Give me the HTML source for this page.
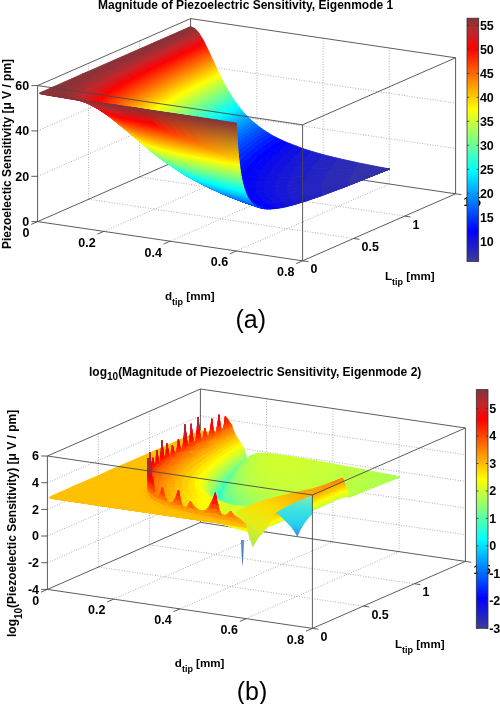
<!DOCTYPE html>
<html><head><meta charset="utf-8"><title>Piezoelectric Sensitivity</title>
<style>
html,body{margin:0;padding:0;background:#fff;width:500px;height:704px;overflow:hidden}
svg{display:block}
g path{fill:currentColor;stroke:currentColor;stroke-width:4.5;stroke-linejoin:round}
.b{stroke:#4a4a4a;stroke-width:.9}
.g{stroke:#8c8c8c;stroke-width:.7;stroke-dasharray:1 1.6}
.t{stroke:#333;stroke-width:.8}
.cb{stroke:#333;stroke-width:.8}
text{font-family:"Liberation Sans",Arial,sans-serif;font-weight:bold;fill:#000}
.tk{font-size:12.5px}
.ti{font-size:12px}
.lb{font-size:11.6px}
.zl{font-size:12px}
.sub{font-size:9px}
.sub2{font-size:10px}
.pl{font-family:"Liberation Sans",sans-serif;font-weight:normal;font-size:25px;text-anchor:middle}
</style></head><body>
<svg width="500" height="704" viewBox="0 0 500 704">
<line class="g" x1="103.8" y1="231.4" x2="256.9" y2="164.4"/>
<line class="g" x1="170.1" y1="241.2" x2="323.1" y2="174.2"/>
<line class="g" x1="236.3" y1="251" x2="389.3" y2="184"/>
<line class="g" x1="88.6" y1="199.3" x2="353.6" y2="238.5"/>
<line class="g" x1="139.6" y1="176.9" x2="404.6" y2="216.1"/>
<line class="g" x1="256.9" y1="164.4" x2="256.9" y2="28.4"/>
<line class="g" x1="323.1" y1="174.2" x2="323.1" y2="38.2"/>
<line class="g" x1="389.3" y1="184" x2="389.3" y2="48"/>
<line class="g" x1="190.6" y1="109.3" x2="455.6" y2="148.5"/>
<line class="g" x1="190.6" y1="63.9" x2="455.6" y2="103.1"/>
<line class="g" x1="88.6" y1="199.3" x2="88.6" y2="63.3"/>
<line class="g" x1="139.6" y1="176.9" x2="139.6" y2="40.9"/>
<line class="g" x1="37.6" y1="176.3" x2="190.6" y2="109.3"/>
<line class="g" x1="37.6" y1="130.9" x2="190.6" y2="63.9"/>
<line class="b" x1="37.6" y1="221.6" x2="190.6" y2="154.6"/>
<line class="b" x1="190.6" y1="154.6" x2="455.6" y2="193.8"/>
<line class="b" x1="190.6" y1="154.6" x2="190.6" y2="18.6"/>
<line class="b" x1="190.6" y1="18.6" x2="455.6" y2="57.8"/>
<line class="b" x1="37.6" y1="85.6" x2="190.6" y2="18.6"/>
<line class="b" x1="455.6" y1="193.8" x2="455.6" y2="57.8"/>
<g transform="scale(.2)"><path color=#0505f6 d="M1424 708l27 11-52 39-33-8z"/>
<path color=#0002ff d="M1400 697l24 11-58 42-29-9z"/>
<path color=#0b0bec d="M1451 719l32 12-46 37-38-10z"/>
<path color=#000fff d="M1378 686l22 11-63 44-26-8z"/>
<path color=#001dff d="M1359 676l19 10-67 47-24-8z"/>
<path color=#1111e2 d="M1483 731l37 14-39 32-44-9z"/>
<path color=#002aff d="M1342 665l17 11-72 49-21-8z"/>
<path color=#0038ff d="M1327 656l15 9-76 52-20-8z"/>
<path color=#1717d8 d="M1520 745l45 14-32 28-52-10z"/>
<path color=#0045ff d="M1312 646l15 10-81 53-18-8z"/>
<path color=#0052ff d="M1299 636l13 10-84 55-17-8z"/>
<path color=#1d1dce d="M1565 759l57 16-26 23-63-11z"/>
<path color=#0060ff d="M1287 627l12 9-88 57-16-8z"/>
<path color=#006dff d="M1276 618l11 9-92 58-15-7z"/>
<path color=#007bff d="M1265 609l11 9-96 60-14-8z"/>
<path color=#2424c2 d="M1622 775l73 18-17 18-82-13z"/>
<path color=#0088ff d="M1255 600l10 9-99 61-14-8z"/>
<path color=#0095ff d="M1246 591l9 9-103 62-12-7z"/>
<path color=#00a3ff d="M1237 582l9 9-106 64-12-8z"/>
<path color=#2a2ab6 d="M1695 793l100 22-8 11-109-15z"/>
<path color=#00b0ff d="M1228 573l9 9-109 65-12-7z"/>
<path color=#00beff d="M1220 564l8 9-112 67-11-8z"/>
<path color=#00cbff d="M1213 556l7 8-115 68-11-7z"/>
<path color=#00d8ff d="M1205 547l8 9-119 69-10-8z"/>
<path color=#00e6ff d="M1199 539l6 8-121 70-10-7z"/>
<path color=#00f3ff d="M1192 530l7 9-125 71-9-7z"/>
<path color=#3131aa d="M1795 815l152 30 0 0-160-19z"/>
<path color=#01fffe d="M1186 522l6 8-127 73-9-8z"/>
<path color=#2424c2 d="M1596 798l82 13-16 17-87-7z"/>
<path color=#2a2ab6 d="M1678 811l109 15-8 10-117-8z"/>
<path color=#0ffff0 d="M1179 513l7 9-130 73-9-7z"/>
<path color=#1d1dce d="M1533 787l63 11-21 23-70-7z"/>
<path color=#1717d8 d="M1481 777l52 10-28 27-57-7z"/>
<path color=#1cffe3 d="M1173 505l6 8-132 75-9-7z"/>
<path color=#3131aa d="M1787 826l160 19 0 0-168-9z"/>
<path color=#1111e2 d="M1437 768l44 9-33 30-49-6z"/>
<path color=#2affd5 d="M1168 496l5 9-135 76-9-8z"/>
<path color=#0b0bec d="M1399 758l38 10-38 33-42-7z"/>
<path color=#37ffc8 d="M1162 488l6 8-139 77-8-7z"/>
<path color=#3131aa d="M1779 836l168 9 0 0-176 1z"/>
<path color=#0505f6 d="M1366 750l33 8-42 36-36-6z"/>
<path color=#44ffbb d="M1157 480l5 8-141 78-8-7z"/>
<path color=#0002ff d="M1337 741l29 9-45 38-33-7z"/>
<path color=#52ffad d="M1152 471l5 9-144 79-8-8z"/>
<path color=#3131aa d="M1771 846l176-1 0 0-183 11z"/>
<path color=#000fff d="M1311 733l26 8-49 40-30-6z"/>
<path color=#5fffa0 d="M1147 463l5 8-147 80-8-7z"/>
<path color=#2a2ab6 d="M1662 828l117 8-8 10-122-1z"/>
<path color=#6dff92 d="M1142 455l5 8-150 81-7-7z"/>
<path color=#001dff d="M1287 725l24 8-53 42-27-7z"/>
<path color=#3131aa d="M1764 856l183-11 0 0-189 20z"/>
<path color=#7aff85 d="M1137 446l5 9-152 82-8-7z"/>
<path color=#002aff d="M1266 717l21 8-56 43-24-6z"/>
<path color=#2424c2 d="M1575 821l87 7-13 17-93-2z"/>
<path color=#87ff78 d="M1132 438l5 8-155 84-7-8z"/>
<path color=#0038ff d="M1246 709l20 8-59 45-23-7z"/>
<path color=#95ff6a d="M1128 430l4 8-157 84-7-7z"/>
<path color=#3131aa d="M1758 865l189-20 0 0-194 30z"/>
<path color=#0045ff d="M1228 701l18 8-62 46-21-7z"/>
<path color=#1d1dce d="M1505 814l70 7-19 22-74-4z"/>
<path color=#a2ff5d d="M1123 422l5 8-160 85-7-7z"/>
<path color=#0052ff d="M1211 693l17 8-65 47-19-6z"/>
<path color=#2a2ab6 d="M1649 845l122 1-7 10-127 5z"/>
<path color=#b0ff4f d="M1119 414l4 8-162 86-7-7z"/>
<path color=#3131aa d="M1753 875l194-30 0 0-199 39z"/>
<path color=#bdff42 d="M1114 405l5 9-165 87-7-7z"/>
<path color=#1717d8 d="M1448 807l57 7-23 25-61-3z"/>
<path color=#0060ff d="M1195 685l16 8-67 49-19-7z"/>
<path color=#caff35 d="M1110 397l4 8-167 89-7-7z"/>
<path color=#3131aa d="M1748 884l199-39 0 0-203 48z"/>
<path color=#006dff d="M1180 678l15 7-70 50-17-6z"/>
<path color=#d8ff27 d="M1106 389l4 8-170 90-7-8z"/>
<path color=#1111e2 d="M1399 801l49 6-27 29-51-4z"/>
<path color=#007bff d="M1166 670l14 8-72 51-17-7z"/>
<path color=#3131aa d="M1744 893l203-48 0 0-207 57z"/>
<path color=#e5ff1a d="M1102 381l4 8-173 90-7-7z"/>
<path color=#2424c2 d="M1556 843l93 2-12 16-96 2z"/>
<path color=#0088ff d="M1152 662l14 8-75 52-15-7z"/>
<path color=#f3ff0c d="M1098 373l4 8-176 91-7-7z"/>
<path color=#0b0bec d="M1357 794l42 7-29 31-45-5z"/>
<path color=#2a2ab6 d="M1637 861l127-5-6 9-131 11z"/>
<path color=#3131aa d="M1740 902l207-57 0 0-210 66z"/>
<path color=#0095ff d="M1140 655l12 7-76 53-15-6z"/>
<path color=#fffe00 d="M1094 365l4 8-179 92-6-7z"/>
<path color=#0505f6 d="M1321 788l36 6-32 33-40-5z"/>
<path color=#3131aa d="M1737 911l210-66 0 0-211 69z"/>
<path color=#fff100 d="M1090 357l4 8-181 93-7-7z"/>
<path color=#00a3ff d="M1128 647l12 8-79 54-14-7z"/>
<path color=#3131aa d="M1736 914l211-69 0 0-212 71z"/>
<path color=#ffe300 d="M1086 348l4 9-184 94-7-7z"/>
<path color=#3131aa d="M1735 916l212-71 0 0-213 74z"/>
<path color=#00b0ff d="M1116 640l12 7-81 55-14-7z"/>
<path color=#1d1dce d="M1482 839l74 4-15 20-77 0z"/>
<path color=#3131aa d="M1734 919l213-74 0 0-213 77z"/>
<path color=#0002ff d="M1288 781l33 7-36 34-35-5z"/>
<path color=#3131aa d="M1734 922l213-77 0 0-214 77z"/>
<path color=#ffd600 d="M1082 340l4 8-187 96-7-7z"/>
<path color=#3131aa d="M1733 922l214-77 0 0-214 78z"/>
<path color=#3131aa d="M1733 923l214-78 0 0-214 79z"/>
<path color=#3131aa d="M1733 924l214-79 0 0-214 80z"/>
<path color=#00beff d="M1105 632l11 8-83 55-13-6z"/>
<path color=#3131aa d="M1733 925l214-80 0 0-214 80z"/>
<path color=#3131aa d="M1733 925l214-80 0 0-214 81z"/>
<path color=#3131aa d="M1733 926l214-81 0 0-215 82z"/>
<path color=#ffc900 d="M1079 332l3 8-190 97-6-7z"/>
<path color=#3131aa d="M1732 927l215-82 0 0-215 83z"/>
<path color=#3131aa d="M1732 928l215-83 0 0-215 83z"/>
<path color=#3131aa d="M1732 928l215-83 0 0-215 84z"/>
<path color=#000fff d="M1258 775l30 6-38 36-32-5z"/>
<path color=#2a2ab6 d="M1627 876l131-11-5 10-133 17z"/>
<path color=#3131aa d="M1732 929l215-84 0 0-215 85z"/>
<path color=#3131aa d="M1732 930l215-85 0 0-215 86z"/>
<path color=#00cbff d="M1094 625l11 7-85 57-12-7z"/>
<path color=#3131aa d="M1732 931l215-86 0 0-215 86z"/>
<path color=#3131aa d="M1732 931l215-86 0 0-216 87z"/>
<path color=#ffbb00 d="M1075 324l4 8-193 98-7-7z"/>
<path color=#1717d8 d="M1421 836l61 3-18 24-63-1z"/>
<path color=#00d8ff d="M1084 617l10 8-86 57-12-7z"/>
<path color=#ffae00 d="M1071 316l4 8-196 99-7-7z"/>
<path color=#2424c2 d="M1541 863l96-2-10 15-98 7z"/>
<path color=#001dff d="M1231 768l27 7-40 37-28-5z"/>
<path color=#ffa000 d="M1067 308l4 8-199 100-7-7z"/>
<path color=#00e6ff d="M1074 610l10 7-88 58-12-6z"/>
<path color=#002aff d="M1207 762l24 6-41 39-27-6z"/>
<path color=#ff9300 d="M1064 300l3 8-202 101-7-7z"/>
<path color=#00f3ff d="M1065 603l9 7-90 59-11-7z"/>
<path color=#1111e2 d="M1370 832l51 4-20 26-54-2z"/>
<path color=#ff8600 d="M1060 292l4 8-206 102-7-7z"/>
<path color=#2a2ab6 d="M1620 892l133-17-5 9-135 22z"/>
<path color=#0038ff d="M1184 755l23 7-44 39-24-5z"/>
<path color=#01fffe d="M1056 595l9 8-92 59-11-7z"/>
<path color=#ff7800 d="M1056 284l4 8-209 103-7-6z"/>
<path color=#0ffff0 d="M1047 588l9 7-94 60-11-7z"/>
<path color=#0045ff d="M1163 748l21 7-45 41-23-6z"/>
<path color=#ff6b00 d="M1052 276l4 8-212 105-7-7z"/>
<path color=#1d1dce d="M1464 863l77 0-12 20-78 3z"/>
<path color=#0b0bec d="M1325 827l45 5-23 28-46-3z"/>
<path color=#1cffe3 d="M1038 581l9 7-96 60-10-6z"/>
<path color=#ff5d00 d="M1049 268l3 8-215 106-8-7z"/>
<path color=#0052ff d="M1144 742l19 6-47 42-21-6z"/>
<path color=#2424c2 d="M1529 883l98-7-7 16-100 9z"/>
<path color=#2affd5 d="M1029 573l9 8-97 61-10-7z"/>
<path color=#ff5000 d="M1045 259l4 9-220 107-7-7z"/>
<path color=#0505f6 d="M1285 822l40 5-24 30-41-3z"/>
<path color=#0060ff d="M1125 735l19 7-49 42-20-6z"/>
<path color=#2a2ab6 d="M1613 906l135-22-4 9-135 27z"/>
<path color=#ff4300 d="M1041 251l4 8-223 109-8-6z"/>
<path color=#37ffc8 d="M1021 566l8 7-98 62-10-7z"/>
<path color=#ff3500 d="M1037 243l4 8-227 111-8-7z"/>
<path color=#006dff d="M1108 729l17 6-50 43-19-6z"/>
<path color=#44ffbb d="M1013 559l8 7-100 62-10-6z"/>
<path color=#1717d8 d="M1401 862l63 1-13 23-65 1z"/>
<path color=#0002ff d="M1250 817l35 5-25 32-37-4z"/>
<path color=#ff2800 d="M1033 235l4 8-231 112-8-6z"/>
<path color=#52ffad d="M1005 551l8 8-102 63-9-7z"/>
<path color=#007bff d="M1091 722l17 7-52 43-17-6z"/>
<path color=#ff1a00 d="M1029 227l4 8-235 114-9-7z"/>
<path color=#5fffa0 d="M997 544l8 7-103 64-9-7z"/>
<path color=#0088ff d="M1076 715l15 7-52 44-17-6z"/>
<path color=#000fff d="M1218 812l32 5-27 33-33-4z"/>
<path color=#ff0d00 d="M1025 219l4 8-240 115-9-6z"/>
<path color=#2a2ab6 d="M1609 920l135-27-4 9-134 32z"/>
<path color=#6dff92 d="M990 537l7 7-104 64-9-7z"/>
<path color=#1111e2 d="M1347 860l54 2-15 25-54-1z"/>
<path color=#1d1dce d="M1451 886l78-3-9 18-79 6z"/>
<path color=#2424c2 d="M1520 901l100-9-7 14-99 13z"/>
<path color=#ff0000 d="M1021 211l4 8-245 117-10-6z"/>
<path color=#0095ff d="M1061 709l15 6-54 45-16-6z"/>
<path color=#7aff85 d="M982 530l8 7-106 64-9-6z"/>
<path color=#001dff d="M1190 807l28 5-28 34-29-5z"/>
<path color=#f20809 d="M1017 202l4 9-251 119-10-6z"/>
<path color=#00a3ff d="M1047 702l14 7-55 45-16-6z"/>
<path color=#87ff78 d="M975 522l7 8-107 65-9-7z"/>
<path color=#e51012 d="M1012 194l5 8-257 122-11-6z"/>
<path color=#002aff d="M1163 801l27 6-29 34-28-4z"/>
<path color=#0b0bec d="M1301 857l46 3-15 26-47-1z"/>
<path color=#00b0ff d="M1033 695l14 7-57 46-14-6z"/>
<path color=#95ff6a d="M968 515l7 7-109 66-9-7z"/>
<path color=#2a2ab6 d="M1606 934l134-32-3 9-132 36z"/>
<path color=#d9171b d="M1007 186l5 8-263 124-12-5z"/>
<path color=#a2ff5d d="M961 508l7 7-111 66-8-6z"/>
<path color=#00beff d="M1020 689l13 6-57 47-14-6z"/>
<path color=#cc1f24 d="M1002 178l5 8-270 127-13-6z"/>
<path color=#0038ff d="M1139 796l24 5-30 36-25-5z"/>
<path color=#1717d8 d="M1386 887l65-1-10 21-64 3z"/>
<path color=#b0ff4f d="M954 501l7 7-112 67-9-7z"/>
<path color=#00cbff d="M1008 682l12 7-58 47-14-7z"/>
<path color=#0505f6 d="M1260 854l41 3-16 28-42-2z"/>
<path color=#bf262c d="M997 169l5 9-278 129-16-4z"/>
<path color=#2424c2 d="M1514 919l99-13-4 14-98 16z"/>
<path color=#2a2ab6 d="M1605 947l132-36-1 3-131 37z"/>
<path color=#0045ff d="M1116 790l23 6-31 36-24-5z"/>
<path color=#bdff42 d="M947 494l7 7-114 67-8-7z"/>
<path color=#00d8ff d="M996 675l12 7-60 47-13-6z"/>
<path color=#1d1dce d="M1441 907l79-6-6 18-78 8z"/>
<path color=#2a2ab6 d="M1605 951l131-37-1 2-130 39z"/>
<path color=#b2292f d="M991 161l6 8-289 134-18-4z"/>
<path color=#caff35 d="M940 487l7 7-115 67-9-6z"/>
<path color=#0052ff d="M1095 784l21 6-32 37-21-6z"/>
<path color=#00e6ff d="M984 669l12 6-61 48-12-6z"/>
<path color=#0002ff d="M1223 850l37 4-17 29-37-3z"/>
<path color=#2a2ab6 d="M1605 955l130-39-1 3-129 40z"/>
<path color=#d8ff27 d="M933 479l7 8-117 68-8-7z"/>
<path color=#a52c31 d="M984 152l7 9-301 138-23-2z"/>
<path color=#1111e2 d="M1332 886l54 1-9 23-54 1z"/>
<path color=#00f3ff d="M973 662l11 7-61 48-13-7z"/>
<path color=#2a2ab6 d="M1605 959l129-40 0 3-129 41z"/>
<path color=#0060ff d="M1075 778l20 6-32 37-21-5z"/>
<path color=#e5ff1a d="M926 472l7 7-118 69-8-7z"/>
<path color=#2a2ab6 d="M1605 963l129-41-1 0-128 42z"/>
<path color=#000fff d="M1190 846l33 4-17 30-33-4z"/>
<path color=#2a2ab6 d="M1605 964l128-42 0 1-127 42z"/>
<path color=#982f34 d="M974 143l10 9-317 145-36 1z"/>
<path color=#01fffe d="M962 655l11 7-63 48-12-6z"/>
<path color=#f3ff0c d="M919 465l7 7-119 69-8-6z"/>
<path color=#2a2ab6 d="M1606 965l127-42 0 1-127 42z"/>
<path color=#006dff d="M1056 772l19 6-33 38-19-5z"/>
<path color=#2a2ab6 d="M1606 966l127-42 0 1-127 43z"/>
<path color=#2424c2 d="M1511 936l98-16-3 14-96 19z"/>
<path color=#2a2ab6 d="M1606 968l127-43 0 0-127 44z"/>
<path color=#0ffff0 d="M951 648l11 7-64 49-11-6z"/>
<path color=#2a2ab6 d="M1606 969l127-44 0 1-127 44z"/>
<path color=#fffe00 d="M913 458l6 7-120 70-9-7z"/>
<path color=#2a2ab6 d="M1606 970l127-44-1 1-126 44z"/>
<path color=#0b0bec d="M1285 885l47 1-9 25-47 0z"/>
<path color=#2a2ab6 d="M1606 971l126-44 0 1-125 44z"/>
<path color=#1717d8 d="M1377 910l64-3-5 20-63 5z"/>
<path color=#007bff d="M1039 766l17 6-33 39-19-6z"/>
<path color=#001dff d="M1161 841l29 5-17 30-30-3z"/>
<path color=#2a2ab6 d="M1607 972l125-44 0 0-125 45z"/>
<path color=#fff100 d="M906 451l7 7-123 70-8-7z"/>
<path color=#1cffe3 d="M941 642l10 6-64 50-11-7z"/>
<path color=#2a2ab6 d="M1607 973l125-45 0 1-125 45z"/>
<path color=#2a2ab6 d="M1607 974l125-45 0 1-125 45z"/>
<path color=#1d1dce d="M1436 927l78-8-3 17-76 10z"/>
<path color=#2a2ab6 d="M1607 975l125-45 0 1-124 45z"/>
<path color=#0088ff d="M1022 760l17 6-35 39-17-6z"/>
<path color=#2a2ab6 d="M1608 976l124-45 0 0-124 46z"/>
<path color=#ffe300 d="M899 444l7 7-124 70-8-6z"/>
<path color=#2affd5 d="M931 635l10 7-65 49-11-6z"/>
<path color=#2a2ab6 d="M1608 977l124-46-1 1-123 47z"/>
<path color=#002aff d="M1133 837l28 4-18 32-27-5z"/>
<path color=#ffd600 d="M892 437l7 7-125 71-8-7z"/>
<path color=#0505f6 d="M1243 883l42 2-9 26-41-2z"/>
<path color=#37ffc8 d="M921 628l10 7-66 50-11-7z"/>
<path color=#0095ff d="M1006 754l16 6-35 39-17-6z"/>
<path color=#ffc900 d="M886 430l6 7-126 71-8-6z"/>
<path color=#2424c2 d="M1510 953l96-19-1 13-93 22z"/>
<path color=#0038ff d="M1108 832l25 5-17 31-26-4z"/>
<path color=#44ffbb d="M911 622l10 6-67 50-10-6z"/>
<path color=#00a3ff d="M990 748l16 6-36 39-15-6z"/>
<path color=#1111e2 d="M1323 911l54-1-4 22-53 2z"/>
<path color=#ffbb00 d="M879 423l7 7-128 72-9-7z"/>
<path color=#52ffad d="M902 615l9 7-67 50-10-7z"/>
<path color=#0002ff d="M1206 880l37 3-8 26-36-2z"/>
<path color=#00b0ff d="M976 742l14 6-35 39-15-5z"/>
<path color=#0045ff d="M1084 827l24 5-18 32-23-5z"/>
<path color=#ffae00 d="M872 416l7 7-130 72-8-6z"/>
<path color=#8b3237 d="M953 133l21 10-343 155-221 73z"/>
<path color=#5fffa0 d="M893 608l9 7-68 50-11-6z"/>
<path color=#00beff d="M962 736l14 6-36 40-15-6z"/>
<path color=#1717d8 d="M1373 932l63-5-1 19-62 6z"/>
<path color=#2424c2 d="M1512 969l93-22 0 4-92 23z"/>
<path color=#ffa000 d="M865 409l7 7-131 73-8-7z"/>
<path color=#1d1dce d="M1435 946l76-10-1 17-73 12z"/>
<path color=#0052ff d="M1063 821l21 6-17 32-22-5z"/>
<path color=#6dff92 d="M884 601l9 7-70 51-9-6z"/>
<path color=#000fff d="M1173 876l33 4-7 27-33-3z"/>
<path color=#0b0bec d="M1276 911l47 0-3 23-46 1z"/>
<path color=#00cbff d="M948 729l14 7-37 40-14-7z"/>
<path color=#ff9300 d="M858 402l7 7-132 73-9-6z"/>
<path color=#2424c2 d="M1513 974l92-23 0 4-90 23z"/>
<path color=#7aff85 d="M875 595l9 6-70 52-10-7z"/>
<path color=#0060ff d="M1042 816l21 5-18 33-21-5z"/>
<path color=#ff8600 d="M851 395l7 7-134 74-8-7z"/>
<path color=#00d8ff d="M935 723l13 6-37 40-13-6z"/>
<path color=#87ff78 d="M866 588l9 7-71 51-10-6z"/>
<path color=#2424c2 d="M1515 978l90-23 0 4-89 24z"/>
<path color=#001dff d="M1143 873l30 3-7 28-30-3z"/>
<path color=#ff7800 d="M844 389l7 6-135 74-9-6z"/>
<path color=#006dff d="M1023 811l19 5-18 33-19-5z"/>
<path color=#00e6ff d="M923 717l12 6-37 40-13-6z"/>
<path color=#95ff6a d="M857 581l9 7-72 52-9-7z"/>
<path color=#0505f6 d="M1235 909l41 2-2 24-40-1z"/>
<path color=#2424c2 d="M1516 983l89-24 0 4-87 25z"/>
<path color=#ff6b00 d="M837 382l7 7-137 74-9-6z"/>
<path color=#1111e2 d="M1320 934l53-2 0 20-51 4z"/>
<path color=#00f3ff d="M910 710l13 7-38 40-13-6z"/>
<path color=#a2ff5d d="M849 575l8 6-72 52-9-6z"/>
<path color=#007bff d="M1004 805l19 6-18 33-18-6z"/>
<path color=#002aff d="M1116 868l27 5-7 28-27-4z"/>
<path color=#2424c2 d="M1518 988l87-25 0 1-86 25z"/>
<path color=#ff5d00 d="M829 375l8 7-139 75-9-6z"/>
<path color=#2424c2 d="M1519 989l86-25 1 1-87 25z"/>
<path color=#1d1dce d="M1437 965l73-12 2 16-69 13z"/>
<path color=#b0ff4f d="M840 568l9 7-73 52-9-7z"/>
<path color=#2424c2 d="M1519 990l87-25 0 1-86 26z"/>
<path color=#01fffe d="M898 704l12 6-38 41-12-6z"/>
<path color=#1717d8 d="M1373 952l62-6 2 19-59 7z"/>
<path color=#0088ff d="M987 799l17 6-17 33-18-5z"/>
<path color=#2424c2 d="M1520 992l86-26 0 2-85 25z"/>
<path color=#ff5000 d="M822 368l7 7-140 76-9-7z"/>
<path color=#2424c2 d="M1521 993l85-25 0 1-85 25z"/>
<path color=#0002ff d="M1199 907l36 2-1 25-35-2z"/>
<path color=#0038ff d="M1090 864l26 4-7 29-24-4z"/>
<path color=#bdff42 d="M832 561l8 7-73 52-10-7z"/>
<path color=#2424c2 d="M1521 994l85-25 0 1-84 26z"/>
<path color=#0ffff0 d="M887 698l11 6-38 41-12-7z"/>
<path color=#2424c2 d="M1522 996l84-26 0 1-83 26z"/>
<path color=#0095ff d="M970 793l17 6-18 34-16-6z"/>
<path color=#ff4300 d="M814 362l8 6-142 76-10-6z"/>
<path color=#2424c2 d="M1523 997l83-26 1 1-83 26z"/>
<path color=#caff35 d="M823 555l9 6-75 52-9-6z"/>
<path color=#0b0bec d="M1274 935l46-1 2 22-43 1z"/>
<path color=#2424c2 d="M1524 998l83-26 0 1-83 27z"/>
<path color=#1cffe3 d="M876 691l11 7-39 40-11-6z"/>
<path color=#0045ff d="M1067 859l23 5-5 29-23-5z"/>
<path color=#2424c2 d="M1524 1000l83-27 0 1-82 27z"/>
<path color=#ff3500 d="M806 355l8 7-144 76-10-6z"/>
<path color=#2424c2 d="M1525 1001l82-27 0 1-81 27z"/>
<path color=#1d1dce d="M1443 982l69-13 1 5-68 14z"/>
<path color=#00a3ff d="M955 787l15 6-17 34-16-6z"/>
<path color=#d8ff27 d="M815 548l8 7-75 52-8-7z"/>
<path color=#000fff d="M1166 904l33 3 0 25-31-2z"/>
<path color=#2424c2 d="M1526 1002l81-27 1 1-81 27z"/>
<path color=#2affd5 d="M865 685l11 6-39 41-11-6z"/>
<path color=#2424c2 d="M1527 1003l81-27 0 1-81 28z"/>
<path color=#2424c2 d="M1527 1005l81-28 0 2-80 27z"/>
<path color=#ff2800 d="M798 349l8 6-146 77-10-6z"/>
<path color=#0052ff d="M1045 854l22 5-5 29-22-5z"/>
<path color=#e5ff1a d="M807 541l8 7-75 52-9-6z"/>
<path color=#00b0ff d="M940 782l15 5-18 34-15-5z"/>
<path color=#37ffc8 d="M854 678l11 7-39 41-11-7z"/>
<path color=#1d1dce d="M1445 988l68-14 2 4-67 15z"/>
<path color=#1111e2 d="M1322 956l51-4 5 20-48 4z"/>
<path color=#f3ff0c d="M799 535l8 6-76 53-9-7z"/>
<path color=#ff1a00 d="M789 342l9 7-148 77-10-6z"/>
<path color=#001dff d="M1136 901l30 3 2 26-29-3z"/>
<path color=#0505f6 d="M1234 934l40 1 5 22-38 0z"/>
<path color=#00beff d="M925 776l15 6-18 34-14-6z"/>
<path color=#44ffbb d="M844 672l10 6-39 41-11-6z"/>
<path color=#0060ff d="M1024 849l21 5-5 29-20-5z"/>
<path color=#1717d8 d="M1378 972l59-7 6 17-55 9z"/>
<path color=#1d1dce d="M1448 993l67-15 1 5-65 15z"/>
<path color=#fffe00 d="M790 528l9 7-77 52-9-6z"/>
<path color=#ff0d00 d="M780 336l9 6-149 78-12-5z"/>
<path color=#52ffad d="M834 665l10 7-40 41-11-6z"/>
<path color=#00cbff d="M911 769l14 7-17 34-14-6z"/>
<path color=#006dff d="M1005 844l19 5-4 29-19-5z"/>
<path color=#fff100 d="M782 521l8 7-77 53-9-7z"/>
<path color=#002aff d="M1109 897l27 4 3 26-25-4z"/>
<path color=#1d1dce d="M1451 998l65-15 2 5-63 15z"/>
<path color=#ff0000 d="M770 330l10 6-152 79-11-6z"/>
<path color=#5fffa0 d="M823 659l11 6-41 42-10-7z"/>
<path color=#00d8ff d="M898 763l13 6-17 35-14-7z"/>
<path color=#0002ff d="M1199 932l35 2 7 23-33-2z"/>
<path color=#ffe300 d="M774 515l8 6-78 53-9-6z"/>
<path color=#1d1dce d="M1455 1003l63-15 1 1-63 16z"/>
<path color=#007bff d="M987 838l18 6-4 29-18-5z"/>
<path color=#0b0bec d="M1279 957l43-1 8 20-40 2z"/>
<path color=#6dff92 d="M814 653l9 6-40 41-10-6z"/>
<path color=#1d1dce d="M1456 1005l63-16 0 1-62 16z"/>
<path color=#f20809 d="M760 324l10 6-153 79-13-5z"/>
<path color=#00e6ff d="M885 757l13 6-18 34-12-6z"/>
<path color=#0038ff d="M1085 893l24 4 5 26-24-4z"/>
<path color=#1d1dce d="M1457 1006l62-16 1 2-62 15z"/>
<path color=#1717d8 d="M1388 991l55-9 2 6-53 8z"/>
<path color=#ffd600 d="M766 508l8 7-79 53-8-6z"/>
<path color=#1d1dce d="M1458 1007l62-15 1 1-62 16z"/>
<path color=#7aff85 d="M804 646l10 7-41 41-10-7z"/>
<path color=#0088ff d="M969 833l18 5-4 30-16-6z"/>
<path color=#1d1dce d="M1459 1009l62-16 0 1-60 16z"/>
<path color=#00f3ff d="M872 751l13 6-17 34-13-6z"/>
<path color=#e51012 d="M749 318l11 6-156 80-13-6z"/>
<path color=#ffc900 d="M758 502l8 6-79 54-9-7z"/>
<path color=#1d1dce d="M1461 1010l60-16 1 2-60 16z"/>
<path color=#000fff d="M1168 930l31 2 9 23-30-2z"/>
<path color=#1111e2 d="M1330 976l48-4 10 19-44 4z"/>
<path color=#0045ff d="M1062 888l23 5 5 26-22-4z"/>
<path color=#1d1dce d="M1462 1012l60-16 1 1-60 16z"/>
<path color=#87ff78 d="M794 640l10 6-41 41-9-6z"/>
<path color=#1717d8 d="M1392 996l53-8 3 5-52 9z"/>
<path color=#0095ff d="M953 827l16 6-2 29-16-5z"/>
<path color=#1d1dce d="M1463 1013l60-16 1 1-60 17z"/>
<path color=#01fffe d="M860 745l12 6-17 34-12-6z"/>
<path color=#ffbb00 d="M749 495l9 7-80 53-9-6z"/>
<path color=#d9171b d="M737 313l12 5-158 80-15-4z"/>
<path color=#1d1dce d="M1464 1015l60-17 0 2-58 16z"/>
<path color=#0505f6 d="M1241 957l38 0 11 21-35 0z"/>
<path color=#95ff6a d="M785 633l9 7-40 41-10-7z"/>
<path color=#1d1dce d="M1466 1016l58-16 1 1-58 16z"/>
<path color=#0ffff0 d="M848 738l12 7-17 34-12-6z"/>
<path color=#0052ff d="M1040 883l22 5 6 27-20-5z"/>
<path color=#1d1dce d="M1467 1017l58-16 1 1-58 17z"/>
<path color=#ffae00 d="M741 489l8 6-80 54-9-7z"/>
<path color=#00a3ff d="M937 821l16 6-2 30-16-6z"/>
<path color=#1717d8 d="M1396 1002l52-9 3 5-50 9z"/>
<path color=#001dff d="M1139 927l29 3 10 23-26-3z"/>
<path color=#1d1dce d="M1468 1019l58-17 1 1-57 17z"/>
<path color=#a2ff5d d="M776 627l9 6-41 41-10-6z"/>
<path color=#cc1f24 d="M724 307l13 6-161 81-16-5z"/>
<path color=#1d1dce d="M1470 1020l57-17 0 2-56 17z"/>
<path color=#1cffe3 d="M837 732l11 6-17 35-11-7z"/>
<path color=#ffa000 d="M733 482l8 7-81 53-9-6z"/>
<path color=#1d1dce d="M1471 1022l56-17 1 1-56 17z"/>
<path color=#00b0ff d="M922 816l15 5-2 30-14-6z"/>
<path color=#0060ff d="M1020 878l20 5 8 27-20-5z"/>
<path color=#b0ff4f d="M767 620l9 7-42 41-9-7z"/>
<path color=#1717d8 d="M1401 1007l50-9 4 5-49 10z"/>
<path color=#1111e2 d="M1344 995l44-4 4 5-43 5z"/>
<path color=#2affd5 d="M826 726l11 6-17 34-11-6z"/>
<path color=#0b0bec d="M1290 978l40-2 14 19-37 3z"/>
<path color=#ff9300 d="M724 476l9 6-82 54-9-7z"/>
<path color=#002aff d="M1114 923l25 4 13 23-24-3z"/>
<path color=#0002ff d="M1208 955l33 2 14 21-31-1z"/>
<path color=#bf262c d="M708 303l16 4-164 82-18-4z"/>
<path color=#00beff d="M908 810l14 6-1 29-14-6z"/>
<path color=#bdff42 d="M757 613l10 7-42 41-9-6z"/>
<path color=#1717d8 d="M1406 1013l49-10 1 2-48 9z"/>
<path color=#006dff d="M1001 873l19 5 8 27-17-5z"/>
<path color=#1717d8 d="M1408 1014l48-9 1 1-48 10z"/>
<path color=#37ffc8 d="M815 719l11 7-17 34-11-7z"/>
<path color=#ff8600 d="M716 469l8 7-82 53-9-6z"/>
<path color=#1717d8 d="M1409 1016l48-10 1 1-47 10z"/>
<path color=#1111e2 d="M1349 1001l43-5 4 6-41 5z"/>
<path color=#caff35 d="M748 607l9 6-41 42-9-7z"/>
<path color=#00cbff d="M894 804l14 6-1 29-13-6z"/>
<path color=#1717d8 d="M1411 1017l47-10 1 2-46 10z"/>
<path color=#0038ff d="M1090 919l24 4 14 24-23-4z"/>
<path color=#b2292f d="M690 299l18 4-166 82-22-3z"/>
<path color=#44ffbb d="M804 713l11 6-17 34-10-6z"/>
<path color=#ff7800 d="M707 463l9 6-83 54-9-6z"/>
<path color=#007bff d="M983 868l18 5 10 27-17-6z"/>
<path color=#1717d8 d="M1413 1019l46-10 2 1-47 10z"/>
<path color=#d8ff27 d="M740 600l8 7-41 41-9-6z"/>
<path color=#000fff d="M1178 953l30 2 16 22-27-2z"/>
<path color=#1717d8 d="M1414 1020l47-10 1 2-46 10z"/>
<path color=#00d8ff d="M880 797l14 7 0 29-13-6z"/>
<path color=#1111e2 d="M1355 1007l41-5 5 5-40 6z"/>
<path color=#1717d8 d="M1416 1022l46-10 1 1-45 10z"/>
<path color=#52ffad d="M793 707l11 6-16 34-11-7z"/>
<path color=#ff6b00 d="M698 457l9 6-83 54-10-7z"/>
<path color=#0505f6 d="M1255 978l35 0 17 20-32 0z"/>
<path color=#e5ff1a d="M731 594l9 6-42 42-9-7z"/>
<path color=#1717d8 d="M1418 1023l45-10 1 2-44 10z"/>
<path color=#0088ff d="M967 862l16 6 11 26-16-5z"/>
<path color=#0045ff d="M1068 915l22 4 15 24-20-4z"/>
<path color=#0b0bec d="M1307 998l37-3 5 6-36 3z"/>
<path color=#00e6ff d="M868 791l12 6 1 30-13-6z"/>
<path color=#1717d8 d="M1420 1025l44-10 2 1-45 10z"/>
<path color=#a52c31 d="M667 297l23 2-170 83-28-1z"/>
<path color=#5fffa0 d="M783 700l10 7-16 33-10-6z"/>
<path color=#ff5d00 d="M689 451l9 6-84 53-9-6z"/>
<path color=#1717d8 d="M1421 1026l45-10 1 1-44 11z"/>
<path color=#f3ff0c d="M722 587l9 7-42 41-9-7z"/>
<path color=#1111e2 d="M1361 1013l40-6 5 6-38 5z"/>
<path color=#001dff d="M1152 950l26 3 19 22-24-3z"/>
<path color=#1717d8 d="M1423 1028l44-11 1 2-43 10z"/>
<path color=#0095ff d="M951 857l16 5 11 27-15-6z"/>
<path color=#00f3ff d="M855 785l13 6 0 30-12-6z"/>
<path color=#1717d8 d="M1425 1029l43-10 2 1-43 11z"/>
<path color=#6dff92 d="M773 694l10 6-16 34-10-7z"/>
<path color=#0052ff d="M1048 910l20 5 17 24-19-5z"/>
<path color=#ff5000 d="M680 444l9 7-84 53-10-6z"/>
<path color=#0b0bec d="M1313 1004l36-3 6 6-35 3z"/>
<path color=#fffe00 d="M713 581l9 6-42 41-9-6z"/>
<path color=#1717d8 d="M1427 1031l43-11 1 2-42 10z"/>
<path color=#1111e2 d="M1368 1018l38-5 2 1-38 6z"/>
<path color=#1717d8 d="M1429 1032l42-10 1 1-41 11z"/>
<path color=#01fffe d="M843 779l12 6 1 30-11-7z"/>
<path color=#1111e2 d="M1370 1020l38-6 1 2-37 5z"/>
<path color=#00a3ff d="M935 851l16 6 12 26-15-6z"/>
<path color=#0002ff d="M1224 977l31 1 20 20-27 0z"/>
<path color=#7aff85 d="M763 687l10 7-16 33-10-6z"/>
<path color=#fff100 d="M704 574l9 7-42 41-9-7z"/>
<path color=#ff4300 d="M670 438l10 6-85 54-10-6z"/>
<path color=#1111e2 d="M1372 1021l37-5 2 1-37 6z"/>
<path color=#0060ff d="M1028 905l20 5 18 24-18-5z"/>
<path color=#002aff d="M1128 947l24 3 21 22-22-3z"/>
<path color=#1111e2 d="M1374 1023l37-6 2 2-37 6z"/>
<path color=#982f34 d="M631 298l36-1-175 84-40 2z"/>
<path color=#0ffff0 d="M831 773l12 6 2 29-12-6z"/>
<path color=#0505f6 d="M1275 998l32 0 6 6-30 0z"/>
<path color=#0b0bec d="M1320 1010l35-3 6 6-33 2z"/>
<path color=#87ff78 d="M754 681l9 6-16 34-9-7z"/>
<path color=#00b0ff d="M921 845l14 6 13 26-13-6z"/>
<path color=#1111e2 d="M1376 1025l37-6 1 1-36 6z"/>
<path color=#ffe300 d="M695 568l9 6-42 41-9-6z"/>
<path color=#ff3500 d="M660 432l10 6-85 54-11-6z"/>
<path color=#1111e2 d="M1378 1026l36-6 2 2-36 6z"/>
<path color=#1cffe3 d="M820 766l11 7 2 29-11-7z"/>
<path color=#006dff d="M1011 900l17 5 20 24-16-5z"/>
<path color=#95ff6a d="M744 674l10 7-16 33-10-6z"/>
<path color=#1111e2 d="M1380 1028l36-6 2 1-36 6z"/>
<path color=#00beff d="M907 839l14 6 14 26-14-6z"/>
<path color=#ffd600 d="M687 562l8 6-42 41-9-7z"/>
<path color=#0038ff d="M1105 943l23 4 23 22-20-4z"/>
<path color=#000fff d="M1197 975l27 2 24 21-25-2z"/>
<path color=#0b0bec d="M1328 1015l33-2 7 5-32 3z"/>
<path color=#1111e2 d="M1382 1029l36-6 2 2-35 6z"/>
<path color=#ff2800 d="M650 426l10 6-86 54-10-6z"/>
<path color=#0505f6 d="M1283 1004l30 0 7 6-29 0z"/>
<path color=#2affd5 d="M809 760l11 6 2 29-10-6z"/>
<path color=#1111e2 d="M1385 1031l35-6 1 1-34 6z"/>
<path color=#a2ff5d d="M734 668l10 6-16 34-9-7z"/>
<path color=#ffc900 d="M678 555l9 7-43 40-9-6z"/>
<path color=#007bff d="M994 894l17 6 21 24-16-6z"/>
<path color=#00cbff d="M894 833l13 6 14 26-12-6z"/>
<path color=#1111e2 d="M1387 1032l34-6 2 2-34 6z"/>
<path color=#0b0bec d="M1336 1021l32-3 2 2-32 3z"/>
<path color=#ff1a00 d="M640 420l10 6-86 54-12-6z"/>
<path color=#0002ff d="M1248 998l27 0 8 6-27 0z"/>
<path color=#1111e2 d="M1389 1034l34-6 2 1-33 6z"/>
<path color=#37ffc8 d="M798 753l11 7 3 29-11-7z"/>
<path color=#b0ff4f d="M725 661l9 7-15 33-9-7z"/>
<path color=#0b0bec d="M1338 1023l32-3 2 1-31 3z"/>
<path color=#0045ff d="M1085 939l20 4 26 22-19-4z"/>
<path color=#1111e2 d="M1392 1035l33-6 2 2-33 6z"/>
<path color=#0505f6 d="M1291 1010l29 0 8 5-28 1z"/>
<path color=#ffbb00 d="M669 549l9 6-43 41-9-7z"/>
<path color=#0b0bec d="M1341 1024l31-3 2 2-31 3z"/>
<path color=#00d8ff d="M881 827l13 6 15 26-12-6z"/>
<path color=#0088ff d="M978 889l16 5 22 24-14-5z"/>
<path color=#001dff d="M1173 972l24 3 26 21-21-3z"/>
<path color=#1111e2 d="M1394 1037l33-6 2 1-32 6z"/>
<path color=#ff0d00 d="M628 415l12 5-88 54-11-6z"/>
<path color=#0b0bec d="M1343 1026l31-3 2 2-30 3z"/>
<path color=#bdff42 d="M716 655l9 6-15 33-9-6z"/>
<path color=#44ffbb d="M788 747l10 6 3 29-10-6z"/>
<path color=#1111e2 d="M1397 1038l32-6 2 2-32 6z"/>
<path color=#ffae00 d="M660 542l9 7-43 40-9-7z"/>
<path color=#0b0bec d="M1346 1028l30-3 2 1-30 3z"/>
<path color=#0002ff d="M1256 1004l27 0 8 6-25 0z"/>
<path color=#00e6ff d="M868 821l13 6 16 26-12-6z"/>
<path color=#0052ff d="M1066 934l19 5 27 22-17-5z"/>
<path color=#0b0bec d="M1348 1029l30-3 2 2-29 3z"/>
<path color=#0095ff d="M963 883l15 6 24 24-14-6z"/>
<path color=#caff35 d="M707 648l9 7-15 33-9-7z"/>
<path color=#0505f6 d="M1300 1016l28-1 8 6-27 1z"/>
<path color=#52ffad d="M777 740l11 7 3 29-10-7z"/>
<path color=#ff0000 d="M617 409l11 6-87 53-12-6z"/>
<path color=#000fff d="M1223 996l25 2 8 6-23-2z"/>
<path color=#0b0bec d="M1351 1031l29-3 2 1-28 3z"/>
<path color=#ffa000 d="M651 536l9 6-43 40-9-6z"/>
<path color=#00f3ff d="M856 815l12 6 17 26-11-7z"/>
<path color=#002aff d="M1151 969l22 3 29 21-19-3z"/>
<path color=#0b0bec d="M1354 1032l28-3 3 2-28 3z"/>
<path color=#d8ff27 d="M698 642l9 6-15 33-9-7z"/>
<path color=#5fffa0 d="M767 734l10 6 4 29-9-6z"/>
<path color=#0505f6 d="M1309 1022l27-1 2 2-26 1z"/>
<path color=#00a3ff d="M948 877l15 6 25 24-13-6z"/>
<path color=#0060ff d="M1048 929l18 5 29 22-16-5z"/>
<path color=#0b0bec d="M1357 1034l28-3 2 1-28 4z"/>
<path color=#0002ff d="M1266 1010l25 0 9 6-24 0z"/>
<path color=#ff9300 d="M642 529l9 7-43 40-9-7z"/>
<path color=#f20809 d="M604 404l13 5-88 53-13-5z"/>
<path color=#0505f6 d="M1312 1024l26-1 3 1-26 2z"/>
<path color=#0b0bec d="M1359 1036l28-4 2 2-27 3z"/>
<path color=#01fffe d="M845 808l11 7 18 25-11-6z"/>
<path color=#e5ff1a d="M689 635l9 7-15 32-9-6z"/>
<path color=#6dff92 d="M757 727l10 7 5 29-10-7z"/>
<path color=#0505f6 d="M1315 1026l26-2 2 2-25 1z"/>
<path color=#000fff d="M1233 1002l23 2 10 6-22-2z"/>
<path color=#0b0bec d="M1362 1037l27-3 3 1-27 4z"/>
<path color=#00b0ff d="M935 871l13 6 27 24-13-6z"/>
<path color=#ff8600 d="M633 523l9 6-43 40-9-6z"/>
<path color=#0505f6 d="M1318 1027l25-1 3 2-25 1z"/>
<path color=#0b0bec d="M1365 1039l27-4 2 2-26 3z"/>
<path color=#001dff d="M1202 993l21 3 10 6-20-2z"/>
<path color=#0038ff d="M1131 965l20 4 32 21-18-4z"/>
<path color=#006dff d="M1032 924l16 5 31 22-15-5z"/>
<path color=#0ffff0 d="M833 802l12 6 18 26-11-7z"/>
<path color=#e51012 d="M591 398l13 6-88 53-14-6z"/>
<path color=#f3ff0c d="M680 628l9 7-15 33-9-7z"/>
<path color=#0505f6 d="M1321 1029l25-1 2 1-24 1z"/>
<path color=#0002ff d="M1276 1016l24 0 9 6-22 0z"/>
<path color=#7aff85 d="M747 721l10 6 5 29-9-7z"/>
<path color=#0b0bec d="M1368 1040l26-3 3 1-26 4z"/>
<path color=#0505f6 d="M1324 1030l24-1 3 2-24 1z"/>
<path color=#ff7800 d="M624 517l9 6-43 40-9-7z"/>
<path color=#0b0bec d="M1371 1042l26-4 2 2-25 3z"/>
<path color=#00beff d="M921 865l14 6 27 24-12-6z"/>
<path color=#1cffe3 d="M822 795l11 7 19 25-10-6z"/>
<path color=#000fff d="M1244 1008l22 2 10 6-21-2z"/>
<path color=#0505f6 d="M1327 1032l24-1 3 1-24 2z"/>
<path color=#fffe00 d="M671 622l9 6-15 33-9-7z"/>
<path color=#87ff78 d="M738 714l9 7 6 28-10-7z"/>
<path color=#007bff d="M1016 918l16 6 32 22-13-5z"/>
<path color=#0002ff d="M1287 1022l22 0 3 2-22-1z"/>
<path color=#d9171b d="M576 394l15 4-89 53-15-5z"/>
<path color=#0045ff d="M1112 961l19 4 34 21-16-4z"/>
<path color=#0505f6 d="M1330 1034l24-2 3 2-24 1z"/>
<path color=#001dff d="M1213 1000l20 2 11 6-20-2z"/>
<path color=#ff6b00 d="M614 510l10 7-43 39-10-6z"/>
<path color=#0002ff d="M1290 1023l22 1 3 2-22-1z"/>
<path color=#00cbff d="M909 859l12 6 29 24-12-6z"/>
<path color=#002aff d="M1183 990l19 3 11 7-19-4z"/>
<path color=#0505f6 d="M1333 1035l24-1 2 2-23 1z"/>
<path color=#2affd5 d="M812 789l10 6 20 26-10-7z"/>
<path color=#fff100 d="M662 615l9 7-15 32-8-7z"/>
<path color=#95ff6a d="M728 708l10 6 5 28-9-6z"/>
<path color=#0002ff d="M1293 1025l22 1 3 1-22 0z"/>
<path color=#0505f6 d="M1336 1037l23-1 3 1-22 2z"/>
<path color=#0088ff d="M1002 913l14 5 35 23-13-6z"/>
<path color=#0002ff d="M1296 1027l22 0 3 2-21-1z"/>
<path color=#ff5d00 d="M605 504l9 6-43 40-10-7z"/>
<path color=#000fff d="M1255 1014l21 2 11 6-20-2z"/>
<path color=#00d8ff d="M897 853l12 6 29 24-11-6z"/>
<path color=#cc1f24 d="M560 389l16 5-89 52-17-5z"/>
<path color=#0505f6 d="M1340 1039l22-2 3 2-22 1z"/>
<path color=#37ffc8 d="M801 782l11 7 20 25-10-6z"/>
<path color=#ffe300 d="M653 609l9 6-14 32-9-6z"/>
<path color=#a2ff5d d="M719 701l9 7 6 28-9-7z"/>
<path color=#0052ff d="M1095 956l17 5 37 21-15-5z"/>
<path color=#0002ff d="M1300 1028l21 1 3 1-21 0z"/>
<path color=#001dff d="M1224 1006l20 2 11 6-18-2z"/>
<path color=#0505f6 d="M1343 1040l22-1 3 1-22 2z"/>
<path color=#0002ff d="M1303 1030l21 0 3 2-20 0z"/>
<path color=#002aff d="M1194 996l19 4 11 6-17-3z"/>
<path color=#0038ff d="M1165 986l18 4 11 6-16-3z"/>
<path color=#0095ff d="M988 907l14 6 36 22-13-6z"/>
<path color=#ff5000 d="M595 498l10 6-44 39-9-6z"/>
<path color=#0505f6 d="M1346 1042l22-2 3 2-21 1z"/>
<path color=#000fff d="M1267 1020l20 2 3 1-19-1z"/>
<path color=#00e6ff d="M885 847l12 6 30 24-10-7z"/>
<path color=#ffd600 d="M644 602l9 7-14 32-9-7z"/>
<path color=#44ffbb d="M791 776l10 6 21 26-9-7z"/>
<path color=#b0ff4f d="M710 694l9 7 6 28-8-7z"/>
<path color=#0002ff d="M1307 1032l20 0 3 2-20-1z"/>
<path color=#0505f6 d="M1350 1043l21-1 3 1-21 2z"/>
<path color=#000fff d="M1271 1022l19 1 3 2-19-1z"/>
<path color=#bf262c d="M542 385l18 4-90 52-18-4z"/>
<path color=#8b3237 d="M410 371l221-73-179 85-198 57z"/>
<path color=#0002ff d="M1310 1033l20 1 3 1-19 0z"/>
<path color=#0060ff d="M1079 951l16 5 39 21-13-5z"/>
<path color=#000fff d="M1274 1024l19 1 3 2-18-2z"/>
<path color=#ff4300 d="M585 492l10 6-43 39-10-6z"/>
<path color=#ffc900 d="M635 596l9 6-14 32-8-7z"/>
<path color=#bdff42 d="M701 688l9 6 7 28-9-7z"/>
<path color=#52ffad d="M781 769l10 7 22 25-10-7z"/>
<path color=#00a3ff d="M975 901l13 6 37 22-12-6z"/>
<path color=#00f3ff d="M874 840l11 7 32 23-11-6z"/>
<path color=#0002ff d="M1314 1035l19 0 3 2-19 0z"/>
<path color=#001dff d="M1237 1012l18 2 12 6-17-2z"/>
<path color=#000fff d="M1278 1025l18 2 4 1-18-1z"/>
<path color=#002aff d="M1207 1003l17 3 13 6-17-3z"/>
<path color=#0045ff d="M1149 982l16 4 13 7-16-5z"/>
<path color=#0002ff d="M1317 1037l19 0 4 2-19-1z"/>
<path color=#0038ff d="M1178 993l16 3 13 7-16-4z"/>
<path color=#000fff d="M1282 1027l18 1 3 2-18-1z"/>
<path color=#caff35 d="M692 681l9 7 7 27-9-7z"/>
<path color=#ffbb00 d="M626 589l9 7-13 31-9-7z"/>
<path color=#5fffa0 d="M772 763l9 6 22 25-9-7z"/>
<path color=#ff3500 d="M574 486l11 6-43 39-11-7z"/>
<path color=#0002ff d="M1321 1038l19 1 3 1-18 0z"/>
<path color=#01fffe d="M863 834l11 6 32 24-10-7z"/>
<path color=#006dff d="M1064 946l15 5 42 21-13-5z"/>
<path color=#00b0ff d="M962 895l13 6 38 22-11-6z"/>
<path color=#001dff d="M1250 1018l17 2 4 2-17-2z"/>
<path color=#000fff d="M1285 1029l18 1 4 2-18-2z"/>
<path color=#b2292f d="M520 382l22 3-90 52-22-4z"/>
<path color=#0002ff d="M1325 1040l18 0 3 2-17 0z"/>
<path color=#001dff d="M1254 1020l17 2 3 2-16-3z"/>
<path color=#000fff d="M1289 1030l18 2 3 1-17-1z"/>
<path color=#d8ff27 d="M683 674l9 7 7 27-8-7z"/>
<path color=#6dff92 d="M762 756l10 7 22 24-9-6z"/>
<path color=#ffae00 d="M617 582l9 7-13 31-9-6z"/>
<path color=#0002ff d="M1329 1042l17 0 4 1-18 0z"/>
<path color=#0ffff0 d="M852 827l11 7 33 23-9-6z"/>
<path color=#ff2800 d="M564 480l10 6-43 38-10-6z"/>
<path color=#0052ff d="M1134 977l15 5 13 6-14-4z"/>
<path color=#001dff d="M1258 1021l16 3 4 1-16-2z"/>
<path color=#002aff d="M1220 1009l17 3 13 6-16-3z"/>
<path color=#000fff d="M1293 1032l17 1 4 2-17-1z"/>
<path color=#00beff d="M950 889l12 6 40 22-10-6z"/>
<path color=#0045ff d="M1162 988l16 5 13 6-14-4z"/>
<path color=#0038ff d="M1191 999l16 4 13 6-15-4z"/>
<path color=#0002ff d="M1332 1043l18 0 3 2-17 0z"/>
<path color=#007bff d="M1051 941l13 5 44 21-12-5z"/>
<path color=#001dff d="M1262 1023l16 2 4 2-16-2z"/>
<path color=#000fff d="M1297 1034l17 1 3 2-16-2z"/>
<path color=#e5ff1a d="M674 668l9 6 8 27-9-6z"/>
<path color=#7aff85 d="M753 749l9 7 23 25-8-7z"/>
<path color=#ffa000 d="M608 576l9 6-13 32-9-7z"/>
<path color=#1cffe3 d="M842 821l10 6 35 24-10-7z"/>
<path color=#001dff d="M1266 1025l16 2 3 2-15-3z"/>
<path color=#ff1a00 d="M552 474l12 6-43 38-12-7z"/>
<path color=#000fff d="M1301 1035l16 2 4 1-16-1z"/>
<path color=#002aff d="M1234 1015l16 3 4 2-15-4z"/>
<path color=#00cbff d="M938 883l12 6 42 22-11-6z"/>
<path color=#a52c31 d="M492 381l28 1-90 51-28-3z"/>
<path color=#0060ff d="M1121 972l13 5 14 7-12-5z"/>
<path color=#001dff d="M1270 1026l15 3 4 1-15-2z"/>
<path color=#000fff d="M1305 1037l16 1 4 2-16-1z"/>
<path color=#f3ff0c d="M665 661l9 7 8 27-8-7z"/>
<path color=#0088ff d="M1038 935l13 6 45 21-11-6z"/>
<path color=#87ff78 d="M743 742l10 7 24 25-9-7z"/>
<path color=#002aff d="M1239 1016l15 4 4 1-15-3z"/>
<path color=#ff9300 d="M599 569l9 7-13 31-9-7z"/>
<path color=#0052ff d="M1148 984l14 4 15 7-13-5z"/>
<path color=#2affd5 d="M832 814l10 7 35 23-9-7z"/>
<path color=#0045ff d="M1177 995l14 4 14 6-13-4z"/>
<path color=#0038ff d="M1205 1005l15 4 14 6-13-4z"/>
<path color=#001dff d="M1274 1028l15 2 4 2-15-2z"/>
<path color=#000fff d="M1309 1039l16 1 4 2-16-2z"/>
<path color=#002aff d="M1243 1018l15 3 4 2-15-3z"/>
<path color=#ff0d00 d="M541 468l11 6-43 37-11-6z"/>
<path color=#00d8ff d="M927 877l11 6 43 22-9-7z"/>
<path color=#000fff d="M1313 1040l16 2 3 1-14-1z"/>
<path color=#001dff d="M1278 1030l15 2 4 2-15-3z"/>
<path color=#fffe00 d="M656 654l9 7 9 27-9-7z"/>
<path color=#95ff6a d="M734 736l9 6 25 25-9-7z"/>
<path color=#002aff d="M1247 1020l15 3 4 2-14-3z"/>
<path color=#ff8600 d="M590 563l9 6-13 31-9-7z"/>
<path color=#37ffc8 d="M822 808l10 6 36 23-9-7z"/>
<path color=#0095ff d="M1025 929l13 6 47 21-11-6z"/>
<path color=#006dff d="M1108 967l13 5 15 7-12-5z"/>
<path color=#000fff d="M1318 1042l14 1 4 2-14-1z"/>
<path color=#001dff d="M1282 1031l15 3 4 1-14-2z"/>
<path color=#0038ff d="M1221 1011l13 4 5 1-14-3z"/>
<path color=#002aff d="M1252 1022l14 3 4 1-14-3z"/>
<path color=#0060ff d="M1136 979l12 5 16 6-12-5z"/>
<path color=#00e6ff d="M917 870l10 7 45 21-10-6z"/>
<path color=#ff0000 d="M529 462l12 6-43 37-12-6z"/>
<path color=#fff100 d="M648 647l8 7 9 27-8-7z"/>
<path color=#001dff d="M1287 1033l14 2 4 2-14-2z"/>
<path color=#a2ff5d d="M725 729l9 7 25 24-8-7z"/>
<path color=#0052ff d="M1164 990l13 5 15 6-12-5z"/>
<path color=#0038ff d="M1225 1013l14 3 4 2-13-3z"/>
<path color=#002aff d="M1256 1023l14 3 4 2-13-3z"/>
<path color=#ff7800 d="M581 556l9 7-13 30-9-7z"/>
<path color=#0045ff d="M1192 1001l13 4 16 6-13-4z"/>
<path color=#44ffbb d="M813 801l9 7 37 22-8-7z"/>
<path color=#001dff d="M1291 1035l14 2 4 2-13-3z"/>
<path color=#00a3ff d="M1013 923l12 6 49 21-10-6z"/>
<path color=#982f34 d="M452 383l40-2-90 49-39 0z"/>
<path color=#0038ff d="M1230 1015l13 3 4 2-13-4z"/>
<path color=#002aff d="M1261 1025l13 3 4 2-13-3z"/>
<path color=#007bff d="M1096 962l12 5 16 7-12-6z"/>
<path color=#ffe300 d="M639 641l9 6 9 27-8-7z"/>
<path color=#b0ff4f d="M717 722l8 7 26 24-8-7z"/>
<path color=#00f3ff d="M906 864l11 6 45 22-9-7z"/>
<path color=#001dff d="M1296 1036l13 3 4 1-13-2z"/>
<path color=#f20809 d="M516 457l13 5-43 37-13-6z"/>
<path color=#0038ff d="M1234 1016l13 4 5 2-13-4z"/>
<path color=#002aff d="M1265 1027l13 3 4 1-12-3z"/>
<path color=#ff6b00 d="M571 550l10 6-13 30-9-6z"/>
<path color=#52ffad d="M803 794l10 7 38 22-9-6z"/>
<path color=#006dff d="M1124 974l12 5 16 6-12-5z"/>
<path color=#0045ff d="M1208 1007l13 4 4 2-12-4z"/>
<path color=#001dff d="M1300 1038l13 2 5 2-13-2z"/>
<path color=#0038ff d="M1239 1018l13 4 4 1-12-3z"/>
<path color=#002aff d="M1270 1028l12 3 5 2-13-3z"/>
<path color=#0060ff d="M1152 985l12 5 16 6-11-5z"/>
<path color=#00b0ff d="M1002 917l11 6 51 21-9-6z"/>
<path color=#ffd600 d="M630 634l9 7 10 26-9-7z"/>
<path color=#bdff42 d="M708 715l9 7 26 24-8-7z"/>
<path color=#001dff d="M1305 1040l13 2 4 2-12-3z"/>
<path color=#0045ff d="M1213 1009l12 4 5 2-12-5z"/>
<path color=#0052ff d="M1180 996l12 5 16 6-11-5z"/>
<path color=#01fffe d="M896 857l10 7 47 21-9-6z"/>
<path color=#0088ff d="M1085 956l11 6 16 6-10-6z"/>
<path color=#0038ff d="M1244 1020l12 3 5 2-12-4z"/>
<path color=#002aff d="M1274 1030l13 3 4 2-12-3z"/>
<path color=#ff5d00 d="M561 543l10 7-12 30-9-7z"/>
<path color=#5fffa0 d="M794 787l9 7 39 23-8-7z"/>
<path color=#e51012 d="M502 451l14 6-43 36-13-6z"/>
<path color=#0045ff d="M1218 1010l12 5 4 1-11-4z"/>
<path color=#0038ff d="M1249 1021l12 4 4 2-11-4z"/>
<path color=#002aff d="M1279 1032l12 3 5 1-12-3z"/>
<path color=#007bff d="M1112 968l12 6 16 6-10-6z"/>
<path color=#ffc900 d="M622 627l8 7 10 26-8-7z"/>
<path color=#caff35 d="M699 708l9 7 27 24-8-7z"/>
<path color=#00beff d="M992 911l10 6 53 21-9-6z"/>
<path color=#0045ff d="M1223 1012l11 4 5 2-11-4z"/>
<path color=#0ffff0 d="M887 851l9 6 48 22-8-7z"/>
<path color=#0052ff d="M1197 1002l11 5 5 2-11-5z"/>
<path color=#6dff92 d="M785 781l9 6 40 23-8-7z"/>
<path color=#002aff d="M1284 1033l12 3 4 2-11-3z"/>
<path color=#006dff d="M1140 980l12 5 17 6-11-5z"/>
<path color=#0038ff d="M1254 1023l11 4 5 1-11-3z"/>
<path color=#ff5000 d="M552 537l9 6-11 30-10-7z"/>
<path color=#0095ff d="M1074 950l11 6 17 6-10-5z"/>
<path color=#0045ff d="M1228 1014l11 4 5 2-11-4z"/>
<path color=#0060ff d="M1169 991l11 5 17 6-11-5z"/>
<path color=#0052ff d="M1202 1004l11 5 5 1-11-4z"/>
<path color=#002aff d="M1289 1035l11 3 5 2-11-3z"/>
<path color=#d8ff27 d="M691 701l8 7 28 24-8-7z"/>
<path color=#0038ff d="M1259 1025l11 3 4 2-10-3z"/>
<path color=#ffbb00 d="M613 620l9 7 10 26-8-7z"/>
<path color=#d9171b d="M487 446l15 5-42 36-15-6z"/>
<path color=#1cffe3 d="M877 844l10 7 49 21-9-7z"/>
<path color=#0045ff d="M1233 1016l11 4 5 1-11-4z"/>
<path color=#0088ff d="M1102 962l10 6 18 6-10-5z"/>
<path color=#00cbff d="M981 905l11 6 54 21-9-6z"/>
<path color=#7aff85 d="M777 774l8 7 41 22-8-7z"/>
<path color=#0052ff d="M1207 1006l11 4 5 2-11-4z"/>
<path color=#002aff d="M1294 1037l11 3 5 1-11-3z"/>
<path color=#0038ff d="M1264 1027l10 3 5 2-10-4z"/>
<path color=#ff4300 d="M542 531l10 6-12 29-10-7z"/>
<path color=#0045ff d="M1238 1017l11 4 5 2-11-4z"/>
<path color=#007bff d="M1130 974l10 6 18 6-10-5z"/>
<path color=#e5ff1a d="M682 695l9 6 28 24-8-7z"/>
<path color=#ffae00 d="M604 614l9 6 11 26-9-7z"/>
<path color=#00a3ff d="M1064 944l10 6 18 7-9-6z"/>
<path color=#0052ff d="M1212 1008l11 4 5 2-10-5z"/>
<path color=#0038ff d="M1269 1028l10 4 5 1-10-3z"/>
<path color=#0060ff d="M1186 997l11 5 5 2-10-5z"/>
<path color=#2affd5 d="M868 837l9 7 50 21-8-7z"/>
<path color=#87ff78 d="M768 767l9 7 41 22-8-7z"/>
<path color=#006dff d="M1158 986l11 5 17 6-9-5z"/>
<path color=#0045ff d="M1243 1019l11 4 5 2-11-4z"/>
<path color=#cc1f24 d="M470 441l17 5-42 35-16-6z"/>
<path color=#00d8ff d="M972 898l9 7 56 21-8-7z"/>
<path color=#0038ff d="M1274 1030l10 3 5 2-10-3z"/>
<path color=#0052ff d="M1218 1009l10 5 5 2-10-5z"/>
<path color=#0060ff d="M1192 999l10 5 5 2-10-5z"/>
<path color=#ff3500 d="M531 524l11 7-12 28-10-6z"/>
<path color=#0095ff d="M1092 957l10 5 18 7-9-6z"/>
<path color=#f3ff0c d="M674 688l8 7 29 23-8-7z"/>
<path color=#0045ff d="M1248 1021l11 4 5 2-10-5z"/>
<path color=#ffa000 d="M595 607l9 7 11 25-8-7z"/>
<path color=#0038ff d="M1279 1032l10 3 5 2-10-4z"/>
<path color=#0052ff d="M1223 1011l10 5 5 1-10-4z"/>
<path color=#0060ff d="M1197 1001l10 5 5 2-9-5z"/>
<path color=#00b0ff d="M1055 938l9 6 19 7-9-6z"/>
<path color=#37ffc8 d="M859 830l9 7 51 21-7-6z"/>
<path color=#95ff6a d="M759 760l9 7 42 22-8-7z"/>
<path color=#0088ff d="M1120 969l10 5 18 7-9-6z"/>
<path color=#0045ff d="M1254 1022l10 5 5 1-10-4z"/>
<path color=#0038ff d="M1284 1033l10 4 5 1-9-3z"/>
<path color=#006dff d="M1177 992l9 5 6 2-10-5z"/>
<path color=#00e6ff d="M962 892l10 6 57 21-8-6z"/>
<path color=#0052ff d="M1228 1013l10 4 5 2-9-4z"/>
<path color=#0060ff d="M1203 1003l9 5 6 1-10-5z"/>
<path color=#ff2800 d="M521 518l10 6-11 29-10-7z"/>
<path color=#fffe00 d="M665 681l9 7 29 23-8-7z"/>
<path color=#007bff d="M1148 981l10 5 19 6-9-5z"/>
<path color=#ff9300 d="M586 600l9 7 12 25-9-7z"/>
<path color=#0045ff d="M1259 1024l10 4 5 2-9-4z"/>
<path color=#bf262c d="M452 437l18 4-41 34-18-5z"/>
<path color=#00a3ff d="M1083 951l9 6 19 6-9-6z"/>
<path color=#006dff d="M1182 994l10 5 5 2-9-5z"/>
<path color=#0052ff d="M1234 1015l9 4 5 2-9-5z"/>
<path color=#0060ff d="M1208 1004l10 5 5 2-9-5z"/>
<path color=#a2ff5d d="M751 753l8 7 43 22-8-7z"/>
<path color=#44ffbb d="M851 823l8 7 53 22-8-7z"/>
<path color=#00beff d="M1046 932l9 6 19 7-9-7z"/>
<path color=#0045ff d="M1265 1026l9 4 5 2-9-4z"/>
<path color=#0095ff d="M1111 963l9 6 19 6-8-6z"/>
<path color=#00f3ff d="M953 885l9 7 59 21-8-7z"/>
<path color=#0052ff d="M1239 1016l9 5 6 1-9-4z"/>
<path color=#006dff d="M1188 996l9 5 6 2-9-5z"/>
<path color=#fff100 d="M657 674l8 7 30 23-8-8z"/>
<path color=#0060ff d="M1214 1006l9 5 5 2-8-5z"/>
<path color=#ff1a00 d="M509 511l12 7-11 28-11-7z"/>
<path color=#ff8600 d="M577 593l9 7 12 25-8-7z"/>
<path color=#0045ff d="M1270 1028l9 4 5 1-8-4z"/>
<path color=#007bff d="M1168 987l9 5 5 2-8-5z"/>
<path color=#b0ff4f d="M743 746l8 7 43 22-7-8z"/>
<path color=#00b0ff d="M1074 945l9 6 19 6-8-6z"/>
<path color=#0052ff d="M1245 1018l9 4 5 2-8-4z"/>
<path color=#006dff d="M1194 998l9 5 5 1-8-5z"/>
<path color=#52ffad d="M842 817l9 6 53 22-8-7z"/>
<path color=#0088ff d="M1139 975l9 6 20 6-8-6z"/>
<path color=#0060ff d="M1220 1008l8 5 6 2-9-5z"/>
<path color=#0045ff d="M1276 1029l8 4 6 2-8-4z"/>
<path color=#00cbff d="M1037 926l9 6 19 6-8-6z"/>
<path color=#b2292f d="M430 433l22 4-41 33-21-5z"/>
<path color=#007bff d="M1174 989l8 5 6 2-8-6z"/>
<path color=#ffe300 d="M649 667l8 7 30 22-8-7z"/>
<path color=#01fffe d="M944 879l9 6 60 21-7-7z"/>
<path color=#0052ff d="M1251 1020l8 4 6 2-8-5z"/>
<path color=#006dff d="M1200 999l8 5 6 2-8-5z"/>
<path color=#ff7800 d="M568 586l9 7 13 25-9-7z"/>
<path color=#0060ff d="M1225 1010l9 5 5 1-8-5z"/>
<path color=#ff0d00 d="M498 505l11 6-10 28-11-7z"/>
<path color=#00a3ff d="M1102 957l9 6 20 6-8-6z"/>
<path color=#bdff42 d="M735 739l8 7 44 21-8-7z"/>
<path color=#007bff d="M1180 990l8 6 6 2-8-6z"/>
<path color=#5fffa0 d="M834 810l8 7 54 21-7-7z"/>
<path color=#0052ff d="M1257 1021l8 5 5 2-7-5z"/>
<path color=#006dff d="M1206 1001l8 5 6 2-9-5z"/>
<path color=#0060ff d="M1231 1011l8 5 6 2-8-5z"/>
<path color=#00beff d="M1065 938l9 7 20 6-8-6z"/>
<path color=#0088ff d="M1160 981l8 6 6 2-8-6z"/>
<path color=#ffd600 d="M640 660l9 7 30 22-8-7z"/>
<path color=#0095ff d="M1131 969l8 6 21 6-8-5z"/>
<path color=#00d8ff d="M1029 919l8 7 20 6-7-6z"/>
<path color=#007bff d="M1186 992l8 6 6 1-8-5z"/>
<path color=#0ffff0 d="M936 872l8 7 62 20-7-6z"/>
<path color=#ff6b00 d="M559 580l9 6 13 25-9-7z"/>
<path color=#0052ff d="M1263 1023l7 5 6 1-8-4z"/>
<path color=#006dff d="M1211 1003l9 5 5 2-7-5z"/>
<path color=#0060ff d="M1237 1013l8 5 6 2-8-5z"/>
<path color=#ff0000 d="M486 499l12 6-10 27-12-6z"/>
<path color=#caff35 d="M727 732l8 7 44 21-7-7z"/>
<path color=#0088ff d="M1166 983l8 6 6 1-8-5z"/>
<path color=#6dff92 d="M826 803l8 7 55 21-7-7z"/>
<path color=#00b0ff d="M1094 951l8 6 21 6-8-6z"/>
<path color=#007bff d="M1192 994l8 5 6 2-8-5z"/>
<path color=#0052ff d="M1268 1025l8 4 6 2-7-4z"/>
<path color=#006dff d="M1218 1005l7 5 6 1-7-5z"/>
<path color=#0060ff d="M1243 1015l8 5 6 1-8-4z"/>
<path color=#ffc900 d="M632 653l8 7 31 22-8-7z"/>
<path color=#a52c31 d="M402 430l28 3-40 32-27-5z"/>
<path color=#00cbff d="M1057 932l8 6 21 7-7-7z"/>
<path color=#0088ff d="M1172 985l8 5 6 2-8-5z"/>
<path color=#ff5d00 d="M550 573l9 7 13 24-9-8z"/>
<path color=#1cffe3 d="M927 865l9 7 63 21-7-7z"/>
<path color=#007bff d="M1198 996l8 5 5 2-7-5z"/>
<path color=#00e6ff d="M1021 913l8 6 21 7-8-7z"/>
<path color=#0095ff d="M1152 976l8 5 6 2-8-6z"/>
<path color=#8b3237 d="M254 440l198-57-89 47-154 30z"/>
<path color=#00a3ff d="M1123 963l8 6 21 7-7-6z"/>
<path color=#d8ff27 d="M719 725l8 7 45 21-7-7z"/>
<path color=#006dff d="M1224 1006l7 5 6 2-7-5z"/>
<path color=#0060ff d="M1249 1017l8 4 6 2-8-5z"/>
<path color=#7aff85 d="M818 796l8 7 56 21-7-8z"/>
<path color=#f20809 d="M473 493l13 6-10 27-12-7z"/>
<path color=#0088ff d="M1178 987l8 5 6 2-8-6z"/>
<path color=#007bff d="M1204 998l7 5 7 2-8-6z"/>
<path color=#00beff d="M1086 945l8 6 21 6-7-6z"/>
<path color=#ffbb00 d="M624 646l8 7 31 22-7-7z"/>
<path color=#0095ff d="M1158 977l8 6 6 2-7-6z"/>
<path color=#006dff d="M1230 1008l7 5 6 2-7-5z"/>
<path color=#0060ff d="M1255 1018l8 5 5 2-6-5z"/>
<path color=#0088ff d="M1184 988l8 6 6 2-7-6z"/>
<path color=#00d8ff d="M1050 926l7 6 22 6-7-6z"/>
<path color=#ff5000 d="M540 566l10 7 13 23-9-7z"/>
<path color=#2affd5 d="M919 858l8 7 65 21-7-7z"/>
<path color=#e5ff1a d="M711 718l8 7 46 21-8-7z"/>
<path color=#00f3ff d="M1013 906l8 7 21 6-7-7z"/>
<path color=#007bff d="M1210 999l8 6 6 1-7-5z"/>
<path color=#0095ff d="M1165 979l7 6 6 2-7-6z"/>
<path color=#87ff78 d="M810 789l8 7 57 20-7-7z"/>
<path color=#006dff d="M1236 1010l7 5 6 2-6-5z"/>
<path color=#0060ff d="M1262 1020l6 5 7 2-7-5z"/>
<path color=#00b0ff d="M1115 957l8 6 22 7-7-7z"/>
<path color=#00a3ff d="M1145 970l7 6 6 1-7-6z"/>
<path color=#0088ff d="M1191 990l7 6 6 2-7-6z"/>
<path color=#e51012 d="M460 487l13 6-9 26-13-7z"/>
<path color=#ffae00 d="M615 639l9 7 32 22-8-8z"/>
<path color=#007bff d="M1217 1001l7 5 6 2-7-5z"/>
<path color=#0095ff d="M1171 981l7 6 6 1-6-5z"/>
<path color=#00cbff d="M1079 938l7 7 22 6-7-6z"/>
<path color=#006dff d="M1243 1012l6 5 6 1-6-5z"/>
<path color=#ff4300 d="M530 559l10 7 14 23-9-7z"/>
<path color=#00a3ff d="M1151 971l7 6 7 2-7-6z"/>
<path color=#f3ff0c d="M703 711l8 7 46 21-7-8z"/>
<path color=#37ffc8 d="M912 852l7 6 66 21-6-7z"/>
<path color=#0088ff d="M1197 992l7 6 6 1-6-5z"/>
<path color=#00e6ff d="M1042 919l8 7 22 6-7-7z"/>
<path color=#982f34 d="M363 430l39 0-39 30-36-3z"/>
<path color=#95ff6a d="M802 782l8 7 58 20-7-7z"/>
<path color=#01fffe d="M1006 899l7 7 22 6-7-6z"/>
<path color=#007bff d="M1223 1003l7 5 6 2-6-5z"/>
<path color=#0095ff d="M1178 983l6 5 7 2-7-6z"/>
<path color=#006dff d="M1249 1013l6 5 7 2-6-5z"/>
<path color=#ffa000 d="M607 632l8 7 33 21-8-7z"/>
<path color=#00a3ff d="M1158 973l7 6 6 2-7-6z"/>
<path color=#00beff d="M1108 951l7 6 23 6-7-6z"/>
<path color=#0088ff d="M1204 994l6 5 7 2-6-6z"/>
<path color=#00b0ff d="M1138 963l7 7 6 1-6-6z"/>
<path color=#d9171b d="M445 481l15 6-9 25-14-6z"/>
<path color=#007bff d="M1230 1005l6 5 7 2-6-6z"/>
<path color=#fffe00 d="M695 704l8 7 47 20-7-7z"/>
<path color=#0095ff d="M1184 984l7 6 6 2-6-6z"/>
<path color=#ff3500 d="M520 553l10 6 15 23-10-7z"/>
<path color=#006dff d="M1256 1015l6 5 6 2-6-5z"/>
<path color=#00d8ff d="M1072 932l7 6 22 7-6-7z"/>
<path color=#44ffbb d="M904 845l8 7 67 20-6-7z"/>
<path color=#00a3ff d="M1164 975l7 6 7 2-7-6z"/>
<path color=#a2ff5d d="M794 775l8 7 59 20-6-7z"/>
<path color=#00f3ff d="M1035 912l7 7 23 6-7-6z"/>
<path color=#0088ff d="M1211 995l6 6 6 2-6-6z"/>
<path color=#00b0ff d="M1145 965l6 6 7 2-7-6z"/>
<path color=#0ffff0 d="M999 893l7 6 22 7-6-7z"/>
<path color=#ff9300 d="M598 625l9 7 33 21-8-7z"/>
<path color=#007bff d="M1237 1006l6 6 6 1-6-5z"/>
<path color=#0095ff d="M1191 986l6 6 7 2-6-6z"/>
<path color=#00a3ff d="M1171 977l7 6 6 1-6-5z"/>
<path color=#0088ff d="M1217 997l6 6 7 2-6-6z"/>
<path color=#fff100 d="M687 696l8 8 48 20-7-7z"/>
<path color=#00b0ff d="M1151 967l7 6 6 2-6-6z"/>
<path color=#00cbff d="M1101 945l7 6 23 6-6-6z"/>
<path color=#00beff d="M1131 957l7 6 7 2-7-6z"/>
<path color=#ff2800 d="M510 546l10 7 15 22-10-7z"/>
<path color=#007bff d="M1243 1008l6 5 7 2-6-5z"/>
<path color=#cc1f24 d="M429 475l16 6-8 25-16-7z"/>
<path color=#52ffad d="M896 838l8 7 69 20-7-7z"/>
<path color=#b0ff4f d="M787 767l7 8 61 20-7-7z"/>
<path color=#0095ff d="M1198 988l6 6 7 1-6-5z"/>
<path color=#00e6ff d="M1065 925l7 7 23 6-6-6z"/>
<path color=#00a3ff d="M1178 979l6 5 7 2-6-6z"/>
<path color=#01fffe d="M1028 906l7 6 23 7-6-7z"/>
<path color=#ff8600 d="M590 618l8 7 34 21-8-7z"/>
<path color=#1cffe3 d="M992 886l7 7 23 6-7-7z"/>
<path color=#0088ff d="M1224 999l6 6 7 1-6-5z"/>
<path color=#00b0ff d="M1158 969l6 6 7 2-6-6z"/>
<path color=#00beff d="M1138 959l7 6 6 2-6-6z"/>
<path color=#007bff d="M1250 1010l6 5 6 2-5-5z"/>
<path color=#0095ff d="M1205 990l6 5 6 2-5-5z"/>
<path color=#ffe300 d="M679 689l8 7 49 21-7-7z"/>
<path color=#00a3ff d="M1185 980l6 6 7 2-6-6z"/>
<path color=#0088ff d="M1231 1001l6 5 6 2-5-5z"/>
<path color=#ff1a00 d="M499 539l11 7 15 22-10-7z"/>
<path color=#bdff42 d="M779 760l8 7 61 21-7-8z"/>
<path color=#00b0ff d="M1165 971l6 6 7 2-6-7z"/>
<path color=#5fffa0 d="M889 831l7 7 70 20-6-7z"/>
<path color=#00d8ff d="M1095 938l6 7 24 6-6-6z"/>
<path color=#00beff d="M1145 961l6 6 7 2-6-6z"/>
<path color=#00cbff d="M1125 951l6 6 7 2-6-6z"/>
<path color=#0095ff d="M1212 992l5 5 7 2-5-6z"/>
<path color=#ff7800 d="M581 611l9 7 34 21-9-8z"/>
<path color=#00f3ff d="M1058 919l7 6 24 7-6-7z"/>
<path color=#bf262c d="M411 470l18 5-8 24-17-6z"/>
<path color=#0ffff0 d="M1022 899l6 7 24 6-6-7z"/>
<path color=#2affd5 d="M985 879l7 7 23 6-6-7z"/>
<path color=#00a3ff d="M1192 982l6 6 7 2-6-6z"/>
<path color=#0088ff d="M1238 1003l5 5 7 2-5-6z"/>
<path color=#00b0ff d="M1172 972l6 7 7 1-6-6z"/>
<path color=#ffd600 d="M671 682l8 7 50 21-8-8z"/>
<path color=#00beff d="M1152 963l6 6 7 2-5-7z"/>
<path color=#00cbff d="M1132 953l6 6 7 2-5-6z"/>
<path color=#0095ff d="M1219 993l5 6 7 2-5-6z"/>
<path color=#caff35 d="M772 753l7 7 62 20-6-7z"/>
<path color=#ff0d00 d="M488 532l11 7 16 22-11-7z"/>
<path color=#6dff92 d="M882 824l7 7 71 20-6-7z"/>
<path color=#00a3ff d="M1199 984l6 6 7 2-6-6z"/>
<path color=#0088ff d="M1245 1004l5 6 7 2-5-6z"/>
<path color=#ff6b00 d="M572 604l9 7 34 20-8-7z"/>
<path color=#00b0ff d="M1179 974l6 6 7 2-5-6z"/>
<path color=#00e6ff d="M1089 932l6 6 24 7-5-7z"/>
<path color=#00beff d="M1160 964l5 7 7 1-5-6z"/>
<path color=#00cbff d="M1140 955l5 6 7 2-5-7z"/>
<path color=#01fffe d="M1052 912l6 7 25 6-6-7z"/>
<path color=#00d8ff d="M1119 945l6 6 7 2-5-7z"/>
<path color=#0095ff d="M1226 995l5 6 7 2-5-6z"/>
<path color=#37ffc8 d="M979 872l6 7 24 6-6-7z"/>
<path color=#1cffe3 d="M1015 892l7 7 24 6-6-7z"/>
<path color=#ffc900 d="M663 675l8 7 50 20-7-7z"/>
<path color=#00a3ff d="M1206 986l6 6 7 1-5-6z"/>
<path color=#b2292f d="M390 465l21 5-7 23-21-7z"/>
<path color=#00b0ff d="M1187 976l5 6 7 2-5-6z"/>
<path color=#d8ff27 d="M765 746l7 7 63 20-7-7z"/>
<path color=#00beff d="M1167 966l5 6 7 2-5-6z"/>
<path color=#00cbff d="M1147 956l5 7 8 1-6-6z"/>
<path color=#7aff85 d="M875 816l7 8 72 20-5-7z"/>
<path color=#00d8ff d="M1127 946l5 7 8 2-6-7z"/>
<path color=#0095ff d="M1233 997l5 6 7 1-4-5z"/>
<path color=#ff0000 d="M476 526l12 6 16 22-11-8z"/>
<path color=#ff5d00 d="M563 596l9 8 35 20-9-8z"/>
<path color=#00a3ff d="M1214 987l5 6 7 2-5-6z"/>
<path color=#00f3ff d="M1083 925l6 7 25 6-5-7z"/>
<path color=#00b0ff d="M1194 978l5 6 7 2-4-6z"/>
<path color=#ffbb00 d="M656 668l7 7 51 20-7-8z"/>
<path color=#44ffbb d="M973 865l6 7 24 6-6-7z"/>
<path color=#0ffff0 d="M1046 905l6 7 25 6-6-6z"/>
<path color=#00beff d="M1174 968l5 6 8 2-5-6z"/>
<path color=#2affd5 d="M1009 885l6 7 25 6-6-6z"/>
<path color=#00cbff d="M1154 958l6 6 7 2-5-6z"/>
<path color=#00e6ff d="M1114 938l5 7 8 1-6-6z"/>
<path color=#0095ff d="M1241 999l4 5 7 2-4-6z"/>
<path color=#00d8ff d="M1134 948l6 7 7 1-5-6z"/>
<path color=#e5ff1a d="M757 739l8 7 63 20-6-7z"/>
<path color=#00a3ff d="M1221 989l5 6 7 2-4-6z"/>
<path color=#87ff78 d="M868 809l7 7 74 21-6-7z"/>
<path color=#00b0ff d="M1202 980l4 6 8 1-5-6z"/>
<path color=#f20809 d="M464 519l12 7 17 20-12-7z"/>
<path color=#ff5000 d="M554 589l9 7 35 20-8-7z"/>
<path color=#00beff d="M1182 970l5 6 7 2-5-6z"/>
<path color=#00cbff d="M1162 960l5 6 7 2-5-6z"/>
<path color=#00e6ff d="M1121 940l6 6 7 2-5-6z"/>
<path color=#00d8ff d="M1142 950l5 6 7 2-5-6z"/>
<path color=#a52c31 d="M363 460l27 5-7 21-25-6z"/>
<path color=#ffae00 d="M648 660l8 8 51 19-7-7z"/>
<path color=#8b3237 d="M209 460l154-30-36 27-129 9z"/>
<path color=#00a3ff d="M1229 991l4 6 8 2-5-6z"/>
<path color=#52ffad d="M966 858l7 7 24 6-6-7z"/>
<path color=#01fffe d="M1077 918l6 7 26 6-6-6z"/>
<path color=#37ffc8 d="M1003 878l6 7 25 7-5-7z"/>
<path color=#1cffe3 d="M1040 898l6 7 25 7-5-7z"/>
<path color=#00b0ff d="M1209 981l5 6 7 2-4-6z"/>
<path color=#f3ff0c d="M750 731l7 8 65 20-6-8z"/>
<path color=#00beff d="M1189 972l5 6 8 2-5-6z"/>
<path color=#00f3ff d="M1109 931l5 7 7 2-5-7z"/>
<path color=#00cbff d="M1169 962l5 6 8 2-5-6z"/>
<path color=#00e6ff d="M1129 942l5 6 8 2-5-7z"/>
<path color=#00d8ff d="M1149 952l5 6 8 2-5-6z"/>
<path color=#95ff6a d="M861 802l7 7 75 21-6-8z"/>
<path color=#ff4300 d="M545 582l9 7 36 20-9-7z"/>
<path color=#00a3ff d="M1236 993l5 6 7 1-4-5z"/>
<path color=#e51012 d="M451 512l13 7 17 20-13-7z"/>
<path color=#00b0ff d="M1217 983l4 6 8 2-4-6z"/>
<path color=#ffa000 d="M640 653l8 7 52 20-8-7z"/>
<path color=#00beff d="M1197 974l5 6 7 1-4-6z"/>
<path color=#00f3ff d="M1116 933l5 7 8 2-5-7z"/>
<path color=#00cbff d="M1177 964l5 6 7 2-4-7z"/>
<path color=#00e6ff d="M1137 943l5 7 7 2-5-7z"/>
<path color=#00d8ff d="M1157 954l5 6 7 2-4-7z"/>
<path color=#5fffa0 d="M960 851l6 7 25 6-5-7z"/>
<path color=#fffe00 d="M743 724l7 7 66 20-7-7z"/>
<path color=#44ffbb d="M997 871l6 7 26 7-6-7z"/>
<path color=#0ffff0 d="M1071 912l6 6 26 7-5-7z"/>
<path color=#2affd5 d="M1034 892l6 6 26 7-5-7z"/>
<path color=#00b0ff d="M1225 985l4 6 7 2-4-6z"/>
<path color=#a2ff5d d="M855 795l6 7 76 20-5-7z"/>
<path color=#01fffe d="M1103 925l6 6 7 2-5-6z"/>
<path color=#ff3500 d="M535 575l10 7 36 20-9-8z"/>
<path color=#00beff d="M1205 975l4 6 8 2-4-6z"/>
<path color=#982f34 d="M327 457l36 3-5 20-35-6z"/>
<path color=#00f3ff d="M1124 935l5 7 8 1-5-6z"/>
<path color=#00cbff d="M1185 965l4 7 8 2-4-7z"/>
<path color=#00e6ff d="M1144 945l5 7 8 2-5-7z"/>
<path color=#00d8ff d="M1165 955l4 7 8 2-4-7z"/>
<path color=#d9171b d="M437 506l14 6 17 20-14-7z"/>
<path color=#ff9300 d="M632 646l8 7 52 20-7-8z"/>
<path color=#00b0ff d="M1232 987l4 6 8 2-4-6z"/>
<path color=#6dff92 d="M954 844l6 7 26 6-6-7z"/>
<path color=#fff100 d="M736 717l7 7 66 20-6-8z"/>
<path color=#01fffe d="M1111 927l5 6 8 2-5-7z"/>
<path color=#00beff d="M1213 977l4 6 8 2-4-6z"/>
<path color=#00f3ff d="M1132 937l5 6 7 2-4-6z"/>
<path color=#52ffad d="M991 864l6 7 26 7-5-7z"/>
<path color=#00cbff d="M1193 967l4 7 8 1-4-6z"/>
<path color=#00e6ff d="M1152 947l5 7 8 1-5-6z"/>
<path color=#00d8ff d="M1173 957l4 7 8 1-4-6z"/>
<path color=#37ffc8 d="M1029 885l5 7 27 6-5-7z"/>
<path color=#1cffe3 d="M1066 905l5 7 27 6-4-7z"/>
<path color=#b0ff4f d="M848 788l7 7 77 20-6-7z"/>
<path color=#ff2800 d="M525 568l10 7 37 19-10-7z"/>
<path color=#0ffff0 d="M1098 918l5 7 8 2-5-7z"/>
<path color=#ff8600 d="M624 639l8 7 53 19-8-7z"/>
<path color=#01fffe d="M1119 928l5 7 8 2-5-7z"/>
<path color=#00beff d="M1221 979l4 6 7 2-3-6z"/>
<path color=#cc1f24 d="M421 499l16 7 17 19-15-8z"/>
<path color=#00f3ff d="M1140 939l4 6 8 2-4-6z"/>
<path color=#00cbff d="M1201 969l4 6 8 2-4-6z"/>
<path color=#00e6ff d="M1160 949l5 6 8 2-5-6z"/>
<path color=#00d8ff d="M1181 959l4 6 8 2-4-6z"/>
<path color=#ffe300 d="M729 710l7 7 67 19-6-7z"/>
<path color=#7aff85 d="M949 837l5 7 26 6-5-7z"/>
<path color=#5fffa0 d="M986 857l5 7 27 7-5-7z"/>
<path color=#0ffff0 d="M1106 920l5 7 8 1-4-6z"/>
<path color=#bdff42 d="M841 780l7 8 78 20-5-8z"/>
<path color=#01fffe d="M1127 930l5 7 8 2-5-7z"/>
<path color=#44ffbb d="M1023 878l6 7 27 6-5-7z"/>
<path color=#ff1a00 d="M515 561l10 7 37 19-10-8z"/>
<path color=#00beff d="M1229 981l3 6 8 2-3-6z"/>
<path color=#2affd5 d="M1061 898l5 7 28 6-5-7z"/>
<path color=#00f3ff d="M1148 941l4 6 8 2-4-7z"/>
<path color=#00cbff d="M1209 971l4 6 8 2-4-6z"/>
<path color=#00e6ff d="M1168 951l5 6 8 2-4-6z"/>
<path color=#00d8ff d="M1189 961l4 6 8 2-4-6z"/>
<path color=#ff7800 d="M615 631l9 8 53 19-7-8z"/>
<path color=#1cffe3 d="M1094 911l4 7 8 2-4-7z"/>
<path color=#bf262c d="M404 493l17 6 18 18-17-7z"/>
<path color=#0ffff0 d="M1115 922l4 6 8 2-4-6z"/>
<path color=#ffd600 d="M721 702l8 8 68 19-7-7z"/>
<path color=#01fffe d="M1135 932l5 7 8 2-4-7z"/>
<path color=#87ff78 d="M943 830l6 7 26 6-5-7z"/>
<path color=#00f3ff d="M1156 942l4 7 8 2-4-7z"/>
<path color=#00cbff d="M1217 973l4 6 8 2-3-6z"/>
<path color=#00e6ff d="M1177 953l4 6 8 2-4-6z"/>
<path color=#00d8ff d="M1197 963l4 6 8 2-4-6z"/>
<path color=#6dff92 d="M980 850l6 7 27 7-5-7z"/>
<path color=#caff35 d="M835 773l6 7 80 20-6-7z"/>
<path color=#ff0d00 d="M504 554l11 7 37 18-10-7z"/>
<path color=#1cffe3 d="M1102 913l4 7 9 2-5-7z"/>
<path color=#52ffad d="M1018 871l5 7 28 6-5-7z"/>
<path color=#ff6b00 d="M607 624l8 7 55 19-8-8z"/>
<path color=#8b3237 d="M198 466l129-9-4 17-124-6z"/>
<path color=#37ffc8 d="M1056 891l5 7 28 6-4-6z"/>
<path color=#0ffff0 d="M1123 924l4 6 8 2-4-7z"/>
<path color=#01fffe d="M1144 934l4 7 8 1-4-6z"/>
<path color=#00f3ff d="M1164 944l4 7 9 2-4-7z"/>
<path color=#00cbff d="M1226 975l3 6 8 2-3-7z"/>
<path color=#00e6ff d="M1185 955l4 6 8 2-4-7z"/>
<path color=#00d8ff d="M1205 965l4 6 8 2-3-7z"/>
<path color=#ffc900 d="M714 695l7 7 69 20-6-8z"/>
<path color=#2affd5 d="M1089 904l5 7 8 2-5-7z"/>
<path color=#b2292f d="M383 486l21 7 18 17-20-7z"/>
<path color=#1cffe3 d="M1110 915l5 7 8 2-4-7z"/>
<path color=#95ff6a d="M937 822l6 8 27 6-6-7z"/>
<path color=#0ffff0 d="M1131 925l4 7 9 2-4-7z"/>
<path color=#ff0000 d="M493 546l11 8 38 18-11-8z"/>
<path color=#d8ff27 d="M828 766l7 7 80 20-5-7z"/>
<path color=#7aff85 d="M975 843l5 7 28 7-5-8z"/>
<path color=#01fffe d="M1152 936l4 6 8 2-3-6z"/>
<path color=#ff5d00 d="M598 616l9 8 55 18-8-7z"/>
<path color=#00f3ff d="M1173 946l4 7 8 2-4-7z"/>
<path color=#00e6ff d="M1193 956l4 7 8 2-3-7z"/>
<path color=#00d8ff d="M1214 966l3 7 9 2-4-7z"/>
<path color=#5fffa0 d="M1013 864l5 7 28 6-4-7z"/>
<path color=#2affd5 d="M1097 906l5 7 8 2-4-7z"/>
<path color=#44ffbb d="M1051 884l5 7 29 7-5-7z"/>
<path color=#1cffe3 d="M1119 917l4 7 8 1-4-6z"/>
<path color=#ffbb00 d="M707 687l7 8 70 19-7-7z"/>
<path color=#0ffff0 d="M1140 927l4 7 8 2-4-7z"/>
<path color=#01fffe d="M1161 938l3 6 9 2-4-6z"/>
<path color=#37ffc8 d="M1085 898l4 6 8 2-4-7z"/>
<path color=#00f3ff d="M1181 948l4 7 8 1-3-6z"/>
<path color=#a2ff5d d="M932 815l5 7 27 7-5-8z"/>
<path color=#a52c31 d="M358 480l25 6 19 17-24-8z"/>
<path color=#00e6ff d="M1202 958l3 7 9 1-3-6z"/>
<path color=#00d8ff d="M1222 968l4 7 8 1-3-6z"/>
<path color=#2affd5 d="M1106 908l4 7 9 2-5-7z"/>
<path color=#f20809 d="M481 539l12 7 38 18-11-8z"/>
<path color=#e5ff1a d="M822 759l6 7 82 20-5-8z"/>
<path color=#ff5000 d="M590 609l8 7 56 19-8-8z"/>
<path color=#87ff78 d="M970 836l5 7 28 6-5-7z"/>
<path color=#1cffe3 d="M1127 919l4 6 9 2-4-6z"/>
<path color=#0ffff0 d="M1148 929l4 7 9 2-4-7z"/>
<path color=#6dff92 d="M1008 857l5 7 29 6-5-7z"/>
<path color=#01fffe d="M1169 940l4 6 8 2-3-7z"/>
<path color=#ffae00 d="M700 680l7 7 70 20-6-8z"/>
<path color=#37ffc8 d="M1093 899l4 7 9 2-4-7z"/>
<path color=#00f3ff d="M1190 950l3 6 9 2-3-6z"/>
<path color=#52ffad d="M1046 877l5 7 29 7-4-7z"/>
<path color=#00e6ff d="M1211 960l3 6 8 2-2-6z"/>
<path color=#2affd5 d="M1114 910l5 7 8 2-4-7z"/>
<path color=#1cffe3 d="M1136 921l4 6 8 2-3-7z"/>
<path color=#b0ff4f d="M926 808l6 7 27 6-5-7z"/>
<path color=#44ffbb d="M1080 891l5 7 8 1-4-7z"/>
<path color=#e51012 d="M468 532l13 7 39 17-12-7z"/>
<path color=#ff4300 d="M581 602l9 7 56 18-8-7z"/>
<path color=#f3ff0c d="M816 751l6 8 83 19-6-7z"/>
<path color=#0ffff0 d="M1157 931l4 7 8 2-3-7z"/>
<path color=#982f34 d="M323 474l35 6 20 15-35-8z"/>
<path color=#01fffe d="M1178 941l3 7 9 2-3-7z"/>
<path color=#37ffc8 d="M1102 901l4 7 8 2-3-7z"/>
<path color=#95ff6a d="M964 829l6 7 28 6-5-7z"/>
<path color=#00f3ff d="M1199 952l3 6 9 2-3-6z"/>
<path color=#00e6ff d="M1220 962l2 6 9 2-3-6z"/>
<path color=#8b3237 d="M199 468l124 6 20 13-137-17z"/>
<path color=#2affd5 d="M1123 912l4 7 9 2-4-7z"/>
<path color=#ffa000 d="M692 673l8 7 71 19-7-8z"/>
<path color=#7aff85 d="M1003 849l5 8 29 6-4-7z"/>
<path color=#1cffe3 d="M1145 922l3 7 9 2-4-7z"/>
<path color=#44ffbb d="M1089 892l4 7 9 2-4-7z"/>
<path color=#5fffa0 d="M1042 870l4 7 30 7-4-7z"/>
<path color=#0ffff0 d="M1166 933l3 7 9 1-3-6z"/>
<path color=#01fffe d="M1187 943l3 7 9 2-3-7z"/>
<path color=#37ffc8 d="M1111 903l3 7 9 2-4-7z"/>
<path color=#d9171b d="M454 525l14 7 40 17-14-8z"/>
<path color=#bdff42 d="M921 800l5 8 28 6-5-7z"/>
<path color=#00f3ff d="M1208 954l3 6 9 2-3-7z"/>
<path color=#ff3500 d="M572 594l9 8 57 18-9-8z"/>
<path color=#fffe00 d="M809 744l7 7 83 20-5-7z"/>
<path color=#2affd5 d="M1132 914l4 7 9 1-4-6z"/>
<path color=#52ffad d="M1076 884l4 7 9 1-4-7z"/>
<path color=#a2ff5d d="M959 821l5 8 29 6-4-7z"/>
<path color=#1cffe3 d="M1153 924l4 7 9 2-4-7z"/>
<path color=#44ffbb d="M1098 894l4 7 9 2-4-7z"/>
<path color=#ff9300 d="M685 665l7 8 72 18-6-7z"/>
<path color=#0ffff0 d="M1175 935l3 6 9 2-3-6z"/>
<path color=#87ff78 d="M998 842l5 7 30 7-5-7z"/>
<path color=#01fffe d="M1196 945l3 7 9 2-3-7z"/>
<path color=#37ffc8 d="M1119 905l4 7 9 2-4-7z"/>
<path color=#00f3ff d="M1217 955l3 7 8 2-2-7z"/>
<path color=#6dff92 d="M1037 863l5 7 30 7-4-7z"/>
<path color=#2affd5 d="M1141 916l4 6 8 2-3-7z"/>
<path color=#52ffad d="M1085 885l4 7 9 2-4-7z"/>
<path color=#cc1f24 d="M439 517l15 8 40 16-15-8z"/>
<path color=#ff2800 d="M562 587l10 7 57 18-9-8z"/>
<path color=#caff35 d="M915 793l6 7 28 7-5-7z"/>
<path color=#1cffe3 d="M1162 926l4 7 9 2-3-7z"/>
<path color=#fff100 d="M803 736l6 8 85 20-5-8z"/>
<path color=#44ffbb d="M1107 896l4 7 8 2-3-7z"/>
<path color=#0ffff0 d="M1184 937l3 6 9 2-3-6z"/>
<path color=#5fffa0 d="M1072 877l4 7 9 1-4-7z"/>
<path color=#01fffe d="M1205 947l3 7 9 1-3-6z"/>
<path color=#b0ff4f d="M954 814l5 7 30 7-5-7z"/>
<path color=#37ffc8 d="M1128 907l4 7 9 2-3-7z"/>
<path color=#ff8600 d="M677 658l8 7 73 19-7-8z"/>
<path color=#2affd5 d="M1150 917l3 7 9 2-3-7z"/>
<path color=#52ffad d="M1094 887l4 7 9 2-4-7z"/>
<path color=#95ff6a d="M993 835l5 7 30 7-4-7z"/>
<path color=#1cffe3 d="M1172 928l3 7 9 2-3-7z"/>
<path color=#bf262c d="M422 510l17 7 40 16-16-8z"/>
<path color=#ff1a00 d="M552 579l10 8 58 17-9-8z"/>
<path color=#44ffbb d="M1116 898l3 7 9 2-3-7z"/>
<path color=#0ffff0 d="M1193 939l3 6 9 2-3-7z"/>
<path color=#7aff85 d="M1033 856l4 7 31 7-4-8z"/>
<path color=#5fffa0 d="M1081 878l4 7 9 2-4-7z"/>
<path color=#d8ff27 d="M910 786l5 7 29 7-5-8z"/>
<path color=#ffe300 d="M797 729l6 7 86 20-5-7z"/>
<path color=#01fffe d="M1214 949l3 6 9 2-2-6z"/>
<path color=#8b3237 d="M206 470l137 17 39 11-161-26z"/>
<path color=#37ffc8 d="M1138 909l3 7 9 1-3-6z"/>
<path color=#2affd5 d="M1159 919l3 7 10 2-3-7z"/>
<path color=#52ffad d="M1103 889l4 7 9 2-4-7z"/>
<path color=#ff7800 d="M670 650l7 8 74 18-7-7z"/>
<path color=#bdff42 d="M949 807l5 7 30 7-5-8z"/>
<path color=#6dff92 d="M1068 870l4 7 9 1-4-7z"/>
<path color=#1cffe3 d="M1181 930l3 7 9 2-3-7z"/>
<path color=#44ffbb d="M1125 900l3 7 10 2-4-7z"/>
<path color=#b2292f d="M402 503l20 7 41 15-20-8z"/>
<path color=#0ffff0 d="M1202 940l3 7 9 2-2-7z"/>
<path color=#ff0d00 d="M542 572l10 7 59 17-10-7z"/>
<path color=#5fffa0 d="M1090 880l4 7 9 2-4-7z"/>
<path color=#a2ff5d d="M989 828l4 7 31 7-4-8z"/>
<path color=#37ffc8 d="M1147 911l3 6 9 2-3-6z"/>
<path color=#ffd600 d="M790 722l7 7 87 20-6-8z"/>
<path color=#2affd5 d="M1169 921l3 7 9 2-3-7z"/>
<path color=#52ffad d="M1112 891l4 7 9 2-3-7z"/>
<path color=#e5ff1a d="M905 778l5 8 29 6-5-7z"/>
<path color=#87ff78 d="M1028 849l5 7 31 6-4-7z"/>
<path color=#6dff92 d="M1077 871l4 7 9 2-4-7z"/>
<path color=#1cffe3 d="M1190 932l3 7 9 1-2-6z"/>
<path color=#ff6b00 d="M662 642l8 8 74 19-7-8z"/>
<path color=#44ffbb d="M1134 902l4 7 9 2-3-7z"/>
<path color=#0ffff0 d="M1212 942l2 7 10 2-3-7z"/>
<path color=#a52c31 d="M378 495l24 8 41 14-25-9z"/>
<path color=#caff35 d="M944 800l5 7 30 6-4-7z"/>
<path color=#5fffa0 d="M1099 882l4 7 9 2-3-7z"/>
<path color=#37ffc8 d="M1156 913l3 6 10 2-3-7z"/>
<path color=#7aff85 d="M1064 862l4 8 9 1-4-7z"/>
<path color=#ff0000 d="M531 564l11 8 59 17-10-8z"/>
<path color=#52ffad d="M1122 893l3 7 9 2-3-7z"/>
<path color=#2affd5 d="M1178 923l3 7 9 2-2-7z"/>
<path color=#b0ff4f d="M984 821l5 7 31 6-4-7z"/>
<path color=#6dff92 d="M1086 873l4 7 9 2-3-7z"/>
<path color=#982f34 d="M343 487l35 8 40 13-36-10z"/>
<path color=#1cffe3 d="M1200 934l2 6 10 2-2-6z"/>
<path color=#ffc900 d="M784 714l6 8 88 19-5-7z"/>
<path color=#44ffbb d="M1144 904l3 7 9 2-3-7z"/>
<path color=#f3ff0c d="M899 771l6 7 29 7-4-8z"/>
<path color=#ff5d00 d="M654 635l8 7 75 19-7-8z"/>
<path color=#95ff6a d="M1024 842l4 7 32 6-3-7z"/>
<path color=#5fffa0 d="M1109 884l3 7 10 2-4-7z"/>
<path color=#37ffc8 d="M1166 914l3 7 9 2-2-7z"/>
<path color=#7aff85 d="M1073 864l4 7 9 2-3-7z"/>
<path color=#d8ff27 d="M939 792l5 8 31 6-5-7z"/>
<path color=#52ffad d="M1131 895l3 7 10 2-3-7z"/>
<path color=#2affd5 d="M1188 925l2 7 10 2-2-7z"/>
<path color=#f20809 d="M520 556l11 8 60 17-11-8z"/>
<path color=#6dff92 d="M1096 875l3 7 10 2-4-7z"/>
<path color=#1cffe3 d="M1210 936l2 6 9 2-2-6z"/>
<path color=#87ff78 d="M1060 855l4 7 9 2-3-7z"/>
<path color=#44ffbb d="M1153 906l3 7 10 1-3-6z"/>
<path color=#8b3237 d="M221 472l161 26 61 12-194-33z"/>
<path color=#bdff42 d="M979 813l5 8 32 6-4-7z"/>
<path color=#5fffa0 d="M1118 886l4 7 9 2-3-7z"/>
<path color=#ffbb00 d="M777 707l7 7 89 20-5-8z"/>
<path color=#37ffc8 d="M1176 916l2 7 10 2-3-7z"/>
<path color=#7aff85 d="M1083 866l3 7 10 2-4-7z"/>
<path color=#fffe00 d="M894 764l5 7 31 6-5-7z"/>
<path color=#ff5000 d="M646 627l8 8 76 18-7-8z"/>
<path color=#52ffad d="M1141 897l3 7 9 2-2-7z"/>
<path color=#2affd5 d="M1198 927l2 7 10 2-3-7z"/>
<path color=#a2ff5d d="M1020 834l4 8 33 6-4-7z"/>
<path color=#e51012 d="M508 549l12 7 60 17-12-8z"/>
<path color=#6dff92 d="M1105 877l4 7 9 2-3-7z"/>
<path color=#87ff78 d="M1070 857l3 7 10 2-4-7z"/>
<path color=#44ffbb d="M1163 908l3 6 10 2-3-6z"/>
<path color=#e5ff1a d="M934 785l5 7 31 7-4-8z"/>
<path color=#5fffa0 d="M1128 888l3 7 10 2-3-7z"/>
<path color=#37ffc8 d="M1185 918l3 7 10 2-3-7z"/>
<path color=#7aff85 d="M1092 868l4 7 9 2-3-7z"/>
<path color=#95ff6a d="M1057 848l3 7 10 2-4-7z"/>
<path color=#ffae00 d="M771 699l6 8 91 19-6-7z"/>
<path color=#caff35 d="M975 806l4 7 33 7-4-8z"/>
<path color=#52ffad d="M1151 899l2 7 10 2-2-7z"/>
<path color=#ff4300 d="M638 620l8 7 77 18-7-7z"/>
<path color=#2affd5 d="M1207 929l3 7 9 2-2-7z"/>
<path color=#fff100 d="M889 756l5 8 31 6-5-7z"/>
<path color=#6dff92 d="M1115 879l3 7 10 2-3-7z"/>
<path color=#d9171b d="M494 541l14 8 60 16-12-9z"/>
<path color=#87ff78 d="M1079 859l4 7 9 2-3-7z"/>
<path color=#44ffbb d="M1173 910l3 6 9 2-2-7z"/>
<path color=#b0ff4f d="M1016 827l4 7 33 7-4-7z"/>
<path color=#5fffa0 d="M1138 890l3 7 10 2-3-7z"/>
<path color=#37ffc8 d="M1195 920l3 7 9 2-2-7z"/>
<path color=#7aff85 d="M1102 870l3 7 10 2-3-7z"/>
<path color=#f3ff0c d="M930 777l4 8 32 6-4-7z"/>
<path color=#95ff6a d="M1066 850l4 7 9 2-3-7z"/>
<path color=#52ffad d="M1161 901l2 7 10 2-2-7z"/>
<path color=#6dff92 d="M1125 881l3 7 10 2-3-7z"/>
<path color=#ff3500 d="M629 612l9 8 78 18-8-8z"/>
<path color=#ffa000 d="M764 691l7 8 91 20-5-8z"/>
<path color=#cc1f24 d="M479 533l15 8 62 15-15-8z"/>
<path color=#87ff78 d="M1089 861l3 7 10 2-3-7z"/>
<path color=#a2ff5d d="M1053 841l4 7 9 2-3-7z"/>
<path color=#d8ff27 d="M970 799l5 7 33 6-4-7z"/>
<path color=#44ffbb d="M1183 911l2 7 10 2-2-7z"/>
<path color=#ffe300 d="M884 749l5 7 31 7-5-8z"/>
<path color=#5fffa0 d="M1148 892l3 7 10 2-3-7z"/>
<path color=#37ffc8 d="M1205 922l2 7 10 2-1-7z"/>
<path color=#7aff85 d="M1112 872l3 7 10 2-3-7z"/>
<path color=#95ff6a d="M1076 852l3 7 10 2-3-7z"/>
<path color=#bdff42 d="M1012 820l4 7 33 7-3-8z"/>
<path color=#52ffad d="M1171 903l2 7 10 1-2-6z"/>
<path color=#fffe00 d="M925 770l5 7 32 7-5-8z"/>
<path color=#bf262c d="M463 525l16 8 62 15-16-9z"/>
<path color=#6dff92 d="M1135 883l3 7 10 2-3-7z"/>
<path color=#a2ff5d d="M1063 843l3 7 10 2-3-7z"/>
<path color=#87ff78 d="M1099 863l3 7 10 2-3-7z"/>
<path color=#ff2800 d="M620 604l9 8 79 18-8-8z"/>
<path color=#44ffbb d="M1193 913l2 7 10 2-2-7z"/>
<path color=#ff9300 d="M758 684l6 7 93 20-6-8z"/>
<path color=#5fffa0 d="M1158 894l3 7 10 2-3-7z"/>
<path color=#b0ff4f d="M1049 834l4 7 10 2-4-7z"/>
<path color=#7aff85 d="M1122 874l3 7 10 2-3-7z"/>
<path color=#e5ff1a d="M966 791l4 8 34 6-4-7z"/>
<path color=#95ff6a d="M1086 854l3 7 10 2-3-7z"/>
<path color=#ffd600 d="M878 741l6 8 31 6-5-7z"/>
<path color=#b2292f d="M443 517l20 8 62 14-20-9z"/>
<path color=#52ffad d="M1181 905l2 6 10 2-2-6z"/>
<path color=#6dff92 d="M1145 885l3 7 10 2-2-7z"/>
<path color=#a2ff5d d="M1073 845l3 7 10 2-3-7z"/>
<path color=#87ff78 d="M1109 865l3 7 10 2-3-7z"/>
<path color=#caff35 d="M1008 812l4 8 34 6-4-7z"/>
<path color=#44ffbb d="M1203 915l2 7 11 2-2-7z"/>
<path color=#fff100 d="M920 763l5 7 32 6-4-7z"/>
<path color=#8b3237 d="M249 477l194 33 88 14-230-40z"/>
<path color=#ff1a00 d="M611 596l9 8 80 18-9-8z"/>
<path color=#a52c31 d="M418 508l25 9 62 13-24-9z"/>
<path color=#982f34 d="M382 498l36 10 63 13-38-11z"/>
<path color=#5fffa0 d="M1168 896l3 7 10 2-2-7z"/>
<path color=#ff8600 d="M751 676l7 8 93 19-5-7z"/>
<path color=#b0ff4f d="M1059 836l4 7 10 2-4-7z"/>
<path color=#7aff85 d="M1132 876l3 7 10 2-2-7z"/>
<path color=#95ff6a d="M1096 856l3 7 10 2-3-7z"/>
<path color=#52ffad d="M1191 907l2 6 10 2-1-6z"/>
<path color=#ffc900 d="M873 734l5 7 32 7-5-8z"/>
<path color=#f3ff0c d="M962 784l4 7 34 7-4-8z"/>
<path color=#bdff42 d="M1046 826l3 8 10 2-3-8z"/>
<path color=#6dff92 d="M1156 887l2 7 10 2-2-7z"/>
<path color=#a2ff5d d="M1083 847l3 7 10 2-3-7z"/>
<path color=#87ff78 d="M1119 867l3 7 10 2-2-7z"/>
<path color=#ff0d00 d="M601 589l10 7 80 18-9-8z"/>
<path color=#5fffa0 d="M1179 898l2 7 10 2-2-7z"/>
<path color=#b0ff4f d="M1069 838l4 7 10 2-3-8z"/>
<path color=#7aff85 d="M1143 878l2 7 11 2-3-7z"/>
<path color=#95ff6a d="M1106 858l3 7 10 2-2-7z"/>
<path color=#ffe300 d="M915 755l5 8 33 6-5-7z"/>
<path color=#d8ff27 d="M1004 805l4 7 34 7-3-7z"/>
<path color=#ff7800 d="M744 669l7 7 95 20-6-8z"/>
<path color=#52ffad d="M1202 909l1 6 11 2-2-6z"/>
<path color=#bdff42 d="M1056 828l3 8 10 2-3-8z"/>
<path color=#6dff92 d="M1166 889l2 7 11 2-2-7z"/>
<path color=#a2ff5d d="M1093 849l3 7 10 2-3-7z"/>
<path color=#87ff78 d="M1130 869l2 7 11 2-3-7z"/>
<path color=#ffbb00 d="M868 726l5 8 32 6-5-8z"/>
<path color=#fffe00 d="M957 776l5 8 34 6-4-7z"/>
<path color=#caff35 d="M1042 819l4 7 10 2-4-7z"/>
<path color=#5fffa0 d="M1189 900l2 7 11 2-2-7z"/>
<path color=#ff0000 d="M591 581l10 8 81 17-9-8z"/>
<path color=#b0ff4f d="M1080 839l3 8 10 2-3-8z"/>
<path color=#7aff85 d="M1153 880l3 7 10 2-2-7z"/>
<path color=#95ff6a d="M1117 860l2 7 11 2-3-7z"/>
<path color=#ffd600 d="M910 748l5 7 33 7-4-8z"/>
<path color=#ff6b00 d="M737 661l7 8 96 19-6-8z"/>
<path color=#bdff42 d="M1066 830l3 8 11 1-4-7z"/>
<path color=#e5ff1a d="M1000 798l4 7 35 7-4-7z"/>
<path color=#6dff92 d="M1177 891l2 7 10 2-2-7z"/>
<path color=#a2ff5d d="M1103 851l3 7 11 2-3-7z"/>
<path color=#87ff78 d="M1140 871l3 7 10 2-2-7z"/>
<path color=#caff35 d="M1052 821l4 7 10 2-3-7z"/>
<path color=#ffae00 d="M862 719l6 7 32 6-5-7z"/>
<path color=#5fffa0 d="M1200 902l2 7 10 2-1-7z"/>
<path color=#f20809 d="M580 573l11 8 82 17-10-8z"/>
<path color=#b0ff4f d="M1090 841l3 8 10 2-3-8z"/>
<path color=#7aff85 d="M1164 882l2 7 11 2-2-7z"/>
<path color=#95ff6a d="M1127 862l3 7 10 2-2-7z"/>
<path color=#fff100 d="M953 769l4 7 35 7-4-7z"/>
<path color=#d8ff27 d="M1039 812l3 7 10 2-3-7z"/>
<path color=#bdff42 d="M1076 832l4 7 10 2-3-7z"/>
<path color=#6dff92 d="M1187 893l2 7 11 2-2-7z"/>
<path color=#a2ff5d d="M1114 853l3 7 10 2-2-7z"/>
<path color=#87ff78 d="M1151 873l2 7 11 2-2-7z"/>
<path color=#ff5d00 d="M730 653l7 8 97 19-6-8z"/>
<path color=#ffc900 d="M905 740l5 8 34 6-5-7z"/>
<path color=#f3ff0c d="M996 790l4 8 35 7-3-8z"/>
<path color=#caff35 d="M1063 823l3 7 10 2-3-7z"/>
<path color=#e51012 d="M568 565l12 8 83 17-11-9z"/>
<path color=#b0ff4f d="M1100 843l3 8 11 2-3-8z"/>
<path color=#95ff6a d="M1138 864l2 7 11 2-2-7z"/>
<path color=#7aff85 d="M1175 884l2 7 10 2-1-7z"/>
<path color=#ffa000 d="M857 711l5 8 33 6-5-8z"/>
<path color=#d8ff27 d="M1049 814l3 7 11 2-3-7z"/>
<path color=#ffe300 d="M948 762l5 7 35 7-4-8z"/>
<path color=#bdff42 d="M1087 834l3 7 10 2-2-7z"/>
<path color=#a2ff5d d="M1125 855l2 7 11 2-3-7z"/>
<path color=#6dff92 d="M1198 895l2 7 11 2-2-7z"/>
<path color=#87ff78 d="M1162 875l2 7 11 2-2-7z"/>
<path color=#e5ff1a d="M1035 805l4 7 10 2-3-8z"/>
<path color=#ff5000 d="M723 645l7 8 98 19-6-7z"/>
<path color=#d9171b d="M556 556l12 9 84 16-12-8z"/>
<path color=#caff35 d="M1073 825l3 7 11 2-3-7z"/>
<path color=#ffbb00 d="M900 732l5 8 34 7-4-8z"/>
<path color=#b0ff4f d="M1111 845l3 8 11 2-3-8z"/>
<path color=#95ff6a d="M1149 866l2 7 11 2-2-7z"/>
<path color=#7aff85 d="M1186 886l1 7 11 2-1-7z"/>
<path color=#fffe00 d="M992 783l4 7 36 7-4-7z"/>
<path color=#d8ff27 d="M1060 816l3 7 10 2-3-7z"/>
<path color=#ff9300 d="M851 703l6 8 33 6-5-7z"/>
<path color=#bdff42 d="M1098 836l2 7 11 2-2-7z"/>
<path color=#a2ff5d d="M1135 857l3 7 11 2-3-7z"/>
<path color=#87ff78 d="M1173 877l2 7 11 2-2-7z"/>
<path color=#e5ff1a d="M1046 806l3 8 11 2-4-8z"/>
<path color=#cc1f24 d="M541 548l15 8 84 17-13-9z"/>
<path color=#ffd600 d="M944 754l4 8 36 6-4-7z"/>
<path color=#caff35 d="M1084 827l3 7 11 2-3-7z"/>
<path color=#ff4300 d="M716 638l7 7 99 20-6-8z"/>
<path color=#b0ff4f d="M1122 847l3 8 10 2-2-8z"/>
<path color=#f3ff0c d="M1032 797l3 8 11 1-4-7z"/>
<path color=#95ff6a d="M1160 868l2 7 11 2-2-7z"/>
<path color=#7aff85 d="M1197 888l1 7 11 2-1-7z"/>
<path color=#ffae00 d="M895 725l5 7 35 7-5-8z"/>
<path color=#d8ff27 d="M1070 818l3 7 11 2-3-7z"/>
<path color=#bf242a d="M525 539l16 9 86 16-16-9z"/>
<path color=#bdff42 d="M1109 838l2 7 11 2-2-7z"/>
<path color=#fff100 d="M988 776l4 7 36 7-3-8z"/>
<path color=#ff8600 d="M846 696l5 7 34 7-5-8z"/>
<path color=#a2ff5d d="M1146 859l3 7 11 2-2-7z"/>
<path color=#87ff78 d="M1184 879l2 7 11 2-2-7z"/>
<path color=#e5ff1a d="M1056 808l4 8 10 2-3-8z"/>
<path color=#8b3237 d="M301 484l230 40 120 19-252-44z"/>
<path color=#982f34 d="M443 510l38 11 87 15-37-12z"/>
<path color=#caff35 d="M1095 829l3 7 11 2-3-7z"/>
<path color=#b2292e d="M505 530l20 9 86 16-19-9z"/>
<path color=#ff3500 d="M708 630l8 8 100 19-7-8z"/>
<path color=#ffc900 d="M939 747l5 7 36 7-4-8z"/>
<path color=#f3ff0c d="M1042 799l4 7 10 2-3-7z"/>
<path color=#b0ff4f d="M1133 849l2 8 11 2-2-8z"/>
<path color=#95ff6a d="M1171 870l2 7 11 2-2-7z"/>
<path color=#a52c31 d="M481 521l24 9 87 16-24-10z"/>
<path color=#d8ff27 d="M1081 820l3 7 11 2-3-7z"/>
<path color=#fffe00 d="M1028 790l4 7 10 2-3-7z"/>
<path color=#ffa000 d="M890 717l5 8 35 6-4-7z"/>
<path color=#bdff42 d="M1120 840l2 7 11 2-2-7z"/>
<path color=#a2ff5d d="M1158 861l2 7 11 2-2-7z"/>
<path color=#e5ff1a d="M1067 810l3 8 11 2-3-8z"/>
<path color=#87ff78 d="M1195 881l2 7 11 2-1-7z"/>
<path color=#ff7800 d="M840 688l6 8 34 6-5-8z"/>
<path color=#ffe300 d="M984 768l4 8 37 6-4-7z"/>
<path color=#caff35 d="M1106 831l3 7 11 2-3-7z"/>
<path color=#f3ff0c d="M1053 801l3 7 11 2-3-7z"/>
<path color=#b0ff4f d="M1144 851l2 8 12 2-2-8z"/>
<path color=#ff2800 d="M700 622l8 8 101 19-6-8z"/>
<path color=#95ff6a d="M1182 872l2 7 11 2-1-7z"/>
<path color=#ffbb00 d="M935 739l4 8 37 6-4-7z"/>
<path color=#d8ff27 d="M1092 822l3 7 11 2-2-7z"/>
<path color=#fffe00 d="M1039 792l3 7 11 2-3-7z"/>
<path color=#bdff42 d="M1131 842l2 7 11 2-2-7z"/>
<path color=#ff9300 d="M885 710l5 7 36 7-5-8z"/>
<path color=#a2ff5d d="M1169 863l2 7 11 2-1-7z"/>
<path color=#e5ff1a d="M1078 812l3 8 11 2-2-8z"/>
<path color=#fff100 d="M1025 782l3 8 11 2-3-8z"/>
<path color=#caff35 d="M1117 833l3 7 11 2-2-7z"/>
<path color=#ff6b00 d="M834 680l6 8 35 6-6-7z"/>
<path color=#f3ff0c d="M1064 803l3 7 11 2-2-7z"/>
<path color=#b0ff4f d="M1156 853l2 8 11 2-2-7z"/>
<path color=#ffd600 d="M980 761l4 7 37 7-3-7z"/>
<path color=#ff1a00 d="M691 614l9 8 103 19-8-8z"/>
<path color=#95ff6a d="M1194 874l1 7 12 2-2-7z"/>
<path color=#d8ff27 d="M1104 824l2 7 11 2-2-7z"/>
<path color=#fffe00 d="M1050 794l3 7 11 2-3-7z"/>
<path color=#bdff42 d="M1142 844l2 7 12 2-2-7z"/>
<path color=#ffae00 d="M930 731l5 8 37 7-4-8z"/>
<path color=#e5ff1a d="M1090 814l2 8 12 2-3-8z"/>
<path color=#a2ff5d d="M1181 865l1 7 12 2-2-7z"/>
<path color=#fff100 d="M1036 784l3 8 11 2-3-8z"/>
<path color=#ff8600 d="M880 702l5 8 36 6-4-7z"/>
<path color=#caff35 d="M1129 835l2 7 11 2-2-7z"/>
<path color=#ffe300 d="M1021 775l4 7 11 2-3-7z"/>
<path color=#f3ff0c d="M1076 805l2 7 12 2-3-7z"/>
<path color=#ff5d00 d="M828 672l6 8 35 7-5-8z"/>
<path color=#b0ff4f d="M1167 856l2 7 12 2-2-7z"/>
<path color=#ff0d00 d="M682 606l9 8 104 19-7-8z"/>
<path color=#d8ff27 d="M1115 826l2 7 12 2-2-7z"/>
<path color=#fffe00 d="M1061 796l3 7 12 2-3-7z"/>
<path color=#ffc900 d="M976 753l4 8 38 7-3-8z"/>
<path color=#bdff42 d="M1154 846l2 7 11 3-1-8z"/>
<path color=#e5ff1a d="M1101 816l3 8 11 2-2-7z"/>
<path color=#a2ff5d d="M1192 867l2 7 11 2-1-7z"/>
<path color=#fff100 d="M1047 786l3 8 11 2-3-8z"/>
<path color=#ffa000 d="M926 724l4 7 38 7-4-7z"/>
<path color=#caff35 d="M1140 837l2 7 12 2-2-7z"/>
<path color=#ff7800 d="M875 694l5 8 37 7-5-8z"/>
<path color=#ffe300 d="M1033 777l3 7 11 2-3-7z"/>
<path color=#f3ff0c d="M1087 807l3 7 11 2-2-7z"/>
<path color=#ff0000 d="M673 598l9 8 106 19-8-8z"/>
<path color=#b0ff4f d="M1179 858l2 7 11 2-1-7z"/>
<path color=#ff5000 d="M822 665l6 7 36 7-6-8z"/>
<path color=#ffd600 d="M1018 768l3 7 12 2-4-7z"/>
<path color=#d8ff27 d="M1127 828l2 7 11 2-2-7z"/>
<path color=#fffe00 d="M1073 798l3 7 11 2-3-7z"/>
<path color=#bdff42 d="M1166 848l1 8 12 2-1-7z"/>
<path color=#ffbb00 d="M972 746l4 7 39 7-4-7z"/>
<path color=#e5ff1a d="M1113 819l2 7 12 2-3-7z"/>
<path color=#fff100 d="M1058 788l3 8 12 2-3-8z"/>
<path color=#ff9300 d="M921 716l5 8 38 7-4-8z"/>
<path color=#caff35 d="M1152 839l2 7 12 2-2-7z"/>
<path color=#ffe300 d="M1044 779l3 7 11 2-3-7z"/>
<path color=#f20607 d="M663 590l10 8 107 19-9-8z"/>
<path color=#f3ff0c d="M1099 809l2 7 12 3-3-8z"/>
<path color=#ff6b00 d="M869 687l6 7 37 7-5-8z"/>
<path color=#b0ff4f d="M1191 860l1 7 12 2-1-7z"/>
<path color=#ff4300 d="M816 657l6 8 36 6-6-8z"/>
<path color=#ffd600 d="M1029 770l4 7 11 2-3-7z"/>
<path color=#d8ff27 d="M1138 830l2 7 12 2-2-7z"/>
<path color=#fffe00 d="M1084 800l3 7 12 2-3-7z"/>
<path color=#bdff42 d="M1178 851l1 7 12 2-1-7z"/>
<path color=#ffc900 d="M1015 760l3 8 11 2-3-8z"/>
<path color=#8b3237 d="M399 499l252 44 46 7-253-44z"/>
<path color=#fff100 d="M1070 790l3 8 11 2-2-7z"/>
<path color=#e5ff1a d="M1124 821l3 7 11 2-2-7z"/>
<path color=#ffae00 d="M968 738l4 8 39 7-3-8z"/>
<path color=#e50c0e d="M652 581l11 9 108 19-9-9z"/>
<path color=#caff35 d="M1164 841l2 7 12 3-2-8z"/>
<path color=#ffe300 d="M1055 781l3 7 12 2-3-7z"/>
<path color=#f3ff0c d="M1110 811l3 8 11 2-2-8z"/>
<path color=#ff8600 d="M917 709l4 7 39 7-5-8z"/>
<path color=#ffd600 d="M1041 772l3 7 11 2-2-7z"/>
<path color=#ff5d00 d="M864 679l5 8 38 6-5-7z"/>
<path color=#d8ff27 d="M1150 832l2 7 12 2-2-7z"/>
<path color=#ff3500 d="M809 649l7 8 36 6-6-8z"/>
<path color=#fffe00 d="M1096 802l3 7 11 2-2-7z"/>
<path color=#ffc900 d="M1026 762l3 8 12 2-3-8z"/>
<path color=#bdff42 d="M1190 853l1 7 12 2-1-7z"/>
<path color=#fff100 d="M1082 793l2 7 12 2-2-7z"/>
<path color=#d81214 d="M640 573l12 8 110 19-11-8z"/>
<path color=#e5ff1a d="M1136 823l2 7 12 2-2-7z"/>
<path color=#ffbb00 d="M1011 753l4 7 11 2-3-7z"/>
<path color=#ffe300 d="M1067 783l3 7 12 3-3-8z"/>
<path color=#caff35 d="M1176 843l2 8 12 2-2-7z"/>
<path color=#f3ff0c d="M1122 813l2 8 12 2-2-8z"/>
<path color=#ffa000 d="M964 731l4 7 40 7-4-7z"/>
<path color=#ffd600 d="M1053 774l2 7 12 2-3-7z"/>
<path color=#ff7800 d="M912 701l5 8 38 6-4-7z"/>
<path color=#d8ff27 d="M1162 834l2 7 12 2-1-7z"/>
<path color=#fffe00 d="M1108 804l2 7 12 2-2-7z"/>
<path color=#ff5000 d="M858 671l6 8 38 7-5-8z"/>
<path color=#ff2800 d="M803 641l6 8 37 6-6-7z"/>
<path color=#cb181a d="M627 564l13 9 111 19-12-9z"/>
<path color=#ffc900 d="M1038 764l3 8 12 2-3-8z"/>
<path color=#fff100 d="M1094 795l2 7 12 2-2-7z"/>
<path color=#e5ff1a d="M1148 825l2 7 12 2-1-7z"/>
<path color=#ffbb00 d="M1023 755l3 7 12 2-3-7z"/>
<path color=#ffe300 d="M1079 785l3 8 12 2-3-8z"/>
<path color=#be1d20 d="M611 555l16 9 112 19-14-9z"/>
<path color=#caff35 d="M1188 846l2 7 12 2-1-7z"/>
<path color=#ffae00 d="M1008 745l3 8 12 2-4-8z"/>
<path color=#f3ff0c d="M1134 815l2 8 12 2-1-7z"/>
<path color=#982e32 d="M531 524l37 12 118 19-35-12z"/>
<path color=#ffd600 d="M1064 776l3 7 12 2-2-7z"/>
<path color=#ff9300 d="M960 723l4 8 40 7-3-8z"/>
<path color=#fffe00 d="M1120 806l2 7 12 2-1-7z"/>
<path color=#f72603 d="M795 633l8 8 37 7-7-8z"/>
<path color=#d8ff27 d="M1175 836l1 7 12 3-1-8z"/>
<path color=#ff6b00 d="M907 693l5 8 39 7-4-8z"/>
<path color=#b22326 d="M592 546l19 9 114 19-17-9z"/>
<path color=#ff4300 d="M852 663l6 8 39 7-6-8z"/>
<path color=#ffc900 d="M1050 766l3 8 11 2-2-8z"/>
<path color=#a5282c d="M568 536l24 10 116 19-22-10z"/>
<path color=#fff100 d="M1106 797l2 7 12 2-2-7z"/>
<path color=#e5ff1a d="M1161 827l1 7 13 2-2-7z"/>
<path color=#ffbb00 d="M1035 757l3 7 12 2-3-7z"/>
<path color=#ffe300 d="M1091 787l3 8 12 2-2-8z"/>
<path color=#ffae00 d="M1019 747l4 8 12 2-4-8z"/>
<path color=#f3ff0c d="M1147 818l1 7 13 2-2-7z"/>
<path color=#8b3236 d="M444 506l253 44 51 7-249-43z"/>
<path color=#ffd600 d="M1077 778l2 7 12 2-2-7z"/>
<path color=#ffa000 d="M1004 738l4 7 11 2-3-7z"/>
<path color=#ef2407 d="M788 625l7 8 38 7-7-8z"/>
<path color=#fffe00 d="M1133 808l1 7 13 3-2-8z"/>
<path color=#d8ff27 d="M1187 838l1 8 13 2-1-7z"/>
<path color=#ff8600 d="M955 715l5 8 41 7-4-7z"/>
<path color=#fb3c02 d="M846 655l6 8 39 7-5-8z"/>
<path color=#ffc900 d="M1062 768l2 8 13 2-3-8z"/>
<path color=#ff5d00 d="M902 686l5 7 40 7-5-8z"/>
<path color=#fff100 d="M1118 799l2 7 13 2-2-7z"/>
<path color=#e5ff1a d="M1173 829l2 7 12 2-1-7z"/>
<path color=#ffbb00 d="M1047 759l3 7 12 2-3-7z"/>
<path color=#ffe300 d="M1104 789l2 8 12 2-2-8z"/>
<path color=#ffae00 d="M1031 749l4 8 12 2-3-8z"/>
<path color=#f3ff0c d="M1159 820l2 7 12 2-1-7z"/>
<path color=#ffa000 d="M1016 740l3 7 12 2-3-7z"/>
<path color=#ffd600 d="M1089 780l2 7 13 2-3-7z"/>
<path color=#e7230b d="M780 617l8 8 38 7-7-9z"/>
<path color=#fffe00 d="M1145 810l2 8 12 2-1-7z"/>
<path color=#ff9300 d="M1001 730l3 8 12 2-3-8z"/>
<path color=#ffc900 d="M1074 770l3 8 12 2-3-7z"/>
<path color=#f33905 d="M840 648l6 7 40 7-6-8z"/>
<path color=#ff7800 d="M951 708l4 7 42 8-4-8z"/>
<path color=#fd5301 d="M897 678l5 8 40 6-4-7z"/>
<path color=#fff100 d="M1131 801l2 7 12 2-2-7z"/>
<path color=#ffbb00 d="M1059 761l3 7 12 2-3-7z"/>
<path color=#e5ff1a d="M1186 831l1 7 13 3-1-8z"/>
<path color=#ffe300 d="M1116 791l2 8 13 2-2-7z"/>
<path color=#ffae00 d="M1044 751l3 8 12 2-3-8z"/>
<path color=#f3ff0c d="M1172 822l1 7 13 2-1-7z"/>
<path color=#de220f d="M771 609l9 8 39 6-8-8z"/>
<path color=#ffa000 d="M1028 742l3 7 13 2-3-7z"/>
<path color=#ffd600 d="M1101 782l3 7 12 2-2-7z"/>
<path color=#ff9300 d="M1013 732l3 8 12 2-3-8z"/>
<path color=#fffe00 d="M1158 813l1 7 13 2-1-7z"/>
<path color=#ffc900 d="M1086 773l3 7 12 2-2-7z"/>
<path color=#ec3709 d="M833 640l7 8 40 6-6-8z"/>
<path color=#ff8600 d="M997 723l4 7 12 2-4-7z"/>
<path color=#f74f04 d="M891 670l6 8 41 7-5-8z"/>
<path color=#fff100 d="M1143 803l2 7 13 3-2-8z"/>
<path color=#ff6b00 d="M947 700l4 8 42 7-3-8z"/>
<path color=#ffbb00 d="M1071 763l3 7 12 3-2-8z"/>
<path color=#ffae00 d="M1056 753l3 8 12 2-2-7z"/>
<path color=#d52113 d="M762 600l9 9 40 6-9-8z"/>
<path color=#ffe300 d="M1129 794l2 7 12 2-1-7z"/>
<path color=#f3ff0c d="M1185 824l1 7 13 2-1-7z"/>
<path color=#ffa000 d="M1041 744l3 7 12 2-3-7z"/>
<path color=#ffd600 d="M1114 784l2 7 13 3-2-8z"/>
<path color=#ff9300 d="M1025 734l3 8 13 2-3-8z"/>
<path color=#fffe00 d="M1171 815l1 7 13 2-1-7z"/>
<path color=#e4340c d="M826 632l7 8 41 6-7-8z"/>
<path color=#ffc900 d="M1099 775l2 7 13 2-2-7z"/>
<path color=#ff8600 d="M1009 725l4 7 12 2-3-7z"/>
<path color=#fff100 d="M1156 805l2 8 13 2-2-8z"/>
<path color=#f04c07 d="M886 662l5 8 42 7-5-8z"/>
<path color=#ffbb00 d="M1084 765l2 8 13 2-2-8z"/>
<path color=#fe7900 d="M993 715l4 8 12 2-3-8z"/>
<path color=#cc2217 d="M751 592l11 8 40 7-10-8z"/>
<path color=#f96603 d="M942 692l5 8 43 7-4-7z"/>
<path color=#ffae00 d="M1069 756l2 7 13 2-2-7z"/>
<path color=#ffe300 d="M1142 796l1 7 13 2-1-7z"/>
<path color=#8a3235 d="M499 514l249 43 56 9-239-43z"/>
<path color=#ffa000 d="M1053 746l3 7 13 3-3-8z"/>
<path color=#ffd600 d="M1127 786l2 8 13 2-2-7z"/>
<path color=#ff9300 d="M1038 736l3 8 12 2-3-7z"/>
<path color=#dc3310 d="M819 623l7 9 41 6-6-8z"/>
<path color=#c3221b d="M739 583l12 9 41 7-11-9z"/>
<path color=#fffe00 d="M1184 817l1 7 13 2-1-7z"/>
<path color=#ffc900 d="M1112 777l2 7 13 2-2-7z"/>
<path color=#fe8700 d="M1022 727l3 7 13 2-3-7z"/>
<path color=#fc7d02 d="M1006 717l3 8 13 2-3-8z"/>
<path color=#ffbb00 d="M1097 767l2 8 13 2-2-8z"/>
<path color=#fff100 d="M1169 807l2 8 13 2-1-7z"/>
<path color=#e9480a d="M880 654l6 8 42 7-5-8z"/>
<path color=#f87403 d="M990 707l3 8 13 2-4-8z"/>
<path color=#f36206 d="M938 685l4 7 44 8-4-8z"/>
<path color=#ffae00 d="M1082 758l2 7 13 2-2-7z"/>
<path color=#b92220 d="M725 574l14 9 42 7-13-9z"/>
<path color=#ffe300 d="M1155 798l1 7 13 2-1-7z"/>
<path color=#972c30 d="M651 543l35 12 45 7-34-12z"/>
<path color=#ffa000 d="M1066 748l3 8 13 2-3-8z"/>
<path color=#ffd600 d="M1140 789l2 7 13 2-2-7z"/>
<path color=#d43113 d="M811 615l8 8 42 7-8-8z"/>
<path color=#fe9400 d="M1050 739l3 7 13 2-2-7z"/>
<path color=#af2324 d="M708 565l17 9 43 7-16-9z"/>
<path color=#ffc900 d="M1125 779l2 7 13 3-2-8z"/>
<path color=#fc8b02 d="M1035 729l3 7 12 3-2-8z"/>
<path color=#a42629 d="M686 555l22 10 44 7-21-10z"/>
<path color=#f98203 d="M1019 719l3 8 13 2-3-8z"/>
<path color=#e2460d d="M874 646l6 8 43 7-5-7z"/>
<path color=#ffbb00 d="M1110 769l2 8 13 2-2-7z"/>
<path color=#fff100 d="M1183 810l1 7 13 2-1-7z"/>
<path color=#f67804 d="M1002 709l4 8 13 2-4-7z"/>
<path color=#ffae00 d="M1095 760l2 7 13 2-2-7z"/>
<path color=#f27006 d="M986 700l4 7 12 2-3-7z"/>
<path color=#ec5e09 d="M933 677l5 8 44 7-4-8z"/>
<path color=#ffe300 d="M1168 800l1 7 14 3-1-8z"/>
<path color=#cc2f17 d="M802 607l9 8 42 7-8-8z"/>
<path color=#fea100 d="M1079 750l3 8 13 2-3-8z"/>
<path color=#ffd600 d="M1153 791l2 7 13 2-1-7z"/>
<path color=#fc9802 d="M1064 741l2 7 13 2-2-7z"/>
<path color=#f98e03 d="M1048 731l2 8 14 2-3-8z"/>
<path color=#ffc900 d="M1138 781l2 8 13 2-1-8z"/>
<path color=#f68504 d="M1032 721l3 8 13 2-3-8z"/>
<path color=#db4211 d="M867 638l7 8 44 8-6-8z"/>
<path color=#ffbb00 d="M1123 772l2 7 13 2-1-7z"/>
<path color=#f37d06 d="M1015 712l4 7 13 2-4-7z"/>
<path color=#c42e1b d="M792 599l10 8 43 7-9-8z"/>
<path color=#f07407 d="M999 702l3 7 13 3-3-8z"/>
<path color=#feae00 d="M1108 762l2 7 13 3-1-8z"/>
<path color=#e65a0c d="M928 669l5 8 45 7-5-7z"/>
<path color=#ffe300 d="M1182 802l1 8 13 2 0-7z"/>
<path color=#ec6b09 d="M982 692l4 8 13 2-4-8z"/>
<path color=#fca501 d="M1092 752l3 8 13 2-2-7z"/>
<path color=#ffd600 d="M1167 793l1 7 14 2-1-7z"/>
<path color=#f99c03 d="M1077 743l2 7 13 2-2-7z"/>
<path color=#f69304 d="M1061 733l3 8 13 2-3-8z"/>
<path color=#ffc900 d="M1152 783l1 8 14 2-1-7z"/>
<path color=#bc2d1f d="M781 590l11 9 44 7-10-9z"/>
<path color=#d34014 d="M861 630l6 8 45 8-6-8z"/>
<path color=#f38905 d="M1045 723l3 8 13 2-3-7z"/>
<path color=#febc00 d="M1137 774l1 7 14 2-1-7z"/>
<path color=#f08107 d="M1028 714l4 7 13 2-3-7z"/>
<path color=#ed7708 d="M1012 704l3 8 13 2-3-8z"/>
<path color=#fcb301 d="M1122 764l1 8 14 2-2-7z"/>
<path color=#ea700a d="M995 694l4 8 13 2-4-8z"/>
<path color=#df560e d="M923 661l5 8 45 8-4-8z"/>
<path color=#e6670b d="M978 684l4 8 13 2-4-7z"/>
<path color=#b32c23 d="M768 581l13 9 45 7-12-9z"/>
<path color=#f9a903 d="M1106 755l2 7 14 2-2-7z"/>
<path color=#ffd600 d="M1181 795l1 7 14 3-1-7z"/>
<path color=#f6a004 d="M1090 745l2 7 14 3-2-8z"/>
<path color=#962d30 d="M697 550l34 12 48 7-31-12z"/>
<path color=#cc3d17 d="M853 622l8 8 45 8-7-8z"/>
<path color=#f49605 d="M1074 735l3 8 13 2-2-7z"/>
<path color=#fec900 d="M1166 786l1 7 14 2-1-7z"/>
<path color=#aa2c27 d="M752 572l16 9 46 7-15-9z"/>
<path color=#8a3135 d="M565 523l239 43 62 9-220-40z"/>
<path color=#f18d07 d="M1058 726l3 7 13 2-2-7z"/>
<path color=#a02c2b d="M731 562l21 10 47 7-20-10z"/>
<path color=#fcbf01 d="M1151 776l1 7 14 3-1-8z"/>
<path color=#ee8408 d="M1042 716l3 7 13 3-3-8z"/>
<path color=#ea7c09 d="M1025 706l3 8 14 2-3-8z"/>
<path color=#f9b603 d="M1135 767l2 7 14 2-2-7z"/>
<path color=#e7730b d="M1008 696l4 8 13 2-3-7z"/>
<path color=#d95211 d="M918 654l5 7 46 8-5-8z"/>
<path color=#e46a0c d="M991 687l4 7 13 2-4-7z"/>
<path color=#f7ac04 d="M1120 757l2 7 13 3-1-8z"/>
<path color=#e0620e d="M973 677l5 7 13 3-4-8z"/>
<path color=#c43a1b d="M845 614l8 8 46 8-7-9z"/>
<path color=#f4a305 d="M1104 747l2 8 14 2-2-7z"/>
<path color=#f19a06 d="M1088 738l2 7 14 2-2-7z"/>
<path color=#fccd01 d="M1180 788l1 7 14 3-1-8z"/>
<path color=#ee9108 d="M1072 728l2 7 14 3-2-8z"/>
<path color=#eb8809 d="M1055 718l3 8 14 2-3-8z"/>
<path color=#f9c303 d="M1165 778l1 8 14 2-1-7z"/>
<path color=#e87f0a d="M1039 708l3 8 13 2-2-7z"/>
<path color=#e5770c d="M1022 699l3 7 14 2-3-7z"/>
<path color=#f7ba04 d="M1149 769l2 7 14 2-2-7z"/>
<path color=#d24f14 d="M912 646l6 8 46 7-5-8z"/>
<path color=#e16e0e d="M1004 689l4 7 14 3-4-8z"/>
<path color=#bd381e d="M836 606l9 8 47 7-8-8z"/>
<path color=#de660f d="M987 679l4 8 13 2-3-8z"/>
<path color=#f4b005 d="M1134 759l1 8 14 2-1-7z"/>
<path color=#da5e11 d="M969 669l4 8 14 2-4-8z"/>
<path color=#f1a706 d="M1118 750l2 7 14 2-2-7z"/>
<path color=#ef9e07 d="M1102 740l2 7 14 3-2-8z"/>
<path color=#ec9409 d="M1086 730l2 8 14 2-2-8z"/>
<path color=#e98c0a d="M1069 720l3 8 14 2-3-7z"/>
<path color=#b53622 d="M826 597l10 9 48 7-9-8z"/>
<path color=#f7c704 d="M1179 781l1 7 14 2-1-7z"/>
<path color=#e6830c d="M1053 711l2 7 14 2-2-7z"/>
<path color=#cb4b18 d="M906 638l6 8 47 7-5-8z"/>
<path color=#e27a0d d="M1036 701l3 7 14 3-3-8z"/>
<path color=#f4bd05 d="M1163 771l2 7 14 3-1-7z"/>
<path color=#df710f d="M1018 691l4 8 14 2-4-8z"/>
<path color=#db6910 d="M1001 681l3 8 14 2-3-8z"/>
<path color=#d76112 d="M983 671l4 8 14 2-4-8z"/>
<path color=#d35a14 d="M964 661l5 8 14 2-5-8z"/>
<path color=#f2b406 d="M1148 762l1 7 14 2-1-7z"/>
<path color=#efaa07 d="M1132 752l2 7 14 3-2-8z"/>
<path color=#ad3425 d="M814 588l12 9 49 8-11-9z"/>
<path color=#eca109 d="M1116 742l2 8 14 2-2-7z"/>
<path color=#e9980a d="M1100 732l2 8 14 2-2-7z"/>
<path color=#8a3235 d="M646 535l220 40 19 3-213-39z"/>
<path color=#e68f0b d="M1083 723l3 7 14 2-2-7z"/>
<path color=#c5471b d="M899 630l7 8 48 7-6-8z"/>
<path color=#943131 d="M748 557l31 12 54 8-29-11z"/>
<path color=#e3860d d="M1067 713l2 7 14 3-2-8z"/>
<path color=#a53329 d="M799 579l15 9 50 8-13-9z"/>
<path color=#e07d0e d="M1050 703l3 8 14 2-3-8z"/>
<path color=#f2c106 d="M1178 774l1 7 14 2 0-7z"/>
<path color=#dd7510 d="M1032 693l4 8 14 2-3-8z"/>
<path color=#d96d11 d="M1015 683l3 8 14 2-3-7z"/>
<path color=#9d322d d="M779 569l20 10 52 8-18-10z"/>
<path color=#d56513 d="M997 673l4 8 14 2-4-7z"/>
<path color=#cd5617 d="M959 653l5 8 14 2-4-8z"/>
<path color=#d15d15 d="M978 663l5 8 14 2-4-7z"/>
<path color=#f0b707 d="M1162 764l1 7 15 3-1-8z"/>
<path color=#edae08 d="M1146 754l2 8 14 2-1-7z"/>
<path color=#eaa40a d="M1130 745l2 7 14 2-1-7z"/>
<path color=#e79b0b d="M1114 735l2 7 14 3-1-8z"/>
<path color=#be441e d="M892 621l7 9 49 7-6-8z"/>
<path color=#e4930c d="M1098 725l2 7 14 3-2-8z"/>
<path color=#e1890e d="M1081 715l2 8 15 2-2-7z"/>
<path color=#de810f d="M1064 705l3 8 14 2-2-7z"/>
<path color=#da7811 d="M1047 695l3 8 14 2-3-7z"/>
<path color=#c7521a d="M954 645l5 8 15 2-5-7z"/>
<path color=#d77012 d="M1029 686l3 7 15 2-3-7z"/>
<path color=#cb5918 d="M974 655l4 8 15 3-5-8z"/>
<path color=#d36814 d="M1011 676l4 7 14 3-4-8z"/>
<path color=#cf6016 d="M993 666l4 7 14 3-4-8z"/>
<path color=#893336 d="M672 539l213 39 19 3-205-38z"/>
<path color=#edba08 d="M1177 766l1 8 15 2-1-7z"/>
<path color=#ebb109 d="M1161 757l1 7 15 2-1-7z"/>
<path color=#b74121 d="M884 613l8 8 50 8-7-8z"/>
<path color=#e8a70b d="M1145 747l1 7 15 3-1-8z"/>
<path color=#e59e0c d="M1129 737l1 8 15 2-1-8z"/>
<path color=#e2960d d="M1112 727l2 8 15 2-2-7z"/>
<path color=#df8d0f d="M1096 718l2 7 14 2-2-7z"/>
<path color=#dc8410 d="M1079 708l2 7 15 3-3-8z"/>
<path color=#c04e1d d="M948 637l6 8 15 3-6-8z"/>
<path color=#d87b12 d="M1061 698l3 7 15 3-3-8z"/>
<path color=#c5551a d="M969 648l5 7 14 3-5-8z"/>
<path color=#d57313 d="M1044 688l3 7 14 3-3-8z"/>
<path color=#c95c19 d="M988 658l5 8 14 2-4-8z"/>
<path color=#d16b15 d="M1025 678l4 8 15 2-4-8z"/>
<path color=#cd6317 d="M1007 668l4 8 14 2-3-8z"/>
<path color=#b03e24 d="M875 605l9 8 51 8-8-8z"/>
<path color=#e8b40a d="M1176 759l1 7 15 3-1-8z"/>
<path color=#e6aa0c d="M1160 749l1 8 15 2-1-7z"/>
<path color=#893436 d="M699 543l205 38 20 3-196-36z"/>
<path color=#e3a10d d="M1144 739l1 8 15 2-1-7z"/>
<path color=#e0990e d="M1127 730l2 7 15 2-2-7z"/>
<path color=#ba4a20 d="M942 629l6 8 15 3-6-8z"/>
<path color=#a83b27 d="M864 596l11 9 52 8-9-9z"/>
<path color=#dd9010 d="M1110 720l2 7 15 3-1-8z"/>
<path color=#bf511d d="M963 640l6 8 14 2-5-8z"/>
<path color=#d98711 d="M1093 710l3 8 14 2-1-8z"/>
<path color=#d67e13 d="M1076 700l3 8 14 2-2-7z"/>
<path color=#c3571b d="M983 650l5 8 15 2-5-8z"/>
<path color=#d37614 d="M1058 690l3 8 15 2-3-7z"/>
<path color=#c75f19 d="M1003 660l4 8 15 2-4-8z"/>
<path color=#cf6e16 d="M1040 680l4 8 14 2-3-7z"/>
<path color=#cb6618 d="M1022 670l3 8 15 2-3-7z"/>
<path color=#a1382b d="M851 587l13 9 54 8-12-9z"/>
<path color=#923432 d="M804 566l29 11 58 9-25-11z"/>
<path color=#e4ae0c d="M1175 752l1 7 15 2 0-7z"/>
<path color=#b34623 d="M935 621l7 8 15 3-6-9z"/>
<path color=#99362e d="M833 577l18 10 55 8-15-9z"/>
<path color=#e1a40e d="M1159 742l1 7 15 3-1-8z"/>
<path color=#de9c0f d="M1142 732l2 7 15 3-1-7z"/>
<path color=#b84c20 d="M957 632l6 8 15 2-5-8z"/>
<path color=#db9211 d="M1126 722l1 8 15 2-1-7z"/>
<path color=#bd531e d="M978 642l5 8 15 2-4-8z"/>
<path color=#d78912 d="M1109 712l1 8 16 2-2-7z"/>
<path color=#c15a1c d="M998 652l5 8 15 2-4-7z"/>
<path color=#d48214 d="M1091 703l2 7 16 2-2-7z"/>
<path color=#d17915 d="M1073 693l3 7 15 3-2-8z"/>
<path color=#c5611a d="M1018 662l4 8 15 3-4-8z"/>
<path color=#cd7117 d="M1055 683l3 7 15 3-2-8z"/>
<path color=#c96918 d="M1037 673l3 7 15 3-3-8z"/>
<path color=#893436 d="M728 548l196 36 20 3-185-35z"/>
<path color=#ac4226 d="M927 613l8 8 16 2-8-8z"/>
<path color=#b24823 d="M951 623l6 9 16 2-7-8z"/>
<path color=#dfa80f d="M1174 744l1 8 16 2-1-7z"/>
<path color=#b74f21 d="M973 634l5 8 16 2-6-8z"/>
<path color=#dc9e10 d="M1158 735l1 7 15 2-1-7z"/>
<path color=#d99611 d="M1141 725l1 7 16 3-1-8z"/>
<path color=#bb551f d="M994 644l4 8 16 3-5-8z"/>
<path color=#d58d13 d="M1124 715l2 7 15 3-1-8z"/>
<path color=#bf5c1d d="M1014 655l4 7 15 3-4-8z"/>
<path color=#d28414 d="M1107 705l2 7 15 3-2-8z"/>
<path color=#a63f29 d="M918 604l9 9 16 2-9-8z"/>
<path color=#c4641b d="M1033 665l4 8 15 2-3-8z"/>
<path color=#cf7c16 d="M1089 695l2 8 16 2-3-8z"/>
<path color=#c86b19 d="M1052 675l3 8 16 2-3-8z"/>
<path color=#cb7418 d="M1071 685l2 8 16 2-3-8z"/>
<path color=#ab4526 d="M943 615l8 8 15 3-7-8z"/>
<path color=#9f3c2c d="M906 595l12 9 16 3-11-9z"/>
<path color=#b04a24 d="M966 626l7 8 15 2-5-8z"/>
<path color=#b55122 d="M988 636l6 8 15 3-5-8z"/>
<path color=#883436 d="M759 552l185 35 21 3-173-33z"/>
<path color=#daa111 d="M1173 737l1 7 16 3-1-7z"/>
<path color=#d79812 d="M1157 727l1 8 15 2 0-7z"/>
<path color=#ba5820 d="M1009 647l5 8 15 2-4-8z"/>
<path color=#903632 d="M866 575l25 11 18 3-24-11z"/>
<path color=#98392f d="M891 586l15 9 17 3-14-9z"/>
<path color=#d48f14 d="M1140 717l1 8 16 2-1-7z"/>
<path color=#be5f1e d="M1029 657l4 8 16 2-4-7z"/>
<path color=#d08715 d="M1122 707l2 8 16 2-2-7z"/>
<path color=#c2661c d="M1049 667l3 8 16 2-3-7z"/>
<path color=#a54129 d="M934 607l9 8 16 3-8-9z"/>
<path color=#cd7e17 d="M1104 697l3 8 15 2-2-7z"/>
<path color=#c66e1a d="M1068 677l3 8 15 2-2-7z"/>
<path color=#c97618 d="M1086 687l3 8 15 2-2-7z"/>
<path color=#aa4627 d="M959 618l7 8 17 2-7-8z"/>
<path color=#af4c24 d="M983 628l5 8 16 3-5-8z"/>
<path color=#9e3d2c d="M923 598l11 9 17 2-10-9z"/>
<path color=#b45322 d="M1004 639l5 8 16 2-4-8z"/>
<path color=#b85a20 d="M1025 649l4 8 16 3-3-8z"/>
<path color=#d59b13 d="M1173 730l0 7 16 3 0-8z"/>
<path color=#d29215 d="M1156 720l1 7 16 3-1-8z"/>
<path color=#bc611e d="M1045 660l4 7 16 3-3-8z"/>
<path color=#973a2f d="M909 589l14 9 18 2-14-9z"/>
<path color=#cf8916 d="M1138 710l2 7 16 3-2-8z"/>
<path color=#c0691d d="M1065 670l3 7 16 3-3-8z"/>
<path color=#903733 d="M885 578l24 11 18 2-23-10z"/>
<path color=#cb8118 d="M1120 700l2 7 16 3-1-8z"/>
<path color=#a3422a d="M951 609l8 9 17 2-8-8z"/>
<path color=#c4701b d="M1084 680l2 7 16 3-2-8z"/>
<path color=#c87919 d="M1102 690l2 7 16 3-1-8z"/>
<path color=#a94827 d="M976 620l7 8 16 3-6-8z"/>
<path color=#883536 d="M792 557l173 33 22 3-161-31z"/>
<path color=#ae4e25 d="M999 631l5 8 17 2-5-8z"/>
<path color=#9d3f2d d="M941 600l10 9 17 3-10-9z"/>
<path color=#b25523 d="M1021 641l4 8 17 3-4-8z"/>
<path color=#b75c21 d="M1042 652l3 8 17 2-4-8z"/>
<path color=#d09415 d="M1172 722l1 8 16 2-1-7z"/>
<path color=#bb631f d="M1062 662l3 8 16 2-3-7z"/>
<path color=#cd8c17 d="M1154 712l2 8 16 2-1-7z"/>
<path color=#bf6b1d d="M1081 672l3 8 16 2-2-7z"/>
<path color=#c98418 d="M1137 702l1 8 16 2-1-7z"/>
<path color=#c2731c d="M1100 682l2 8 17 2-2-7z"/>
<path color=#c67b1a d="M1119 692l1 8 17 2-2-7z"/>
<path color=#a2442a d="M968 612l8 8 17 3-8-9z"/>
<path color=#963b30 d="M927 591l14 9 17 3-13-9z"/>
<path color=#8f3833 d="M904 581l23 10 18 3-21-10z"/>
<path color=#a84a28 d="M993 623l6 8 17 2-6-8z"/>
<path color=#ac5026 d="M1016 633l5 8 17 3-5-8z"/>
<path color=#9c402d d="M958 603l10 9 17 2-9-8z"/>
<path color=#b15724 d="M1038 644l4 8 16 2-3-7z"/>
<path color=#b55e22 d="M1058 654l4 8 16 3-3-8z"/>
<path color=#b96520 d="M1078 665l3 7 17 3-3-8z"/>
<path color=#cb8e18 d="M1171 715l1 7 16 3 0-7z"/>
<path color=#bd6d1e d="M1098 675l2 7 17 3-2-8z"/>
<path color=#c88619 d="M1153 705l1 7 17 3-1-7z"/>
<path color=#c1751c d="M1117 685l2 7 16 3-1-7z"/>
<path color=#883536 d="M826 562l161 31 22 3-147-29z"/>
<path color=#c47d1b d="M1135 695l2 7 16 3-1-7z"/>
<path color=#a1452b d="M985 614l8 9 17 2-7-8z"/>
<path color=#963c30 d="M945 594l13 9 18 3-12-9z"/>
<path color=#8f3833 d="M924 584l21 10 19 3-20-10z"/>
<path color=#a64c28 d="M1010 625l6 8 17 3-5-8z"/>
<path color=#ab5226 d="M1033 636l5 8 17 3-5-8z"/>
<path color=#9b412d d="M976 606l9 8 18 3-8-8z"/>
<path color=#b05924 d="M1055 647l3 7 17 3-3-8z"/>
<path color=#b46022 d="M1075 657l3 8 17 2-2-7z"/>
<path color=#b86720 d="M1095 667l3 8 17 2-2-7z"/>
<path color=#bc6f1f d="M1115 677l2 8 17 3-2-8z"/>
<path color=#c6881a d="M1170 708l1 7 17 3-1-8z"/>
<path color=#bf781d d="M1134 688l1 7 17 3-1-8z"/>
<path color=#c3801b d="M1152 698l1 7 17 3-1-8z"/>
<path color=#a0472b d="M1003 617l7 8 18 3-7-8z"/>
<path color=#953d30 d="M964 597l12 9 19 3-11-9z"/>
<path color=#a54d29 d="M1028 628l5 8 17 3-4-8z"/>
<path color=#8e3933 d="M944 587l20 10 20 3-19-10z"/>
<path color=#aa5327 d="M1050 639l5 8 17 2-4-8z"/>
<path color=#883636 d="M862 567l147 29 23 4-131-27z"/>
<path color=#9a422e d="M995 609l8 8 18 3-7-8z"/>
<path color=#ae5b25 d="M1072 649l3 8 18 3-3-8z"/>
<path color=#b36223 d="M1093 660l2 7 18 3-3-8z"/>
<path color=#b66a21 d="M1113 670l2 7 17 3-2-7z"/>
<path color=#ba711f d="M1132 680l2 8 17 2-1-7z"/>
<path color=#be7a1e d="M1151 690l1 8 17 2-1-7z"/>
<path color=#c1821c d="M1169 700l1 8 17 2 0-7z"/>
<path color=#a0482b d="M1021 620l7 8 18 3-6-8z"/>
<path color=#943e31 d="M984 600l11 9 19 3-10-9z"/>
<path color=#a44f29 d="M1046 631l4 8 18 2-4-7z"/>
<path color=#8e3933 d="M965 590l19 10 20 3-17-10z"/>
<path color=#a95527 d="M1068 641l4 8 18 3-3-8z"/>
<path color=#ad5c25 d="M1090 652l3 8 17 2-2-7z"/>
<path color=#9a432e d="M1014 612l7 8 19 3-7-9z"/>
<path color=#b16423 d="M1110 662l3 8 17 3-2-8z"/>
<path color=#b56c22 d="M1130 673l2 7 18 3-2-8z"/>
<path color=#b97420 d="M1150 683l1 7 17 3 0-7z"/>
<path color=#bc7c1e d="M1168 693l1 7 18 3-1-7z"/>
<path color=#9f492c d="M1040 623l6 8 18 3-5-8z"/>
<path color=#943f31 d="M1004 603l10 9 19 2-9-8z"/>
<path color=#a3502a d="M1064 634l4 7 19 3-4-8z"/>
<path color=#873636 d="M901 573l131 27 23 3-114-24z"/>
<path color=#a85728 d="M1087 644l3 8 18 3-3-8z"/>
<path color=#8e3a34 d="M987 593l17 10 20 3-15-10z"/>
<path color=#ac5e26 d="M1108 655l2 7 18 3-2-7z"/>
<path color=#99442e d="M1033 614l7 9 19 3-6-9z"/>
<path color=#b06524 d="M1128 665l2 8 18 2-1-7z"/>
<path color=#b46d22 d="M1148 675l2 8 18 3-1-8z"/>
<path color=#b87521 d="M1168 686l0 7 18 3 0-8z"/>
<path color=#9e4b2c d="M1059 626l5 8 19 2-4-7z"/>
<path color=#933f31 d="M1024 606l9 8 20 3-8-8z"/>
<path color=#a2512a d="M1083 636l4 8 18 3-3-8z"/>
<path color=#a75828 d="M1105 647l3 8 18 3-2-8z"/>
<path color=#ab6026 d="M1126 658l2 7 19 3-2-8z"/>
<path color=#8d3b34 d="M1009 596l15 10 21 3-13-9z"/>
<path color=#af6724 d="M1147 668l1 7 19 3-1-7z"/>
<path color=#98452f d="M1053 617l6 9 20 3-5-9z"/>
<path color=#b36f23 d="M1167 678l1 8 18 2-1-7z"/>
<path color=#873637 d="M941 579l114 24 24 4-95-22z"/>
<path color=#9d4c2d d="M1079 629l4 7 19 3-3-7z"/>
<path color=#a2522b d="M1102 639l3 8 19 3-2-8z"/>
<path color=#934031 d="M1045 609l8 8 21 3-8-8z"/>
<path color=#a65a29 d="M1124 650l2 8 19 2-1-7z"/>
<path color=#aa6127 d="M1145 660l2 8 19 3-1-8z"/>
<path color=#ae6925 d="M1166 671l1 7 18 3 0-7z"/>
<path color=#98462f d="M1074 620l5 9 20 3-5-8z"/>
<path color=#8d3b34 d="M1032 600l13 9 21 3-11-9z"/>
<path color=#9c4d2d d="M1099 632l3 7 20 3-3-7z"/>
<path color=#a1542b d="M1122 642l2 8 20 3-2-8z"/>
<path color=#924132 d="M1066 612l8 8 20 4-5-9z"/>
<path color=#a55b29 d="M1144 653l1 7 20 3-1-7z"/>
<path color=#a96327 d="M1165 663l1 8 19 3-1-8z"/>
<path color=#873637 d="M984 585l95 22 25 3-74-18z"/>
<path color=#97472f d="M1094 624l5 8 20 3-3-8z"/>
<path color=#8d3c34 d="M1055 603l11 9 23 3-10-8z"/>
<path color=#9c4e2d d="M1119 635l3 7 20 3-2-7z"/>
<path color=#a0552b d="M1142 645l2 8 20 3-1-8z"/>
<path color=#a45d29 d="M1164 656l1 7 19 3 0-7z"/>
<path color=#924232 d="M1089 615l5 9 22 3-5-8z"/>
<path color=#964830 d="M1116 627l3 8 21 3-2-8z"/>
<path color=#8c3c34 d="M1079 607l10 8 22 4-7-9z"/>
<path color=#9b4f2e d="M1140 638l2 7 21 3-2-7z"/>
<path color=#9f562c d="M1163 648l1 8 20 3 0-7z"/>
<path color=#873737 d="M1030 592l74 18 25 4-51-15z"/>
<path color=#914232 d="M1111 619l5 8 22 3-4-8z"/>
<path color=#964930 d="M1138 630l2 8 21 3-1-8z"/>
<path color=#9a502e d="M1161 641l2 7 21 4-1-8z"/>
<path color=#8c3c34 d="M1104 610l7 9 23 3-5-8z"/>
<path color=#914332 d="M1134 622l4 8 22 3-2-7z"/>
<path color=#954a30 d="M1160 633l1 8 22 3 0-7z"/>
<path color=#873737 d="M1078 599l51 15 26 4-27-11z"/>
<path color=#8c3d35 d="M1129 614l5 8 24 4-3-8z"/>
<path color=#904432 d="M1158 626l2 7 23 4-1-8z"/>
<path color=#8b3d35 d="M1155 618l3 8 24 3 0-7z"/>
<path color=#863737 d="M1128 607l27 11 27 4 0-7z"/></g>
<line class="b" x1="37.6" y1="221.6" x2="302.6" y2="260.8"/>
<line class="b" x1="302.6" y1="260.8" x2="455.6" y2="193.8"/>
<line class="b" x1="37.6" y1="221.6" x2="37.6" y2="85.6"/>
<line class="b" x1="302.6" y1="260.8" x2="302.6" y2="124.8"/>
<line class="b" x1="37.6" y1="85.6" x2="302.6" y2="124.8"/>
<line class="b" x1="302.6" y1="124.8" x2="455.6" y2="57.8"/>
<line class="b" x1="37.6" y1="221.6" x2="31.4" y2="221.6"/>
<line class="b" x1="37.6" y1="176.3" x2="31.4" y2="176.3"/>
<line class="b" x1="37.6" y1="130.9" x2="31.4" y2="130.9"/>
<line class="b" x1="37.6" y1="85.6" x2="31.4" y2="85.6"/>
<line class="b" x1="37.6" y1="221.6" x2="31.2" y2="224.4"/>
<line class="b" x1="103.8" y1="231.4" x2="97.4" y2="234.2"/>
<line class="b" x1="170.1" y1="241.2" x2="163.7" y2="244"/>
<line class="b" x1="236.3" y1="251" x2="229.9" y2="253.8"/>
<line class="b" x1="302.6" y1="260.8" x2="296.2" y2="263.6"/>
<line class="b" x1="302.6" y1="260.8" x2="308.5" y2="261.7"/>
<line class="b" x1="353.6" y1="238.5" x2="359.5" y2="239.3"/>
<line class="b" x1="404.6" y1="216.1" x2="410.5" y2="217"/>
<line class="b" x1="455.6" y1="193.8" x2="461.5" y2="194.7"/>
<text class="tk" x="29.2" y="225.9" text-anchor="end">0</text>
<text class="tk" x="29.2" y="180.6" text-anchor="end">20</text>
<text class="tk" x="29.2" y="135.2" text-anchor="end">40</text>
<text class="tk" x="29.2" y="89.9" text-anchor="end">60</text>
<text class="tk" x="29.4" y="236.9" text-anchor="end">0</text>
<text class="tk" x="95.6" y="246.7" text-anchor="end">0.2</text>
<text class="tk" x="161.9" y="256.5" text-anchor="end">0.4</text>
<text class="tk" x="228.1" y="266.3" text-anchor="end">0.6</text>
<text class="tk" x="294.4" y="276.1" text-anchor="end">0.8</text>
<text class="tk" x="310.6" y="273.3">0</text>
<text class="tk" x="361.6" y="251">0.5</text>
<text class="tk" x="412.6" y="228.6">1</text>
<text class="tk" x="463.6" y="206.3">1.5</text>
<linearGradient id="cba" x1="0" y1="0" x2="0" y2="1"><stop offset="0.000" stop-color="#843438"/><stop offset="0.021" stop-color="#992f34"/><stop offset="0.042" stop-color="#ae2a30"/><stop offset="0.062" stop-color="#c2252a"/><stop offset="0.083" stop-color="#d7181c"/><stop offset="0.104" stop-color="#eb0c0e"/><stop offset="0.125" stop-color="#ff0000"/><stop offset="0.146" stop-color="#ff1500"/><stop offset="0.167" stop-color="#ff2a00"/><stop offset="0.188" stop-color="#ff4000"/><stop offset="0.208" stop-color="#ff5500"/><stop offset="0.229" stop-color="#ff6a00"/><stop offset="0.250" stop-color="#ff8000"/><stop offset="0.271" stop-color="#ff9500"/><stop offset="0.292" stop-color="#ffaa00"/><stop offset="0.312" stop-color="#ffbf00"/><stop offset="0.333" stop-color="#ffd400"/><stop offset="0.354" stop-color="#ffea00"/><stop offset="0.375" stop-color="#ffff00"/><stop offset="0.396" stop-color="#eaff15"/><stop offset="0.417" stop-color="#d4ff2b"/><stop offset="0.438" stop-color="#bfff40"/><stop offset="0.458" stop-color="#aaff55"/><stop offset="0.479" stop-color="#95ff6a"/><stop offset="0.500" stop-color="#80ff80"/><stop offset="0.521" stop-color="#6aff95"/><stop offset="0.542" stop-color="#55ffaa"/><stop offset="0.562" stop-color="#40ffbf"/><stop offset="0.583" stop-color="#2affd5"/><stop offset="0.604" stop-color="#15ffea"/><stop offset="0.625" stop-color="#00ffff"/><stop offset="0.646" stop-color="#00eaff"/><stop offset="0.667" stop-color="#00d5ff"/><stop offset="0.688" stop-color="#00bfff"/><stop offset="0.708" stop-color="#00aaff"/><stop offset="0.729" stop-color="#0095ff"/><stop offset="0.750" stop-color="#0080ff"/><stop offset="0.771" stop-color="#006aff"/><stop offset="0.792" stop-color="#0055ff"/><stop offset="0.812" stop-color="#0040ff"/><stop offset="0.833" stop-color="#002aff"/><stop offset="0.854" stop-color="#0015ff"/><stop offset="0.875" stop-color="#0000ff"/><stop offset="0.896" stop-color="#0a0aef"/><stop offset="0.917" stop-color="#1313df"/><stop offset="0.938" stop-color="#1d1dcf"/><stop offset="0.958" stop-color="#2727bc"/><stop offset="0.979" stop-color="#3232a9"/><stop offset="1.000" stop-color="#3c3c96"/></linearGradient>
<rect x="467" y="18.2" width="11.7" height="243.2" fill="url(#cba)" class="cb"/>
<line class="t" x1="467" y1="241.3" x2="469.2" y2="241.3"/>
<line class="t" x1="476.5" y1="241.3" x2="478.7" y2="241.3"/>
<text class="tk" x="479.9" y="245.6">10</text>
<line class="t" x1="467" y1="217.3" x2="469.2" y2="217.3"/>
<line class="t" x1="476.5" y1="217.3" x2="478.7" y2="217.3"/>
<text class="tk" x="479.9" y="221.6">15</text>
<line class="t" x1="467" y1="193.3" x2="469.2" y2="193.3"/>
<line class="t" x1="476.5" y1="193.3" x2="478.7" y2="193.3"/>
<text class="tk" x="479.9" y="197.6">20</text>
<line class="t" x1="467" y1="169.3" x2="469.2" y2="169.3"/>
<line class="t" x1="476.5" y1="169.3" x2="478.7" y2="169.3"/>
<text class="tk" x="479.9" y="173.6">25</text>
<line class="t" x1="467" y1="145.3" x2="469.2" y2="145.3"/>
<line class="t" x1="476.5" y1="145.3" x2="478.7" y2="145.3"/>
<text class="tk" x="479.9" y="149.6">30</text>
<line class="t" x1="467" y1="121.3" x2="469.2" y2="121.3"/>
<line class="t" x1="476.5" y1="121.3" x2="478.7" y2="121.3"/>
<text class="tk" x="479.9" y="125.6">35</text>
<line class="t" x1="467" y1="97.3" x2="469.2" y2="97.3"/>
<line class="t" x1="476.5" y1="97.3" x2="478.7" y2="97.3"/>
<text class="tk" x="479.9" y="101.6">40</text>
<line class="t" x1="467" y1="73.4" x2="469.2" y2="73.4"/>
<line class="t" x1="476.5" y1="73.4" x2="478.7" y2="73.4"/>
<text class="tk" x="479.9" y="77.7">45</text>
<line class="t" x1="467" y1="49.4" x2="469.2" y2="49.4"/>
<line class="t" x1="476.5" y1="49.4" x2="478.7" y2="49.4"/>
<text class="tk" x="479.9" y="53.7">50</text>
<line class="t" x1="467" y1="25.4" x2="469.2" y2="25.4"/>
<line class="t" x1="476.5" y1="25.4" x2="478.7" y2="25.4"/>
<text class="tk" x="479.9" y="29.7">55</text>
<text class="ti" x="98" y="9">Magnitude of Piezoelectric Sensitivity, Eigenmode 1</text>
<text class="lb zl" transform="translate(11,249) rotate(-90)">Piezoelectic Sensitivity [&#956; V / pm]</text>
<text class="lb" x="165" y="299.6">d<tspan class="sub" dy="5">tip</tspan><tspan dy="-5"> [mm]</tspan></text>
<text class="lb" x="385" y="279.7">L<tspan class="sub" dy="5">tip</tspan><tspan dy="-5"> [mm]</tspan></text>
<text class="pl" x="250.8" y="327.5">(a)</text>
<line class="g" x1="113.7" y1="599.1" x2="266.6" y2="532.1"/>
<line class="g" x1="179.9" y1="608.9" x2="332.9" y2="541.9"/>
<line class="g" x1="246.1" y1="618.6" x2="399.1" y2="551.6"/>
<line class="g" x1="98.4" y1="567.1" x2="363.4" y2="606.1"/>
<line class="g" x1="149.4" y1="544.7" x2="414.4" y2="583.7"/>
<line class="g" x1="266.6" y1="532.1" x2="266.6" y2="398.8"/>
<line class="g" x1="332.9" y1="541.9" x2="332.9" y2="408.5"/>
<line class="g" x1="399.1" y1="551.6" x2="399.1" y2="418.2"/>
<line class="g" x1="200.4" y1="495.7" x2="465.4" y2="534.7"/>
<line class="g" x1="200.4" y1="469" x2="465.4" y2="508"/>
<line class="g" x1="200.4" y1="442.4" x2="465.4" y2="481.4"/>
<line class="g" x1="200.4" y1="415.7" x2="465.4" y2="454.7"/>
<line class="g" x1="98.4" y1="567.1" x2="98.4" y2="433.7"/>
<line class="g" x1="149.4" y1="544.7" x2="149.4" y2="411.3"/>
<line class="g" x1="47.4" y1="562.7" x2="200.4" y2="495.7"/>
<line class="g" x1="47.4" y1="536" x2="200.4" y2="469"/>
<line class="g" x1="47.4" y1="509.4" x2="200.4" y2="442.4"/>
<line class="g" x1="47.4" y1="482.7" x2="200.4" y2="415.7"/>
<line class="b" x1="47.4" y1="589.4" x2="200.4" y2="522.4"/>
<line class="b" x1="200.4" y1="522.4" x2="465.4" y2="561.4"/>
<line class="b" x1="200.4" y1="522.4" x2="200.4" y2="389"/>
<line class="b" x1="200.4" y1="389" x2="465.4" y2="428"/>
<line class="b" x1="47.4" y1="456" x2="200.4" y2="389"/>
<line class="b" x1="465.4" y1="561.4" x2="465.4" y2="428"/>
<g transform="scale(.2)"><path color=#77ff88 d="M1210 2325l4-6 23-24-3 4z"/>
<path color=#7bff84 d="M1209 2315l1 10 24-26-1-8z"/>
<path color=#82ff7d d="M1214 2319l6-7 21-22-4 5z"/>
<path color=#8bff74 d="M1206 2305l3 10 24-24-2-10z"/>
<path color=#8aff75 d="M1198 2334l10-10 40-41-7 7z"/>
<path color=#6aff95 d="M1187 2350l4-6 23-25-4 6z"/>
<path color=#99ff66 d="M1178 2316l4 12 49-47-2-10z"/>
<path color=#6dff92 d="M1185 2340l2 10 23-25-1-10z"/>
<path color=#9bff64 d="M1208 2324l15-12 35-36-10 7z"/>
<path color=#76ff89 d="M1191 2344l7-10 22-22-6 7z"/>
<path color=#acff53 d="M1174 2304l4 12 51-45-3-10z"/>
<path color=#80ff7f d="M1182 2328l3 12 24-25-3-10z"/>
<path color=#aaff55 d="M1223 2312l14-8 31-32-10 4z"/>
<path color=#c0ff3f d="M1168 2292l6 12 52-43-4-11z"/>
<path color=#62ff9d d="M1184 2353l4-6 3-3-4 6z"/>
<path color=#b6ff49 d="M1237 2304l22-8 25-28-16 4z"/>
<path color=#66ff99 d="M1182 2343l2 10 3-3-2-10z"/>
<path color=#6fff90 d="M1188 2347l8-10 2-3-7 10z"/>
<path color=#d3ff2c d="M1160 2281l8 11 54-42-4-10z"/>
<path color=#c1ff3e d="M1259 2296l22-5 20-25-17 2z"/>
<path color=#7aff85 d="M1179 2331l3 12 3-3-3-12z"/>
<path color=#80ff7f d="M1196 2337l10-11 2-2-10 10z"/>
<path color=#ffa400 d="M1143 2176l0-18 16 0 0 10z"/>
<path color=#c7ff38 d="M1281 2291l22-3 16-22-18 0z"/>
<path color=#e6ff19 d="M1150 2270l10 11 58-41-6-11z"/>
<path color=#5cffa3 d="M1166 2375l5-7 17-21-4 6z"/>
<path color=#94ff6b d="M1206 2326l14-12 3-2-15 12z"/>
<path color=#5fffa0 d="M1164 2364l2 11 18-22-2-10z"/>
<path color=#ccff33 d="M1303 2288l31 0 10-20-25-2z"/>
<path color=#8fff70 d="M1175 2319l4 12 3-3-4-12z"/>
<path color=#ff8b00 d="M1143 2158l0-18 16 8 0 10z"/>
<path color=#a5ff5a d="M1220 2314l15-8 2-2-14 8z"/>
<path color=#fbff04 d="M1135 2259l15 11 62-41-8-13z"/>
<path color=#cfff30 d="M1334 2288l32 0 6-17-28-3z"/>
<path color=#b3ff4c d="M1235 2306l22-9 2-1-22 8z"/>
<path color=#a5ff5a d="M1170 2307l5 12 3-3-4-12z"/>
<path color=#ff9d00 d="M1127 2184l0-25 16-1 0 18z"/>
<path color=#ff7200 d="M1143 2140l0-18 16 15 0 11z"/>
<path color=#ff7000 d="M1145 2130l1 13 15-7-1-3z"/>
<path color=#ffef00 d="M1119 2250l16 9 69-43-7-11z"/>
<path color=#65ff9a d="M1154 2388l10-12 32-39-8 10z"/>
<path color=#bfff40 d="M1257 2297l22-4 2-2-22 5z"/>
<path color=#d0ff2f d="M1366 2288l34 2 2-15-30-4z"/>
<path color=#ff6200 d="M1144 2117l1 13 15 3 0-3z"/>
<path color=#c6ff39 d="M1279 2293l23-3 1-2-22 3z"/>
<path color=#6aff95 d="M1144 2378l2 7 36-42-2-6z"/>
<path color=#baff45 d="M1164 2295l6 12 4-3-6-12z"/>
<path color=#78ff87 d="M1164 2376l12-15 30-35-10 11z"/>
<path color=#ff9b00 d="M1126 2185l0-24 1-2 0 25z"/>
<path color=#ff5900 d="M1143 2122l0-18 16 23 0 10z"/>
<path color=#50ffaf d="M1149 2397l5-9 17-20-5 7z"/>
<path color=#ff9d00 d="M1124 2186l0-20 2-5 0 24z"/>
<path color=#ffdc00 d="M1102 2242l17 8 78-45-8-12z"/>
<path color=#cbff34 d="M1302 2290l31-1 1-1-31 0z"/>
<path color=#d1ff2e d="M1400 2290l36 3-2-14-32-4z"/>
<path color=#75ff8a d="M1142 2371l2 7 36-41-1-6z"/>
<path color=#88ff77 d="M1176 2361l10-7 27-34-7 6z"/>
<path color=#ff5400 d="M1143 2104l1 13 16 13-1-3z"/>
<path color=#54ffab d="M1146 2385l3 12 17-22-2-11z"/>
<path color=#ff9c00 d="M1120 2188l0-20 4-9 0 27z"/>
<path color=#93ff6c d="M1186 2354l9-8 25-32-7 6z"/>
<path color=#ff7600 d="M1127 2159l0-26 16 7 0 18z"/>
<path color=#ceff31 d="M1333 2289l33 1 0-2-32 0z"/>
<path color=#81ff7e d="M1140 2364l2 7 37-40-2-6z"/>
<path color=#d0ff2f d="M1157 2284l7 11 4-3-8-11z"/>
<path color=#ffa100 d="M1115 2191l0-15 5-8 0 20z"/>
<path color=#a0ff5f d="M1195 2346l17-12 23-28-15 8z"/>
<path color=#d1ff2e d="M1436 2293l37 4-4-13-35-5z"/>
<path color=#ffc900 d="M1085 2234l17 8 87-49-7-11z"/>
<path color=#d0ff2f d="M1366 2290l34 1 0-1-34-2z"/>
<path color=#ff6600 d="M1129 2127l1 23 16-7-1-13z"/>
<path color=#8dff72 d="M1137 2357l3 7 37-39-2-6z"/>
<path color=#b0ff4f d="M1212 2334l27-12 18-25-22 9z"/>
<path color=#4affb5 d="M1146 2401l5-9 3-4-5 9z"/>
<path color=#ff7600 d="M1124 2166l0-21 2-8 0 24z"/>
<path color=#ff9c00 d="M1107 2195l0-24 8-3 0 23z"/>
<path color=#bdff42 d="M1239 2322l26-7 14-22-22 4z"/>
<path color=#d1ff2e d="M1400 2291l36 3 0-1-36-3z"/>
<path color=#ff6e00 d="M1126 2161l0-24 1-4 0 26z"/>
<path color=#99ff66 d="M1134 2351l3 6 38-38-2-6z"/>
<path color=#e5ff1a d="M1146 2273l11 11 3-3-10-11z"/>
<path color=#c5ff3a d="M1265 2315l27-5 10-20-23 3z"/>
<path color=#4effb1 d="M1143 2389l3 12 3-4-3-12z"/>
<path color=#d1ff2e d="M1473 2297l40 5-6-11-38-7z"/>
<path color=#ff8100 d="M1115 2176l0-16 5-13 0 21z"/>
<path color=#5affa5 d="M1151 2392l10-13 3-3-10 12z"/>
<path color=#ff5000 d="M1127 2133l0-26 16 15 0 18z"/>
<path color=#ffb500 d="M1067 2225l18 9 97-52-7-12z"/>
<path color=#cbff34 d="M1292 2310l35-3 6-18-31 1z"/>
<path color=#ff7200 d="M1120 2168l0-21 4-15 0 27z"/>
<path color=#ffc000 d="M1088 2166l27 4-162 81-50 4z"/>
<path color=#ffc000 d="M1115 2170l19 3-150 76-31 2z"/>
<path color=#ff9f00 d="M1102 2198l0-24 5 5 0 16z"/>
<path color=#ff6200 d="M1128 2130l1 21 1-1-1-23z"/>
<path color=#ff6500 d="M1126 2136l1 16 2-1-1-21z"/>
<path color=#a4ff5b d="M1131 2344l3 7 39-38-3-6z"/>
<path color=#ffbe00 d="M1134 2173l13 0-142 73-21 3z"/>
<path color=#ffc000 d="M1054 2161l34 5-185 89-70 9z"/>
<path color=#ceff31 d="M1327 2307l36-2 3-15-33-1z"/>
<path color=#d1ff2e d="M1436 2294l38 4-1-1-37-4z"/>
<path color=#ff4600 d="M1128 2104l1 23 16 3-1-13z"/>
<path color=#6fff90 d="M1161 2379l13-14 2-4-12 15z"/>
<path color=#ff6400 d="M1122 2140l1 14 4-2-2-24z"/>
<path color=#5fffa0 d="M1141 2382l2 7 3-4-2-7z"/>
<path color=#ffb700 d="M1147 2173l12-5-136 71-18 7z"/>
<path color=#ff9e00 d="M1098 2200l0-25 4 5 0 18z"/>
<path color=#d0ff2f d="M1363 2305l38 1-1-15-34-1z"/>
<path color=#b0ff4f d="M1128 2337l3 7 39-37-3-6z"/>
<path color=#fbff04 d="M1130 2262l16 11 4-3-15-11z"/>
<path color=#ffa500 d="M1057 2221l10 4 108-55-3-7z"/>
<path color=#81ff7e d="M1174 2365l9-8 3-3-10 7z"/>
<path color=#ceff31 d="M1513 2302l65 9-8-9-63-11z"/>
<path color=#ff6300 d="M1115 2145l3 11 5-2-3-27z"/>
<path color=#d0ff2f d="M1474 2298l40 5-1-1-40-5z"/>
<path color=#ff4f00 d="M1124 2145l0-20 2-12 0 24z"/>
<path color=#6bff94 d="M1139 2375l2 7 3-4-2-7z"/>
<path color=#d1ff2e d="M1401 2306l38 1-3-13-36-3z"/>
<path color=#ff9900 d="M1096 2201l0-30 2 4 0 25z"/>
<path color=#ffc000 d="M1025 2157l29 4-221 103-83 17z"/>
<path color=#ff6200 d="M1115 2160l0-15 5-18 0 20z"/>
<path color=#8dff72 d="M1183 2357l9-8 3-3-9 8z"/>
<path color=#ff7300 d="M1107 2171l0-24 8-2 0 23z"/>
<path color=#ff9b00 d="M1095 2201l0-25 1 1 0 24z"/>
<path color=#bcff43 d="M1124 2331l4 6 39-36-3-6z"/>
<path color=#ff9b00 d="M1093 2202l0-24 2-2 0 25z"/>
<path color=#ff4200 d="M1126 2137l0-24 1-6 0 26z"/>
<path color=#ff4400 d="M1125 2120l1 16 2-6-1-21z"/>
<path color=#9cff63 d="M1192 2349l19-12 1-3-17 12z"/>
<path color=#ff7d00 d="M1102 2174l0-23 5 12 0 16z"/>
<path color=#ff2900 d="M1127 2107l0-26 16 23 0 18z"/>
<path color=#ff6900 d="M1107 2147l4 13 7-4-3-11z"/>
<path color=#ff9a00 d="M1047 2216l10 5 115-58-3-7z"/>
<path color=#ff2600 d="M1127 2081l1 23 16 13-1-13z"/>
<path color=#ff9900 d="M1091 2203l0-24 2-7 0 30z"/>
<path color=#d1ff2e d="M1439 2307l40 3-5-12-38-4z"/>
<path color=#ff3b00 d="M1127 2109l1 21 1-3-1-23z"/>
<path color=#78ff87 d="M1136 2368l3 7 3-4-2-7z"/>
<path color=#ff4800 d="M1120 2147l0-20 4-22 0 27z"/>
<path color=#adff52 d="M1211 2337l26-12 2-3-27 12z"/>
<path color=#ff9e00 d="M1086 2205l0-17 5-9 0 24z"/>
<path color=#ff4300 d="M1120 2127l2 13 3-12-1-23z"/>
<path color=#c7ff38 d="M1119 2325l5 6 40-36-3-5z"/>
<path color=#bcff43 d="M1237 2325l27-8 1-2-26 7z"/>
<path color=#c4ff3b d="M1264 2317l27-5 1-2-27 5z"/>
<path color=#ff7900 d="M1098 2175l0-24 4 12 0 17z"/>
<path color=#caff35 d="M1291 2312l36-4 0-1-35 3z"/>
<path color=#3effc1 d="M1119 2440l7-11 25-37-5 9z"/>
<path color=#cdff32 d="M1514 2303l65 9-1-1-65-9z"/>
<path color=#ffee00 d="M1114 2253l16 9 5-3-16-9z"/>
<path color=#ff6900 d="M1104 2145l2 17 5-2-2-7z"/>
<path color=#3dffc2 d="M1117 2433l2 7 27-39-2-6z"/>
<path color=#ceff31 d="M1327 2308l36-1 0-2-36 2z"/>
<path color=#d0ff2f d="M1479 2310l42 4-7-11-40-5z"/>
<path color=#85ff7a d="M1134 2361l2 7 4-4-3-7z"/>
<path color=#ff9f00 d="M1081 2208l0-16 5-10 0 23z"/>
<path color=#d0ff2f d="M1363 2307l38 0 0-1-38-1z"/>
<path color=#ff8b00 d="M1031 2209l16 7 122-60-5-11z"/>
<path color=#d2ff2d d="M1114 2319l5 6 42-35-4-6z"/>
<path color=#50ffaf d="M1126 2429l11-15 24-35-10 13z"/>
<path color=#ff2700 d="M1124 2125l0-20 2-17 0 25z"/>
<path color=#d1ff2e d="M1401 2307l39 1-1-1-38-1z"/>
<path color=#caff35 d="M1578 2311l71 11-9-7-70-13z"/>
<path color=#49ffb6 d="M1116 2426l1 7 27-38-1-6z"/>
<path color=#ff2400 d="M1124 2105l1 15 2-11-1-21z"/>
<path color=#ff6500 d="M1101 2143l1 21 4-2-2-11z"/>
<path color=#ff5a00 d="M1102 2151l0-23 5 19 0 16z"/>
<path color=#92ff6d d="M1131 2354l3 7 3-4-3-6z"/>
<path color=#61ff9e d="M1137 2414l7-8 23-34-6 7z"/>
<path color=#ff7000 d="M1095 2176l0-26 1 4 0 23z"/>
<path color=#ffc000 d="M1009 2155l16 2-275 124-83 25z"/>
<path color=#d1ff2e d="M1440 2308l40 3-1-1-40-3z"/>
<path color=#ff6a00 d="M1096 2171l0-29 2 9 0 24z"/>
<path color=#deff21 d="M1107 2313l7 6 43-35-6-5z"/>
<path color=#ff5400 d="M1102 2128l2 17 5 8-2-6z"/>
<path color=#ff7000 d="M1093 2178l0-23 2-5 0 26z"/>
<path color=#cdff32 d="M1521 2314l66 7-8-9-65-9z"/>
<path color=#ff1600 d="M1126 2113l0-25 1-7 0 26z"/>
<path color=#6eff91 d="M1144 2406l8-9 22-32-7 7z"/>
<path color=#ff1400 d="M1126 2088l1 21 1-5-1-23z"/>
<path color=#55ffaa d="M1113 2419l3 7 27-37-2-7z"/>
<path color=#ff9b00 d="M1072 2213l0-25 9-4 0 24z"/>
<path color=#ff7900 d="M1086 2188l0-18 5-16 0 25z"/>
<path color=#ff7900 d="M1020 2203l11 6 133-64-3-9z"/>
<path color=#ff5d00 d="M1098 2137l2 28 2-1-1-21z"/>
<path color=#cfff30 d="M1480 2311l42 4-1-1-42-4z"/>
<path color=#9eff61 d="M1128 2347l3 7 3-3-3-7z"/>
<path color=#7aff85 d="M1152 2397l11-10 20-30-9 8z"/>
<path color=#ffda00 d="M1097 2245l17 8 5-3-17-8z"/>
<path color=#ff5f00 d="M1098 2142l1 23 1 0-1-21z"/>
<path color=#ff6900 d="M1091 2179l0-25 2-11 0 29z"/>
<path color=#ff5500 d="M1098 2151l0-24 4 18 0 18z"/>
<path color=#c9ff36 d="M1579 2312l71 11-1-1-71-11z"/>
<path color=#ff5f00 d="M1097 2145l1 20 1 0-1-23z"/>
<path color=#e9ff16 d="M1100 2308l7 5 44-34-5-6z"/>
<path color=#88ff77 d="M1163 2387l10-10 19-28-9 8z"/>
<path color=#ff7c00 d="M1081 2192l0-16 5-18 0 24z"/>
<path color=#ff5d00 d="M1094 2146l1 21 3-2-2-27z"/>
<path color=#63ff9c d="M1111 2411l2 8 28-37-2-7z"/>
<path color=#ff9f00 d="M1066 2216l0-24 6 4 0 17z"/>
<path color=#ff4800 d="M1099 2123l2 20 3 8-1-12z"/>
<path color=#98ff67 d="M1173 2377l21-14 17-26-19 12z"/>
<path color=#ff6400 d="M1090 2157l1 12 4-2-1-21z"/>
<path color=#ceff31 d="M1324 2325l40-3-1-15-36 1z"/>
<path color=#d0ff2f d="M1364 2322l40-1-3-14-38 0z"/>
<path color=#caff35 d="M1285 2331l39-6 3-17-36 4z"/>
<path color=#abff54 d="M1124 2341l4 6 3-3-3-7z"/>
<path color=#d1ff2e d="M1404 2321l41 0-5-13-39-1z"/>
<path color=#ccff33 d="M1522 2315l66 7-1-1-66-7z"/>
<path color=#abff54 d="M1194 2363l31-15 12-23-26 12z"/>
<path color=#c3ff3c d="M1255 2338l30-7 6-19-27 5z"/>
<path color=#baff45 d="M1225 2348l30-10 9-21-27 8z"/>
<path color=#d0ff2f d="M1445 2321l42 2-7-12-40-3z"/>
<path color=#c9ff36 d="M1587 2321l72 9-9-7-71-11z"/>
<path color=#f5ff0a d="M1089 2303l11 5 46-35-8-5z"/>
<path color=#ff6700 d="M1083 2165l2 6 6-2-2-17z"/>
<path color=#ff9e00 d="M1062 2218l0-24 4 4 0 18z"/>
<path color=#70ff8f d="M1108 2403l3 8 28-36-3-7z"/>
<path color=#c5ff3a d="M1649 2322l79 13-9-5-79-15z"/>
<path color=#ceff31 d="M1487 2323l43 2-8-10-42-4z"/>
<path color=#34ffcb d="M1118 2442l6-10 2-3-7 11z"/>
<path color=#ff4500 d="M1095 2150l0-25 1 5 0 24z"/>
<path color=#b8ff47 d="M1120 2334l4 7 4-4-4-6z"/>
<path color=#32ffcd d="M1116 2435l2 7 1-2-2-7z"/>
<path color=#ff5400 d="M1086 2170l0-17 5-23 0 24z"/>
<path color=#ff4500 d="M1093 2155l0-24 2-6 0 25z"/>
<path color=#ffc600 d="M1079 2237l18 8 5-3-17-8z"/>
<path color=#ff3a00 d="M1096 2142l0-30 2 15 0 24z"/>
<path color=#ff3000 d="M1098 2127l0-25 4 26 0 17z"/>
<path color=#ff6f00 d="M1072 2188l0-25 9-4 0 25z"/>
<path color=#ff9900 d="M1060 2219l0-29 2 4 0 24z"/>
<path color=#ff3900 d="M1097 2119l1 23 1 2-1-20z"/>
<path color=#47ffb8 d="M1124 2432l11-15 2-3-11 15z"/>
<path color=#ff5900 d="M1081 2176l0-17 5-24 0 23z"/>
<path color=#ff9b00 d="M1059 2220l0-25 1 1 0 23z"/>
<path color=#ff3300 d="M1097 2110l1 27 3 6-2-20z"/>
<path color=#ff2c00 d="M1098 2102l1 21 4 16-1-11z"/>
<path color=#ff3900 d="M1096 2125l1 20 1-3-1-23z"/>
<path color=#ccff33 d="M1530 2325l68 6-10-9-66-7z"/>
<path color=#7eff81 d="M1105 2395l3 8 28-35-2-7z"/>
<path color=#ff4700 d="M1088 2146l2 11 4-11-2-20z"/>
<path color=#c8ff37 d="M1588 2322l72 9-1-1-72-9z"/>
<path color=#fffd00 d="M1079 2298l10 5 49-35-8-6z"/>
<path color=#c4ff3b d="M1650 2323l78 13 0-1-79-13z"/>
<path color=#ff9b00 d="M1058 2221l0-24 1-2 0 25z"/>
<path color=#ff7c00 d="M1066 2192l0-23 6 11 0 16z"/>
<path color=#3effc1 d="M1114 2428l2 7 1-2-1-7z"/>
<path color=#ff6500 d="M1072 2163l5 12 8-4-4-12z"/>
<path color=#ff5200 d="M1081 2159l2 6 6-13-3-17z"/>
<path color=#c4ff3b d="M1115 2328l5 6 4-3-5-6z"/>
<path color=#ff3a00 d="M1091 2154l0-24 2-17 0 30z"/>
<path color=#59ffa6 d="M1135 2417l8-9 1-2-7 8z"/>
<path color=#ff9900 d="M1055 2222l0-25 3-6 0 30z"/>
<path color=#d0ff2f d="M1404 2322l41 0 0-1-41 0z"/>
<path color=#d0ff2f d="M1364 2323l40-1 0-1-40 1z"/>
<path color=#d0ff2f d="M1445 2322l42 1 0 0-42-2z"/>
<path color=#ff3200 d="M1092 2126l2 20 2-8-1-27z"/>
<path color=#ff9e00 d="M1051 2224l0-18 4-9 0 25z"/>
<path color=#67ff98 d="M1143 2408l8-9 1-2-8 9z"/>
<path color=#cdff32 d="M1324 2326l40-3 0-1-40 3z"/>
<path color=#ceff31 d="M1487 2323l44 3-1-1-43-2z"/>
<path color=#8cff73 d="M1102 2388l3 7 29-34-3-7z"/>
<path color=#c4ff3b d="M1659 2330l78 11-9-5-78-13z"/>
<path color=#4cffb3 d="M1112 2421l2 7 2-2-3-7z"/>
<path color=#ff7900 d="M1062 2194l0-24 4 11 0 17z"/>
<path color=#74ff8b d="M1151 2399l10-10 2-2-11 10z"/>
<path color=#ff6600 d="M1069 2162l3 16 5-3-2-6z"/>
<path color=#c9ff36 d="M1284 2332l40-6 0-1-39 6z"/>
<path color=#c8ff37 d="M1598 2331l72 7-10-7-72-9z"/>
<path color=#d0ff2f d="M1110 2322l5 6 4-3-5-6z"/>
<path color=#cbff34 d="M1531 2326l68 5-1 0-68-6z"/>
<path color=#83ff7c d="M1161 2389l11-10 1-2-10 10z"/>
<path color=#ff9f00 d="M1045 2227l0-17 6-10 0 24z"/>
<path color=#ff2f00 d="M1086 2153l0-18 5-29 0 24z"/>
<path color=#c3ff3c d="M1254 2339l30-7 1-1-30 7z"/>
<path color=#ff2b00 d="M1086 2135l2 11 4-20-1-20z"/>
<path color=#94ff6b d="M1172 2379l21-14 1-2-21 14z"/>
<path color=#ff1900 d="M1095 2125l0-26 1 7 0 24z"/>
<path color=#ffed00 d="M1057 2290l22 8 51-36-16-9z"/>
<path color=#b9ff46 d="M1224 2349l30-10 1-1-30 10z"/>
<path color=#99ff66 d="M1099 2380l3 8 29-34-3-7z"/>
<path color=#a8ff57 d="M1193 2365l31-16 1-1-31 15z"/>
<path color=#c3ff3c d="M1660 2331l78 11-1-1-78-11z"/>
<path color=#ffb200 d="M1060 2229l19 8 6-3-18-9z"/>
<path color=#ff1900 d="M1093 2131l0-24 2-8 0 26z"/>
<path color=#5affa5 d="M1110 2413l2 8 1-2-2-8z"/>
<path color=#ff1200 d="M1096 2096l1 23 1 5-1-21z"/>
<path color=#beff41 d="M1728 2335l87 16-7-4-89-17z"/>
<path color=#ff5800 d="M1066 2169l0-24 6 18 0 17z"/>
<path color=#ff1200 d="M1095 2104l1 21 1-6-1-23z"/>
<path color=#dcff23 d="M1103 2317l7 5 4-3-7-6z"/>
<path color=#ff0b00 d="M1096 2112l0-29 2 19 0 25z"/>
<path color=#c7ff38 d="M1599 2331l72 7-1 0-72-7z"/>
<path color=#ff7000 d="M1059 2195l0-26 1 4 0 23z"/>
<path color=#ff0900 d="M1096 2083l1 27 2 13-1-21z"/>
<path color=#ffc000 d="M1002 2154l7 1-342 151-133 53z"/>
<path color=#cfff30 d="M1453 2335l43 0-9-12-42-1z"/>
<path color=#ff6a00 d="M1060 2190l0-29 2 9 0 24z"/>
<path color=#cdff32 d="M1496 2335l45 1-10-10-44-3z"/>
<path color=#ff5100 d="M1066 2145l3 17 6 7-3-6z"/>
<path color=#ff5b00 d="M1065 2150l3 30 4-2-3-16z"/>
<path color=#ff7000 d="M1058 2197l0-23 1-5 0 26z"/>
<path color=#d0ff2f d="M1410 2336l43-1-8-13-41 0z"/>
<path color=#c3ff3c d="M1670 2338l77 9-9-5-78-11z"/>
<path color=#cbff34 d="M1541 2336l68 4-10-9-68-5z"/>
<path color=#ff9a00 d="M1037 2231l0-25 8-5 0 26z"/>
<path color=#beff41 d="M1728 2336l87 15 0 0-87-16z"/>
<path color=#a7ff58 d="M1094 2373l5 7 29-33-4-6z"/>
<path color=#ff7900 d="M1051 2206l0-18 4-15 0 24z"/>
<path color=#d0ff2f d="M1367 2338l43-2-6-14-40 1z"/>
<path color=#2effd1 d="M1098 2473l8-11 18-30-6 10z"/>
<path color=#69ff96 d="M1107 2405l3 8 1-2-3-8z"/>
<path color=#ff5b00 d="M1063 2155l2 26 3-1-2-20z"/>
<path color=#ff0b00 d="M1091 2130l0-24 2-22 0 29z"/>
<path color=#2dffd2 d="M1096 2466l2 7 20-31-2-7z"/>
<path color=#ff0800 d="M1091 2106l1 20 3-15-2-27z"/>
<path color=#ff5400 d="M1062 2170l0-25 4 18 0 18z"/>
<path color=#ff6a00 d="M1055 2197l0-24 3-11 0 29z"/>
<path color=#cdff32 d="M1325 2343l42-5-3-15-40 3z"/>
<path color=#e8ff17 d="M1096 2311l7 6 4-4-7-5z"/>
<path color=#beff41 d="M1737 2341l85 14-7-4-87-15z"/>
<path color=#c7ff38 d="M1609 2340l72 6-10-8-72-7z"/>
<path color=#42ffbd d="M1106 2462l12-16 17-29-11 15z"/>
<path color=#ff7b00 d="M1045 2210l0-17 6-17 0 24z"/>
<path color=#ff5600 d="M1062 2152l2 29 1 0-2-26z"/>
<path color=#ffa000 d="M1032 2234l0-21 5 2 0 16z"/>
<path color=#c2ff3d d="M1671 2338l77 10-1-1-77-9z"/>
<path color=#ff5600 d="M1061 2156l2 26 1-1-2-29z"/>
<path color=#ff5a00 d="M1059 2163l2 20 2-1-2-26z"/>
<path color=#ffa100 d="M1049 2225l11 4 7-4-10-4z"/>
<path color=#b4ff4b d="M1089 2366l5 7 30-32-4-7z"/>
<path color=#c9ff36 d="M1282 2351l43-8-1-17-40 6z"/>
<path color=#ff6100 d="M1055 2174l2 11 4-2-2-20z"/>
<path color=#3affc5 d="M1094 2458l2 8 20-31-2-7z"/>
<path color=#77ff88 d="M1104 2397l3 8 1-2-3-8z"/>
<path color=#54ffab d="M1118 2446l9-9 16-29-8 9z"/>
<path color=#ffd900 d="M1034 2284l23 6 57-37-17-8z"/>
<path color=#cdff32 d="M1496 2335l45 2 0-1-45-1z"/>
<path color=#bdff42 d="M1738 2342l85 13-1 0-85-14z"/>
<path color=#caff35 d="M1541 2337l69 3-1 0-68-4z"/>
<path color=#ee0a0c d="M1095 2099l0-25 1 9 0 23z"/>
<path color=#cfff30 d="M1453 2335l43 0 0 0-43 0z"/>
<path color=#ec0c0d d="M1095 2074l1 22 1 7-1-20z"/>
<path color=#62ff9d d="M1127 2437l8-9 16-29-8 9z"/>
<path color=#ee0a0c d="M1093 2107l0-23 2-10 0 25z"/>
<path color=#c2ff3d d="M1249 2359l33-8 2-19-30 7z"/>
<path color=#ec0c0d d="M1093 2084l2 20 1-8-1-22z"/>
<path color=#ff6400 d="M1048 2182l3 5 6-2-3-16z"/>
<path color=#c2ff3d d="M1681 2346l76 7-9-5-77-10z"/>
<path color=#f4ff0b d="M1085 2306l11 5 4-3-11-5z"/>
<path color=#ff9c00 d="M1028 2236l0-26 4 3 0 21z"/>
<path color=#d0ff2f d="M1410 2336l43-1 0 0-43 1z"/>
<path color=#c6ff39 d="M1610 2340l72 6-1 0-72-6z"/>
<path color=#70ff8f d="M1135 2428l12-11 14-28-10 10z"/>
<path color=#bdff42 d="M1747 2347l83 12-7-4-85-13z"/>
<path color=#ff4600 d="M1059 2169l0-25 1 5 0 24z"/>
<path color=#b7ff48 d="M1216 2372l33-13 5-20-30 10z"/>
<path color=#7eff81 d="M1147 2417l12-11 13-27-11 10z"/>
<path color=#48ffb7 d="M1092 2450l2 8 20-30-2-7z"/>
<path color=#c2ff3d d="M1083 2359l6 7 31-32-5-6z"/>
<path color=#ff9e00 d="M1025 2238l0-23 3 2 0 19z"/>
<path color=#ff4500 d="M1058 2174l0-24 1-6 0 25z"/>
<path color=#ff5400 d="M1051 2188l0-18 4-21 0 24z"/>
<path color=#86ff79 d="M1100 2390l4 7 1-2-3-7z"/>
<path color=#ff3200 d="M1062 2121l3 29 4 12-3-17z"/>
<path color=#cfff30 d="M1367 2339l43-3 0 0-43 2z"/>
<path color=#90ff6f d="M1159 2406l23-16 11-25-21 14z"/>
<path color=#a6ff59 d="M1182 2390l34-18 8-23-31 16z"/>
<path color=#ff3b00 d="M1060 2161l0-29 2 13 0 25z"/>
<path color=#ff9500 d="M1039 2220l10 5 8-4-10-5z"/>
<path color=#ff2f00 d="M1062 2145l0-24 4 24 0 18z"/>
<path color=#ff9c00 d="M1024 2238l0-24 1 1 0 23z"/>
<path color=#bcff43 d="M1748 2348l82 11 0 0-83-12z"/>
<path color=#ff6e00 d="M1037 2206l0-25 8-5 0 25z"/>
<path color=#c1ff3e d="M1682 2346l75 7 0 0-76-7z"/>
<path color=#c9ff36 d="M1551 2347l69 2-10-9-69-3z"/>
<path color=#ff7f00 d="M1032 2213l0-21 5 6 0 17z"/>
<path color=#ff9c00 d="M1023 2239l0-23 1-2 0 24z"/>
<path color=#ff3200 d="M1061 2129l2 26 3 5-2-19z"/>
<path color=#b6ff49 d="M1815 2351l96 17-4-1-99-20z"/>
<path color=#ccff33 d="M1506 2346l45 1-10-10-45-2z"/>
<path color=#ff5700 d="M1045 2193l0-17 6-23 0 23z"/>
<path color=#ff4500 d="M1053 2163l2 11 4-11-2-19z"/>
<path color=#c5ff3a d="M1620 2349l72 4-10-7-72-6z"/>
<path color=#ff9e00 d="M1021 2240l0-20 2-4 0 23z"/>
<path color=#cdff32 d="M1325 2344l42-5 0-1-42 5z"/>
<path color=#ff6200 d="M1037 2181l6 10 8-4-6-11z"/>
<path color=#ceff31 d="M1461 2347l45-1-10-11-43 0z"/>
<path color=#56ffa9 d="M1089 2442l3 8 20-29-2-8z"/>
<path color=#fffd00 d="M1074 2301l11 5 4-3-10-5z"/>
<path color=#ff3b00 d="M1055 2173l0-24 3-16 0 29z"/>
<path color=#b6ff49 d="M1815 2351l96 18 0-1-96-17z"/>
<path color=#ff4f00 d="M1045 2176l3 6 6-13-3-16z"/>
<path color=#bcff43 d="M1757 2353l80 9-7-3-82-11z"/>
<path color=#ceff31 d="M1077 2353l6 6 32-31-5-6z"/>
<path color=#94ff6b d="M1097 2382l3 8 2-2-3-8z"/>
<path color=#c1ff3e d="M1692 2353l74 5-9-5-75-7z"/>
<path color=#ff3100 d="M1057 2144l2 19 2-7-2-26z"/>
<path color=#b6ff49 d="M1822 2355l93 15-4-1-96-18z"/>
<path color=#ff9c00 d="M1017 2242l0-21 4-7 0 26z"/>
<path color=#cfff30 d="M1417 2349l44-2-8-12-43 1z"/>
<path color=#ff2500 d="M1060 2123l2 29 1 3-2-26z"/>
<path color=#c8ff37 d="M1282 2351l43-7 0-1-43 8z"/>
<path color=#bbff44 d="M1757 2353l81 10-1-1-80-9z"/>
<path color=#2affd5 d="M1098 2474l7-11 1-1-8 11z"/>
<path color=#ffc400 d="M1009 2278l25 6 63-39-18-8z"/>
<path color=#b5ff4a d="M1823 2355l93 15-1 0-93-15z"/>
<path color=#ff2500 d="M1059 2130l2 26 1-4-2-29z"/>
<path color=#28ffd7 d="M1096 2466l2 8 0-1-2-7z"/>
<path color=#c5ff3a d="M1622 2350l72 4-2-1-72-4z"/>
<path color=#ffa000 d="M1011 2245l0-17 6-7 0 21z"/>
<path color=#c9ff36 d="M1553 2348l69 2-2-1-69-2z"/>
<path color=#66ff99 d="M1086 2434l3 8 21-29-3-8z"/>
<path color=#38ffc7 d="M1105 2463l6-8 1-1-6 8z"/>
<path color=#ff7200 d="M1028 2210l0-26 4 8 0 21z"/>
<path color=#b5ff4a d="M1830 2359l89 13-3-2-93-15z"/>
<path color=#dbff24 d="M1069 2348l8 5 33-31-7-5z"/>
<path color=#ff7900 d="M1025 2215l0-23 3 5 0 20z"/>
<path color=#c0ff3f d="M1694 2354l74 5-2-1-74-5z"/>
<path color=#cfff30 d="M1373 2353l44-4-7-13-43 3z"/>
<path color=#bbff44 d="M1766 2358l78 8-6-3-81-10z"/>
<path color=#a3ff5c d="M1092 2375l5 7 2-2-5-7z"/>
<path color=#ff8500 d="M1023 2213l16 7 8-4-16-7z"/>
<path color=#ff2e00 d="M1051 2170l0-17 4-29 0 25z"/>
<path color=#ff5d00 d="M1032 2172l6 22 5-3-6-10z"/>
<path color=#43ffbc d="M1111 2455l7-8 0-1-6 8z"/>
<path color=#ccff33 d="M1508 2348l45 0-2-1-45-1z"/>
<path color=#c1ff3e d="M1249 2360l33-9 0 0-33 8z"/>
<path color=#ff1b00 d="M1059 2144l0-25 1 7 0 23z"/>
<path color=#ff2a00 d="M1051 2153l2 10 4-19-2-20z"/>
<path color=#b5ff4a d="M1830 2359l89 13 0 0-89-13z"/>
<path color=#ff5e00 d="M1032 2192l0-20 5 9 0 17z"/>
<path color=#ff1b00 d="M1058 2150l0-23 1-8 0 25z"/>
<path color=#50ffaf d="M1118 2447l8-9 1-1-9 9z"/>
<path color=#36ffc9 d="M1094 2459l2 7 0 0-2-8z"/>
<path color=#ff7300 d="M1024 2214l0-24 1 2 0 23z"/>
<path color=#ff5e00 d="M1031 2177l3 19 4-2-3-11z"/>
<path color=#b4ff4b d="M1837 2362l86 12-4-2-89-13z"/>
<path color=#baff45 d="M1768 2359l78 8-2-1-78-8z"/>
<path color=#cdff32 d="M1463 2349l45-1-2-2-45 1z"/>
<path color=#c4ff3b d="M1632 2357l70 2-8-5-72-4z"/>
<path color=#5effa1 d="M1126 2438l9-10 0 0-8 9z"/>
<path color=#ff7800 d="M1021 2220l0-20 2-7 0 23z"/>
<path color=#c0ff3f d="M1702 2359l73 4-7-4-74-5z"/>
<path color=#ff7300 d="M1023 2216l0-23 1-3 0 24z"/>
<path color=#ff0c00 d="M1060 2132l0-29 2 18 0 24z"/>
<path color=#b6ff49 d="M1216 2372l33-12 0-1-33 13z"/>
<path color=#ffec00 d="M1052 2294l22 7 5-3-22-8z"/>
<path color=#cdff32 d="M1328 2359l45-6-6-14-42 5z"/>
<path color=#ff0900 d="M1060 2103l1 26 3 12-2-20z"/>
<path color=#75ff8a d="M1083 2426l3 8 21-29-3-8z"/>
<path color=#6cff93 d="M1135 2428l12-10 0-1-12 11z"/>
<path color=#b4ff4b d="M1838 2363l85 11 0 0-86-12z"/>
<path color=#c8ff37 d="M1562 2356l70 1-10-7-69-2z"/>
<path color=#7bff84 d="M1147 2418l12-11 0-1-12 11z"/>
<path color=#b1ff4e d="M1088 2368l4 7 2-2-5-7z"/>
<path color=#baff45 d="M1775 2363l76 6-5-2-78-8z"/>
<path color=#a4ff5b d="M1182 2390l34-18 0 0-34 18z"/>
<path color=#e7ff18 d="M1060 2342l9 6 34-31-7-6z"/>
<path color=#ff9900 d="M1003 2250l0-28 8-2 0 25z"/>
<path color=#b4ff4b d="M1844 2366l83 10-4-2-85-11z"/>
<path color=#8dff72 d="M1159 2407l23-17 0 0-23 16z"/>
<path color=#cfff30 d="M1419 2352l44-3-2-2-44 2z"/>
<path color=#ff5800 d="M1029 2172l3 25 2-1-3-19z"/>
<path color=#ff0b00 d="M1055 2149l0-25 3-20 0 29z"/>
<path color=#44ffbb d="M1091 2451l3 8 0-1-2-8z"/>
<path color=#cbff34 d="M1517 2357l45-1-9-8-45 0z"/>
<path color=#ff7200 d="M1017 2221l0-21 4-13 0 27z"/>
<path color=#ff0800 d="M1055 2124l2 20 2-14-1-26z"/>
<path color=#b4ff4b d="M1846 2367l81 9 0 0-83-10z"/>
<path color=#bfff40 d="M1707 2362l72 3-4-2-73-4z"/>
<path color=#ff7e00 d="M1011 2228l0-17 6-11 0 21z"/>
<path color=#aeff51 d="M1911 2368l85 17 0 0-89-18z"/>
<path color=#b9ff46 d="M1779 2365l75 6-3-2-76-6z"/>
<path color=#c8ff37 d="M1283 2368l45-9-3-15-43 7z"/>
<path color=#ff9e00 d="M1000 2251l0-24 3 4 0 19z"/>
<path color=#c4ff3b d="M1636 2360l71 2-5-3-70-2z"/>
<path color=#adff52 d="M1911 2369l85 16 0 0-85-17z"/>
<path color=#b3ff4c d="M1851 2369l79 8-3-1-81-9z"/>
<path color=#ff5400 d="M1028 2169l3 28 1 0-3-25z"/>
<path color=#84ff7b d="M1079 2418l4 8 21-29-4-7z"/>
<path color=#adff52 d="M1915 2370l81 15 0 0-85-16z"/>
<path color=#ff5400 d="M1027 2173l3 25 1-1-3-28z"/>
<path color=#adff52 d="M1916 2370l80 15 0 0-81-15z"/>
<path color=#ff5300 d="M1025 2192l0-22 3 7 0 20z"/>
<path color=#ff7300 d="M1012 2207l11 6 8-4-11-6z"/>
<path color=#ff5700 d="M1024 2180l4 19 2-1-3-25z"/>
<path color=#ff4900 d="M1028 2184l0-26 4 14 0 20z"/>
<path color=#cdff32 d="M1471 2359l46-2-9-9-45 1z"/>
<path color=#adff52 d="M1919 2372l77 13 0 0-80-15z"/>
<path color=#bfff40 d="M1082 2361l6 7 1-2-6-7z"/>
<path color=#b3ff4c d="M1854 2371l77 7-1-1-79-8z"/>
<path color=#cfff30 d="M1374 2355l45-3-2-3-44 4z"/>
<path color=#b9ff46 d="M1784 2368l73 4-3-1-75-6z"/>
<path color=#ffaf00 d="M983 2273l26 5 70-41-19-8z"/>
<path color=#adff52 d="M1919 2372l77 13 0 0-77-13z"/>
<path color=#beff41 d="M1713 2365l71 3-5-3-72-3z"/>
<path color=#ff5d00 d="M1020 2190l4 11 4-2-4-19z"/>
<path color=#f30708 d="M1059 2094l1 29 1 6-1-26z"/>
<path color=#adff52 d="M1923 2374l73 11 0 0-77-13z"/>
<path color=#c8ff37 d="M1567 2360l69 0-4-3-70-1z"/>
<path color=#ff4200 d="M1028 2158l3 19 4 6-3-11z"/>
<path color=#ff9900 d="M998 2252l0-29 2 4 0 24z"/>
<path color=#f4ff0b d="M1048 2337l12 5 36-31-11-5z"/>
<path color=#f30708 d="M1058 2104l1 26 1-7-1-29z"/>
<path color=#adff52 d="M1923 2374l73 11 0 0-73-11z"/>
<path color=#ff9f00 d="M996 2254l0-22 2 3 0 17z"/>
<path color=#b3ff4c d="M1857 2372l76 7-2-1-77-7z"/>
<path color=#53ffac d="M1089 2443l2 8 1-1-3-8z"/>
<path color=#f0090b d="M1059 2119l0-25 1 9 0 23z"/>
<path color=#adff52 d="M1927 2376l69 9 0 0-73-11z"/>
<path color=#27ffd8 d="M1086 2499l8-11 11-25-7 11z"/>
<path color=#c0ff3f d="M1248 2378l35-10-1-17-33 9z"/>
<path color=#adff52 d="M1927 2376l69 9 0 0-69-9z"/>
<path color=#c3ff3c d="M1643 2364l70 1-6-3-71-2z"/>
<path color=#f0090b d="M1058 2127l0-23 1-10 0 25z"/>
<path color=#ff5300 d="M1021 2200l0-19 2-10 0 22z"/>
<path color=#acff53 d="M1930 2377l66 8 0 0-69-9z"/>
<path color=#25ffda d="M1084 2492l2 7 12-25-2-8z"/>
<path color=#b2ff4d d="M1862 2375l74 5-3-1-76-7z"/>
<path color=#ff4a00 d="M1024 2190l0-24 1 4 0 22z"/>
<path color=#b8ff47 d="M1791 2371l71 4-5-3-73-4z"/>
<path color=#acff53 d="M1931 2378l65 7 0 0-66-8z"/>
<path color=#92ff6d d="M1075 2410l4 8 21-28-3-8z"/>
<path color=#35ffca d="M1094 2488l7-8 10-25-6 8z"/>
<path color=#acff53 d="M1933 2379l63 6 0 0-65-7z"/>
<path color=#ff9c00 d="M994 2255l0-26 2 3 0 22z"/>
<path color=#ceff31 d="M1426 2362l45-3-8-10-44 3z"/>
<path color=#ff4900 d="M1023 2193l0-22 1-5 0 24z"/>
<path color=#acff53 d="M1936 2380l60 5 0 0-63-6z"/>
<path color=#b2ff4d d="M1864 2375l72 5 0 0-74-5z"/>
<path color=#caff35 d="M1521 2361l46-1-5-4-45 1z"/>
<path color=#acff53 d="M1936 2380l60 5 0 0-60-5z"/>
<path color=#beff41 d="M1721 2370l70 1-7-3-71-3z"/>
<path color=#41ffbe d="M1101 2480l6-9 11-24-7 8z"/>
<path color=#acff53 d="M1939 2381l57 4 0 0-60-5z"/>
<path color=#cdff32 d="M1329 2362l45-7-1-2-45 6z"/>
<path color=#ff5b00 d="M1011 2194l7 9 6-2-7-22z"/>
<path color=#cdff32 d="M1076 2355l6 6 1-2-6-6z"/>
<path color=#b8ff47 d="M1793 2373l71 2-2 0-71-4z"/>
<path color=#ff9c00 d="M992 2256l0-26 2 3 0 22z"/>
<path color=#acff53 d="M1940 2382l56 3 0 0-57-4z"/>
<path color=#b5ff4a d="M1213 2392l35-14 1-18-33 12z"/>
<path color=#acff53 d="M1942 2382l54 3 0 0-56-3z"/>
<path color=#b2ff4d d="M1870 2378l69 3-3-1-72-5z"/>
<path color=#ffd700 d="M1028 2288l24 6 5-4-23-6z"/>
<path color=#4effb1 d="M1107 2471l10-10 9-23-8 9z"/>
<path color=#c7ff38 d="M1574 2365l69-1-7-4-69 0z"/>
<path color=#ff5c00 d="M1011 2211l0-17 6-15 0 21z"/>
<path color=#acff53 d="M1944 2383l52 2 0 0-54-3z"/>
<path color=#63ff9c d="M1086 2435l3 8 0-1-3-8z"/>
<path color=#acff53 d="M1944 2384l52 1 0 0-52-2z"/>
<path color=#abff54 d="M1947 2385l49 0 0 0-52-1z"/>
<path color=#b1ff4e d="M1871 2379l69 3-1-1-69-3z"/>
<path color=#5bffa4 d="M1117 2461l9-10 9-23-9 10z"/>
<path color=#33ffcc d="M1082 2485l2 7 12-26-2-7z"/>
<path color=#abff54 d="M1948 2385l48 0 0 0-49 0z"/>
<path color=#ff9800 d="M991 2256l0-28 1 2 0 26z"/>
<path color=#abff54 d="M1949 2386l47-1 0 0-48 0z"/>
<path color=#bdff42 d="M1723 2371l70 2-2-2-70-1z"/>
<path color=#ff6a00 d="M1003 2222l0-28 8 0 0 26z"/>
<path color=#c2ff3d d="M1651 2370l70 0-8-5-70-1z"/>
<path color=#b8ff47 d="M1801 2377l69 1-6-3-71-2z"/>
<path color=#ff7800 d="M1000 2227l0-24 3 9 0 19z"/>
<path color=#ff4800 d="M1017 2200l0-21 4-18 0 26z"/>
<path color=#a2ff5d d="M1176 2411l37-19 3-20-34 18z"/>
<path color=#abff54 d="M1951 2387l45-2 0 0-47 1z"/>
<path color=#6aff95 d="M1126 2451l13-11 8-22-12 10z"/>
<path color=#ff2f00 d="M1025 2147l4 25 2 5-3-19z"/>
<path color=#fffd00 d="M1035 2333l13 4 37-31-11-5z"/>
<path color=#ff9800 d="M990 2257l0-26 1-3 0 28z"/>
<path color=#b1ff4e d="M1875 2381l67 1-2 0-69-3z"/>
<path color=#ccff33 d="M1476 2364l45-3-4-4-46 2z"/>
<path color=#abff54 d="M1953 2387l43-2 0 0-45 2z"/>
<path color=#a1ff5e d="M1070 2403l5 7 22-28-5-7z"/>
<path color=#abff54 d="M1953 2388l43-3 0 0-43 2z"/>
<path color=#ff9c00 d="M987 2258l0-21 3-6 0 26z"/>
<path color=#ceff31 d="M1380 2367l46-5-7-10-45 3z"/>
<path color=#79ff86 d="M1139 2440l12-11 8-22-12 11z"/>
<path color=#abff54 d="M1955 2388l41-3 0 0-43 3z"/>
<path color=#8cff73 d="M1151 2429l25-18 6-21-23 17z"/>
<path color=#ff2e00 d="M1025 2170l0-23 3 11 0 19z"/>
<path color=#ff4100 d="M1017 2179l3 11 4-10-3-19z"/>
<path color=#ff5e00 d="M1003 2194l8 13 7-4-7-9z"/>
<path color=#abff54 d="M1957 2389l39-4 0 0-41 3z"/>
<path color=#abff54 d="M1957 2389l39-4 0 0-39 4z"/>
<path color=#abff54 d="M1958 2390l38-5 0 0-39 4z"/>
<path color=#b1ff4e d="M1879 2383l65 0-2-1-67-1z"/>
<path color=#abff54 d="M1960 2390l36-5 0 0-38 5z"/>
<path color=#b7ff48 d="M1803 2378l68 1-1-1-69-1z"/>
<path color=#ff7d00 d="M996 2232l0-21 2 7 0 17z"/>
<path color=#caff35 d="M1528 2367l46-2-7-5-46 1z"/>
<path color=#ff9c00 d="M985 2260l0-22 2-5 0 25z"/>
<path color=#c7ff38 d="M1283 2371l46-9-1-3-45 9z"/>
<path color=#abff54 d="M1961 2391l35-6 0 0-36 5z"/>
<path color=#abff54 d="M1961 2391l35-6 0 0-35 6z"/>
<path color=#abff54 d="M1962 2392l34-7 0 0-35 6z"/>
<path color=#daff25 d="M1067 2349l9 6 1-2-8-5z"/>
<path color=#b1ff4e d="M1881 2383l63 1 0-1-65 0z"/>
<path color=#ff9e00 d="M968 2269l15 4 77-44-11-4z"/>
<path color=#aaff55 d="M1964 2392l32-7 0 0-34 7z"/>
<path color=#ff9f00 d="M983 2261l0-18 2-5 0 22z"/>
<path color=#aaff55 d="M1965 2392l31-7 0 0-32 7z"/>
<path color=#73ff8c d="M1082 2426l4 9 0-1-3-8z"/>
<path color=#bdff42 d="M1733 2377l68 0-8-4-70-2z"/>
<path color=#ff2f00 d="M1021 2161l3 19 3-7-4-25z"/>
<path color=#aaff55 d="M1965 2393l31-8 0 0-31 7z"/>
<path color=#41ffbe d="M1079 2476l3 9 12-26-3-8z"/>
<path color=#aaff55 d="M1966 2393l30-8 0 0-31 8z"/>
<path color=#aaff55 d="M1966 2393l30-8 0 0-30 8z"/>
<path color=#c2ff3d d="M1654 2372l69-1-2-1-70 0z"/>
<path color=#aaff55 d="M1967 2393l29-8 0 0-30 8z"/>
<path color=#b0ff4f d="M1886 2386l61-1-3-1-63-1z"/>
<path color=#aaff55 d="M1968 2394l28-9 0 0-29 8z"/>
<path color=#b7ff48 d="M1809 2381l66 0-4-2-68-1z"/>
<path color=#aaff55 d="M1968 2394l28-9 0 0-28 9z"/>
<path color=#ff5f00 d="M1004 2194l4 14 3-1-4-7z"/>
<path color=#aaff55 d="M1969 2394l27-9 0 0-28 9z"/>
<path color=#ff2400 d="M1024 2142l4 27 1 3-4-25z"/>
<path color=#aaff55 d="M1969 2394l27-9 0 0-27 9z"/>
<path color=#ff2e00 d="M1021 2181l0-20 2-13 0 23z"/>
<path color=#aaff55 d="M1969 2394l27-9 0 0-27 9z"/>
<path color=#aaff55 d="M1970 2395l26-10 0 0-27 9z"/>
<path color=#aaff55 d="M1970 2395l26-10 0 0-26 10z"/>
<path color=#aaff55 d="M1970 2395l26-10 0 0-26 10z"/>
<path color=#aaff55 d="M1970 2395l26-10 0 0-26 10z"/>
<path color=#aaff55 d="M1970 2395l26-10 0 0-26 10z"/>
<path color=#c6ff39 d="M1583 2372l68-2-8-6-69 1z"/>
<path color=#aaff55 d="M1970 2395l26-10 0 0-26 10z"/>
<path color=#aaff55 d="M1970 2395l26-10 0 0-26 10z"/>
<path color=#aaff55 d="M1970 2395l26-10 0 0-26 10z"/>
<path color=#aaff55 d="M1970 2395l26-10 0 0-26 10z"/>
<path color=#aaff55 d="M1970 2395l26-10 0 0-26 10z"/>
<path color=#ff2400 d="M1023 2148l4 25 1-4-4-27z"/>
<path color=#cdff32 d="M1430 2367l46-3-5-5-45 3z"/>
<path color=#ff6a00 d="M998 2223l0-29 2 9 0 24z"/>
<path color=#b0ff4f d="M1888 2387l60-2-1 0-61 1z"/>
<path color=#ff2000 d="M1024 2166l0-24 1 5 0 23z"/>
<path color=#b0ff4f d="M1065 2395l5 8 22-28-4-7z"/>
<path color=#ccff33 d="M1334 2374l46-7-6-12-45 7z"/>
<path color=#b0ff4f d="M1890 2388l59-2-1-1-60 2z"/>
<path color=#ff7300 d="M994 2229l0-25 2 7 0 21z"/>
<path color=#ff2000 d="M1023 2171l0-23 1-6 0 24z"/>
<path color=#ffb700 d="M1005 2246l18-7-100 55-22 9z"/>
<path color=#ff9900 d="M980 2262l0-24 3-7 0 30z"/>
<path color=#bcff43 d="M1735 2378l68 0-2-1-68 0z"/>
<path color=#ffbe00 d="M984 2249l21-3-104 57-26 5z"/>
<path color=#ccff33 d="M1482 2370l46-3-7-6-45 3z"/>
<path color=#b6ff49 d="M1815 2384l64-1-4-2-66 0z"/>
<path color=#bfff40 d="M1248 2382l35-11 0-3-35 10z"/>
<path color=#b0ff4f d="M1895 2390l56-3-2-1-59 2z"/>
<path color=#ff9d00 d="M977 2264l0-19 3-7 0 24z"/>
<path color=#ff5800 d="M1002 2187l3 23 3-2-4-14z"/>
<path color=#ff7200 d="M992 2230l0-26 2 8 0 21z"/>
<path color=#82ff7d d="M1079 2419l3 7 1 0-4-8z"/>
<path color=#51ffae d="M1077 2468l2 8 12-25-2-8z"/>
<path color=#c1ff3e d="M1666 2379l67-2-10-6-69 1z"/>
<path color=#e7ff18 d="M1059 2344l8 5 2-1-9-6z"/>
<path color=#b6ff49 d="M1817 2385l64-2-2 0-64 1z"/>
<path color=#afff50 d="M1898 2391l55-4-2 0-56 3z"/>
<path color=#ff5800 d="M1001 2189l3 22 1-1-2-15z"/>
<path color=#bcff43 d="M1743 2382l66-1-6-3-68 0z"/>
<path color=#c6ff39 d="M1586 2374l68-2-3-2-68 2z"/>
<path color=#ff5300 d="M1000 2203l0-24 3 15 0 18z"/>
<path color=#afff50 d="M1899 2392l54-4 0-1-55 4z"/>
<path color=#ffc000 d="M953 2251l31-2-109 59-38 4z"/>
<path color=#c9ff36 d="M1537 2374l46-2-9-7-46 2z"/>
<path color=#ffeb00 d="M1009 2326l26 7 39-32-22-7z"/>
<path color=#ff9100 d="M954 2266l14 3 81-44-10-5z"/>
<path color=#23ffdc d="M1085 2504l8-11 1-5-8 11z"/>
<path color=#afff50 d="M1903 2394l52-6-2 0-54 4z"/>
<path color=#b5ff4a d="M1824 2388l62-2-5-3-64 2z"/>
<path color=#ff4a00 d="M1000 2179l4 15 3 6-4-6z"/>
<path color=#ceff31 d="M1384 2372l46-5-4-5-46 5z"/>
<path color=#ff5b00 d="M996 2211l0-22 2 11 0 18z"/>
<path color=#beff41 d="M1058 2389l7 6 23-27-6-7z"/>
<path color=#b4ff4b d="M1212 2395l36-13 0-4-35 14z"/>
<path color=#ffc200 d="M1003 2282l25 6 6-4-25-6z"/>
<path color=#ff7200 d="M987 2237l0-21 3-11 0 26z"/>
<path color=#22ffdd d="M1083 2496l2 8 1-5-2-7z"/>
<path color=#ff6800 d="M991 2228l0-29 1 5 0 26z"/>
<path color=#afff50 d="M1907 2395l50-6-2-1-52 6z"/>
<path color=#ff7d00 d="M983 2243l0-18 2-9 0 22z"/>
<path color=#32ffcd d="M1093 2493l6-9 2-4-7 8z"/>
<path color=#ff5200 d="M999 2184l3 28 2-1-3-22z"/>
<path color=#c7ff38 d="M1287 2384l47-10-5-12-46 9z"/>
<path color=#cdff32 d="M1436 2374l46-4-6-6-46 3z"/>
<path color=#ff6800 d="M990 2231l0-26 1-6 0 29z"/>
<path color=#aeff51 d="M1907 2396l50-7 0 0-50 6z"/>
<path color=#c1ff3e d="M1668 2380l67-2-2-1-67 2z"/>
<path color=#ff7200 d="M985 2238l0-22 2-9 0 26z"/>
<path color=#aeff51 d="M1910 2397l48-7-1-1-50 7z"/>
<path color=#3effc1 d="M1099 2484l7-8 1-5-6 9z"/>
<path color=#ff9700 d="M969 2269l0-29 8-5 0 29z"/>
<path color=#91ff6e d="M1075 2411l4 8 0-1-4-8z"/>
<path color=#b5ff4a d="M1828 2390l60-3-2-1-62 2z"/>
<path color=#61ff9e d="M1073 2459l4 9 12-25-3-8z"/>
<path color=#bbff44 d="M1751 2386l64-2-6-3-66 1z"/>
<path color=#ff5200 d="M997 2184l2 29 3-1-2-21z"/>
<path color=#4bffb4 d="M1106 2476l9-10 2-5-10 10z"/>
<path color=#aeff51 d="M1914 2398l46-8-2 0-48 7z"/>
<path color=#ff5300 d="M997 2188l1 25 1 0-1-23z"/>
<path color=#a1ff5e d="M1176 2415l36-20 1-3-37 19z"/>
<path color=#b5ff4a d="M1831 2392l59-4-2-1-60 3z"/>
<path color=#c5ff3a d="M1598 2382l68-3-12-7-68 2z"/>
<path color=#59ffa6 d="M1115 2466l10-10 1-5-9 10z"/>
<path color=#ff5300 d="M996 2191l1 23 1-1-1-25z"/>
<path color=#f4ff0b d="M1046 2339l13 5 1-2-12-5z"/>
<path color=#aeff51 d="M1916 2400l45-9-1-1-46 8z"/>
<path color=#cbff34 d="M1491 2378l46-4-9-7-46 3z"/>
<path color=#c9ff36 d="M1540 2377l46-3-3-2-46 2z"/>
<path color=#aeff51 d="M1917 2400l44-9 0 0-45 9z"/>
<path color=#30ffcf d="M1080 2489l3 7 1-4-2-7z"/>
<path color=#68ff97 d="M1125 2456l13-12 1-4-13 11z"/>
<path color=#bbff44 d="M1753 2387l64-2-2-1-64 2z"/>
<path color=#ffc000 d="M903 2255l50-4-116 61-62 8z"/>
<path color=#c0ff3f d="M1677 2385l66-3-8-4-67 2z"/>
<path color=#aeff51 d="M1919 2401l43-9-1-1-44 9z"/>
<path color=#8aff75 d="M1150 2433l26-18 0-4-25 18z"/>
<path color=#77ff88 d="M1138 2444l12-11 1-4-12 11z"/>
<path color=#ccff33 d="M1051 2383l7 6 24-28-6-6z"/>
<path color=#ff5200 d="M993 2194l2 21 2-1-2-29z"/>
<path color=#b4ff4b d="M1838 2395l57-5-5-2-59 4z"/>
<path color=#ff4900 d="M994 2204l0-26 2 11 0 22z"/>
<path color=#adff52 d="M1922 2402l42-10-2 0-43 9z"/>
<path color=#ff9c00 d="M963 2272l0-28 6 6 0 19z"/>
<path color=#ff3c00 d="M998 2194l0-29 2 14 0 24z"/>
<path color=#ff7700 d="M977 2245l0-20 3-11 0 24z"/>
<path color=#ccff33 d="M1337 2380l47-8-4-5-46 7z"/>
<path color=#bfff40 d="M1250 2395l37-11-4-13-35 11z"/>
<path color=#adff52 d="M1924 2403l41-11-1 0-42 10z"/>
<path color=#ff3600 d="M998 2165l4 22 2 7-4-15z"/>
<path color=#71ff8e d="M1070 2451l3 8 13-24-4-9z"/>
<path color=#a0ff5f d="M1069 2404l6 7 0-1-5-7z"/>
<path color=#adff52 d="M1926 2404l39-11 0-1-41 11z"/>
<path color=#ff3700 d="M998 2168l3 21 2 6-3-15z"/>
<path color=#ff6a00 d="M980 2238l0-24 3-12 0 29z"/>
<path color=#ff4800 d="M992 2204l0-27 2 14 0 21z"/>
<path color=#ff5200 d="M990 2195l3 21 2-1-3-28z"/>
<path color=#cdff32 d="M1389 2380l47-6-6-7-46 5z"/>
<path color=#baff45 d="M1762 2392l62-4-7-3-64 2z"/>
<path color=#ff5700 d="M988 2202l3 15 2-1-3-21z"/>
<path color=#adff52 d="M1926 2404l40-11-1 0-39 11z"/>
<path color=#b4ff4b d="M1842 2397l56-6-3-1-57 5z"/>
<path color=#adff52 d="M1927 2405l39-12 0 0-40 11z"/>
<path color=#ff3900 d="M996 2189l0-21 2 15 0 17z"/>
<path color=#adff52 d="M1929 2405l38-12-1 0-39 12z"/>
<path color=#ff9c00 d="M961 2273l0-26 2 4 0 21z"/>
<path color=#adff52 d="M1930 2406l38-12-1-1-38 12z"/>
<path color=#3effc1 d="M1078 2481l2 8 2-4-3-9z"/>
<path color=#ff8100 d="M932 2261l22 5 85-46-16-7z"/>
<path color=#b3ff4c d="M1844 2398l55-6-1-1-56 6z"/>
<path color=#c5ff3a d="M1600 2384l68-4-2-1-68 3z"/>
<path color=#adff52 d="M1932 2406l36-12 0 0-38 12z"/>
<path color=#ff5a00 d="M983 2225l0-17 2-13 0 21z"/>
<path color=#acff53 d="M1933 2407l36-13-1 0-36 12z"/>
<path color=#ff5600 d="M984 2204l4 14 3-1-4-22z"/>
<path color=#acff53 d="M1933 2407l36-13 0 0-36 13z"/>
<path color=#caff35 d="M1494 2380l46-3-3-3-46 4z"/>
<path color=#ff5d00 d="M981 2213l4 7 3-2-4-14z"/>
<path color=#bfff40 d="M1686 2390l65-4-8-4-66 3z"/>
<path color=#ccff33 d="M1444 2383l47-5-9-8-46 4z"/>
<path color=#acff53 d="M1934 2407l35-13 0 0-36 13z"/>
<path color=#acff53 d="M1935 2408l35-13-1-1-35 13z"/>
<path color=#ff4800 d="M987 2216l0-21 3-16 0 26z"/>
<path color=#acff53 d="M1935 2408l35-13 0 0-35 13z"/>
<path color=#c8ff37 d="M1552 2386l46-4-12-8-46 3z"/>
<path color=#acff53 d="M1936 2408l34-13 0 0-35 13z"/>
<path color=#b3ff4c d="M1850 2400l53-6-4-2-55 6z"/>
<path color=#acff53 d="M1936 2408l34-13 0 0-34 13z"/>
<path color=#daff25 d="M1042 2377l9 6 25-28-9-6z"/>
<path color=#acff53 d="M1936 2408l34-13 0 0-34 13z"/>
<path color=#ff9800 d="M959 2274l0-30 2 3 0 26z"/>
<path color=#acff53 d="M1936 2408l34-13 0 0-34 13z"/>
<path color=#acff53 d="M1936 2408l34-13 0 0-34 13z"/>
<path color=#b9ff46 d="M1767 2395l61-5-4-2-62 4z"/>
<path color=#b3ff4c d="M1213 2410l37-15-2-13-36 13z"/>
<path color=#acff53 d="M1936 2408l34-13 0 0-34 13z"/>
<path color=#acff53 d="M1936 2408l34-13 0 0-34 13z"/>
<path color=#acff53 d="M1936 2408l34-13 0 0-34 13z"/>
<path color=#fffc00 d="M1033 2334l13 5 2-2-13-4z"/>
<path color=#80ff7f d="M1066 2443l4 8 12-25-3-7z"/>
<path color=#20ffdf d="M1080 2523l9-12 4-18-8 11z"/>
<path color=#ff4900 d="M985 2216l0-21 2-13 0 25z"/>
<path color=#ff9900 d="M957 2275l0-29 2 4 0 24z"/>
<path color=#ffd600 d="M981 2322l28 4 43-32-24-6z"/>
<path color=#afff50 d="M1064 2396l5 8 1-1-5-8z"/>
<path color=#ff3800 d="M991 2199l0-28 1 6 0 27z"/>
<path color=#c7ff38 d="M1289 2391l48-11-3-6-47 10z"/>
<path color=#ff2600 d="M996 2155l3 29 2 5-3-21z"/>
<path color=#b3ff4c d="M1855 2403l52-8-4-1-53 6z"/>
<path color=#b9ff46 d="M1771 2397l60-5-3-2-61 5z"/>
<path color=#1fffe0 d="M1078 2516l2 7 5-19-2-8z"/>
<path color=#ff3800 d="M990 2205l0-26 1-8 0 28z"/>
<path color=#ff9a00 d="M956 2276l0-26 1 1 0 24z"/>
<path color=#c4ff3b d="M1610 2390l67-5-9-5-68 4z"/>
<path color=#bfff40 d="M1688 2392l65-5-2-1-65 4z"/>
<path color=#2fffd0 d="M1089 2511l7-8 3-19-6 9z"/>
<path color=#4effb1 d="M1075 2472l3 9 1-5-2-8z"/>
<path color=#ff9a00 d="M955 2276l0-24 1-2 0 26z"/>
<path color=#ff2600 d="M996 2156l1 28 3 7-2-21z"/>
<path color=#b2ff4d d="M1855 2403l52-7 0-1-52 8z"/>
<path color=#ccff33 d="M1342 2388l47-8-5-8-47 8z"/>
<path color=#3cffc3 d="M1096 2503l7-9 3-18-7 8z"/>
<path color=#ffac00 d="M976 2277l27 5 6-4-26-5z"/>
<path color=#ff2800 d="M995 2162l2 26 1 2-2-23z"/>
<path color=#ff6500 d="M969 2240l0-29 8-5 0 29z"/>
<path color=#a0ff5f d="M1175 2431l38-21-1-15-36 20z"/>
<path color=#b2ff4d d="M1860 2405l50-8-3-1-52 7z"/>
<path color=#ff2700 d="M994 2168l2 23 1-3-2-26z"/>
<path color=#ff9900 d="M953 2278l0-24 2-7 0 29z"/>
<path color=#49ffb6 d="M1103 2494l9-11 3-17-9 10z"/>
<path color=#ff5100 d="M977 2225l0-19 3-17 0 25z"/>
<path color=#ff5900 d="M969 2211l8 13 8-4-8-14z"/>
<path color=#ff2000 d="M994 2178l0-25 2 15 0 21z"/>
<path color=#b9ff46 d="M1779 2401l59-6-7-3-60 5z"/>
<path color=#ff7200 d="M963 2244l0-29 6 15 0 20z"/>
<path color=#57ffa8 d="M1112 2483l10-10 3-17-10 10z"/>
<path color=#ff1600 d="M996 2146l2 22 2 12-2-15z"/>
<path color=#ffc000 d="M833 2264l70-9-128 65-87 15z"/>
<path color=#c7ff38 d="M1555 2388l45-4-2-2-46 4z"/>
<path color=#ccff33 d="M1447 2385l47-5-3-2-47 5z"/>
<path color=#ff3600 d="M985 2187l3 15 2-7-2-22z"/>
<path color=#89ff76 d="M1149 2449l26-18 1-16-26 18z"/>
<path color=#ff4800 d="M977 2206l4 7 3-9-4-15z"/>
<path color=#66ff99 d="M1122 2473l13-12 3-17-13 12z"/>
<path color=#ff1600 d="M996 2168l0-22 2 19 0 18z"/>
<path color=#e7ff18 d="M1032 2372l10 5 25-28-8-5z"/>
<path color=#beff41 d="M1698 2397l64-5-9-5-65 5z"/>
<path color=#90ff6f d="M1061 2435l5 8 13-24-4-8z"/>
<path color=#caff35 d="M1506 2390l46-4-12-9-46 3z"/>
<path color=#ccff33 d="M1397 2389l47-6-8-9-47 6z"/>
<path color=#ff9800 d="M951 2279l0-26 2-5 0 30z"/>
<path color=#76ff89 d="M1135 2461l14-12 1-16-12 11z"/>
<path color=#b2ff4d d="M1865 2407l49-9-4-1-50 8z"/>
<path color=#2dffd2 d="M1076 2508l2 8 5-20-3-7z"/>
<path color=#ff2500 d="M991 2173l2 21 2-9-2-28z"/>
<path color=#ff9c00 d="M949 2280l0-22 2-5 0 26z"/>
<path color=#ff1f00 d="M992 2177l0-26 2 19 0 21z"/>
<path color=#beff41 d="M1058 2390l6 6 1-1-7-6z"/>
<path color=#ff3800 d="M983 2208l0-18 2-17 0 22z"/>
<path color=#5effa1 d="M1072 2464l3 8 2-4-4-9z"/>
<path color=#ff7300 d="M961 2247l0-25 2 7 0 22z"/>
<path color=#bfff40 d="M1252 2402l37-11-2-7-37 11z"/>
<path color=#b1ff4e d="M1870 2409l46-9-2-2-49 9z"/>
<path color=#ff3a00 d="M980 2214l0-25 3-17 0 30z"/>
<path color=#b8ff47 d="M1784 2403l58-6-4-2-59 6z"/>
<path color=#ff2500 d="M988 2173l2 22 2-8-2-28z"/>
<path color=#c3ff3c d="M1619 2396l67-6-9-5-67 5z"/>
<path color=#ff5a00 d="M967 2207l5 20 5-3-4-6z"/>
<path color=#ff3400 d="M980 2189l4 15 3-9-4-23z"/>
<path color=#ff6e00 d="M916 2256l16 5 91-48-11-6z"/>
<path color=#b1ff4e d="M1870 2410l47-10-1 0-46 9z"/>
<path color=#ff9b00 d="M944 2283l0-20 5-12 0 29z"/>
<path color=#b1ff4e d="M1874 2411l45-10-2-1-47 10z"/>
<path color=#ff1e00 d="M987 2195l0-22 3-21 0 27z"/>
<path color=#b8ff47 d="M1787 2405l57-7-2-1-58 6z"/>
<path color=#c7ff38 d="M1565 2394l45-4-10-6-45 4z"/>
<path color=#beff41 d="M1704 2401l63-6-5-3-64 5z"/>
<path color=#3cffc3 d="M1073 2499l3 9 4-19-2-8z"/>
<path color=#ffea00 d="M1007 2328l26 6 2-1-26-7z"/>
<path color=#c7ff38 d="M1293 2399l49-11-5-8-48 11z"/>
<path color=#9fff60 d="M1056 2428l5 7 14-24-6-7z"/>
<path color=#b1ff4e d="M1877 2413l45-11-3-1-45 10z"/>
<path color=#ff1f00 d="M985 2195l0-22 2-17 0 26z"/>
<path color=#ff5700 d="M967 2209l3 19 2-1-3-14z"/>
<path color=#ff6800 d="M959 2244l0-29 2 7 0 25z"/>
<path color=#ccff33 d="M1051 2384l7 6 0-1-7-6z"/>
<path color=#b7ff48 d="M1795 2408l55-8-6-2-57 7z"/>
<path color=#b0ff4f d="M1881 2414l43-11-2-1-45 11z"/>
<path color=#c3ff3c d="M1622 2398l66-6-2-2-67 6z"/>
<path color=#6fff90 d="M1068 2455l4 9 1-5-3-8z"/>
<path color=#f5ff0a d="M1018 2368l14 4 27-28-13-5z"/>
<path color=#ff6b00 d="M957 2246l0-29 2 9 0 24z"/>
<path color=#c9ff36 d="M1509 2392l46-4-3-2-46 4z"/>
<path color=#b3ff4c d="M1214 2417l38-15-2-7-37 15z"/>
<path color=#ff6e00 d="M956 2250l0-26 1 3 0 24z"/>
<path color=#bdff42 d="M1709 2403l62-6-4-2-63 6z"/>
<path color=#ccff33 d="M1400 2392l47-7-3-2-47 6z"/>
<path color=#ff0800 d="M991 2171l0-29 1 9 0 26z"/>
<path color=#cbff34 d="M1459 2396l47-6-12-10-47 5z"/>
<path color=#b0ff4f d="M1884 2416l42-12-2-1-43 11z"/>
<path color=#ff6e00 d="M955 2252l0-24 1-4 0 26z"/>
<path color=#cbff34 d="M1349 2397l48-8-8-9-47 8z"/>
<path color=#f80405 d="M994 2127l2 28 2 13-2-22z"/>
<path color=#ff0800 d="M990 2179l0-27 1-10 0 29z"/>
<path color=#b0ff4f d="M1885 2416l41-12 0 0-42 12z"/>
<path color=#ff5200 d="M965 2204l3 25 2-1-3-19z"/>
<path color=#f90404 d="M994 2127l2 29 2 14-2-22z"/>
<path color=#fb0202 d="M994 2136l1 26 1 5-1-23z"/>
<path color=#b0ff4f d="M1886 2417l41-12-1-1-41 12z"/>
<path color=#ff9600 d="M937 2287l0-30 7-4 0 30z"/>
<path color=#f60506 d="M994 2153l0-26 2 19 0 22z"/>
<path color=#ff1400 d="M983 2172l2 15 3-14-3-21z"/>
<path color=#ff9a00 d="M962 2273l14 4 7-4-15-4z"/>
<path color=#ff1500 d="M983 2190l0-18 2-20 0 21z"/>
<path color=#ff4900 d="M963 2215l0-28 6 24 0 19z"/>
<path color=#ffc000 d="M952 2317l29 5 47-34-25-6z"/>
<path color=#4cffb3 d="M1070 2491l3 8 5-18-3-9z"/>
<path color=#fb0203 d="M993 2145l1 23 1-6-1-26z"/>
<path color=#b0ff4f d="M1889 2418l40-13-2 0-41 12z"/>
<path color=#ffa200 d="M934 2288l0-19 3 3 0 15z"/>
<path color=#b6ff49 d="M1802 2412l53-9-5-3-55 8z"/>
<path color=#ff6b00 d="M953 2254l0-24 2-11 0 28z"/>
<path color=#ff5200 d="M963 2205l3 25 2-1-2-19z"/>
<path color=#1dffe2 d="M1079 2532l9-12 1-9-9 12z"/>
<path color=#a5ff5a d="M1195 2428l19-11-1-7-19 10z"/>
<path color=#aeff51 d="M1050 2420l6 8 13-24-5-8z"/>
<path color=#afff50 d="M1891 2419l39-13-1-1-40 13z"/>
<path color=#ff4000 d="M963 2187l4 20 6 11-4-7z"/>
<path color=#ff7300 d="M949 2258l0-21 2-9 0 25z"/>
<path color=#c2ff3d d="M1634 2405l64-8-10-5-66 6z"/>
<path color=#f50607 d="M992 2151l0-26 2 24 0 21z"/>
<path color=#bdff42 d="M1719 2408l60-7-8-4-62 6z"/>
<path color=#1cffe3 d="M1077 2525l2 7 1-9-2-7z"/>
<path color=#afff50 d="M1893 2420l39-14-2 0-39 13z"/>
<path color=#2cffd3 d="M1088 2520l7-8 1-9-7 8z"/>
<path color=#b6ff49 d="M1802 2412l53-9 0 0-53 9z"/>
<path color=#beff41 d="M1256 2411l37-12-4-8-37 11z"/>
<path color=#7eff81 d="M1064 2448l4 7 2-4-4-8z"/>
<path color=#c6ff39 d="M1575 2401l44-5-9-6-45 4z"/>
<path color=#ff4a00 d="M961 2222l0-25 2 11 0 21z"/>
<path color=#afff50 d="M1894 2420l39-13-1-1-39 14z"/>
<path color=#c9ff36 d="M1519 2400l46-6-10-6-46 4z"/>
<path color=#f80405 d="M989 2152l2 21 2-16-1-29z"/>
<path color=#d9ff26 d="M1041 2378l10 6 0-1-9-6z"/>
<path color=#ff4d00 d="M962 2202l3 28 1 0-3-25z"/>
<path color=#ff6700 d="M951 2253l0-25 2-10 0 30z"/>
<path color=#39ffc6 d="M1095 2512l7-9 1-9-7 9z"/>
<path color=#ff9e00 d="M932 2289l0-22 2 2 0 19z"/>
<path color=#9aff65 d="M1176 2438l19-10-1-8-19 11z"/>
<path color=#afff50 d="M1896 2421l37-14 0 0-39 13z"/>
<path color=#ff4d00 d="M962 2206l2 25 1-1-3-28z"/>
<path color=#b6ff49 d="M1809 2415l51-10-5-2-53 9z"/>
<path color=#afff50 d="M1897 2421l37-14-1 0-37 14z"/>
<path color=#ff5100 d="M959 2213l3 19 2-1-2-25z"/>
<path color=#47ffb8 d="M1102 2503l10-11 0-9-9 11z"/>
<path color=#afff50 d="M1898 2422l37-14-1-1-37 14z"/>
<path color=#afff50 d="M1898 2422l37-14 0 0-37 14z"/>
<path color=#ff7100 d="M944 2263l0-20 5-20 0 28z"/>
<path color=#ff9f00 d="M930 2290l0-21 2 2 0 18z"/>
<path color=#afff50 d="M1899 2422l37-14-1 0-37 14z"/>
<path color=#55ffaa d="M1112 2492l10-11 0-8-10 10z"/>
<path color=#88ff77 d="M1149 2457l27-19-1-7-26 18z"/>
<path color=#afff50 d="M1899 2423l37-15 0 0-37 14z"/>
<path color=#f40608 d="M987 2173l0-21 3-26 0 26z"/>
<path color=#afff50 d="M1900 2423l36-15 0 0-37 15z"/>
<path color=#ff3900 d="M964 2190l3 19 2 4-3-13z"/>
<path color=#fffc00 d="M1004 2363l14 5 28-29-13-5z"/>
<path color=#afff50 d="M1900 2423l36-15 0 0-36 15z"/>
<path color=#afff50 d="M1900 2423l36-15 0 0-36 15z"/>
<path color=#afff50 d="M1900 2423l36-15 0 0-36 15z"/>
<path color=#afff50 d="M1900 2423l36-15 0 0-36 15z"/>
<path color=#afff50 d="M1900 2423l36-15 0 0-36 15z"/>
<path color=#65ff9a d="M1122 2481l13-12 0-8-13 12z"/>
<path color=#5cffa3 d="M1067 2482l3 9 5-19-3-8z"/>
<path color=#f70506 d="M985 2152l3 21 2-14-3-28z"/>
<path color=#75ff8a d="M1135 2469l14-12 0-8-14 12z"/>
<path color=#caff35 d="M1462 2398l47-6-3-2-47 6z"/>
<path color=#ff5100 d="M957 2214l3 19 2-1-3-25z"/>
<path color=#ff5600 d="M955 2221l3 13 2-1-3-19z"/>
<path color=#bcff43 d="M1725 2411l59-8-5-2-60 7z"/>
<path color=#2affd5 d="M1075 2517l2 8 1-9-2-8z"/>
<path color=#f50607 d="M985 2173l0-21 2-21 0 25z"/>
<path color=#b5ff4a d="M1815 2418l50-11-5-2-51 10z"/>
<path color=#cbff34 d="M1411 2404l48-8-12-11-47 7z"/>
<path color=#cbff34 d="M1351 2401l49-9-3-3-48 8z"/>
<path color=#ff9c00 d="M928 2292l0-26 2 3 0 21z"/>
<path color=#bdff42 d="M1043 2414l7 6 14-24-6-6z"/>
<path color=#c5ff3a d="M1577 2403l45-5-3-2-44 5z"/>
<path color=#c6ff39 d="M1299 2410l50-13-7-9-49 11z"/>
<path color=#c1ff3e d="M1640 2408l64-7-6-4-64 8z"/>
<path color=#8eff71 d="M1060 2440l4 8 2-5-5-8z"/>
<path color=#ff8400 d="M934 2269l0-18 3 6 0 15z"/>
<path color=#b2ff4d d="M1217 2427l39-16-4-9-38 15z"/>
<path color=#ff5800 d="M948 2230l5 6 5-2-5-20z"/>
<path color=#ff9c00 d="M926 2293l0-27 2 4 0 22z"/>
<path color=#bbff44 d="M1728 2413l59-8-3-2-59 8z"/>
<path color=#ff3700 d="M959 2215l0-30 2 12 0 25z"/>
<path color=#ff8d00 d="M947 2270l15 3 6-4-14-3z"/>
<path color=#ff4200 d="M956 2224l0-27 1 6 0 24z"/>
<path color=#ff3d00 d="M957 2217l0-28 2 14 0 23z"/>
<path color=#b5ff4a d="M1821 2420l49-11-5-2-50 11z"/>
<path color=#e7ff18 d="M1032 2373l9 5 1-1-10-5z"/>
<path color=#ff4200 d="M955 2228l0-24 1-7 0 27z"/>
<path color=#ff9800 d="M925 2293l0-28 1 1 0 27z"/>
<path color=#ffd400 d="M979 2324l28 4 2-2-28-4z"/>
<path color=#d9171a d="M991 2142l0-28 1 11 0 26z"/>
<path color=#ff2a00 d="M962 2180l3 24 2 5-3-19z"/>
<path color=#b5ff4a d="M1821 2420l49-10 0-1-49 11z"/>
<path color=#6dff92 d="M1063 2474l4 8 5-18-4-9z"/>
<path color=#ff9800 d="M924 2294l0-26 1-3 0 28z"/>
<path color=#c1ff3e d="M1645 2411l64-8-5-2-64 7z"/>
<path color=#d9171b d="M990 2152l0-26 1-12 0 28z"/>
<path color=#39ffc6 d="M1072 2509l3 8 1-9-3-9z"/>
<path color=#d21b1f d="M992 2111l2 25 1 8-2-22z"/>
<path color=#c8ff37 d="M1529 2407l46-6-10-7-46 6z"/>
<path color=#ffc000 d="M750 2281l83-17-145 71-105 24z"/>
<path color=#ff2b00 d="M961 2180l2 25 3 5-3-18z"/>
<path color=#ff9b00 d="M922 2295l0-21 2-6 0 26z"/>
<path color=#ce1d22 d="M992 2099l2 28 2 21-2-21z"/>
<path color=#caff35 d="M1472 2406l47-6-10-8-47 6z"/>
<path color=#bbff44 d="M1738 2418l57-10-8-3-59 8z"/>
<path color=#b4ff4b d="M1826 2423l48-12-4-1-49 10z"/>
<path color=#d21b1f d="M991 2123l2 22 1-9-2-25z"/>
<path color=#a5ff5a d="M1197 2438l20-11-3-10-19 11z"/>
<path color=#ff4900 d="M949 2237l0-21 2-14 0 26z"/>
<path color=#ffb000 d="M936 2315l16 2 51-35-13-3z"/>
<path color=#cd1e23 d="M992 2125l0-26 2 28 0 22z"/>
<path color=#ff3d00 d="M953 2230l0-24 2-16 0 29z"/>
<path color=#ff7a00 d="M932 2267l0-23 2 7 0 18z"/>
<path color=#c5ff3a d="M1590 2410l44-5-12-7-45 5z"/>
<path color=#1bffe4 d="M1080 2545l8-13 0-12-9 12z"/>
<path color=#cbff34 d="M1036 2407l7 7 15-24-7-6z"/>
<path color=#ff2100 d="M961 2197l0-26 2 16 0 21z"/>
<path color=#ff6200 d="M937 2257l0-30 7-3 0 29z"/>
<path color=#ff9b00 d="M920 2296l0-22 2-5 0 26z"/>
<path color=#9eff61 d="M1054 2432l6 8 1-5-5-7z"/>
<path color=#ff7c00 d="M930 2269l0-22 2 6 0 18z"/>
<path color=#ff1c00 d="M961 2171l3 19 2 10-3-13z"/>
<path color=#2affd5 d="M1088 2532l8-9-1-11-7 8z"/>
<path color=#19ffe6 d="M1077 2537l3 8-1-13-2-7z"/>
<path color=#b4ff4b d="M1831 2425l46-12-3-2-48 12z"/>
<path color=#ff9f00 d="M918 2298l0-19 2-5 0 22z"/>
<path color=#ff5600 d="M937 2227l9 13 7-4-9-12z"/>
<path color=#99ff66 d="M1178 2448l19-10-2-10-19 10z"/>
<path color=#ff3800 d="M952 2208l3 13 2-7-3-19z"/>
<path color=#ff2a00 d="M957 2195l2 18 3-7-3-25z"/>
<path color=#cbff34 d="M1414 2406l48-8-3-2-48 8z"/>
<path color=#37ffc8 d="M1096 2523l7-9-1-11-7 9z"/>
<path color=#ce1e22 d="M987 2131l2 21 3-24-2-28z"/>
<path color=#beff41 d="M1261 2422l38-12-6-11-37 12z"/>
<path color=#ff4700 d="M944 2243l0-19 5-29 0 28z"/>
<path color=#ff3700 d="M951 2228l0-26 2-14 0 30z"/>
<path color=#ff6600 d="M934 2251l0-19 3 10 0 15z"/>
<path color=#8dff72 d="M1164 2458l14-10-2-10-14 10z"/>
<path color=#cd1e23 d="M987 2152l0-21 3-31 0 26z"/>
<path color=#45ffba d="M1103 2514l10-11-1-11-10 11z"/>
<path color=#c0ff3f d="M1657 2417l62-9-10-5-64 8z"/>
<path color=#c6ff39 d="M1302 2413l49-12-2-4-50 13z"/>
<path color=#b3ff4c d="M1835 2427l46-13-4-1-46 12z"/>
<path color=#ff1e00 d="M960 2175l2 27 1 3-2-25z"/>
<path color=#caff35 d="M1363 2413l48-9-11-12-49 9z"/>
<path color=#7dff82 d="M1059 2466l4 8 5-19-4-7z"/>
<path color=#ff5900 d="M939 2227l5 14 2-1-5-7z"/>
<path color=#4affb5 d="M1069 2500l3 9 1-10-3-8z"/>
<path color=#baff45 d="M1746 2422l56-10-7-4-57 10z"/>
<path color=#c7ff38 d="M1532 2409l45-6-2-2-46 6z"/>
<path color=#54ffab d="M1113 2503l10-10-1-12-10 11z"/>
<path color=#ff3e00 d="M944 2224l4 6 5-16-4-19z"/>
<path color=#81ff7e d="M1150 2468l14-10-2-10-13 9z"/>
<path color=#ff1e00 d="M959 2181l3 25 0-4-2-27z"/>
<path color=#ffea00 d="M975 2358l29 5 29-29-26-6z"/>
<path color=#ffa000 d="M912 2301l0-15 6-11 0 23z"/>
<path color=#f5ff0a d="M1018 2368l14 5 0-1-14-4z"/>
<path color=#63ff9c d="M1123 2493l14-13-2-11-13 12z"/>
<path color=#73ff8c d="M1137 2480l13-12-1-11-14 12z"/>
<path color=#ff2900 d="M954 2195l3 19 2-7-3-24z"/>
<path color=#ff7200 d="M928 2266l0-26 2 7 0 22z"/>
<path color=#b3ff4c d="M1839 2429l45-13-3-2-46 13z"/>
<path color=#28ffd7 d="M1075 2529l2 8 0-12-2-8z"/>
<path color=#baff45 d="M1746 2422l56-10 0 0-56 10z"/>
<path color=#b3ff4c d="M1841 2429l44-13-1 0-45 13z"/>
<path color=#ff7100 d="M926 2266l0-26 2 9 0 21z"/>
<path color=#d9ff26 d="M1026 2402l10 5 15-23-10-6z"/>
<path color=#adff52 d="M1048 2424l6 8 2-4-6-8z"/>
<path color=#c4ff3b d="M1597 2414l43-6-6-3-44 5z"/>
<path color=#b3ff4c d="M1843 2430l43-13-1-1-44 13z"/>
<path color=#ff5200 d="M937 2221l4 21 3-1-5-14z"/>
<path color=#ff1600 d="M956 2197l0-26 1 8 0 24z"/>
<path color=#b9ff46 d="M1754 2426l55-11-7-3-56 10z"/>
<path color=#ff7c00 d="M925 2265l22 5 7-4-22-5z"/>
<path color=#ffa400 d="M920 2313l16 2 54-36-14-2z"/>
<path color=#b3ff4c d="M1846 2432l43-14-3-1-43 13z"/>
<path color=#ff5200 d="M936 2222l4 21 1-1-3-14z"/>
<path color=#c9ff36 d="M1482 2414l47-7-10-7-47 6z"/>
<path color=#ff0e00 d="M957 2189l0-29 2 19 0 24z"/>
<path color=#bfff40 d="M1663 2421l62-10-6-3-62 9z"/>
<path color=#ff1600 d="M955 2204l0-24 1-9 0 26z"/>
<path color=#ff0700 d="M959 2185l0-30 2 16 0 26z"/>
<path color=#caff35 d="M1424 2415l48-9-10-8-48 8z"/>
<path color=#b2ff4d d="M1222 2438l39-16-5-11-39 16z"/>
<path color=#5affa5 d="M1066 2491l3 9 1-9-3-9z"/>
<path color=#8dff72 d="M1054 2458l5 8 5-18-4-8z"/>
<path color=#ff5600 d="M932 2244l0-22 2 10 0 19z"/>
<path color=#ff0200 d="M959 2155l3 25 2 10-3-19z"/>
<path color=#b2ff4d d="M1849 2433l42-14-2-1-43 14z"/>
<path color=#c7ff38 d="M1544 2417l46-7-13-7-45 6z"/>
<path color=#ff9f00 d="M904 2306l0-20 8-6 0 21z"/>
<path color=#ff7100 d="M922 2274l0-22 2-11 0 27z"/>
<path color=#ff0400 d="M959 2156l2 24 2 12-2-18z"/>
<path color=#ab2b30 d="M991 2114l0-29 1 14 0 26z"/>
<path color=#ff6800 d="M925 2265l0-29 1 4 0 26z"/>
<path color=#ff5900 d="M930 2247l0-22 2 10 0 18z"/>
<path color=#ff2000 d="M949 2216l0-21 2-19 0 26z"/>
<path color=#a82c31 d="M991 2085l1 26 1 11-1-23z"/>
<path color=#37ffc8 d="M1072 2520l3 9 0-12-3-8z"/>
<path color=#ff7b00 d="M918 2279l0-18 2-9 0 22z"/>
<path color=#b2ff4d d="M1852 2434l41-14-2-1-42 14z"/>
<path color=#ff4900 d="M934 2232l0-19 3 14 0 15z"/>
<path color=#c4ff3b d="M1602 2417l43-6-5-3-43 6z"/>
<path color=#ff6800 d="M924 2268l0-27 1-5 0 29z"/>
<path color=#ab2b30 d="M990 2126l0-26 1-15 0 29z"/>
<path color=#ff4400 d="M934 2213l5 14 2 6-4-6z"/>
<path color=#ff1a00 d="M949 2195l3 13 2-13-3-19z"/>
<path color=#a82c31 d="M990 2100l1 23 1-12-1-26z"/>
<path color=#ff4c00 d="M935 2217l3 27 2-1-4-21z"/>
<path color=#bfff40 d="M1668 2423l60-10-3-2-62 10z"/>
<path color=#ff7100 d="M920 2274l0-22 2-8 0 25z"/>
<path color=#b2ff4d d="M1854 2435l40-15-1 0-41 14z"/>
<path color=#b9ff46 d="M1762 2429l53-11-6-3-55 11z"/>
<path color=#beff41 d="M1263 2426l39-13-3-3-38 12z"/>
<path color=#ff0e00 d="M953 2206l0-24 2-21 0 29z"/>
<path color=#b2ff4d d="M1855 2436l41-15-2-1-40 15z"/>
<path color=#ff4d00 d="M934 2218l2 27 2-1-2-20z"/>
<path color=#c9ff36 d="M1365 2416l49-10-3-2-48 9z"/>
<path color=#bcff43 d="M1041 2418l7 6 2-4-7-6z"/>
<path color=#fffb00 d="M1004 2364l14 4 0 0-14-5z"/>
<path color=#ff7e00 d="M912 2286l0-16 6-18 0 23z"/>
<path color=#b2ff4d d="M1857 2436l40-15-1 0-41 15z"/>
<path color=#ff0300 d="M955 2177l2 18 2-14-2-24z"/>
<path color=#a4ff5b d="M1202 2450l20-12-5-11-20 11z"/>
<path color=#ff4d00 d="M933 2221l2 25 1-1-2-22z"/>
<path color=#e7ff18 d="M1016 2397l10 5 15-24-9-5z"/>
<path color=#c6ff39 d="M1312 2426l51-13-12-12-49 12z"/>
<path color=#b1ff4e d="M1858 2437l40-15-1-1-40 15z"/>
<path color=#ffbf00 d="M949 2319l30 5 2-2-29-5z"/>
<path color=#c8ff37 d="M1485 2416l47-7-3-2-47 7z"/>
<path color=#ff4d00 d="M932 2224l2 22 1 0-2-25z"/>
<path color=#b1ff4e d="M1859 2437l39-15 0 0-40 15z"/>
<path color=#6bff94 d="M1062 2483l4 8 1-9-4-8z"/>
<path color=#b1ff4e d="M1860 2438l39-16-1 0-39 15z"/>
<path color=#9dff62 d="M1049 2450l5 8 6-18-6-8z"/>
<path color=#b1ff4e d="M1861 2438l38-15 0-1-39 16z"/>
<path color=#b1ff4e d="M1861 2438l39-15-1 0-38 15z"/>
<path color=#b1ff4e d="M1861 2438l39-15 0 0-39 15z"/>
<path color=#b8ff47 d="M1769 2432l52-12-6-2-53 11z"/>
<path color=#b1ff4e d="M1861 2438l39-15 0 0-39 15z"/>
<path color=#19ffe6 d="M1082 2558l9-12-3-14-8 13z"/>
<path color=#b1ff4e d="M1862 2438l38-15 0 0-39 15z"/>
<path color=#b1ff4e d="M1862 2438l38-15 0 0-38 15z"/>
<path color=#b1ff4e d="M1862 2438l38-15 0 0-38 15z"/>
<path color=#ff0600 d="M951 2202l0-26 2-18 0 30z"/>
<path color=#ff9d00 d="M899 2309l0-25 5 2 0 20z"/>
<path color=#beff41 d="M1678 2428l60-10-10-5-60 10z"/>
<path color=#98ff67 d="M1182 2461l20-11-5-12-19 10z"/>
<path color=#ff4c00 d="M929 2227l3 20 2-1-2-27z"/>
<path color=#ff4800 d="M928 2240l0-26 2 11 0 22z"/>
<path color=#48ffb7 d="M1069 2511l3 9 0-11-3-9z"/>
<path color=#ff0200 d="M951 2176l3 19 2-12-3-25z"/>
<path color=#c3ff3c d="M1614 2424l43-7-12-6-43 6z"/>
<path color=#28ffd7 d="M1091 2546l7-9-2-14-8 9z"/>
<path color=#ef0a0b d="M958 2147l2 28 1 5-2-24z"/>
<path color=#18ffe7 d="M1080 2550l2 8-2-13-3-8z"/>
<path color=#b8ff47 d="M1770 2433l51-13 0 0-52 12z"/>
<path color=#c6ff39 d="M1552 2422l45-8-7-4-46 7z"/>
<path color=#ee0a0c d="M957 2157l2 24 1-6-2-28z"/>
<path color=#35ffca d="M1098 2537l8-9-3-14-7 9z"/>
<path color=#ff4700 d="M926 2240l0-26 2 13 0 22z"/>
<path color=#8cff73 d="M1168 2471l14-10-4-13-14 10z"/>
<path color=#ff9700 d="M903 2310l17 3 56-36-14-4z"/>
<path color=#ff4c00 d="M926 2228l4 20 2-1-4-27z"/>
<path color=#ff3000 d="M932 2199l5 22 2 6-5-14z"/>
<path color=#ff5100 d="M924 2235l4 14 2-1-4-20z"/>
<path color=#ff3200 d="M933 2202l3 20 2 6-3-14z"/>
<path color=#43ffbc d="M1106 2528l10-11-3-14-10 11z"/>
<path color=#80ff7f d="M1154 2481l14-10-4-13-14 10z"/>
<path color=#b8ff47 d="M1776 2435l50-12-5-3-51 13z"/>
<path color=#b2ff4d d="M1224 2442l39-16-2-4-39 16z"/>
<path color=#ff3100 d="M932 2222l0-23 2 14 0 19z"/>
<path color=#cbff34 d="M1034 2412l7 6 2-4-7-7z"/>
<path color=#52ffad d="M1116 2517l10-11-3-13-10 10z"/>
<path color=#ff7c00 d="M904 2286l0-20 8-6 0 20z"/>
<path color=#ff9e00 d="M895 2311l0-24 4 3 0 19z"/>
<path color=#72ff8d d="M1140 2494l14-13-4-13-13 12z"/>
<path color=#c9ff36 d="M1434 2423l48-9-10-8-48 9z"/>
<path color=#61ff9e d="M1126 2506l14-12-3-14-14 13z"/>
<path color=#ff3500 d="M930 2225l0-22 2 14 0 18z"/>
<path color=#ea0d0f d="M956 2171l0-26 1 10 0 24z"/>
<path color=#c9ff36 d="M1375 2425l49-10-10-9-49 10z"/>
<path color=#ff5800 d="M918 2261l0-18 2-13 0 22z"/>
<path color=#ea0d0f d="M955 2180l0-24 1-11 0 26z"/>
<path color=#7bff84 d="M1058 2474l4 9 1-9-4-8z"/>
<path color=#ffd300 d="M944 2354l31 4 32-30-28-4z"/>
<path color=#e11215 d="M957 2160l0-29 2 24 0 24z"/>
<path color=#c8ff37 d="M1498 2425l46-8-12-8-47 7z"/>
<path color=#ff4700 d="M922 2252l0-21 2-16 0 26z"/>
<path color=#ff5300 d="M917 2246l5 6 6-3-5-21z"/>
<path color=#adff52 d="M1043 2442l6 8 5-18-6-8z"/>
<path color=#dd1418 d="M957 2131l2 25 2 18-2-19z"/>
<path color=#ff6900 d="M908 2260l17 5 7-4-16-5z"/>
<path color=#f5ff0a d="M1001 2392l15 5 16-24-14-5z"/>
<path color=#beff41 d="M1688 2433l58-11-8-4-60 10z"/>
<path color=#27ffd8 d="M1078 2542l2 8-3-13-2-8z"/>
<path color=#59ffa6 d="M1066 2503l3 8 0-11-3-9z"/>
<path color=#b7ff48 d="M1782 2438l49-13-5-2-50 12z"/>
<path color=#ff5d00 d="M912 2270l0-15 6-26 0 23z"/>
<path color=#c5ff3a d="M1557 2425l45-8-5-3-45 8z"/>
<path color=#ff9a00 d="M893 2312l0-27 2 2 0 24z"/>
<path color=#c2ff3d d="M1621 2428l42-7-6-4-43 7z"/>
<path color=#ff4700 d="M920 2252l0-22 2-12 0 26z"/>
<path color=#ff3800 d="M925 2236l0-28 1 6 0 26z"/>
<path color=#beff41 d="M1273 2439l39-13-10-13-39 13z"/>
<path color=#ff3800 d="M924 2241l0-26 1-7 0 28z"/>
<path color=#a4ff5b d="M1204 2453l20-11-2-4-20 12z"/>
<path color=#ffb700 d="M901 2303l22-9-72 45-25 10z"/>
<path color=#c5ff3a d="M1314 2428l51-12-2-3-51 13z"/>
<path color=#e01315 d="M953 2182l0-24 2-26 0 29z"/>
<path color=#ff2100 d="M932 2190l3 27 1 5-3-20z"/>
<path color=#bdff42 d="M1688 2433l58-11 0 0-58 11z"/>
<path color=#b7ff48 d="M1787 2441l48-14-4-2-49 13z"/>
<path color=#dd1518 d="M953 2158l2 19 2-20-2-25z"/>
<path color=#ff9800 d="M892 2313l0-29 1 1 0 27z"/>
<path color=#ff2100 d="M931 2190l3 28 2 6-3-21z"/>
<path color=#ff2300 d="M931 2196l2 25 1 2-2-22z"/>
<path color=#ff9800 d="M891 2313l0-27 1-2 0 29z"/>
<path color=#ffe900 d="M974 2359l30 5 0-1-29-5z"/>
<path color=#ffbe00 d="M875 2308l26-5-75 46-28 4z"/>
<path color=#c9ff36 d="M1437 2425l48-9-3-2-48 9z"/>
<path color=#d9ff26 d="M1024 2406l10 6 2-5-10-5z"/>
<path color=#ff7600 d="M899 2284l0-25 5 7 0 20z"/>
<path color=#8bff74 d="M1053 2466l5 8 1-8-5-8z"/>
<path color=#ff9a00 d="M889 2315l0-24 2-5 0 27z"/>
<path color=#ff2300 d="M930 2202l2 22 1-3-2-25z"/>
<path color=#98ff67 d="M1184 2465l20-12-2-3-20 11z"/>
<path color=#c2ff3d d="M1626 2431l42-8-5-2-42 7z"/>
<path color=#37ffc8 d="M1075 2533l3 9-3-13-3-9z"/>
<path color=#b6ff49 d="M1792 2443l47-14-4-2-48 14z"/>
<path color=#bdff42 d="M1698 2438l56-12-8-4-58 11z"/>
<path color=#19ffe6 d="M1084 2562l8-12-1-4-9 12z"/>
<path color=#ff1e00 d="M928 2214l0-26 2 15 0 22z"/>
<path color=#bcff43 d="M1035 2436l8 6 5-18-7-6z"/>
<path color=#6aff95 d="M1062 2494l4 9 0-12-4-8z"/>
<path color=#ffae00 d="M933 2317l16 2 3-2-16-2z"/>
<path color=#ff5400 d="M904 2247l11 10 7-5-10-13z"/>
<path color=#ff8a00 d="M886 2308l17 2 59-37-15-3z"/>
<path color=#ff9e00 d="M885 2317l0-19 4-7 0 24z"/>
<path color=#28ffd7 d="M1092 2550l8-9-2-4-7 9z"/>
<path color=#8bff74 d="M1170 2475l14-10-2-4-14 10z"/>
<path color=#ff3000 d="M921 2221l3 14 2-7-3-21z"/>
<path color=#ff1100 d="M930 2181l3 21 2 12-3-15z"/>
<path color=#b6ff49 d="M1794 2444l47-15-2 0-47 14z"/>
<path color=#c5ff3a d="M1570 2432l44-8-12-7-45 8z"/>
<path color=#ff5800 d="M904 2266l0-19 8-8 0 21z"/>
<path color=#ff2100 d="M927 2207l2 20 3-8-3-28z"/>
<path color=#ff1d00 d="M926 2214l0-26 2 18 0 21z"/>
<path color=#18ffe7 d="M1081 2554l3 8-2-4-2-8z"/>
<path color=#ff1200 d="M930 2203l0-22 2 18 0 18z"/>
<path color=#34ffcb d="M1100 2541l7-9-1-4-8 9z"/>
<path color=#ff7900 d="M895 2287l0-23 4 7 0 19z"/>
<path color=#c7ff38 d="M1506 2430l46-8-8-5-46 8z"/>
<path color=#b6ff49 d="M1797 2445l46-15-2-1-47 15z"/>
<path color=#7fff80 d="M1156 2485l14-10-2-4-14 10z"/>
<path color=#ff3400 d="M918 2243l0-18 2-17 0 22z"/>
<path color=#42ffbd d="M1107 2532l10-11-1-4-10 11z"/>
<path color=#71ff8e d="M1142 2498l14-13-2-4-14 13z"/>
<path color=#50ffaf d="M1117 2521l10-10-1-5-10 11z"/>
<path color=#c2252b d="M956 2119l2 28 1 9-2-25z"/>
<path color=#60ff9f d="M1127 2511l15-13-2-4-14 12z"/>
<path color=#fffb00 d="M986 2388l15 4 17-24-14-4z"/>
<path color=#ff3800 d="M912 2239l5 7 6-18-5-22z"/>
<path color=#b1ff4e d="M1233 2456l40-17-10-13-39 16z"/>
<path color=#ffc000 d="M837 2312l38-4-77 45-42 6z"/>
<path color=#ff3b00 d="M912 2255l0-16 6-33 0 23z"/>
<path color=#b5ff4a d="M1801 2447l45-15-3-2-46 15z"/>
<path color=#c1252b d="M955 2132l2 25 1-10-2-28z"/>
<path color=#c8ff37 d="M1385 2434l49-11-10-8-49 10z"/>
<path color=#ff2000 d="M923 2207l3 21 2-8-3-27z"/>
<path color=#c0262c d="M956 2145l0-26 1 12 0 24z"/>
<path color=#c1ff3e d="M1637 2436l41-8-10-5-42 8z"/>
<path color=#ffc000 d="M667 2306l83-25-167 78-98 29z"/>
<path color=#c5ff3a d="M1324 2438l51-13-10-9-51 12z"/>
<path color=#bcff43 d="M1707 2442l55-13-8-3-56 12z"/>
<path color=#c0262c d="M955 2156l0-24 1-13 0 26z"/>
<path color=#ff9d00 d="M880 2320l0-20 5-8 0 25z"/>
<path color=#ff1d00 d="M922 2231l0-22 2-20 0 26z"/>
<path color=#9cff63 d="M1047 2459l6 7 1-8-5-8z"/>
<path color=#47ffb8 d="M1072 2524l3 9-3-13-3-9z"/>
<path color=#b5ff4a d="M1804 2448l45-15-3-1-45 15z"/>
<path color=#c8ff37 d="M1451 2434l47-9-13-9-48 9z"/>
<path color=#e7ff18 d="M1013 2401l11 5 2-4-10-5z"/>
<path color=#7bff84 d="M1057 2485l5 9 0-11-4-9z"/>
<path color=#27ffd8 d="M1079 2546l2 8-1-4-2-8z"/>
<path color=#bdff42 d="M1276 2442l38-14-2-2-39 13z"/>
<path color=#caff35 d="M1028 2429l7 7 6-18-7-6z"/>
<path color=#ff1d00 d="M920 2230l0-22 2-16 0 26z"/>
<path color=#b5ff4a d="M1808 2449l44-15-3-1-45 15z"/>
<path color=#c7ff38 d="M1512 2433l45-8-5-3-46 8z"/>
<path color=#ff4d00 d="M899 2234l11 25 5-2-11-10z"/>
<path color=#ff6d00 d="M893 2285l0-27 2 6 0 23z"/>
<path color=#c4ff3b d="M1578 2436l43-8-7-4-44 8z"/>
<path color=#b5ff4a d="M1810 2451l44-16-2-1-44 15z"/>
<path color=#ff0800 d="M925 2208l0-29 1 9 0 26z"/>
<path color=#a3ff5c d="M1213 2468l20-12-9-14-20 11z"/>
<path color=#bbff44 d="M1715 2446l54-14-7-3-55 13z"/>
<path color=#ff4f00 d="M899 2259l0-25 5 13 0 19z"/>
<path color=#ff0800 d="M924 2215l0-26 1-10 0 29z"/>
<path color=#b4ff4b d="M1813 2452l42-16-1-1-44 16z"/>
<path color=#ff9f00 d="M873 2325l0-20 7-5 0 20z"/>
<path color=#ff4e00 d="M901 2239l5 22 4-2-6-12z"/>
<path color=#ffa200 d="M917 2315l16 2 3-2-16-2z"/>
<path color=#f40608 d="M928 2163l4 27 1 12-3-21z"/>
<path color=#b4ff4b d="M1814 2452l43-16-2 0-42 16z"/>
<path color=#f80405 d="M929 2171l2 25 1 5-2-22z"/>
<path color=#f50607 d="M929 2163l2 27 2 13-2-20z"/>
<path color=#ff7800 d="M885 2298l0-18 4-13 0 24z"/>
<path color=#c0ff3f d="M1648 2442l40-9-10-5-41 8z"/>
<path color=#ff6600 d="M892 2284l0-29 1 3 0 27z"/>
<path color=#58ffa7 d="M1068 2515l4 9-3-13-3-8z"/>
<path color=#c8ff37 d="M1388 2436l49-11-3-2-49 11z"/>
<path color=#ffbd00 d="M911 2350l33 4 35-30-30-5z"/>
<path color=#ff6d00 d="M889 2291l0-24 2-8 0 27z"/>
<path color=#b4ff4b d="M1816 2453l42-16-1-1-43 16z"/>
<path color=#f30708 d="M928 2188l0-25 2 18 0 22z"/>
<path color=#f80405 d="M928 2180l2 22 1-6-2-25z"/>
<path color=#bbff44 d="M1715 2446l55-13-1-1-54 14z"/>
<path color=#ff1000 d="M918 2206l3 15 2-14-3-21z"/>
<path color=#37ffc8 d="M1076 2537l3 9-1-4-3-9z"/>
<path color=#acff53 d="M1041 2451l6 8 2-9-6-8z"/>
<path color=#97ff68 d="M1192 2480l21-12-9-15-20 12z"/>
<path color=#ff6600 d="M891 2286l0-27 1-4 0 29z"/>
<path color=#ff4f00 d="M900 2243l4 19 2-1-4-15z"/>
<path color=#b4ff4b d="M1817 2454l42-17-1 0-42 16z"/>
<path color=#ff1100 d="M918 2225l0-19 2-20 0 22z"/>
<path color=#ff5300 d="M895 2264l0-24 4 13 0 18z"/>
<path color=#8bff74 d="M1053 2477l4 8 1-11-5-8z"/>
<path color=#ffee00 d="M970 2386l16 2 18-24-15-3z"/>
<path color=#b4ff4b d="M1818 2454l42-16-1-1-42 17z"/>
<path color=#c4ff3b d="M1583 2439l43-8-5-3-43 8z"/>
<path color=#b4ff4b d="M1819 2454l42-16-1 0-42 16z"/>
<path color=#f30708 d="M926 2188l0-27 2 23 0 22z"/>
<path color=#b4ff4b d="M1820 2454l41-16 0 0-42 16z"/>
<path color=#ffc000 d="M775 2320l62-8-81 47-68 10z"/>
<path color=#b4ff4b d="M1820 2455l41-17 0 0-41 16z"/>
<path color=#bbff44 d="M1723 2450l53-15-6-2-55 13z"/>
<path color=#b4ff4b d="M1820 2455l41-17 0 0-41 17z"/>
<path color=#b4ff4b d="M1820 2455l42-17-1 0-41 17z"/>
<path color=#b4ff4b d="M1820 2455l42-17 0 0-42 17z"/>
<path color=#b4ff4b d="M1820 2455l42-17 0 0-42 17z"/>
<path color=#19ffe6 d="M1091 2576l9-11-8-15-8 12z"/>
<path color=#d9ff26 d="M1017 2424l11 5 6-17-10-6z"/>
<path color=#8bff74 d="M1178 2490l14-10-8-15-14 10z"/>
<path color=#ff7900 d="M861 2304l25 4 61-38-22-5z"/>
<path color=#ff4b00 d="M899 2241l4 22 1-1-4-19z"/>
<path color=#c0ff3f d="M1648 2442l40-9 0 0-40 9z"/>
<path color=#f50607 d="M924 2186l3 21 2-16-2-27z"/>
<path color=#c6ff39 d="M1525 2441l45-9-13-7-45 8z"/>
<path color=#f5ff0a d="M998 2397l15 4 3-4-15-5z"/>
<path color=#28ffd7 d="M1100 2565l7-9-7-15-8 9z"/>
<path color=#b1ff4e d="M1236 2459l40-17-3-3-40 17z"/>
<path color=#ff4b00 d="M898 2244l4 19 1 0-4-22z"/>
<path color=#c8ff37 d="M1459 2440l47-10-8-5-47 9z"/>
<path color=#bdff42 d="M1285 2452l39-14-10-10-38 14z"/>
<path color=#7eff81 d="M1164 2501l14-11-8-15-14 10z"/>
<path color=#34ffcb d="M1107 2556l8-9-8-15-7 9z"/>
<path color=#ff4e00 d="M896 2250l4 15 2-2-4-19z"/>
<path color=#ff9d00 d="M868 2328l0-24 5 1 0 20z"/>
<path color=#ff7500 d="M880 2300l0-20 5-13 0 25z"/>
<path color=#1affe5 d="M1089 2566l2 10-7-14-3-8z"/>
<path color=#70ff8f d="M1150 2513l14-12-8-16-14 13z"/>
<path color=#42ffbd d="M1115 2547l10-10-8-16-10 11z"/>
<path color=#ffd200 d="M943 2355l31 4 1-1-31-4z"/>
<path color=#60ff9f d="M1135 2526l15-13-8-15-15 13z"/>
<path color=#50ffaf d="M1125 2537l10-11-8-15-10 10z"/>
<path color=#f30709 d="M922 2209l0-21 2-26 0 27z"/>
<path color=#c4ff3b d="M1334 2447l51-13-10-9-51 13z"/>
<path color=#6aff95 d="M1064 2507l4 8-2-12-4-9z"/>
<path color=#baff45 d="M1730 2453l52-15-6-3-53 15z"/>
<path color=#bfff40 d="M1658 2447l40-9-10-5-40 9z"/>
<path color=#47ffb8 d="M1073 2528l3 9-1-4-3-9z"/>
<path color=#f30708 d="M920 2186l3 21 2-14-3-27z"/>
<path color=#c3ff3c d="M1595 2445l42-9-11-5-43 8z"/>
<path color=#bbff44 d="M1034 2444l7 7 2-9-8-6z"/>
<path color=#f30809 d="M920 2208l0-22 2-20 0 26z"/>
<path color=#9bff64 d="M1047 2469l6 8 0-11-6-7z"/>
<path color=#ff4d00 d="M891 2254l5 13 4-2-6-23z"/>
<path color=#c7ff38 d="M1402 2446l49-12-14-9-49 11z"/>
<path color=#ff7c00 d="M873 2305l0-20 7-5 0 20z"/>
<path color=#ff4000 d="M893 2258l0-28 2 10 0 24z"/>
<path color=#a3ff5c d="M1215 2471l21-12-3-3-20 12z"/>
<path color=#baff45 d="M1737 2456l50-15-5-3-52 15z"/>
<path color=#ff9900 d="M865 2330l0-30 3 4 0 24z"/>
<path color=#ff9500 d="M900 2313l17 2 3-2-17-3z"/>
<path color=#c7ff38 d="M1465 2443l47-10-6-3-47 10z"/>
<path color=#ff5300 d="M885 2280l0-19 4-17 0 23z"/>
<path color=#2bffd4 d="M1087 2556l2 10-8-12-2-8z"/>
<path color=#ff2d00 d="M895 2216l6 23 3 8-5-13z"/>
<path color=#ffe200 d="M954 2383l16 3 19-25-15-2z"/>
<path color=#e7ff18 d="M1007 2418l10 6 7-18-11-5z"/>
<path color=#d8171b d="M925 2179l0-29 1 11 0 27z"/>
<path color=#ff2e00 d="M895 2240l0-24 4 18 0 19z"/>
<path color=#c5ff3a d="M1533 2446l45-10-8-4-45 9z"/>
<path color=#ff9b00 d="M863 2332l0-26 2 2 0 22z"/>
<path color=#ff2e00 d="M897 2223l3 20 2 3-3-15z"/>
<path color=#d8171b d="M924 2189l0-27 1-12 0 29z"/>
<path color=#bfff40 d="M1668 2452l39-10-9-4-40 9z"/>
<path color=#d01c21 d="M927 2147l2 24 1 8-2-22z"/>
<path color=#7aff85 d="M1060 2498l4 9-2-13-5-9z"/>
<path color=#58ffa7 d="M1069 2520l4 8-1-4-4-9z"/>
<path color=#ff4000 d="M889 2267l0-23 2-13 0 28z"/>
<path color=#cc1f24 d="M926 2135l3 28 2 20-3-20z"/>
<path color=#96ff69 d="M1194 2483l21-12-2-3-21 12z"/>
<path color=#b9ff46 d="M1743 2458l49-15-5-2-50 15z"/>
<path color=#d01c21 d="M926 2158l2 22 1-9-2-24z"/>
<path color=#b1ff4e d="M1245 2470l40-18-9-10-40 17z"/>
<path color=#fffa00 d="M983 2392l15 5 3-5-15-4z"/>
<path color=#ff9a00 d="M862 2332l0-27 1 1 0 26z"/>
<path color=#c4ff3b d="M1337 2450l51-14-3-2-51 13z"/>
<path color=#cb1f24 d="M926 2161l0-26 2 28 0 21z"/>
<path color=#ff3400 d="M892 2255l0-30 1 5 0 28z"/>
<path color=#ff4b00 d="M880 2260l11 10 5-3-11-25z"/>
<path color=#caff35 d="M1026 2438l8 6 1-8-7-7z"/>
<path color=#ff9a00 d="M861 2333l0-26 1-2 0 27z"/>
<path color=#acff53 d="M1041 2462l6 7 0-10-6-8z"/>
<path color=#ff3400 d="M891 2259l0-28 1-6 0 30z"/>
<path color=#c2ff3d d="M1606 2451l42-9-11-6-42 9z"/>
<path color=#b9ff46 d="M1745 2459l49-15-2-1-49 15z"/>
<path color=#ff9b00 d="M859 2334l0-22 2-5 0 26z"/>
<path color=#ffac00 d="M894 2349l17 1 38-31-16-2z"/>
<path color=#8aff75 d="M1180 2493l14-10-2-3-14 10z"/>
<path color=#ff2d00 d="M893 2235l3 15 2-6-3-20z"/>
<path color=#ff7600 d="M868 2304l0-25 5 6 0 20z"/>
<path color=#ff2400 d="M896 2219l3 22 1 2-3-20z"/>
<path color=#ff4d00 d="M880 2280l0-20 5-18 0 25z"/>
<path color=#c5ff3a d="M1538 2449l45-10-5-3-45 10z"/>
<path color=#b9ff46 d="M1748 2461l49-16-3-1-49 15z"/>
<path color=#3cffc3 d="M1084 2545l3 11-8-10-3-9z"/>
<path color=#cb1f24 d="M922 2166l2 20 3-22-3-28z"/>
<path color=#ff2400 d="M895 2224l3 20 1-3-3-22z"/>
<path color=#7eff81 d="M1166 2503l14-10-2-3-14 11z"/>
<path color=#28ffd7 d="M1102 2568l7-9-2-3-7 9z"/>
<path color=#1dffe2 d="M1093 2571l9-3-2-3-9 11z"/>
<path color=#cb2024 d="M922 2188l0-22 2-30 0 26z"/>
<path color=#ff5200 d="M873 2265l11 9 7-4-11-10z"/>
<path color=#beff41 d="M1677 2456l38-10-8-4-39 10z"/>
<path color=#bdff42 d="M1295 2461l39-14-10-9-39 14z"/>
<path color=#6fff90 d="M1152 2516l14-13-2-2-14 12z"/>
<path color=#34ffcb d="M1109 2559l8-9-2-3-8 9z"/>
<path color=#c6ff39 d="M1478 2452l47-11-13-8-47 10z"/>
<path color=#ff6500 d="M842 2299l19 5 64-39-17-5z"/>
<path color=#42ffbd d="M1117 2550l10-10-2-3-10 10z"/>
<path color=#b8ff47 d="M1753 2463l48-16-4-2-49 16z"/>
<path color=#ff5800 d="M873 2285l0-20 7-5 0 20z"/>
<path color=#5fffa0 d="M1137 2529l15-13-2-3-15 13z"/>
<path color=#c6ff39 d="M1410 2452l49-12-8-6-49 12z"/>
<path color=#ff9800 d="M855 2336l0-24 4-8 0 30z"/>
<path color=#c2ff3d d="M1607 2452l41-10 0 0-42 9z"/>
<path color=#8bff74 d="M1055 2490l5 8-3-13-4-8z"/>
<path color=#50ffaf d="M1127 2540l10-11-2-3-10 11z"/>
<path color=#6aff95 d="M1065 2511l4 9-1-5-4-8z"/>
<path color=#a2ff5d d="M1224 2482l21-12-9-11-21 12z"/>
<path color=#f5ff0a d="M991 2414l16 4 6-17-15-4z"/>
<path color=#ff2b00 d="M885 2242l6 12 3-12-5-22z"/>
<path color=#ffc000 d="M688 2335l87-15-87 49-95 16z"/>
<path color=#beff41 d="M1678 2456l37-10 0 0-38 10z"/>
<path color=#b8ff47 d="M1757 2465l47-17-3-1-48 16z"/>
<path color=#ff2d00 d="M885 2261l0-19 4-22 0 24z"/>
<path color=#23ffdc d="M1091 2562l2 9-2 5-2-10z"/>
<path color=#ff9d00 d="M851 2339l0-20 4-7 0 24z"/>
<path color=#ff8700 d="M883 2310l17 3 3-3-17-2z"/>
<path color=#bbff44 d="M1033 2455l8 7 0-11-7-7z"/>
<path color=#ff1300 d="M893 2230l0-27 2 13 0 24z"/>
<path color=#d9ff26 d="M1015 2432l11 6 2-9-11-5z"/>
<path color=#c1ff3e d="M1618 2457l40-10-10-5-41 10z"/>
<path color=#c4ff3b d="M1551 2456l44-11-12-6-45 10z"/>
<path color=#c3ff3c d="M1351 2461l51-15-14-10-51 14z"/>
<path color=#ff0d00 d="M893 2203l4 20 2 8-4-15z"/>
<path color=#96ff69 d="M1203 2494l21-12-9-11-21 12z"/>
<path color=#b8ff47 d="M1761 2466l47-17-4-1-47 17z"/>
<path color=#bdff42 d="M1686 2460l37-10-8-4-37 10z"/>
<path color=#4fffb0 d="M1080 2534l4 11-8-8-3-9z"/>
<path color=#ffed00 d="M967 2390l16 2 3-4-16-2z"/>
<path color=#ff6900 d="M865 2300l0-29 3 8 0 25z"/>
<path color=#ff7100 d="M863 2306l0-25 2 5 0 22z"/>
<path color=#b8ff47 d="M1764 2468l46-17-2-2-47 17z"/>
<path color=#aa2b30 d="M925 2150l0-28 1 13 0 26z"/>
<path color=#ffbc00 d="M911 2351l32 4 1-1-33-4z"/>
<path color=#c6ff39 d="M1416 2456l49-13-6-3-49 12z"/>
<path color=#ff4c00 d="M868 2255l11 21 5-2-11-9z"/>
<path color=#a72c31 d="M925 2122l2 25 1 10-2-22z"/>
<path color=#7bff84 d="M1061 2503l4 8-1-4-4-9z"/>
<path color=#ffd100 d="M922 2380l32 3 20-24-31-4z"/>
<path color=#8aff75 d="M1189 2504l14-10-9-11-14 10z"/>
<path color=#9bff64 d="M1049 2483l6 7-2-13-6-8z"/>
<path color=#aa2b30 d="M924 2162l0-26 1-14 0 28z"/>
<path color=#ff1300 d="M889 2244l0-24 2-16 0 27z"/>
<path color=#29ffd6 d="M1096 2565l9-1-3 4-9 3z"/>
<path color=#39ffc6 d="M1114 2557l7-5-4-2-8 9z"/>
<path color=#b7ff48 d="M1767 2469l46-17-3-1-46 17z"/>
<path color=#a72c31 d="M924 2136l2 22 1-11-2-25z"/>
<path color=#bcff43 d="M1298 2464l39-14-3-3-39 14z"/>
<path color=#ffa000 d="M877 2347l17 2 39-32-16-2z"/>
<path color=#31ffce d="M1106 2561l8-4-5 2-7 9z"/>
<path color=#ff9e00 d="M844 2343l0-21 7-3 0 20z"/>
<path color=#ff0d00 d="M889 2220l4 15 2-11-4-20z"/>
<path color=#ff6c00 d="M862 2305l0-27 1 3 0 25z"/>
<path color=#c6ff39 d="M1487 2457l46-11-8-5-47 11z"/>
<path color=#7dff82 d="M1175 2514l14-10-9-11-14 10z"/>
<path color=#ff4f00 d="M868 2279l0-24 5 10 0 20z"/>
<path color=#b7ff48 d="M1769 2470l45-18-1 0-46 17z"/>
<path color=#ff4d00 d="M870 2260l6 18 3-2-5-10z"/>
<path color=#ff7100 d="M859 2312l0-23 2-7 0 25z"/>
<path color=#35ffca d="M1088 2552l3 10-2 4-2-10z"/>
<path color=#b0ff4f d="M1255 2480l40-19-10-9-40 18z"/>
<path color=#bdff42 d="M1694 2463l36-10-7-3-37 10z"/>
<path color=#ff6c00 d="M861 2307l0-25 1-4 0 27z"/>
<path color=#ff0200 d="M892 2225l0-29 1 7 0 27z"/>
<path color=#6fff90 d="M1161 2527l14-13-9-11-14 13z"/>
<path color=#b7ff48 d="M1771 2470l45-17-2-1-45 18z"/>
<path color=#fc0202 d="M892 2196l4 23 1 4-4-20z"/>
<path color=#c1ff3e d="M1628 2462l40-10-10-5-40 10z"/>
<path color=#caff35 d="M1026 2449l7 6 1-11-8-6z"/>
<path color=#5fffa0 d="M1146 2540l15-13-9-11-15 13z"/>
<path color=#ff0200 d="M891 2231l0-27 1-8 0 29z"/>
<path color=#b7ff48 d="M1772 2471l45-17-1-1-45 17z"/>
<path color=#fc0202 d="M891 2204l4 20 1-5-4-23z"/>
<path color=#52ffad d="M1136 2547l10-7-9-11-10 11z"/>
<path color=#b7ff48 d="M1774 2472l44-18-1 0-45 17z"/>
<path color=#62ff9d d="M1077 2524l3 10-7-6-4-8z"/>
<path color=#b7ff48 d="M1775 2472l44-18-1 0-44 18z"/>
<path color=#fffa00 d="M975 2410l16 4 7-17-15-5z"/>
<path color=#e7ff18 d="M1005 2427l10 5 2-8-10-6z"/>
<path color=#47ffb8 d="M1126 2554l10-7-9-7-10 10z"/>
<path color=#32ffcd d="M1094 2556l2 9-3 6-2-9z"/>
<path color=#b7ff48 d="M1775 2472l45-18-1 0-44 18z"/>
<path color=#b7ff48 d="M1776 2472l44-17 0-1-45 18z"/>
<path color=#b7ff48 d="M1776 2472l44-17 0 0-44 17z"/>
<path color=#c3ff3c d="M1563 2462l43-11-11-6-44 11z"/>
<path color=#b7ff48 d="M1776 2473l44-18 0 0-44 17z"/>
<path color=#b7ff48 d="M1776 2473l44-18 0 0-44 18z"/>
<path color=#b7ff48 d="M1776 2473l44-18 0 0-44 18z"/>
<path color=#8bff74 d="M1056 2494l5 9-1-5-5-8z"/>
<path color=#bcff43 d="M1701 2467l36-11-7-3-36 10z"/>
<path color=#ff4700 d="M868 2255l6 25 2-2-6-18z"/>
<path color=#c5ff3a d="M1492 2460l46-11-5-3-46 11z"/>
<path color=#ff6800 d="M855 2312l0-25 4-13 0 30z"/>
<path color=#ff9b00 d="M840 2346l0-27 4 3 0 21z"/>
<path color=#acff53 d="M1043 2475l6 8-2-14-6-7z"/>
<path color=#ff7500 d="M851 2319l0-21 4-11 0 25z"/>
<path color=#ffe200 d="M952 2388l15 2 3-4-16-3z"/>
<path color=#c5ff3a d="M1430 2465l48-13-13-9-49 13z"/>
<path color=#48ffb7 d="M1085 2542l3 10-1 4-3-11z"/>
<path color=#c2ff3d d="M1359 2467l51-15-8-6-51 15z"/>
<path color=#a2ff5d d="M1234 2492l21-12-10-10-21 12z"/>
<path color=#ff4300 d="M867 2252l6 28 1 0-6-25z"/>
<path color=#c0ff3f d="M1638 2467l39-11-9-4-40 10z"/>
<path color=#ff4300 d="M866 2256l6 25 1-1-6-28z"/>
<path color=#c3ff3c d="M1564 2462l43-10-1-1-43 11z"/>
<path color=#ff4600 d="M864 2263l6 19 2-1-6-25z"/>
<path color=#bcff43 d="M1708 2469l35-11-6-2-36 11z"/>
<path color=#bcff43 d="M1312 2475l39-14-14-11-39 14z"/>
<path color=#ff4700 d="M863 2281l0-26 2 8 0 23z"/>
<path color=#80ff7f d="M1065 2504l4 8-4-1-4-8z"/>
<path color=#ff9c00 d="M837 2348l0-26 3 4 0 20z"/>
<path color=#39ffc6 d="M1099 2559l9 0-3 5-9 1z"/>
<path color=#b0ff4f d="M1258 2482l40-18-3-3-40 19z"/>
<path color=#43ffbc d="M1091 2547l3 9-3 6-3-10z"/>
<path color=#ff4c00 d="M861 2273l6 11 3-2-6-19z"/>
<path color=#ff7600 d="M857 2306l26 4 3-2-25-4z"/>
<path color=#74ff8b d="M1073 2514l4 10-8-4-4-9z"/>
<path color=#d9ff26 d="M1015 2443l11 6 0-11-11-6z"/>
<path color=#ff7900 d="M844 2322l0-21 7-3 0 21z"/>
<path color=#ff3900 d="M865 2271l0-30 3 14 0 24z"/>
<path color=#44ffbb d="M1118 2554l8 0-5-2-7 5z"/>
<path color=#ff9300 d="M859 2345l18 2 40-32-17-2z"/>
<path color=#95ff6a d="M1213 2504l21-12-10-10-21 12z"/>
<path color=#bbff44 d="M1710 2470l35-11-2-1-35 11z"/>
<path color=#bfff40 d="M1639 2467l39-11-1 0-39 11z"/>
<path color=#ff9c00 d="M835 2350l0-25 2 2 0 21z"/>
<path color=#ff3000 d="M865 2241l5 19 4 6-6-11z"/>
<path color=#9cff63 d="M1050 2486l6 8-1-4-6-7z"/>
<path color=#c5ff3a d="M1506 2467l45-11-13-7-46 11z"/>
<path color=#c3ff3c d="M1575 2468l43-11-11-5-43 10z"/>
<path color=#ff4700 d="M859 2289l0-22 2-11 0 26z"/>
<path color=#bbff44 d="M1714 2472l34-11-3-2-35 11z"/>
<path color=#ff3e00 d="M862 2278l0-26 1 3 0 26z"/>
<path color=#f6ff09 d="M989 2423l16 4 2-9-16-4z"/>
<path color=#bcff43 d="M1035 2467l8 8-2-13-8-7z"/>
<path color=#44ffbb d="M1111 2554l7 0-4 3-8 4z"/>
<path color=#ff9a00 d="M835 2350l0-26 0 1 0 25z"/>
<path color=#ffed00 d="M959 2408l16 2 8-18-16-2z"/>
<path color=#ffc000 d="M905 2378l17 2 21-25-16-2z"/>
<path color=#89ff76 d="M1199 2514l14-10-10-10-14 10z"/>
<path color=#ff3e00 d="M861 2282l0-26 1-4 0 26z"/>
<path color=#bfff40 d="M1647 2471l39-11-8-4-39 11z"/>
<path color=#5cffa3 d="M1082 2531l3 11-1 3-4-11z"/>
<path color=#c2ff3d d="M1366 2471l50-15-6-4-51 15z"/>
<path color=#42ffbd d="M1096 2551l3 8-3 6-2-9z"/>
<path color=#ff9a00 d="M834 2351l0-25 1-2 0 26z"/>
<path color=#ffaa00 d="M893 2349l18 2 0-1-17-1z"/>
<path color=#bbff44 d="M1719 2474l34-11-5-2-34 11z"/>
<path color=#ff9c00 d="M832 2352l0-21 2-5 0 25z"/>
<path color=#ff4a00 d="M851 2277l11 9 5-2-12-22z"/>
<path color=#91ff6e d="M1060 2495l5 9-4-1-5-9z"/>
<path color=#7dff82 d="M1185 2524l14-10-10-10-14 10z"/>
<path color=#a2ff5d d="M1237 2494l21-12-3-2-21 12z"/>
<path color=#c5ff3a d="M1439 2470l48-13-9-5-48 13z"/>
<path color=#ff4d00 d="M851 2298l0-21 4-15 0 25z"/>
<path color=#71ff8e d="M1171 2534l14-10-10-10-14 13z"/>
<path color=#bbff44 d="M1724 2476l33-11-4-2-34 11z"/>
<path color=#ffb700 d="M826 2349l25-10-50 36-26 10z"/>
<path color=#ff9c00 d="M829 2354l0-21 3-8 0 27z"/>
<path color=#ff7000 d="M840 2319l0-28 4 10 0 21z"/>
<path color=#56ffa9 d="M1131 2549l20-8-5-1-20 14z"/>
<path color=#59ffa6 d="M1090 2536l3 9-5 7-3-10z"/>
<path color=#e8ff17 d="M1004 2438l11 5 0-11-10-5z"/>
<path color=#bfff40 d="M1656 2475l38-12-8-3-39 11z"/>
<path color=#adff52 d="M1044 2477l6 9-1-3-6-8z"/>
<path color=#b0ff4f d="M1272 2493l40-18-14-11-40 18z"/>
<path color=#64ff9b d="M1156 2543l15-9-10-7-15 13z"/>
<path color=#ff3800 d="M855 2287l0-25 4-18 0 30z"/>
<path color=#49ffb6 d="M1102 2553l9 1-3 5-9 0z"/>
<path color=#52ffad d="M1094 2543l2 8-2 5-3-9z"/>
<path color=#c2ff3d d="M1587 2473l41-11-10-5-43 11z"/>
<path color=#ff1d00 d="M863 2230l5 25 2 5-5-19z"/>
<path color=#ff4e00 d="M844 2280l12 10 6-4-11-9z"/>
<path color=#baff45 d="M1728 2478l33-12-4-1-33 11z"/>
<path color=#95ff6a d="M1216 2506l21-12-3-2-21 12z"/>
<path color=#ff5500 d="M844 2301l0-21 7-3 0 21z"/>
<path color=#ffbe00 d="M798 2353l28-4-51 36-30 5z"/>
<path color=#bbff44 d="M1320 2481l39-14-8-6-39 14z"/>
<path color=#ff2f00 d="M855 2262l6 11 3-10-5-19z"/>
<path color=#ccff33 d="M1027 2460l8 7-2-12-7-6z"/>
<path color=#ff1d00 d="M863 2255l0-25 2 11 0 22z"/>
<path color=#70ff8f d="M1079 2522l3 9-2 3-3-10z"/>
<path color=#ff7200 d="M837 2322l0-27 3 10 0 21z"/>
<path color=#c4ff3b d="M1519 2474l44-12-12-6-45 11z"/>
<path color=#ffd000 d="M919 2384l33 4 2-5-32-3z"/>
<path color=#baff45 d="M1731 2480l33-12-3-2-33 12z"/>
<path color=#c4ff3b d="M1445 2473l47-13-5-3-48 13z"/>
<path color=#ff9b00 d="M825 2357l0-21 4-9 0 27z"/>
<path color=#ffc000 d="M583 2359l105-24-95 50-109 23z"/>
<path color=#a2ff5d d="M1054 2487l6 8-4-1-6-8z"/>
<path color=#ff8500 d="M840 2342l19 3 41-32-17-3z"/>
<path color=#ff7400 d="M835 2325l0-25 2 6 0 21z"/>
<path color=#89ff76 d="M1202 2517l14-11-3-2-14 10z"/>
<path color=#ff4f00 d="M846 2278l6 15 4-3-6-5z"/>
<path color=#c1ff3e d="M1381 2480l49-15-14-9-50 15z"/>
<path color=#ff1d00 d="M859 2244l5 19 2-7-5-25z"/>
<path color=#beff41 d="M1664 2478l37-11-7-4-38 12z"/>
<path color=#fff900 d="M973 2419l16 4 2-9-16-4z"/>
<path color=#baff45 d="M1735 2481l32-12-3-1-33 12z"/>
<path color=#ffe100 d="M943 2405l16 3 8-18-15-2z"/>
<path color=#8cff73 d="M1068 2505l5 9-4-2-4-8z"/>
<path color=#ffc000 d="M534 2359l133-53-182 82-129 49z"/>
<path color=#ffb500 d="M887 2377l18 1 22-25-16-2z"/>
<path color=#ff1100 d="M862 2225l5 27 1 3-5-25z"/>
<path color=#53ffac d="M1099 2546l3 7-3 6-3-8z"/>
<path color=#6bff94 d="M1087 2527l3 9-5 6-3-11z"/>
<path color=#ff1d00 d="M859 2267l0-23 2-13 0 25z"/>
<path color=#55ffaa d="M1116 2548l15 1-5 5-15 0z"/>
<path color=#7dff82 d="M1188 2527l14-10-3-3-14 10z"/>
<path color=#b9ff46 d="M1737 2482l32-12-2-1-32 12z"/>
<path color=#ff1100 d="M861 2231l5 25 1-4-5-27z"/>
<path color=#ff9e00 d="M876 2347l17 2 1 0-17-2z"/>
<path color=#c3ff3c d="M1519 2474l45-12-1 0-44 12z"/>
<path color=#ff1000 d="M862 2252l0-27 1 5 0 25z"/>
<path color=#b9ff46 d="M1739 2483l32-13-2 0-32 12z"/>
<path color=#c1ff3e d="M1598 2478l40-11-10-5-41 11z"/>
<path color=#a2ff5d d="M1251 2506l21-13-14-11-21 12z"/>
<path color=#ff6d00 d="M835 2324l0-27 0 3 0 25z"/>
<path color=#ff6100 d="M838 2301l19 5 4-2-19-5z"/>
<path color=#ff7400 d="M832 2331l0-22 2-8 0 25z"/>
<path color=#beff41 d="M1036 2470l8 7-1-2-8-8z"/>
<path color=#ffc000 d="M756 2359l42-6-53 37-44 6z"/>
<path color=#ff9d00 d="M818 2362l0-23 7-3 0 21z"/>
<path color=#ff1000 d="M861 2256l0-25 1-6 0 27z"/>
<path color=#ff6d00 d="M834 2326l0-25 1-4 0 27z"/>
<path color=#b9ff46 d="M1741 2483l31-12-1-1-32 13z"/>
<path color=#bdff42 d="M1671 2481l37-12-7-2-37 11z"/>
<path color=#baff45 d="M1327 2486l39-15-7-4-39 14z"/>
<path color=#83ff7c d="M1075 2512l4 10-2 2-4-10z"/>
<path color=#b9ff46 d="M1742 2484l32-12-2-1-31 12z"/>
<path color=#f7ff08 d="M988 2433l16 5 1-11-16-4z"/>
<path color=#b9ff46 d="M1743 2484l32-12-1 0-32 12z"/>
<path color=#dbff24 d="M1016 2454l11 6-1-11-11-6z"/>
<path color=#b9ff46 d="M1744 2485l31-13 0 0-32 12z"/>
<path color=#b9ff46 d="M1744 2485l32-13-1 0-31 13z"/>
<path color=#62ff9d d="M1136 2544l20-1-5-2-20 8z"/>
<path color=#c4ff3b d="M1459 2481l47-14-14-7-47 13z"/>
<path color=#70ff8f d="M1159 2541l29-14-3-3-29 19z"/>
<path color=#b9ff46 d="M1745 2485l31-13 0 0-32 13z"/>
<path color=#62ff9d d="M1097 2538l2 8-3 5-2-8z"/>
<path color=#b9ff46 d="M1745 2485l31-12 0-1-31 13z"/>
<path color=#ff4500 d="M843 2268l6 26 3-1-6-15z"/>
<path color=#b9ff46 d="M1745 2485l31-12 0 0-31 12z"/>
<path color=#b9ff46 d="M1745 2485l31-12 0 0-31 12z"/>
<path color=#c1ff3e d="M1598 2479l41-12-1 0-40 11z"/>
<path color=#ff7200 d="M829 2333l0-20 3-14 0 26z"/>
<path color=#b3ff4c d="M1048 2479l6 8-4-1-6-9z"/>
<path color=#c3ff3c d="M1532 2480l43-12-11-6-45 12z"/>
<path color=#ff4600 d="M840 2291l0-27 4 16 0 21z"/>
<path color=#bdff42 d="M1674 2483l36-13-2-1-37 12z"/>
<path color=#95ff6a d="M1230 2518l21-12-14-12-21 12z"/>
<path color=#9dff62 d="M1064 2496l4 9-3-1-5-9z"/>
<path color=#7dff82 d="M1083 2519l4 8-5 4-3-9z"/>
<path color=#5bffa4 d="M1107 2547l9 1-5 6-9-1z"/>
<path color=#ff4500 d="M843 2272l4 24 2-2-4-17z"/>
<path color=#afff50 d="M1280 2499l40-18-8-6-40 18z"/>
<path color=#ff9f00 d="M815 2364l0-23 3 4 0 17z"/>
<path color=#ff3b00 d="M840 2264l6 14 4 7-6-5z"/>
<path color=#bdff42 d="M1678 2484l36-12-4-2-36 13z"/>
<path color=#6dff92 d="M1094 2531l3 7-4 7-3-9z"/>
<path color=#c0ff3f d="M1608 2483l39-12-8-4-41 12z"/>
<path color=#ff4900 d="M837 2295l0-26 3 16 0 20z"/>
<path color=#c0ff3f d="M1390 2486l49-16-9-5-49 15z"/>
<path color=#ff4100 d="M843 2270l3 26 1 0-4-24z"/>
<path color=#8aff75 d="M1216 2525l14-7-14-12-14 11z"/>
<path color=#ffec00 d="M957 2416l16 3 2-9-16-2z"/>
<path color=#ff6f00 d="M825 2336l0-22 4-15 0 28z"/>
<path color=#ff4b00 d="M835 2300l0-25 2 10 0 21z"/>
<path color=#cfff30 d="M1029 2462l7 8-1-3-8-7z"/>
<path color=#bdff42 d="M1684 2487l35-13-5-2-36 12z"/>
<path color=#95ff6a d="M1070 2504l5 8-2 2-5-9z"/>
<path color=#ff4100 d="M842 2273l4 24 0-1-3-26z"/>
<path color=#ff9e00 d="M813 2366l0-23 2 2 0 19z"/>
<path color=#ff4500 d="M840 2280l4 18 2-1-4-24z"/>
<path color=#ffa900 d="M870 2375l17 2 24-26-18-2z"/>
<path color=#65ff9a d="M1104 2540l3 7-5 6-3-7z"/>
<path color=#81ff7e d="M1202 2533l14-8-14-8-14 10z"/>
<path color=#ffbf00 d="M901 2383l18 1 3-4-17-2z"/>
<path color=#ff9b00 d="M812 2367l0-26 1 2 0 23z"/>
<path color=#ebff14 d="M1005 2448l11 6-1-11-11-5z"/>
<path color=#baff45 d="M1342 2495l39-15-15-9-39 15z"/>
<path color=#8eff71 d="M1079 2510l4 9-4 3-4-10z"/>
<path color=#ff9000 d="M858 2345l18 2 1 0-18-2z"/>
<path color=#76ff89 d="M1166 2538l29-8-7-3-29 14z"/>
<path color=#bcff43 d="M1689 2489l35-13-5-2-35 13z"/>
<path color=#aeff51 d="M1058 2489l6 7-4-1-6-8z"/>
<path color=#67ff98 d="M1121 2542l15 2-5 5-15-1z"/>
<path color=#6cff93 d="M1138 2542l21-1-3 2-20 1z"/>
<path color=#c2ff3d d="M1544 2486l43-13-12-5-43 12z"/>
<path color=#ff7600 d="M818 2339l0-22 7-3 0 22z"/>
<path color=#ffc000 d="M688 2369l68-10-55 37-70 9z"/>
<path color=#c0ff3f d="M1617 2487l39-12-9-4-39 12z"/>
<path color=#ff4b00 d="M832 2309l0-21 2-12 0 25z"/>
<path color=#7dff82 d="M1091 2523l3 8-4 5-3-9z"/>
<path color=#ff4400 d="M835 2285l6 15 3-2-6-26z"/>
<path color=#ff7300 d="M813 2338l27 4 43-32-26-4z"/>
<path color=#fff800 d="M972 2429l16 4 1-10-16-4z"/>
<path color=#ff9c00 d="M810 2368l0-26 2 3 0 22z"/>
<path color=#ffcf00 d="M909 2402l34 3 9-17-33-4z"/>
<path color=#a2ff5d d="M1260 2512l20-13-8-6-21 13z"/>
<path color=#afff50 d="M1287 2504l40-18-7-5-40 18z"/>
<path color=#ff4000 d="M835 2297l0-26 0 4 0 25z"/>
<path color=#c0ff3f d="M1395 2489l50-16-6-3-49 16z"/>
<path color=#c3ff3c d="M1473 2488l46-14-13-7-47 14z"/>
<path color=#ff4d00 d="M830 2297l6 5 5-2-6-15z"/>
<path color=#ff4000 d="M834 2301l0-25 1-5 0 26z"/>
<path color=#bcff43 d="M1694 2490l34-12-4-2-35 13z"/>
<path color=#72ff8d d="M1102 2534l2 6-5 6-2-8z"/>
<path color=#ff9900 d="M809 2368l0-28 1 2 0 26z"/>
<path color=#a6ff59 d="M1066 2496l4 8-2 1-4-9z"/>
<path color=#ff4800 d="M829 2313l0-21 3-20 0 27z"/>
<path color=#ff9900 d="M809 2369l0-26 0-3 0 28z"/>
<path color=#ff7b00 d="M815 2341l0-24 3 11 0 17z"/>
<path color=#bcff43 d="M1698 2491l33-11-3-2-34 12z"/>
<path color=#ff9b00 d="M807 2371l0-22 2-6 0 26z"/>
<path color=#c1ff3e d="M1733 2478l9 6-1-1-8-3z"/>
<path color=#c1ff3e d="M1730 2478l11 5-2 0-11-1z"/>
<path color=#dfff20 d="M1018 2456l11 6-2-2-11-6z"/>
<path color=#bfff40 d="M1626 2491l38-13-8-3-39 12z"/>
<path color=#c0ff3f d="M1723 2481l16 2-2-1-17 2z"/>
<path color=#c3ff3c d="M1736 2476l7 8-1 0-6-6z"/>
<path color=#95ff6a d="M1239 2524l21-12-9-6-21 12z"/>
<path color=#ff1e00 d="M837 2242l6 26 3 10-6-14z"/>
<path color=#c3ff3c d="M1734 2476l8 8 0 0-9-6z"/>
<path color=#c4ff3b d="M1738 2475l6 10-1-1-5-8z"/>
<path color=#9fff60 d="M1074 2504l5 6-4 2-5-8z"/>
<path color=#c4ff3b d="M1737 2475l6 9 0 0-7-8z"/>
<path color=#c2ff3d d="M1473 2488l46-14 0 0-46 14z"/>
<path color=#8dff72 d="M1087 2516l4 7-4 4-4-8z"/>
<path color=#c4ff3b d="M1741 2475l4 10 0 0-4-10z"/>
<path color=#c4ff3b d="M1741 2474l4 11-1 0-4-10z"/>
<path color=#c5ff3a d="M1740 2474l4 11 0 0-5-9z"/>
<path color=#c4ff3b d="M1741 2475l4 10 0 0-4-10z"/>
<path color=#ffe000 d="M940 2414l17 2 2-8-16-3z"/>
<path color=#ff1f00 d="M839 2249l4 23 2 5-4-17z"/>
<path color=#c5ff3a d="M1739 2474l5 11 0 0-6-10z"/>
<path color=#c5ff3a d="M1741 2474l4 11 0 0-4-11z"/>
<path color=#ff1f00 d="M837 2269l0-27 3 22 0 21z"/>
<path color=#c9ff36 d="M1044 2476l7 5-7-4-8-7z"/>
<path color=#beff41 d="M1051 2481l7 8-4-2-6-8z"/>
<path color=#beff41 d="M1701 2490l34-9-4-1-33 11z"/>
<path color=#70ff8f d="M1112 2540l9 2-5 6-9-1z"/>
<path color=#ff9b00 d="M805 2372l0-23 2-5 0 27z"/>
<path color=#c2ff3d d="M1555 2492l43-14-11-5-43 13z"/>
<path color=#ff7a00 d="M813 2343l0-22 2 5 0 19z"/>
<path color=#80ff7f d="M1099 2527l3 7-5 4-3-7z"/>
<path color=#ff9e00 d="M803 2373l0-19 2-5 0 23z"/>
<path color=#ff2300 d="M835 2275l0-25 2 13 0 22z"/>
<path color=#ff4400 d="M825 2314l0-22 4-21 0 28z"/>
<path color=#a2ff5d d="M1266 2516l21-12-7-5-20 13z"/>
<path color=#ff9c00 d="M852 2373l18 2 23-26-17-2z"/>
<path color=#c0ff3f d="M1410 2497l49-16-14-8-50 16z"/>
<path color=#faff05 d="M989 2444l16 4-1-10-16-5z"/>
<path color=#c0ff3f d="M1704 2487l33-5-2-1-34 9z"/>
<path color=#75ff8a d="M1124 2540l14 2-2 2-15-2z"/>
<path color=#bfff40 d="M1634 2494l37-13-7-3-38 13z"/>
<path color=#78ff87 d="M1146 2538l20 0-7 3-21 1z"/>
<path color=#ff4900 d="M818 2294l12 12 6-4-11-10z"/>
<path color=#ff1f00 d="M836 2263l4 17 2-7-4-23z"/>
<path color=#b9ff46 d="M1351 2501l39-15-9-6-39 15z"/>
<path color=#ffb300 d="M884 2381l17 2 4-5-18-1z"/>
<path color=#b6ff49 d="M1059 2489l7 7-2 0-6-7z"/>
<path color=#c2ff3d d="M1486 2495l46-15-13-6-46 14z"/>
<path color=#ff3900 d="M825 2292l5 5 5-12-6-14z"/>
<path color=#c1ff3e d="M1556 2492l42-13 0-1-43 14z"/>
<path color=#ff1400 d="M839 2244l4 26 0 2-4-23z"/>
<path color=#ff5000 d="M818 2317l0-23 7-2 0 22z"/>
<path color=#aeff51 d="M1302 2514l40-19-15-9-40 18z"/>
<path color=#81ff7e d="M1174 2536l28-3-7-3-29 8z"/>
<path color=#ffea00 d="M955 2427l17 2 1-10-16-3z"/>
<path color=#ff9e00 d="M799 2377l0-18 4-10 0 24z"/>
<path color=#ff7000 d="M812 2341l0-26 1 6 0 22z"/>
<path color=#ff1400 d="M838 2250l4 23 1-3-4-26z"/>
<path color=#79ff86 d="M1109 2535l3 5-5 7-3-7z"/>
<path color=#ff2300 d="M832 2288l0-21 2-16 0 25z"/>
<path color=#9dff62 d="M1083 2509l4 7-4 3-4-9z"/>
<path color=#ff8300 d="M839 2343l19 2 1 0-19-3z"/>
<path color=#aeff51 d="M1070 2497l4 7-4 0-4-8z"/>
<path color=#8bff74 d="M1211 2533l28-9-9-6-28 15z"/>
<path color=#bfff40 d="M1636 2496l38-13-3-2-37 13z"/>
<path color=#ff7100 d="M810 2342l0-26 2 7 0 22z"/>
<path color=#8eff71 d="M1096 2520l3 7-5 4-3-8z"/>
<path color=#96ff69 d="M1246 2528l20-12-6-4-21 12z"/>
<path color=#eeff11 d="M1007 2451l11 5-2-2-11-6z"/>
<path color=#ff4900 d="M821 2289l6 20 3-3-6-6z"/>
<path color=#c1ff3e d="M1566 2496l42-13-10-4-42 13z"/>
<path color=#ff1300 d="M835 2271l0-27 0 6 0 25z"/>
<path color=#d8ff27 d="M1036 2471l8 5-8-6-7-8z"/>
<path color=#ff5700 d="M815 2317l0-24 3 18 0 17z"/>
<path color=#d0ff2f d="M1725 2472l8 6 0 2-9-4z"/>
<path color=#beff41 d="M1641 2497l37-13-4-1-38 13z"/>
<path color=#d9ff26 d="M1738 2464l3 11 0 0-3-10z"/>
<path color=#ff1d00 d="M829 2271l6 14 3-13-6-27z"/>
<path color=#d4ff2b d="M1730 2468l6 8 0 2-7-6z"/>
<path color=#d9ff26 d="M1738 2464l3 11 0 0-3-11z"/>
<path color=#d7ff28 d="M1733 2466l5 9 0 1-6-8z"/>
<path color=#ff1300 d="M834 2276l0-25 1-7 0 27z"/>
<path color=#daff25 d="M1737 2463l4 11-1 1-4-9z"/>
<path color=#daff25 d="M1735 2463l5 11-1 2-4-10z"/>
<path color=#ff1f00 d="M829 2292l0-21 3-26 0 27z"/>
<path color=#dcff23 d="M1737 2462l4 12 0 0-4-11z"/>
<path color=#cfff30 d="M1719 2473l11 5-2 4-11-1z"/>
<path color=#84ff7b d="M1107 2529l2 6-5 5-2-6z"/>
<path color=#dbff24 d="M1733 2463l6 11-1 1-5-9z"/>
<path color=#d9ff26 d="M1730 2465l7 10-1 1-6-8z"/>
<path color=#d5ff2a d="M1726 2469l8 7-1 2-8-6z"/>
<path color=#b9ff46 d="M1357 2504l38-15-5-3-39 15z"/>
<path color=#ff6900 d="M809 2340l0-28 1 4 0 26z"/>
<path color=#ff7100 d="M807 2349l0-22 2-10 0 26z"/>
<path color=#7eff81 d="M1115 2537l9 3-3 2-9-2z"/>
<path color=#ffbe00 d="M892 2401l17 1 10-18-18-1z"/>
<path color=#c6ff39 d="M1053 2482l6 7-1 0-7-8z"/>
<path color=#ff4600 d="M821 2291l4 19 2-1-4-13z"/>
<path color=#beff41 d="M1647 2500l37-13-6-3-37 13z"/>
<path color=#ff5e00 d="M793 2334l20 4 44-32-19-5z"/>
<path color=#ff6900 d="M809 2343l0-26 0-5 0 28z"/>
<path color=#ff5500 d="M813 2321l0-23 2 9 0 19z"/>
<path color=#abff54 d="M1079 2503l4 6-4 1-5-6z"/>
<path color=#ff9c00 d="M793 2381l0-22 6-5 0 23z"/>
<path color=#9cff63 d="M1092 2514l4 6-5 3-4-7z"/>
<path color=#ff7900 d="M803 2354l0-19 2-8 0 22z"/>
<path color=#ffc000 d="M593 2385l95-16-57 36-97 15z"/>
<path color=#c1ff3e d="M1499 2501l45-15-12-6-46 15z"/>
<path color=#ccff33 d="M1706 2480l17 1-3 3-16 3z"/>
<path color=#f90405 d="M835 2226l4 23 2 11-4-18z"/>
<path color=#ff7000 d="M805 2349l0-22 2-9 0 26z"/>
<path color=#bfff40 d="M1425 2505l48-17-14-7-49 16z"/>
<path color=#fa0304 d="M835 2250l0-24 2 16 0 21z"/>
<path color=#82ff7d d="M1131 2535l15 3-8 4-14-2z"/>
<path color=#c0ff3f d="M1576 2501l41-14-9-4-42 13z"/>
<path color=#fff600 d="M973 2441l16 3-1-11-16-4z"/>
<path color=#ff4100 d="M820 2286l4 25 1-1-4-19z"/>
<path color=#90ff6f d="M1104 2524l3 5-5 5-3-7z"/>
<path color=#beff41 d="M1653 2502l36-13-5-2-37 13z"/>
<path color=#ff8f00 d="M833 2371l19 2 24-26-18-2z"/>
<path color=#ffa700 d="M866 2379l18 2 3-4-17-2z"/>
<path color=#ff4100 d="M819 2287l3 25 2-1-3-19z"/>
<path color=#91ff6e d="M1218 2532l28-4-7-4-28 9z"/>
<path color=#ffde00 d="M939 2424l16 3 2-11-17-2z"/>
<path color=#ff7a00 d="M799 2359l0-17 4-17 0 24z"/>
<path color=#e6ff19 d="M1025 2468l11 3-7-9-11-6z"/>
<path color=#ffce00 d="M907 2410l33 4 3-9-34-3z"/>
<path color=#aeff51 d="M1312 2520l39-19-9-6-40 19z"/>
<path color=#ffc000 d="M485 2388l98-29-99 49-96 25z"/>
<path color=#f80405 d="M832 2245l4 18 2-13-4-23z"/>
<path color=#9fff60 d="M1262 2530l40-16-15-10-41 24z"/>
<path color=#eeff11 d="M1734 2454l4 10 0 1-4-11z"/>
<path color=#efff10 d="M1734 2454l4 10 0 0-4-10z"/>
<path color=#88ff77 d="M1153 2534l21 2-8 2-20 0z"/>
<path color=#beff41 d="M1658 2504l36-14-5-1-36 13z"/>
<path color=#f90304 d="M832 2267l0-22 2-18 0 24z"/>
<path color=#fdff02 d="M990 2448l17 3-2-3-16-4z"/>
<path color=#b8ff47 d="M1074 2497l5 6-5 1-4-7z"/>
<path color=#efff10 d="M1733 2452l4 11-1 3-4-10z"/>
<path color=#8cff73 d="M1110 2527l5 10-3 3-5-11z"/>
<path color=#e5ff1a d="M1723 2460l7 8-1 4-6-7z"/>
<path color=#8cff73 d="M1182 2534l29-1-9 0-28 3z"/>
<path color=#dfff20 d="M1717 2466l8 6-1 4-8-4z"/>
<path color=#d4ff2b d="M1045 2478l8 4-2-1-7-5z"/>
<path color=#ff4600 d="M812 2315l0-26 1 9 0 23z"/>
<path color=#a9ff56 d="M1088 2508l4 6-5 2-4-7z"/>
<path color=#c1ff3e d="M1068 2492l6 5-8-1-7-7z"/>
<path color=#ebff14 d="M1727 2456l6 10-1 2-5-8z"/>
<path color=#ff3d00 d="M818 2284l3 28 1 0-3-25z"/>
<path color=#ff2f00 d="M815 2269l6 20 3 11-6-6z"/>
<path color=#b8ff47 d="M1373 2513l37-16-15-8-38 15z"/>
<path color=#ff3300 d="M815 2293l0-24 3 25 0 17z"/>
<path color=#efff10 d="M1730 2452l5 11 0 3-5-9z"/>
<path color=#beff41 d="M1425 2505l48-17 0 0-48 17z"/>
<path color=#f3ff0c d="M1733 2451l4 11 0 1-4-11z"/>
<path color=#ff4700 d="M810 2316l0-26 2 12 0 21z"/>
<path color=#ff3d00 d="M818 2288l3 25 0-1-3-28z"/>
<path color=#ff9a00 d="M789 2385l0-29 4 3 0 22z"/>
<path color=#9cff63 d="M1101 2518l3 6-5 3-3-7z"/>
<path color=#c0ff3f d="M1586 2505l40-14-9-4-41 14z"/>
<path color=#ff4100 d="M816 2296l3 18 2-1-3-25z"/>
<path color=#f0ff0f d="M1728 2453l5 10 0 3-6-10z"/>
<path color=#e60f11 d="M835 2218l4 26 0 5-4-23z"/>
<path color=#beff41 d="M1662 2505l36-14-4-1-36 14z"/>
<path color=#edff12 d="M1724 2456l6 9 0 3-7-8z"/>
<path color=#e7ff18 d="M1718 2461l8 8-1 3-8-6z"/>
<path color=#e60f11 d="M834 2227l4 23 1-6-4-26z"/>
<path color=#c1ff3e d="M1512 2507l43-15-11-6-45 15z"/>
<path color=#dcff23 d="M1708 2468l11 5-2 8-11-1z"/>
<path color=#e60f12 d="M835 2244l0-26 0 8 0 24z"/>
<path color=#8cff73 d="M1122 2533l9 2-7 5-9-3z"/>
<path color=#ff2800 d="M817 2272l4 19 2 5-4-13z"/>
<path color=#e60f12 d="M834 2251l0-24 1-9 0 26z"/>
<path color=#ffb200 d="M874 2399l18 2 9-18-17-2z"/>
<path color=#ff4000 d="M813 2297l4 19 2-2-4-24z"/>
<path color=#ff7000 d="M812 2339l27 4 1-1-27-4z"/>
<path color=#ff3100 d="M813 2298l0-23 2 13 0 19z"/>
<path color=#ffb700 d="M775 2385l26-10-33 29-26 10z"/>
<path color=#ff4500 d="M811 2304l4 13 2-1-4-19z"/>
<path color=#adff52 d="M1318 2523l39-19-6-3-39 19z"/>
<path color=#c0ff3f d="M1666 2505l35-15-3 1-36 14z"/>
<path color=#ff4700 d="M807 2327l0-22 2-14 0 26z"/>
<path color=#ff9b00 d="M786 2387l0-28 3 4 0 22z"/>
<path color=#ff5400 d="M803 2335l0-19 2-12 0 23z"/>
<path color=#beff41 d="M1439 2512l47-17-13-7-48 17z"/>
<path color=#ff7400 d="M793 2359l0-23 6-5 0 23z"/>
<path color=#a8ff57 d="M1097 2513l4 5-5 2-4-6z"/>
<path color=#f3ff0c d="M1014 2464l11 4-7-12-11-5z"/>
<path color=#ceff31 d="M1062 2487l6 5-9-3-6-7z"/>
<path color=#bfff40 d="M1594 2509l40-15-8-3-40 14z"/>
<path color=#ff3900 d="M809 2312l0-28 1 6 0 26z"/>
<path color=#e0ff1f d="M1038 2473l7 5-1-2-8-5z"/>
<path color=#ffe800 d="M957 2439l16 2-1-12-17-2z"/>
<path color=#c0ff3f d="M1512 2507l44-15-1 0-43 15z"/>
<path color=#fffb00 d="M1730 2443l4 11 0 0-4-10z"/>
<path color=#ff3900 d="M809 2317l0-26 0-7 0 28z"/>
<path color=#ffbe00 d="M745 2390l30-5-33 29-31 5z"/>
<path color=#fffa00 d="M1730 2443l4 11 0 0-4-11z"/>
<path color=#ff4500 d="M805 2327l0-23 2-12 0 26z"/>
<path color=#ff9b00 d="M785 2388l0-25 1 2 0 22z"/>
<path color=#a2ff5d d="M1104 2517l6 10-3 2-6-11z"/>
<path color=#ff4700 d="M805 2314l6 6 4-3-6-20z"/>
<path color=#c6ff39 d="M1669 2502l35-15-3 3-35 15z"/>
<path color=#ff5600 d="M799 2342l0-17 4-24 0 24z"/>
<path color=#fffa00 d="M1728 2442l5 10-1 4-4-10z"/>
<path color=#f7ff08 d="M1717 2453l6 7 0 5-7-6z"/>
<path color=#feff01 d="M1722 2447l5 9 0 4-6-8z"/>
<path color=#ff9a00 d="M848 2378l18 1 4-4-18-2z"/>
<path color=#eeff11 d="M1709 2461l8 5-1 6-8-4z"/>
<path color=#bfff40 d="M1597 2510l39-14-2-2-40 15z"/>
<path color=#ff8100 d="M814 2370l19 1 25-26-19-2z"/>
<path color=#fff900 d="M1726 2441l4 11 0 5-5-9z"/>
<path color=#ff9900 d="M784 2389l0-28 1 2 0 25z"/>
<path color=#ff1800 d="M816 2261l4 25 1 5-4-19z"/>
<path color=#94ff6b d="M1138 2531l15 3-7 4-15-3z"/>
<path color=#99ff66 d="M1118 2525l4 8-7 4-5-10z"/>
<path color=#fff400 d="M974 2445l16 3-1-4-16-3z"/>
<path color=#fff400 d="M1729 2439l4 12 0 1-5-10z"/>
<path color=#c0ff3f d="M1523 2512l43-16-10-4-44 15z"/>
<path color=#baff45 d="M1089 2504l5 4-11 1-4-6z"/>
<path color=#ff1900 d="M816 2262l3 25 2 5-3-18z"/>
<path color=#ff9900 d="M783 2390l0-26 1-3 0 28z"/>
<path color=#b4ff4b d="M1094 2508l3 5-5 1-4-6z"/>
<path color=#98ff67 d="M1189 2533l29-1-7 1-29 1z"/>
<path color=#9bff64 d="M1234 2533l28-3-16-2-28 4z"/>
<path color=#bfff40 d="M1602 2512l39-15-5-1-39 14z"/>
<path color=#ff9b00 d="M782 2391l0-22 1-5 0 26z"/>
<path color=#b8ff47 d="M1388 2521l37-16-15-8-37 16z"/>
<path color=#fff800 d="M1722 2442l6 11-1 3-5-9z"/>
<path color=#a4ff5b d="M1272 2531l40-11-10-6-40 16z"/>
<path color=#ff1b00 d="M812 2289l0-26 1 12 0 23z"/>
<path color=#fffd00 d="M1717 2446l7 10-1 4-6-7z"/>
<path color=#daff25 d="M1054 2484l8 3-9-5-8-4z"/>
<path color=#d0ff2f d="M1672 2496l34-16-2 7-35 15z"/>
<path color=#ff1d00 d="M810 2290l0-26 2 16 0 22z"/>
<path color=#98ff67 d="M1162 2531l20 3-8 2-21-2z"/>
<path color=#faff05 d="M1709 2453l9 8-1 5-8-5z"/>
<path color=#ffcd00 d="M905 2422l34 2 1-10-33-4z"/>
<path color=#aeff51 d="M1334 2529l39-16-16-9-39 19z"/>
<path color=#ffc000 d="M701 2396l44-6-34 29-44 5z"/>
<path color=#ff6d00 d="M789 2356l0-29 4 9 0 23z"/>
<path color=#bdff42 d="M1453 2518l46-17-13-6-47 17z"/>
<path color=#ff1900 d="M813 2277l3 19 2-8-3-25z"/>
<path color=#ff0900 d="M813 2253l4 19 2 11-4-14z"/>
<path color=#beff41 d="M1609 2515l38-15-6-3-39 15z"/>
<path color=#ff9b00 d="M779 2394l0-22 3-9 0 28z"/>
<path color=#ff0c00 d="M813 2275l0-22 2 16 0 19z"/>
<path color=#ffa700 d="M856 2399l18 0 10-18-18-2z"/>
<path color=#ff2600 d="M807 2290l4 14 2-7-4-19z"/>
<path color=#fffe00 d="M998 2462l16 2-7-13-17-3z"/>
<path color=#c5ff3a d="M1084 2500l5 4-10-1-5-6z"/>
<path color=#ff0c00 d="M815 2256l3 28 1 3-3-25z"/>
<path color=#ffe600 d="M1727 2433l3 10 0 1-3-10z"/>
<path color=#ff3000 d="M803 2316l0-20 2-15 0 23z"/>
<path color=#ffe500 d="M1727 2433l3 10 0 0-3-10z"/>
<path color=#ff4600 d="M793 2314l12 10 6-4-12-12z"/>
<path color=#bfff40 d="M1534 2516l42-15-10-5-43 16z"/>
<path color=#ff0c00 d="M815 2263l3 25 0-4-3-28z"/>
<path color=#b7ff48 d="M1096 2508l8 9-3 1-7-10z"/>
<path color=#ffdd00 d="M940 2438l17 1-2-12-16-3z"/>
<path color=#ff1d00 d="M807 2305l0-21 2-19 0 26z"/>
<path color=#b7ff48 d="M1389 2521l36-16 0 0-37 16z"/>
<path color=#ff4c00 d="M793 2336l0-22 6-6 0 23z"/>
<path color=#ffe500 d="M1724 2431l4 11 0 4-4-10z"/>
<path color=#acff53 d="M1112 2516l6 9-8 2-6-10z"/>
<path color=#ff6f00 d="M786 2359l0-27 3 9 0 22z"/>
<path color=#9eff61 d="M1130 2528l8 3-7 4-9-2z"/>
<path color=#f1ff0e d="M1015 2467l23 6-2-2-22-7z"/>
<path color=#ff1700 d="M809 2278l4 19 2-7-4-25z"/>
<path color=#beff41 d="M1615 2517l38-15-6-2-38 15z"/>
<path color=#fff600 d="M1710 2445l7 8-1 6-7-6z"/>
<path color=#ffec00 d="M1716 2438l6 9-1 5-5-8z"/>
<path color=#ff2d00 d="M799 2308l6 6 4-17-6-20z"/>
<path color=#ff3200 d="M799 2325l0-17 4-31 0 24z"/>
<path color=#e1ff1e d="M1674 2485l34-17-2 12-34 16z"/>
<path color=#e5ff1a d="M1046 2481l8 3-9-6-7-5z"/>
<path color=#ffe400 d="M1721 2429l5 12-1 7-4-9z"/>
<path color=#ff9a00 d="M776 2397l0-23 3-9 0 29z"/>
<path color=#ffde00 d="M1725 2428l4 11-1 3-4-11z"/>
<path color=#a7ff58 d="M1278 2532l40-9-6-3-40 11z"/>
<path color=#ffb700 d="M872 2408l35 2 2-8-35-3z"/>
<path color=#ff7100 d="M785 2363l0-26 1 6 0 22z"/>
<path color=#ff1a00 d="M805 2304l0-23 2-15 0 26z"/>
<path color=#ff4800 d="M795 2313l6 14 4-3-6-5z"/>
<path color=#ff0a00 d="M809 2284l0-28 1 8 0 26z"/>
<path color=#ff0a00 d="M809 2291l0-26 0-9 0 28z"/>
<path color=#beff41 d="M1621 2519l37-15-5-2-38 15z"/>
<path color=#ff8e00 d="M830 2376l18 2 4-5-19-2z"/>
<path color=#ffe200 d="M1717 2431l5 11 0 5-6-9z"/>
<path color=#ff5b00 d="M792 2335l20 4 1-1-20-4z"/>
<path color=#b7ff48 d="M1403 2528l36-16-14-7-36 16z"/>
<path color=#ffc000 d="M484 2408l109-23-59 35-109 19z"/>
<path color=#bfff40 d="M1544 2521l42-16-10-4-42 15z"/>
<path color=#ffe800 d="M1711 2436l6 10 0 7-7-8z"/>
<path color=#bdff42 d="M1466 2524l46-17-13-6-46 17z"/>
<path color=#ff6a00 d="M784 2361l0-27 1 3 0 26z"/>
<path color=#d5ff2a d="M1072 2493l12 7-10-3-12-10z"/>
<path color=#ef0a0b d="M812 2236l4 25 1 11-4-19z"/>
<path color=#f1090a d="M813 2237l3 25 2 12-3-19z"/>
<path color=#ff7100 d="M782 2369l0-22 1-9 0 26z"/>
<path color=#aaff55 d="M1125 2522l5 6-8 5-4-8z"/>
<path color=#beff41 d="M1625 2521l37-16-4-1-37 15z"/>
<path color=#ffd100 d="M1723 2423l4 10 0 1-4-10z"/>
<path color=#a5ff5a d="M1148 2528l14 3-9 3-15-3z"/>
<path color=#ff6a00 d="M783 2364l0-26 1-4 0 27z"/>
<path color=#ff9d00 d="M771 2402l0-23 5-5 0 23z"/>
<path color=#f0090a d="M812 2263l0-27 1 17 0 22z"/>
<path color=#ffd000 d="M1723 2422l4 11 0 0-4-10z"/>
<path color=#ffc000 d="M631 2405l70-9-34 28-71 9z"/>
<path color=#f3ff0c d="M1674 2478l35-17-1 7-34 17z"/>
<path color=#a5ff5a d="M1169 2530l20 3-7 1-20-3z"/>
<path color=#f30708 d="M810 2264l0-26 2 20 0 22z"/>
<path color=#ffe200 d="M941 2442l33 3-1-4-33-3z"/>
<path color=#bfff40 d="M1104 2509l8 7-8 1-8-9z"/>
<path color=#ff7000 d="M787 2367l27 3 25-27-27-4z"/>
<path color=#fff200 d="M981 2461l17 1-8-14-16-3z"/>
<path color=#caff35 d="M1087 2501l9 7-2 0-10-8z"/>
<path color=#b0ff4f d="M1350 2534l38-13-15-8-39 16z"/>
<path color=#ffcf00 d="M1720 2420l4 11 0 5-4-9z"/>
<path color=#a5ff5a d="M1206 2532l28 1-16-1-29 1z"/>
<path color=#ff0800 d="M803 2277l4 13 2-12-4-19z"/>
<path color=#ff0b00 d="M803 2296l0-19 2-18 0 22z"/>
<path color=#a6ff59 d="M1244 2534l28-3-10-1-28 3z"/>
<path color=#c0ff3f d="M1629 2521l37-16-4 0-37 16z"/>
<path color=#ff9b00 d="M838 2398l18 1 10-20-18-1z"/>
<path color=#bcff43 d="M1467 2525l45-18 0 0-46 17z"/>
<path color=#ff3e00 d="M792 2303l7 26 2-2-6-14z"/>
<path color=#ff3f00 d="M789 2327l0-29 4 16 0 22z"/>
<path color=#ff6f00 d="M779 2372l0-22 3-14 0 27z"/>
<path color=#ffd900 d="M1711 2428l5 10 0 6-5-8z"/>
<path color=#f0090a d="M810 2259l3 18 2-14-3-25z"/>
<path color=#beff41 d="M1553 2525l41-16-8-4-42 16z"/>
<path color=#ffce00 d="M1717 2418l4 11 0 10-5-10z"/>
<path color=#ffc700 d="M1720 2416l5 12-1 3-4-11z"/>
<path color=#fffe00 d="M1675 2470l34-17 0 8-35 17z"/>
<path color=#ff3300 d="M789 2298l6 15 4 6-6-5z"/>
<path color=#f30709 d="M807 2284l0-22 2-23 0 26z"/>
<path color=#ff3e00 d="M793 2307l4 24 2-2-5-17z"/>
<path color=#f4ff0b d="M1024 2477l22 4-8-8-23-6z"/>
<path color=#abff54 d="M1295 2536l39-7-16-6-40 9z"/>
<path color=#c4ff3b d="M1633 2519l36-17-3 3-37 16z"/>
<path color=#ff4400 d="M786 2332l0-28 3 16 0 21z"/>
<path color=#baff45 d="M1119 2516l6 6-7 3-6-9z"/>
<path color=#bcff43 d="M1479 2530l44-18-11-5-45 18z"/>
<path color=#ff9b00 d="M768 2405l0-27 3 1 0 23z"/>
<path color=#beff41 d="M1557 2526l40-16-3-1-41 16z"/>
<path color=#dc1518 d="M812 2228l3 28 1 6-3-25z"/>
<path color=#ffcc00 d="M1711 2420l6 11-1 7-5-10z"/>
<path color=#ee0a0c d="M805 2259l4 19 2-13-4-25z"/>
<path color=#b7ff48 d="M1417 2534l36-16-14-6-36 16z"/>
<path color=#ff3a00 d="M792 2305l4 26 1 0-4-24z"/>
<path color=#ff4700 d="M785 2337l0-26 1 9 0 23z"/>
<path color=#b2ff4d d="M1351 2534l38-13-1 0-38 13z"/>
<path color=#dc1518 d="M812 2238l3 25 0-7-3-28z"/>
<path color=#b0ff4f d="M1139 2526l9 2-10 3-8-3z"/>
<path color=#ffce00 d="M906 2438l34 0-1-14-34-2z"/>
<path color=#ef090b d="M805 2281l0-22 2-19 0 26z"/>
<path color=#ff6d00 d="M776 2374l0-22 3-16 0 29z"/>
<path color=#ffbc00 d="M1720 2412l3 11 0 1-3-10z"/>
<path color=#ff3a00 d="M791 2308l5 24 0-1-4-26z"/>
<path color=#ffbb00 d="M1720 2412l3 10 0 1-3-11z"/>
<path color=#ff3e00 d="M790 2316l4 17 2-1-5-24z"/>
<path color=#beff41 d="M1562 2528l40-16-5-2-40 16z"/>
<path color=#ffef00 d="M1676 2462l34-17-1 8-34 17z"/>
<path color=#db1619 d="M809 2256l0-28 1 10 0 26z"/>
<path color=#ff8100 d="M811 2375l19 1 3-5-19-1z"/>
<path color=#cdff32 d="M1636 2513l36-17-3 6-36 17z"/>
<path color=#ff9d00 d="M766 2407l0-25 2 2 0 21z"/>
<path color=#e7ff18 d="M1057 2489l15 4-10-6-16-6z"/>
<path color=#ffb800 d="M870 2422l35 0 2-12-35-2z"/>
<path color=#db1619 d="M809 2265l0-26 0-11 0 28z"/>
<path color=#ffba00 d="M1716 2409l4 11 0 7-4-10z"/>
<path color=#fff700 d="M983 2464l32 3-1-3-33-3z"/>
<path color=#dcff23 d="M1075 2495l12 6-3-1-12-7z"/>
<path color=#adff52 d="M1251 2535l27-3-6-1-28 3z"/>
<path color=#ff7500 d="M771 2379l0-22 5-5 0 22z"/>
<path color=#ff4700 d="M782 2347l0-23 1-12 0 26z"/>
<path color=#b2ff4d d="M1155 2527l14 3-7 1-14-3z"/>
<path color=#beff41 d="M1569 2531l40-16-7-3-40 16z"/>
<path color=#ca2025 d="M810 2212l3 25 2 18-3-19z"/>
<path color=#ff3e00 d="M785 2321l6 15 3-3-6-26z"/>
<path color=#ff3b00 d="M784 2334l0-28 1 5 0 26z"/>
<path color=#cb1f24 d="M810 2238l0-26 2 24 0 22z"/>
<path color=#bcff43 d="M1490 2535l44-19-11-4-44 18z"/>
<path color=#ffb900 d="M1712 2407l5 11-1 11-5-9z"/>
<path color=#b3ff4c d="M1366 2538l37-10-14-7-38 13z"/>
<path color=#c9ff36 d="M1112 2510l7 6-7 0-8-7z"/>
<path color=#baff45 d="M1134 2521l5 5-9 2-5-6z"/>
<path color=#ffb000 d="M1716 2405l4 11 0 4-4-11z"/>
<path color=#ff3b00 d="M783 2338l0-26 1-6 0 28z"/>
<path color=#ff9900 d="M764 2408l0-28 2 2 0 25z"/>
<path color=#ffe000 d="M1676 2453l35-17-1 9-34 17z"/>
<path color=#ff4800 d="M782 2334l6 5 3-3-6-15z"/>
<path color=#ff8f00 d="M819 2397l19 1 10-20-18-2z"/>
<path color=#d3ff2c d="M1103 2507l9 3-16-2-9-7z"/>
<path color=#ff4400 d="M779 2350l0-21 3-21 0 28z"/>
<path color=#ff9700 d="M764 2409l0-30 0 1 0 28z"/>
<path color=#ddff22 d="M1638 2503l36-18-2 11-36 17z"/>
<path color=#b3ff4c d="M1186 2530l20 2-17 1-20-3z"/>
<path color=#ffe400 d="M948 2463l33-2-7-16-33-3z"/>
<path color=#bdff42 d="M1576 2534l39-17-6-2-40 16z"/>
<path color=#b7ff48 d="M1431 2538l35-14-13-6-36 16z"/>
<path color=#ca2025 d="M807 2240l3 19 2-21-3-25z"/>
<path color=#ffa700 d="M1716 2402l4 10 0 2-4-11z"/>
<path color=#ff9700 d="M763 2409l0-28 1-2 0 30z"/>
<path color=#cb2024 d="M807 2262l0-22 2-27 0 26z"/>
<path color=#ffa600 d="M1716 2401l4 11 0 0-4-10z"/>
<path color=#ff1600 d="M786 2276l6 27 3 10-6-15z"/>
<path color=#ffc000 d="M534 2420l97-15-35 28-97 13z"/>
<path color=#ff9900 d="M762 2411l0-25 1-5 0 28z"/>
<path color=#b2ff4d d="M1217 2533l27 1-10-1-28-1z"/>
<path color=#ffa200 d="M835 2409l37-1 2-9-36-1z"/>
<path color=#ff1700 d="M789 2283l4 24 1 5-4-18z"/>
<path color=#ff1800 d="M786 2304l0-28 3 22 0 22z"/>
<path color=#ffd100 d="M1677 2445l34-17 0 8-35 17z"/>
<path color=#ff5c00 d="M767 2363l20 4 25-28-20-4z"/>
<path color=#ff7000 d="M768 2378l0-27 3 6 0 22z"/>
<path color=#b2ff4d d="M1312 2539l38-5-16-5-39 7z"/>
<path color=#c6ff39 d="M1128 2517l6 4-9 1-6-6z"/>
<path color=#ffa500 d="M1712 2398l4 11 0 8-4-10z"/>
<path color=#bbff44 d="M1501 2539l43-18-10-5-44 19z"/>
<path color=#ff9d00 d="M760 2413l0-20 2-7 0 25z"/>
<path color=#bdff42 d="M1582 2536l39-17-6-2-39 17z"/>
<path color=#bdff42 d="M1146 2525l9 2-7 1-9-2z"/>
<path color=#ff1c00 d="M785 2311l0-26 1 13 0 22z"/>
<path color=#ffb700 d="M742 2414l26-10-19 24-27 10z"/>
<path color=#b7ff48 d="M1432 2539l35-14-1-1-35 14z"/>
<path color=#ffd000 d="M907 2444l34-2-1-4-34 0z"/>
<path color=#ff3f00 d="M776 2352l0-23 3-22 0 29z"/>
<path color=#eaff15 d="M1060 2492l15 3-3-2-15-4z"/>
<path color=#ff7500 d="M766 2382l0-25 2 7 0 20z"/>
<path color=#eeff11 d="M1639 2496l35-18 0 7-36 18z"/>
<path color=#fff800 d="M992 2479l32-2-9-10-32-3z"/>
<path color=#ff4600 d="M771 2335l12 9 5-5-12-10z"/>
<path color=#b4ff4b d="M1268 2537l27-1-17-4-27 3z"/>
<path color=#ff1700 d="M786 2298l4 18 1-8-4-24z"/>
<path color=#f6ff09 d="M1035 2490l22-1-11-8-22-4z"/>
<path color=#bdff42 d="M1587 2537l38-16-4-2-39 17z"/>
<path color=#ad2a30 d="M809 2200l3 28 1 9-3-25z"/>
<path color=#ff4e00 d="M771 2357l0-22 5-6 0 23z"/>
<path color=#ff9900 d="M1712 2393l4 12 0 4-4-11z"/>
<path color=#ffc200 d="M1677 2436l34-16 0 8-34 17z"/>
<path color=#ffbe00 d="M711 2419l31-5-20 24-30 5z"/>
<path color=#ff3300 d="M776 2329l6 5 3-13-6-14z"/>
<path color=#ff0c00 d="M788 2278l4 27 1 2-4-24z"/>
<path color=#ad2a30 d="M809 2228l0-28 1 12 0 26z"/>
<path color=#ad2a30 d="M809 2213l3 25 0-10-3-28z"/>
<path color=#e0ff1f d="M1090 2506l13 1-16-6-12-6z"/>
<path color=#b5ff4a d="M1381 2542l36-8-14-6-37 10z"/>
<path color=#ff1c00 d="M782 2324l0-22 1-16 0 26z"/>
<path color=#ff0c00 d="M787 2284l4 24 1-3-4-27z"/>
<path color=#ff9b00 d="M757 2416l0-22 3-8 0 27z"/>
<path color=#ad2a30 d="M809 2239l0-26 0-13 0 28z"/>
<path color=#b8ff47 d="M1444 2543l35-13-12-5-35 14z"/>
<path color=#ff9200 d="M1712 2391l4 11 0 1-4-10z"/>
<path color=#bbff44 d="M1511 2543l42-18-9-4-43 18z"/>
<path color=#beff41 d="M1592 2538l37-17-4 0-38 16z"/>
<path color=#c6ff39 d="M1141 2521l5 4-7 1-5-5z"/>
<path color=#d2ff2d d="M1121 2514l7 3-9-1-7-6z"/>
<path color=#ff9000 d="M1712 2391l4 10 0 1-4-11z"/>
<path color=#ff7000 d="M783 2372l28 3 3-5-27-3z"/>
<path color=#fcff03 d="M1640 2489l35-19-1 8-35 18z"/>
<path color=#b5ff4a d="M1312 2540l39-6-1 0-38 5z"/>
<path color=#ff0c00 d="M784 2306l0-27 1 6 0 26z"/>
<path color=#ffc000 d="M356 2437l129-49-97 45-101 35z"/>
<path color=#b9ff46 d="M1223 2534l28 1-7-1-27-1z"/>
<path color=#ffb500 d="M1678 2429l34-15-1 6-34 16z"/>
<path color=#ff1600 d="M779 2307l6 14 3-14-6-27z"/>
<path color=#ff8300 d="M801 2396l18 1 11-21-19-1z"/>
<path color=#ff0c00 d="M783 2312l0-26 1-7 0 27z"/>
<path color=#ff6a00 d="M764 2380l0-28 2 5 0 25z"/>
<path color=#c0ff3f d="M1172 2527l14 3-17 0-14-3z"/>
<path color=#ff1800 d="M779 2329l0-22 3-27 0 28z"/>
<path color=#c2ff3d d="M1595 2537l38-18-4 2-37 17z"/>
<path color=#ffbc00 d="M871 2439l35-1-1-16-35 0z"/>
<path color=#baff45 d="M1515 2544l42-18-4-1-42 18z"/>
<path color=#ffc000 d="M667 2424l44-5-19 24-44 5z"/>
<path color=#ff4000 d="M768 2324l12 23 3-3-12-9z"/>
<path color=#ff9d00 d="M754 2421l0-23 3-4 0 22z"/>
<path color=#ffe600 d="M950 2467l33-3-2-3-33 2z"/>
<path color=#cfff30 d="M1136 2519l5 2-7 0-6-4z"/>
<path color=#fff400 d="M1640 2480l36-18-1 8-35 19z"/>
<path color=#ff6400 d="M764 2379l0-30 0 3 0 28z"/>
<path color=#ffa900 d="M1678 2422l34-15 0 7-34 15z"/>
<path color=#ffc000 d="M388 2433l96-25-59 31-88 20z"/>
<path color=#ff7500 d="M760 2393l0-20 2-12 0 25z"/>
<path color=#ff6a00 d="M762 2386l0-25 1-8 0 28z"/>
<path color=#baff45 d="M1520 2546l42-18-5-2-42 18z"/>
<path color=#ff6400 d="M763 2381l0-28 1-4 0 30z"/>
<path color=#ff4400 d="M768 2351l0-27 3 11 0 22z"/>
<path color=#ff4200 d="M772 2328l6 21 2-2-6-12z"/>
<path color=#f0090a d="M785 2259l4 24 1 11-4-18z"/>
<path color=#dbff24 d="M1112 2513l9 1-9-4-9-3z"/>
<path color=#f5ff0a d="M1038 2494l22-2-3-3-22 1z"/>
<path color=#eaff15 d="M1075 2508l15-2-15-11-15-3z"/>
<path color=#ffa500 d="M834 2422l36 0 2-14-37 1z"/>
<path color=#c1ff3e d="M1197 2531l20 2-11-1-20-2z"/>
<path color=#f20809 d="M785 2285l0-26 1 17 0 22z"/>
<path color=#b8ff47 d="M1328 2543l38-5-15-4-39 6z"/>
<path color=#caff35 d="M1598 2532l38-19-3 6-38 18z"/>
<path color=#b8ff47 d="M1457 2546l33-11-11-5-35 13z"/>
<path color=#ff4d00 d="M766 2357l0-25 2 12 0 20z"/>
<path color=#b7ff48 d="M1395 2547l36-9-14-4-36 8z"/>
<path color=#baff45 d="M1528 2549l41-18-7-3-42 18z"/>
<path color=#ff9200 d="M817 2408l18 1 3-11-19-1z"/>
<path color=#ff9a00 d="M1678 2412l34-14 0 9-34 15z"/>
<path color=#caff35 d="M1163 2527l9 0-17 0-9-2z"/>
<path color=#ff9e00 d="M752 2424l0-24 2 4 0 17z"/>
<path color=#ffd400 d="M915 2464l33-1-7-21-34 2z"/>
<path color=#d7ff28 d="M1128 2518l8 1-8-2-7-3z"/>
<path color=#ffe400 d="M1641 2471l35-18 0 9-36 18z"/>
<path color=#f0090a d="M782 2280l4 18 1-14-4-24z"/>
<path color=#ff4000 d="M772 2330l4 21 1 0-4-19z"/>
<path color=#f20809 d="M782 2302l0-22 1-20 0 26z"/>
<path color=#ff3b00 d="M771 2323l6 28 1-2-6-21z"/>
<path color=#ff4000 d="M772 2333l4 19 0-1-4-21z"/>
<path color=#ff7000 d="M757 2394l0-22 3-13 0 27z"/>
<path color=#bdff42 d="M1285 2540l27-1-17-3-27 1z"/>
<path color=#fffc00 d="M1003 2493l32-3-11-13-32 2z"/>
<path color=#d8ff27 d="M1601 2523l37-20-2 10-38 19z"/>
<path color=#c1ff3e d="M1241 2537l27 0-17-2-28-1z"/>
<path color=#e2ff1d d="M1100 2514l12-1-9-6-13-1z"/>
<path color=#ff9e00 d="M751 2425l0-22 1 2 0 19z"/>
<path color=#ffc000 d="M596 2433l71-9-19 24-70 7z"/>
<path color=#b8ff47 d="M1396 2547l36-8-1-1-36 9z"/>
<path color=#de1417 d="M784 2251l4 27 1 5-4-24z"/>
<path color=#ff8d00 d="M1678 2407l34-14 0 5-34 14z"/>
<path color=#bbff44 d="M1536 2551l40-17-7-3-41 18z"/>
<path color=#b9ff46 d="M1468 2550l33-11-11-4-33 11z"/>
<path color=#d0ff2f d="M1159 2527l4 0-17-2-5-4z"/>
<path color=#ffea00 d="M960 2482l32-3-9-15-33 3z"/>
<path color=#de1417 d="M783 2260l4 24 1-6-4-27z"/>
<path color=#de1417 d="M784 2279l0-28 1 8 0 26z"/>
<path color=#ff3b00 d="M768 2332l6 21 2-1-6-28z"/>
<path color=#ffd400 d="M1641 2462l36-17-1 8-35 18z"/>
<path color=#ddff22 d="M1119 2518l9 0-7-4-9-1z"/>
<path color=#ffc000 d="M425 2439l109-19-35 26-105 14z"/>
<path color=#ff3c00 d="M764 2352l0-29 2 9 0 25z"/>
<path color=#de1417 d="M783 2286l0-26 1-9 0 28z"/>
<path color=#ff9b00 d="M750 2426l0-25 1 2 0 22z"/>
<path color=#ff8700 d="M1679 2405l33-14 0 2-34 14z"/>
<path color=#ffc000 d="M873 2445l34-1-1-6-35 1z"/>
<path color=#ff4200 d="M766 2344l6 12 2-3-6-21z"/>
<path color=#ff7500 d="M754 2398l0-23 3-3 0 22z"/>
<path color=#c8ff37 d="M1204 2532l19 2-6-1-20-2z"/>
<path color=#ff8500 d="M1679 2404l33-13 0 0-33 14z"/>
<path color=#f2ff0d d="M1054 2510l21-2-15-16-22 2z"/>
<path color=#ff4d00 d="M760 2373l0-21 2-16 0 25z"/>
<path color=#ff9c00 d="M749 2428l0-26 1 3 0 21z"/>
<path color=#bbff44 d="M1542 2553l40-17-6-2-40 17z"/>
<path color=#ff5d00 d="M763 2368l20 4 4-5-20-4z"/>
<path color=#ff7200 d="M774 2393l27 3 10-21-28-3z"/>
<path color=#d5ff2a d="M1153 2528l6-1-18-6-5-2z"/>
<path color=#cdff32 d="M1183 2530l14 1-11-1-14-3z"/>
<path color=#baff45 d="M1409 2550l35-7-12-4-36 8z"/>
<path color=#e8ff17 d="M1602 2515l37-19-1 7-37 20z"/>
<path color=#bcff43 d="M1344 2547l37-5-15-4-38 5z"/>
<path color=#ff2200 d="M766 2307l6 21 2 7-6-11z"/>
<path color=#c1ff3e d="M1286 2541l26-1 0-1-27 1z"/>
<path color=#ff2600 d="M766 2332l0-25 2 17 0 20z"/>
<path color=#ff3c00 d="M762 2361l0-25 1-12 0 29z"/>
<path color=#ff9900 d="M749 2428l0-27 0 1 0 26z"/>
<path color=#ffc500 d="M1642 2453l35-17 0 9-36 17z"/>
<path color=#ff3000 d="M764 2349l0-30 0 4 0 29z"/>
<path color=#b9ff46 d="M1478 2553l33-10-10-4-33 11z"/>
<path color=#ff7a00 d="M752 2400l0-24 2 10 0 18z"/>
<path color=#e8ff17 d="M1085 2516l15-2-10-8-15 2z"/>
<path color=#bbff44 d="M1548 2555l39-18-5-1-40 17z"/>
<path color=#ff9900 d="M749 2429l0-26 0-2 0 27z"/>
<path color=#ff3000 d="M763 2353l0-29 1-5 0 30z"/>
<path color=#e1ff1e d="M1107 2520l12-2-7-5-12 1z"/>
<path color=#ffff00 d="M1006 2497l32-3-3-4-32 3z"/>
<path color=#d8ff27 d="M1146 2530l7-2-17-9-8-1z"/>
<path color=#ff4100 d="M757 2350l13 9 2-3-12-24z"/>
<path color=#ff9c00 d="M747 2431l0-21 2-7 0 26z"/>
<path color=#ff8600 d="M798 2407l19 1 2-11-18-1z"/>
<path color=#f6ff09 d="M1603 2508l37-19-1 7-37 19z"/>
<path color=#ffd900 d="M917 2468l33-1-2-4-33 1z"/>
<path color=#ff1b00 d="M768 2310l4 20 1 2-4-18z"/>
<path color=#bcff43 d="M1552 2556l40-18-5-1-39 18z"/>
<path color=#ff7900 d="M751 2403l0-23 1 6 0 19z"/>
<path color=#ffb700 d="M1642 2446l36-17-1 7-35 17z"/>
<path color=#ff4400 d="M757 2372l0-22 3-18 0 27z"/>
<path color=#ff1b00 d="M767 2315l5 18 0-3-4-20z"/>
<path color=#ff9500 d="M816 2421l18 1 1-13-18-1z"/>
<path color=#baff45 d="M1482 2554l33-10-4-1-33 10z"/>
<path color=#ffaa00 d="M836 2439l35 0-1-17-36 0z"/>
<path color=#d4ff2b d="M1174 2531l9-1-11-3-9 0z"/>
<path color=#ff9b00 d="M747 2433l0-22 0-6 0 26z"/>
<path color=#c4ff3b d="M1302 2544l26-1-16-3-26 1z"/>
<path color=#bcff43 d="M1422 2554l35-8-13-3-35 7z"/>
<path color=#dbff24 d="M1137 2531l9-1-18-12-9 0z"/>
<path color=#ff4600 d="M754 2352l12 12 4-5-13-9z"/>
<path color=#bfff40 d="M1556 2555l39-18-3 1-40 18z"/>
<path color=#d2ff2d d="M1190 2533l14-1-7-1-14-1z"/>
<path color=#ff9e00 d="M746 2435l0-19 1-5 0 22z"/>
<path color=#baff45 d="M1488 2556l32-10-5-2-33 10z"/>
<path color=#ceff31 d="M1222 2538l19-1-18-3-19-2z"/>
<path color=#fff900 d="M1603 2499l37-19 0 9-37 19z"/>
<path color=#ff4d00 d="M754 2375l0-23 3-2 0 22z"/>
<path color=#ff0d00 d="M764 2295l7 28 1 5-6-21z"/>
<path color=#ff7100 d="M750 2401l0-26 1 5 0 23z"/>
<path color=#ffc000 d="M499 2446l97-13-18 22-95 10z"/>
<path color=#caff35 d="M1259 2541l26-1-17-3-27 0z"/>
<path color=#ffaa00 d="M1643 2438l35-16 0 7-36 17z"/>
<path color=#e5ff1a d="M1092 2522l15-2-7-6-15 2z"/>
<path color=#ff2200 d="M760 2332l6 12 2-12-6-21z"/>
<path color=#d7ff28 d="M1170 2532l4-1-11-4-4 0z"/>
<path color=#ff2600 d="M760 2352l0-20 2-21 0 25z"/>
<path color=#ffb700 d="M722 2438l27-10-8 21-26 9z"/>
<path color=#ff0d00 d="M764 2323l0-28 2 12 0 25z"/>
<path color=#c0ff3f d="M1359 2551l36-4-14-5-37 5z"/>
<path color=#ff7200 d="M749 2402l0-26 1 7 0 22z"/>
<path color=#fff000 d="M971 2496l32-3-11-14-32 3z"/>
<path color=#ffc400 d="M881 2465l34-1-8-20-34 1z"/>
<path color=#edff12 d="M1064 2519l21-3-10-8-21 2z"/>
<path color=#c6ff39 d="M1560 2551l38-19-3 5-39 18z"/>
<path color=#ff4600 d="M758 2348l6 19 2-3-6-6z"/>
<path color=#ff5600 d="M752 2376l0-24 2 17 0 17z"/>
<path color=#bbff44 d="M1497 2559l31-10-8-3-32 10z"/>
<path color=#ffbe00 d="M692 2443l30-5-7 20-30 5z"/>
<path color=#d8ff27 d="M1164 2534l6-2-11-5-6 1z"/>
<path color=#fbff04 d="M1023 2513l31-3-16-16-32 3z"/>
<path color=#ff0d00 d="M762 2311l6 21 2-8-7-28z"/>
<path color=#ff9e00 d="M744 2439l0-17 2-11 0 24z"/>
<path color=#deff21 d="M1125 2533l12-2-18-13-12 2z"/>
<path color=#ffe900 d="M1604 2490l37-19-1 9-37 19z"/>
<path color=#ff9a00 d="M1643 2427l35-15 0 10-35 16z"/>
<path color=#ffdc00 d="M927 2483l33-1-10-15-33 1z"/>
<path color=#d7ff28 d="M1181 2535l9-2-7-3-9 1z"/>
<path color=#ff0d00 d="M762 2336l0-25 1-15 0 28z"/>
<path color=#ff6a00 d="M749 2401l0-28 0 3 0 26z"/>
<path color=#bdff42 d="M1434 2558l34-8-11-4-35 8z"/>
<path color=#ff4500 d="M759 2350l4 19 1-2-4-13z"/>
<path color=#d8ff27 d="M1157 2536l7-2-11-6-7 2z"/>
<path color=#ff7200 d="M747 2410l0-22 2-10 0 25z"/>
<path color=#ff6a00 d="M749 2403l0-25 0-5 0 28z"/>
<path color=#ff5500 d="M751 2380l0-22 1 9 0 19z"/>
<path color=#c2ff3d d="M1360 2552l36-5-1 0-36 4z"/>
<path color=#ff5e00 d="M754 2388l20 5 9-21-20-4z"/>
<path color=#fc0202 d="M764 2319l0-30 0 6 0 28z"/>
<path color=#cdff32 d="M1259 2541l27 0-1-1-26 1z"/>
<path color=#bbff44 d="M1504 2561l32-10-8-2-31 10z"/>
<path color=#d4ff2b d="M1562 2542l39-19-3 9-38 19z"/>
<path color=#fc0202 d="M763 2324l0-28 1-7 0 30z"/>
<path color=#d7ff28 d="M1177 2536l4-1-7-4-4 1z"/>
<path color=#f50607 d="M764 2289l4 21 1 4-5-19z"/>
<path color=#ffc000 d="M648 2448l44-5-7 20-44 4z"/>
<path color=#ff8900 d="M797 2420l19 1 1-13-19-1z"/>
<path color=#d5ff2a d="M1208 2542l14-4-18-6-14 1z"/>
<path color=#ffad00 d="M837 2444l36 1-2-6-35 0z"/>
<path color=#f60607 d="M763 2296l4 19 1-5-4-21z"/>
<path color=#ff8c00 d="M1643 2422l35-15 0 5-35 15z"/>
<path color=#ff4000 d="M758 2346l4 24 1-1-4-19z"/>
<path color=#ffd900 d="M1605 2481l36-19 0 9-37 19z"/>
<path color=#ff7100 d="M747 2411l0-23 0-8 0 25z"/>
<path color=#c9ff36 d="M1318 2549l26-2-16-4-26 1z"/>
<path color=#ff7900 d="M746 2416l0-20 1-8 0 23z"/>
<path color=#eaff15 d="M1071 2525l21-3-7-6-21 3z"/>
<path color=#d9ff26 d="M1148 2538l9-2-11-6-9 1z"/>
<path color=#ff7500 d="M771 2403l27 4 3-11-27-3z"/>
<path color=#d7ff28 d="M1171 2538l6-2-7-4-6 2z"/>
<path color=#e1ff1e d="M1111 2536l14-3-18-13-15 2z"/>
<path color=#fff300 d="M974 2499l32-2-3-4-32 3z"/>
<path color=#ff4000 d="M759 2347l3 24 0-1-3-18z"/>
<path color=#ff8500 d="M1643 2419l36-14-1 2-35 15z"/>
<path color=#c4ff3b d="M1373 2555l36-5-13-3-36 5z"/>
<path color=#bcff43 d="M1511 2563l31-10-6-2-32 10z"/>
<path color=#ff8200 d="M1643 2419l36-15 0 1-36 14z"/>
<path color=#bfff40 d="M1445 2561l33-8-10-3-34 8z"/>
<path color=#ff4600 d="M750 2375l0-26 1 9 0 22z"/>
<path color=#ff9c00 d="M742 2446l0-23 2-7 0 23z"/>
<path color=#ffc000 d="M337 2459l88-20-31 21-81 13z"/>
<path color=#ff3c00 d="M758 2344l3 28 1-1-3-24z"/>
<path color=#d8ff27 d="M1164 2540l7-2-7-4-7 2z"/>
<path color=#e3ff1c d="M1563 2535l39-20-1 8-39 19z"/>
<path color=#cfff30 d="M1276 2548l26-4-16-3-27 0z"/>
<path color=#ff2c00 d="M752 2328l6 20 2 10-6-6z"/>
<path color=#ff3100 d="M752 2352l0-24 2 24 0 17z"/>
<path color=#d3ff2c d="M1240 2546l19-5-18-4-19 1z"/>
<path color=#ff4800 d="M749 2376l0-26 1 12 0 21z"/>
<path color=#ff9900 d="M818 2437l18 2-2-17-18-1z"/>
<path color=#ff7a00 d="M744 2422l0-17 2-18 0 24z"/>
<path color=#ff3c00 d="M758 2348l3 25 0-1-3-28z"/>
<path color=#d7ff28 d="M1200 2544l8-2-18-9-9 2z"/>
<path color=#ffc900 d="M1605 2472l37-19-1 9-36 19z"/>
<path color=#ffc900 d="M883 2469l34-1-2-4-34 1z"/>
<path color=#bcff43 d="M1517 2565l31-10-6-2-31 10z"/>
<path color=#daff25 d="M1137 2541l11-3-11-7-12 2z"/>
<path color=#ff4000 d="M756 2357l4 18 1-2-3-25z"/>
<path color=#f5ff0a d="M1033 2522l31-3-10-9-31 3z"/>
<path color=#ffc000 d="M287 2468l101-35-51 26-77 21z"/>
<path color=#ffc000 d="M578 2455l70-7-7 19-68 6z"/>
<path color=#c0ff3f d="M1449 2562l33-8-4-1-33 8z"/>
<path color=#ff2600 d="M755 2331l4 19 1 4-4-13z"/>
<path color=#d8ff27 d="M1156 2542l8-2-7-4-9 2z"/>
<path color=#ff3000 d="M751 2358l0-23 1 13 0 19z"/>
<path color=#d7ff28 d="M1196 2545l4-1-19-9-4 1z"/>
<path color=#f0ff0f d="M1564 2528l39-20-1 7-39 20z"/>
<path color=#bdff42 d="M1522 2565l30-9-4-1-31 10z"/>
<path color=#ffc000 d="M394 2460l105-14-16 19-103 10z"/>
<path color=#ff4800 d="M747 2388l0-21 2-15 0 26z"/>
<path color=#ff4000 d="M755 2358l4 19 1-2-5-24z"/>
<path color=#ff3b00 d="M749 2373l0-28 0 5 0 26z"/>
<path color=#ffba00 d="M1605 2464l37-18 0 7-37 19z"/>
<path color=#c0ff3f d="M1455 2564l33-8-6-2-33 8z"/>
<path color=#d7ff28 d="M1190 2547l6-2-19-9-6 2z"/>
<path color=#c6ff39 d="M1387 2559l35-5-13-4-36 5z"/>
<path color=#ff4500 d="M754 2365l4 14 1-2-4-19z"/>
<path color=#ffe200 d="M939 2497l32-1-11-14-33 1z"/>
<path color=#e6ff19 d="M1090 2539l21-3-19-14-21 3z"/>
<path color=#ff9f00 d="M741 2450l0-23 1 2 0 17z"/>
<path color=#ff3b00 d="M749 2378l0-26 0-7 0 28z"/>
<path color=#d5ff2a d="M1240 2546l19-5 0 0-19 5z"/>
<path color=#ff5500 d="M746 2396l0-19 1-12 0 23z"/>
<path color=#ccff33 d="M1334 2554l25-3-15-4-26 2z"/>
<path color=#fff800 d="M992 2515l31-2-17-16-32 2z"/>
<path color=#c0ff3f d="M1526 2565l30-10-4 1-30 9z"/>
<path color=#ddff22 d="M1122 2543l15-2-12-8-14 3z"/>
<path color=#d9ff26 d="M1144 2545l12-3-8-4-11 3z"/>
<path color=#ff4600 d="M747 2388l0-23 0-11 0 26z"/>
<path color=#d6ff29 d="M1226 2550l14-4-18-8-14 4z"/>
<path color=#ffff00 d="M1565 2518l38-19 0 9-39 20z"/>
<path color=#d7ff28 d="M1183 2549l7-2-19-9-7 2z"/>
<path color=#ffb200 d="M847 2463l34 2-8-20-36-1z"/>
<path color=#ff1800 d="M754 2321l4 25 1 4-4-19z"/>
<path color=#ffac00 d="M1606 2456l37-18-1 8-37 18z"/>
<path color=#f2ff0d d="M1041 2528l30-3-7-6-31 3z"/>
<path color=#ff1900 d="M756 2322l3 25 0 5-3-19z"/>
<path color=#c1ff3e d="M1464 2566l33-7-9-3-33 8z"/>
<path color=#ff7800 d="M771 2415l26 5 1-13-27-4z"/>
<path color=#ff7400 d="M742 2423l0-23 2-7 0 23z"/>
<path color=#ffcd00 d="M894 2483l33 0-10-15-34 1z"/>
<path color=#ff4700 d="M750 2377l6 6 2-4-6-20z"/>
<path color=#ff5600 d="M744 2405l0-18 2-24 0 24z"/>
<path color=#c7ff38 d="M1530 2561l30-10-4 4-30 10z"/>
<path color=#ff1b00 d="M750 2349l0-26 1 12 0 23z"/>
<path color=#d2ff2d d="M1293 2555l25-6-16-5-26 4z"/>
<path color=#ceff31 d="M1335 2554l25-2-1-1-25 3z"/>
<path color=#ff1f00 d="M749 2350l0-25 1 15 0 22z"/>
<path color=#ff9e00 d="M740 2453l0-24 1 3 0 18z"/>
<path color=#d5ff2a d="M1258 2553l18-5-17-7-19 5z"/>
<path color=#ff8d00 d="M800 2435l18 2-2-16-19-1z"/>
<path color=#ff9d00 d="M819 2442l18 2-1-5-18-2z"/>
<path color=#d7ff28 d="M1175 2551l8-2-19-9-8 2z"/>
<path color=#d6ff29 d="M1218 2552l8-2-18-8-8 2z"/>
<path color=#ff6000 d="M752 2397l19 6 3-10-20-5z"/>
<path color=#c8ff37 d="M1400 2563l34-5-12-4-35 5z"/>
<path color=#ffef00 d="M1566 2509l38-19-1 9-38 19z"/>
<path color=#ff0800 d="M751 2313l4 18 1 10-4-13z"/>
<path color=#ff0b00 d="M751 2335l0-22 1 15 0 20z"/>
<path color=#ffc000 d="M483 2465l95-10-5 18-94 7z"/>
<path color=#d6ff29 d="M1227 2550l13-4 0 0-14 4z"/>
<path color=#dbff24 d="M1130 2548l14-3-7-4-15 2z"/>
<path color=#ff1900 d="M753 2338l3 19 2-9-3-24z"/>
<path color=#c2ff3d d="M1473 2569l31-8-7-2-33 7z"/>
<path color=#ff9b00 d="M1606 2444l37-17 0 11-37 18z"/>
<path color=#ff0d00 d="M755 2317l3 27 1 3-3-25z"/>
<path color=#ffe600 d="M942 2500l32-1-3-3-32 1z"/>
<path color=#ffb700 d="M715 2458l26-9 1 17-26 9z"/>
<path color=#ff0d00 d="M755 2324l3 24 0-4-3-27z"/>
<path color=#d3ff2c d="M1533 2553l29-11-2 9-30 10z"/>
<path color=#d7ff28 d="M1214 2554l4-2-18-8-4 1z"/>
<path color=#cfff30 d="M1349 2559l24-4-13-3-25 2z"/>
<path color=#ff7c00 d="M741 2427l0-23 1 8 0 17z"/>
<path color=#ff1f00 d="M747 2367l0-22 2-19 0 26z"/>
<path color=#ff2700 d="M750 2352l4 13 1-7-4-19z"/>
<path color=#ff9900 d="M740 2455l0-29 0 3 0 24z"/>
<path color=#e1ff1e d="M1102 2546l20-3-11-7-21 3z"/>
<path color=#d8ff27 d="M1164 2555l11-4-19-9-12 3z"/>
<path color=#ff3000 d="M746 2377l0-19 1-15 0 22z"/>
<path color=#ffbe00 d="M685 2463l30-5 1 17-29 4z"/>
<path color=#ff1800 d="M751 2339l4 19 0-7-4-25z"/>
<path color=#ff9b00 d="M740 2456l0-26 0 1 0 24z"/>
<path color=#d7ff28 d="M1209 2555l5-1-18-9-6 2z"/>
<path color=#c3ff3c d="M1480 2571l31-8-7-2-31 8z"/>
<path color=#ff0c00 d="M749 2345l0-28 0 8 0 25z"/>
<path color=#ffde00 d="M1567 2500l38-19-1 9-38 19z"/>
<path color=#fffd00 d="M1002 2524l31-2-10-9-31 2z"/>
<path color=#ff8c00 d="M1606 2438l37-16 0 5-37 17z"/>
<path color=#ff9b00 d="M740 2456l0-24 0-2 0 26z"/>
<path color=#d6ff29 d="M1219 2553l8-3-1 0-8 2z"/>
<path color=#eeff11 d="M1061 2542l29-3-19-14-30 3z"/>
<path color=#ff0c00 d="M749 2352l0-26 0-9 0 28z"/>
<path color=#d6ff29 d="M1244 2558l14-5-18-7-13 4z"/>
<path color=#ff9900 d="M740 2457l0-25 0-5 0 29z"/>
<path color=#c9ff36 d="M1411 2567l34-6-11-3-34 5z"/>
<path color=#ff9e00 d="M740 2458l0-19 0-7 0 25z"/>
<path color=#ff1b00 d="M747 2365l0-22 0-15 0 26z"/>
<path color=#ff4600 d="M742 2377l11 13 3-7-12-13z"/>
<path color=#d3ff2c d="M1309 2561l25-7-16-5-25 6z"/>
<path color=#ff2d00 d="M744 2370l6 7 2-18-6-20z"/>
<path color=#ff3100 d="M744 2387l0-17 2-31 0 24z"/>
<path color=#d7ff28 d="M1202 2557l7-2-19-8-7 2z"/>
<path color=#ff8400 d="M1607 2435l36-16 0 3-37 16z"/>
<path color=#e2ff1d d="M1534 2546l29-11-1 7-29 11z"/>
<path color=#ffc000 d="M641 2467l44-4 2 16-43 4z"/>
<path color=#ffb600 d="M849 2467l34 2-2-4-34-2z"/>
<path color=#ffc000 d="M313 2473l81-13-14 15-77 8z"/>
<path color=#ff9f00 d="M740 2459l0-17 0-7 0 23z"/>
<path color=#c3ff3c d="M1486 2572l31-7-6-2-31 8z"/>
<path color=#ff8200 d="M1607 2435l36-16 0 0-36 16z"/>
<path color=#ff4b00 d="M742 2400l0-23 2-7 0 23z"/>
<path color=#d6ff29 d="M1215 2554l4-1-1-1-4 2z"/>
<path color=#ef090b d="M750 2297l4 24 1 10-4-18z"/>
<path color=#f1080a d="M752 2298l4 24 0 11-3-18z"/>
<path color=#d5ff2a d="M1275 2560l18-5-17-7-18 5z"/>
<path color=#ff7800 d="M740 2429l0-24 1 8 0 19z"/>
<path color=#ff8100 d="M787 2432l13 3-3-15-13-3z"/>
<path color=#d9ff26 d="M1150 2559l14-4-20-10-14 3z"/>
<path color=#f1090a d="M750 2323l0-26 1 16 0 22z"/>
<path color=#dfff20 d="M1110 2551l20-3-8-5-20 3z"/>
<path color=#f50607 d="M749 2325l0-26 1 20 0 21z"/>
<path color=#ffcd00 d="M1567 2490l38-18 0 9-38 19z"/>
<path color=#ffc000 d="M260 2480l77-21-24 14-63 13z"/>
<path color=#d0ff2f d="M1363 2565l24-6-14-4-24 4z"/>
<path color=#ff9000 d="M802 2440l17 2-1-5-18-2z"/>
<path color=#ffeb00 d="M960 2517l32-2-18-16-32 1z"/>
<path color=#d6ff29 d="M1209 2555l6-1-1 0-5 1z"/>
<path color=#caff35 d="M1415 2568l34-6-4-1-34 6z"/>
<path color=#d7ff28 d="M1194 2560l8-3-19-8-8 2z"/>
<path color=#d6ff29 d="M1236 2560l8-2-17-8-8 3z"/>
<path color=#ffd300 d="M906 2497l33 0-12-14-33 0z"/>
<path color=#c4ff3b d="M1491 2573l31-8-5 0-31 7z"/>
<path color=#ff9c00 d="M741 2461l0-23-1-2 0 23z"/>
<path color=#efff10 d="M1535 2539l29-11-1 7-29 11z"/>
<path color=#ffa100 d="M829 2461l18 2-10-19-18-2z"/>
<path color=#d4ff2b d="M1310 2561l25-7-1 0-25 7z"/>
<path color=#fdff02 d="M1011 2530l30-2-8-6-31 2z"/>
<path color=#ff5900 d="M741 2404l0-23 1 13 0 18z"/>
<path color=#ff4900 d="M747 2377l5 18 1-5-6-6z"/>
<path color=#ffc000 d="M380 2475l103-10-4 15-100 6z"/>
<path color=#f1080a d="M750 2320l3 18 2-14-3-25z"/>
<path color=#ff0800 d="M746 2339l4 13 1-13-4-19z"/>
<path color=#caff35 d="M1422 2570l33-6-6-2-34 6z"/>
<path color=#d7ff28 d="M1202 2557l7-2 0 0-7 2z"/>
<path color=#ff0b00 d="M746 2358l0-19 1-19 0 23z"/>
<path color=#ff6200 d="M752 2408l19 7 0-12-19-6z"/>
<path color=#ff9e00 d="M741 2463l0-25 0 6 0 17z"/>
<path color=#d6ff29 d="M1232 2561l4-1-17-7-4 1z"/>
<path color=#ffc000 d="M573 2473l68-6 3 16-67 4z"/>
<path color=#c7ff38 d="M1496 2573l30-8-4 0-31 8z"/>
<path color=#f50607 d="M747 2345l0-22 2-23 0 26z"/>
<path color=#ffbd00 d="M1567 2481l38-17 0 8-38 18z"/>
<path color=#ff9e00 d="M741 2463l0-23 0 3 0 20z"/>
<path color=#d7ff28 d="M1183 2563l11-3-19-9-11 4z"/>
<path color=#de1417 d="M752 2289l3 28 1 5-4-24z"/>
<path color=#d6ff29 d="M1227 2563l5-2-17-7-6 1z"/>
<path color=#ff6b00 d="M740 2426l0-28 0 7 0 24z"/>
<path color=#e9ff16 d="M1073 2550l29-4-12-7-29 3z"/>
<path color=#d6ff29 d="M1262 2565l13-5-17-7-14 5z"/>
<path color=#d4ff2b d="M1325 2567l24-8-14-5-25 7z"/>
<path color=#feff01 d="M1536 2530l29-12-1 10-29 11z"/>
<path color=#ff7000 d="M740 2430l0-25 0 2 0 24z"/>
<path color=#de1417 d="M752 2299l3 25 0-7-3-28z"/>
<path color=#ff9a00 d="M741 2464l0-27 0 3 0 23z"/>
<path color=#ff7800 d="M740 2439l0-18 0-13 0 24z"/>
<path color=#ffba00 d="M860 2481l34 2-11-14-34-2z"/>
<path color=#d7ff28 d="M1194 2560l8-3 0 0-8 3z"/>
<path color=#cbff34 d="M1432 2574l32-8-9-2-33 6z"/>
<path color=#ff7000 d="M740 2432l0-24 0-3 0 25z"/>
<path color=#d0ff2f d="M1376 2570l24-7-13-4-24 6z"/>
<path color=#ff9b00 d="M741 2465l0-27 0 3 0 23z"/>
<path color=#dcff23 d="M1130 2563l20-4-20-11-20 3z"/>
<path color=#cdff32 d="M1500 2570l30-9-4 4-30 8z"/>
<path color=#ef090b d="M747 2320l4 19 0-13-4-24z"/>
<path color=#ff7c00 d="M740 2442l0-17 0-13 0 23z"/>
<path color=#dd1418 d="M749 2317l0-28 0 10 0 26z"/>
<path color=#ff7500 d="M774 2429l13 3-3-15-13-2z"/>
<path color=#d5ff2a d="M1291 2567l18-6-16-6-18 5z"/>
<path color=#ff4600 d="M748 2376l4 22 0-3-3-12z"/>
<path color=#f1090a d="M747 2343l0-23 0-18 0 26z"/>
<path color=#d6ff29 d="M1220 2565l7-2-18-8-7 2z"/>
<path color=#ff9800 d="M741 2465l0-29 0 2 0 27z"/>
<path color=#ffae00 d="M1568 2473l38-17-1 8-38 17z"/>
<path color=#dd1418 d="M749 2326l0-26 0-11 0 28z"/>
<path color=#ff5300 d="M740 2405l0-24 1 14 0 18z"/>
<path color=#ff9b00 d="M742 2466l0-23-1-5 0 27z"/>
<path color=#ffd600 d="M910 2500l32 0-3-3-33 0z"/>
<path color=#ff6b00 d="M740 2432l0-24 0-9 0 28z"/>
<path color=#ff9800 d="M741 2465l0-27 0-2 0 29z"/>
<path color=#ff9e00 d="M742 2467l0-19 0-5 0 23z"/>
<path color=#ff9b00 d="M742 2466l0-23 0-4 0 27z"/>
<path color=#ff8300 d="M789 2437l13 3-2-5-13-3z"/>
<path color=#cc1f24 d="M749 2273l3 25 1 17-3-18z"/>
<path color=#d8ff27 d="M1169 2567l14-4-19-8-14 4z"/>
<path color=#d6ff29 d="M1254 2567l8-2-18-7-8 2z"/>
<path color=#ffef00 d="M1537 2520l29-11-1 9-29 12z"/>
<path color=#d7ff28 d="M1183 2563l11-3 0 0-11 3z"/>
<path color=#cd1e23 d="M749 2299l0-26 1 24 0 22z"/>
<path color=#ff9f00 d="M742 2468l0-16 0-9 0 24z"/>
<path color=#f8ff07 d="M1031 2544l30-2-20-14-30 2z"/>
<path color=#ffc000 d="M250 2486l63-13-10 10-56 5z"/>
<path color=#cbff34 d="M1440 2576l33-7-9-3-32 8z"/>
<path color=#ff4500 d="M749 2378l3 22 0-2-3-16z"/>
<path color=#ffc000 d="M479 2480l94-7 4 14-91 5z"/>
<path color=#fff000 d="M971 2525l31-1-10-9-32 2z"/>
<path color=#ff3500 d="M741 2381l0-22 1 18 0 17z"/>
<path color=#e6ff19 d="M1081 2555l29-4-8-5-29 4z"/>
<path color=#ff3000 d="M741 2359l6 18 0 7-5-7z"/>
<path color=#d7ff28 d="M1212 2567l8-2-18-8-8 3z"/>
<path color=#d9ff26 d="M1503 2562l30-9-3 8-30 9z"/>
<path color=#ffc000 d="M303 2483l77-8-1 11-75 3z"/>
<path color=#ff7400 d="M741 2438l0-23-1-1 0 22z"/>
<path color=#d5ff2a d="M1292 2567l18-6-1 0-18 6z"/>
<path color=#ff9400 d="M812 2459l17 2-10-19-17-2z"/>
<path color=#ffa500 d="M832 2465l17 2-2-4-18-2z"/>
<path color=#d4ff2b d="M1339 2572l24-7-14-6-24 8z"/>
<path color=#ff7900 d="M741 2438l0-24 0 13 0 17z"/>
<path color=#d1ff2e d="M1388 2574l23-7-11-4-24 7z"/>
<path color=#d6ff29 d="M1250 2568l4-1-18-7-4 1z"/>
<path color=#ff9c00 d="M1568 2461l38-17 0 12-38 17z"/>
<path color=#ff9d00 d="M743 2471l0-22-1-3 0 22z"/>
<path color=#ff4100 d="M749 2376l3 25 0-1-3-22z"/>
<path color=#ff4500 d="M749 2385l3 17 0-1-3-22z"/>
<path color=#ffb700 d="M716 2475l26-9 8 16-25 8z"/>
<path color=#ff4100 d="M749 2379l3 22 0 0-3-25z"/>
<path color=#d5ff2a d="M1279 2571l12-4-16-7-13 5z"/>
<path color=#cc1f24 d="M747 2302l3 18 2-21-3-24z"/>
<path color=#ff7800 d="M741 2440l0-23 0 6 0 20z"/>
<path color=#cbff34 d="M1448 2579l32-8-7-2-33 7z"/>
<path color=#cd1e23 d="M747 2323l0-21 2-27 0 25z"/>
<path color=#d6ff29 d="M1245 2570l5-2-18-7-5 2z"/>
<path color=#ffde00 d="M1537 2511l30-11-1 9-29 11z"/>
<path color=#ff4700 d="M748 2391l4 12 0-1-4-22z"/>
<path color=#ffbe00 d="M687 2479l29-4 9 15-28 4z"/>
<path color=#d7ff28 d="M1202 2571l10-4-18-7-11 3z"/>
<path color=#ff9f00 d="M744 2472l0-22-1 5 0 16z"/>
<path color=#d5ff2a d="M1307 2573l18-6-15-6-18 6z"/>
<path color=#d7ff28 d="M1170 2567l13-4 0 0-14 4z"/>
<path color=#ff5300 d="M740 2421l0-18 0-19 0 24z"/>
<path color=#e7ff18 d="M1504 2555l30-9-1 7-30 9z"/>
<path color=#ff5900 d="M740 2425l0-17 0-19 0 23z"/>
<path color=#ff4a00 d="M746 2398l6 7 0-2-6-18z"/>
<path color=#d1ff2e d="M1393 2575l22-7-4-1-23 7z"/>
<path color=#ffdb00 d="M929 2517l31 0-18-17-32 0z"/>
<path color=#ff9f00 d="M744 2473l0-22 0 3 0 18z"/>
<path color=#ffc000 d="M247 2488l56-5 1 6-56 0z"/>
<path color=#ff4400 d="M740 2405l0-26 0 5 0 23z"/>
<path color=#d9ff26 d="M1150 2573l19-6-19-8-20 4z"/>
<path color=#ff3d00 d="M740 2398l0-29 0 12 0 24z"/>
<path color=#d6ff29 d="M1239 2572l6-2-18-7-7 2z"/>
<path color=#ff8c00 d="M1569 2454l37-16 0 6-38 17z"/>
<path color=#fff400 d="M980 2531l31-1-9-6-31 1z"/>
<path color=#ccff33 d="M1454 2581l32-9-6-1-32 8z"/>
<path color=#ff2600 d="M744 2354l4 22 1 7-4-12z"/>
<path color=#ff6e00 d="M741 2437l0-27 0 7 0 23z"/>
<path color=#ff4400 d="M740 2408l0-23 0-6 0 26z"/>
<path color=#ff2e00 d="M740 2381l0-24 1 20 0 18z"/>
<path color=#ffc000 d="M379 2486l100-6 7 12-99 2z"/>
<path color=#ffc000 d="M644 2483l43-4 10 15-42 3z"/>
<path color=#ff6500 d="M756 2425l18 4-3-14-19-7z"/>
<path color=#ff6f00 d="M741 2438l0-27 0 8 0 22z"/>
<path color=#ff7700 d="M776 2434l13 3-2-5-13-3z"/>
<path color=#ff9c00 d="M745 2473l0-24-1 2 0 22z"/>
<path color=#e2ff1d d="M1102 2567l28-4-20-12-29 4z"/>
<path color=#ffc000 d="M874 2497l32 0-12-14-34-2z"/>
<path color=#d5ff2a d="M1280 2571l12-4-1 0-12 4z"/>
<path color=#b02a2f d="M749 2262l3 27 0 9-3-25z"/>
<path color=#ff7900 d="M742 2448l0-20 0-8 0 23z"/>
<path color=#d6ff29 d="M1271 2574l8-3-17-6-8 2z"/>
<path color=#d1ff2e d="M1399 2578l23-8-7-2-22 7z"/>
<path color=#d3ff2c d="M1353 2577l23-7-13-5-24 7z"/>
<path color=#b02a2f d="M749 2289l0-27 0 11 0 26z"/>
<path color=#ff6f00 d="M742 2443l0-22-1-10 0 27z"/>
<path color=#ff8300 d="M1569 2451l38-16-1 3-37 16z"/>
<path color=#b02a2f d="M749 2275l3 24 0-10-3-27z"/>
<path color=#ffcd00 d="M1538 2501l29-11 0 10-30 11z"/>
<path color=#f4ff0b d="M1505 2548l30-9-1 7-30 9z"/>
<path color=#ff7b00 d="M742 2452l0-17 0-16 0 24z"/>
<path color=#f3ff0c d="M1044 2552l29-2-12-8-30 2z"/>
<path color=#ff9900 d="M745 2474l0-30 0 5 0 24z"/>
<path color=#ccff33 d="M1460 2583l31-10-5-1-32 9z"/>
<path color=#ff8100 d="M1569 2451l38-16 0 0-38 16z"/>
<path color=#ff9a00 d="M745 2474l0-26 0 1 0 25z"/>
<path color=#b02a2f d="M749 2300l0-25 0-13 0 27z"/>
<path color=#ff3d00 d="M740 2408l0-24 0-14 0 29z"/>
<path color=#d7ff28 d="M1189 2575l13-4-19-8-13 4z"/>
<path color=#d6ff29 d="M1231 2575l8-3-19-7-8 2z"/>
<path color=#ff6f00 d="M742 2443l0-23 0-8 0 27z"/>
<path color=#ff4700 d="M741 2392l11 15 0-2-12-14z"/>
<path color=#ff9a00 d="M745 2475l0-25 0-2 0 26z"/>
<path color=#ff8900 d="M800 2459l12 0-10-19-13-3z"/>
<path color=#ff6600 d="M741 2436l0-30 0 5 0 27z"/>
<path color=#ffa000 d="M746 2476l0-17 0-4 0 21z"/>
<path color=#ff6600 d="M741 2438l0-27 0-5 0 30z"/>
<path color=#ff2100 d="M746 2356l3 22 0 4-3-17z"/>
<path color=#ff9d00 d="M746 2476l0-21 0-4 0 24z"/>
<path color=#d6ff29 d="M1268 2575l3-1-17-7-4 1z"/>
<path color=#ff4900 d="M747 2387l5 22 0-2-6-8z"/>
<path color=#ff9900 d="M746 2475l0-24-1-6 0 30z"/>
<path color=#ffc000 d="M248 2489l56 0 7 5-60-4z"/>
<path color=#ffc000 d="M304 2489l75-3 8 8-76 0z"/>
<path color=#ff4b00 d="M741 2415l0-23-1-1 0 23z"/>
<path color=#ff5400 d="M741 2414l0-25 0 20 0 18z"/>
<path color=#d5ff2a d="M1295 2577l12-4-15-6-12 4z"/>
<path color=#d5ff2a d="M1322 2578l17-6-14-5-18 6z"/>
<path color=#ffc000 d="M577 2487l67-4 11 14-65 3z"/>
<path color=#d1ff2e d="M1410 2581l22-7-10-4-23 8z"/>
<path color=#ff9900 d="M815 2464l17 1-3-4-17-2z"/>
<path color=#d8ff27 d="M1150 2573l20-6-1 0-19 6z"/>
<path color=#ceff31 d="M1465 2583l31-10-5 0-31 10z"/>
<path color=#ff4700 d="M749 2388l3 21 0 0-4-15z"/>
<path color=#d5ff2a d="M1272 2574l8-3-1 0-8 3z"/>
<path color=#ff7700 d="M743 2449l0-21-1-4 0 22z"/>
<path color=#d6ff29 d="M1262 2576l6-1-18-7-5 2z"/>
<path color=#ff9b00 d="M747 2478l0-20-1-11 0 29z"/>
<path color=#fffc00 d="M1506 2539l30-9-1 9-30 9z"/>
<path color=#ff5200 d="M741 2417l0-24 0 11 0 19z"/>
<path color=#ff7d00 d="M744 2450l0-23-1 11 0 17z"/>
<path color=#ffbc00 d="M1538 2492l29-11 0 9-29 11z"/>
<path color=#ff2100 d="M746 2369l3 16 0-6-3-22z"/>
<path color=#d6ff29 d="M1220 2578l11-3-19-8-10 4z"/>
<path color=#d3ff2c d="M1365 2582l23-8-12-4-23 7z"/>
<path color=#ff2600 d="M744 2379l4 12 0-11-4-22z"/>
<path color=#ff4100 d="M749 2383l3 27 0-1-3-21z"/>
<path color=#ffa500 d="M827 2482l33-1-11-14-34-3z"/>
<path color=#ffc000 d="M251 2490l60 4 13 4-68-7z"/>
<path color=#ff3500 d="M740 2408l0-17 0-25 0 23z"/>
<path color=#ff3100 d="M740 2391l6 7 0-13-6-19z"/>
<path color=#ff2e00 d="M740 2403l0-18 0-25 0 24z"/>
<path color=#ff4200 d="M750 2383l3 27-1 0-2-20z"/>
<path color=#f0ff0f d="M1052 2557l29-2-8-5-29 2z"/>
<path color=#ffc500 d="M878 2501l32-1-4-3-32 0z"/>
<path color=#ff4300 d="M750 2387l3 24 0-1-3-21z"/>
<path color=#ff1700 d="M746 2352l3 24 0 2-3-22z"/>
<path color=#ff7c00 d="M744 2451l0-21 0 6 0 18z"/>
<path color=#fff900 d="M1002 2546l29-2-20-14-31 1z"/>
<path color=#d6ff29 d="M1268 2575l4-1-1 0-3 1z"/>
<path color=#d3ff2c d="M1469 2580l31-10-4 3-31 10z"/>
<path color=#ff4300 d="M750 2389l3 22 0 0-3-24z"/>
<path color=#d6ff29 d="M1256 2579l6-3-17-6-6 2z"/>
<path color=#ff1700 d="M746 2357l3 22 0-3-3-24z"/>
<path color=#d0ff2f d="M1418 2584l22-8-8-2-22 7z"/>
<path color=#ff9700 d="M748 2479l0-29-1-2 0 30z"/>
<path color=#ff4200 d="M750 2392l3 20 0-1-3-27z"/>
<path color=#d5ff2a d="M1288 2579l7-2-15-6-8 3z"/>
<path color=#ffe200 d="M941 2526l30-1-11-8-31 0z"/>
<path color=#ff9d00 d="M749 2480l0-25-1 5 0 19z"/>
<path color=#ff0600 d="M740 2332l4 22 1 17-4-12z"/>
<path color=#ff4800 d="M749 2399l4 14 0-1-4-20z"/>
<path color=#ff0800 d="M740 2357l0-25 1 27 0 18z"/>
<path color=#ffc000 d="M486 2492l91-5 13 13-90 2z"/>
<path color=#d8ff27 d="M1170 2581l19-6-19-8-20 6z"/>
<path color=#d6ff29 d="M1263 2577l5-2 0 0-6 1z"/>
<path color=#ff6900 d="M758 2432l18 2-2-5-18-4z"/>
<path color=#ff4200 d="M749 2392l4 20 0 0-4-27z"/>
<path color=#ff9f00 d="M750 2481l0-22-1 4 0 18z"/>
<path color=#ffad00 d="M1539 2483l29-10-1 8-29 11z"/>
<path color=#ff1900 d="M740 2379l0-25 0 6 0 24z"/>
<path color=#ff8000 d="M788 2459l12 0-11-22-13-3z"/>
<path color=#d2ff2d d="M1370 2583l23-8-5-1-23 8z"/>
<path color=#ff5300 d="M742 2428l0-19 0-12 0 23z"/>
<path color=#deff21 d="M1123 2578l27-5-20-10-28 4z"/>
<path color=#ffeb00 d="M1507 2530l30-10-1 10-30 9z"/>
<path color=#ff4a00 d="M748 2408l6 7-1-2-5-21z"/>
<path color=#ffc000 d="M256 2491l68 7 18 4-78-9z"/>
<path color=#ff7400 d="M745 2449l0-25-1 6 0 21z"/>
<path color=#ff4200 d="M741 2410l0-27 0 10 0 24z"/>
<path color=#ff5700 d="M742 2435l0-17 0-23 0 24z"/>
<path color=#d4ff2b d="M1336 2583l17-6-14-5-17 6z"/>
<path color=#ff1900 d="M740 2385l0-24 0-7 0 25z"/>
<path color=#ff9800 d="M749 2481l0-30 0 4 0 25z"/>
<path color=#ff4400 d="M741 2411l0-27 0 13 0 22z"/>
<path color=#ff0e00 d="M740 2369l0-28 0 16 0 24z"/>
<path color=#d6ff29 d="M1249 2581l7-2-17-7-8 3z"/>
<path color=#d5ff2a d="M1310 2582l12-4-15-5-12 4z"/>
<path color=#d5ff2a d="M1284 2581l4-2-16-5-4 1z"/>
<path color=#ff9b00 d="M750 2482l0-26 0 3 0 22z"/>
<path color=#ff7e00 d="M746 2459l0-18 0-7 0 21z"/>
<path color=#ffc000 d="M311 2494l76 0 15 8-78-4z"/>
<path color=#d7ff28 d="M1208 2582l12-4-18-7-13 4z"/>
<path color=#d0ff2f d="M1426 2587l22-8-8-3-22 8z"/>
<path color=#deff21 d="M1472 2573l31-11-3 8-31 10z"/>
<path color=#d6ff29 d="M1257 2579l6-2-1-1-6 3z"/>
<path color=#ff9b00 d="M751 2482l0-26-1 4 0 22z"/>
<path color=#ffc000 d="M387 2494l99-2 14 10-98 0z"/>
<path color=#ff4400 d="M742 2421l0-22-1-15 0 27z"/>
<path color=#d2ff2d d="M1377 2586l22-8-6-3-23 8z"/>
<path color=#ff2b00 d="M741 2364l6 23-1 12-5-7z"/>
<path color=#ff7500 d="M746 2455l0-21 0-8 0 25z"/>
<path color=#fd0101 d="M743 2334l3 22 0 9-3-16z"/>
<path color=#ff2f00 d="M741 2389l0-25 0 28 0 17z"/>
<path color=#d5ff2a d="M1279 2582l5-1-16-6-5 2z"/>
<path color=#ff4300 d="M742 2420l0-23 0-12 0 27z"/>
<path color=#ff9800 d="M751 2483l0-29 0 2 0 26z"/>
<path color=#ff6d00 d="M745 2448l0-27 0 4 0 24z"/>
<path color=#ff9d00 d="M752 2484l0-22-1-3 0 24z"/>
<path color=#ff9a00 d="M751 2483l0-24 0-3 0 27z"/>
<path color=#ff4b00 d="M743 2406l11 12 0-3-12-13z"/>
<path color=#ffc000 d="M264 2493l78 9 22 4-90-12z"/>
<path color=#ff0e00 d="M740 2384l0-24 0-18 0 28z"/>
<path color=#ff9800 d="M751 2483l0-27 0-2 0 29z"/>
<path color=#ff6d00 d="M745 2450l0-25 0-4 0 27z"/>
<path color=#ff6900 d="M745 2444l0-29 0 9 0 25z"/>
<path color=#ecff13 d="M1074 2570l28-3-21-12-29 2z"/>
<path color=#ff9f00 d="M753 2485l0-17-1-5 0 21z"/>
<path color=#ff5b00 d="M744 2427l0-22-1 17 0 16z"/>
<path color=#ff4e00 d="M750 2401l5 19-1-2-5-6z"/>
<path color=#ff9c00 d="M752 2484l0-21 0-5 0 26z"/>
<path color=#ffb700 d="M725 2490l25-8 14 13-24 8z"/>
<path color=#ff2500 d="M745 2368l4 20-1 6-3-15z"/>
<path color=#ffe600 d="M950 2533l30-2-9-6-30 1z"/>
<path color=#d0ff2f d="M1433 2589l21-8-6-2-22 8z"/>
<path color=#ff5000 d="M743 2428l0-22-1-4 0 22z"/>
<path color=#ff9a00 d="M1539 2470l29-9 0 12-29 10z"/>
<path color=#ffda00 d="M1507 2520l30-9 0 9-30 10z"/>
<path color=#ffcc00 d="M898 2519l31-2-19-17-32 1z"/>
<path color=#d6ff29 d="M1238 2584l11-3-18-6-11 3z"/>
<path color=#dbff24 d="M1123 2578l27-5 0 0-27 5z"/>
<path color=#ffbe00 d="M697 2494l28-4 15 13-27 4z"/>
<path color=#ff3500 d="M741 2406l0-29 0 7 0 27z"/>
<path color=#d6ff29 d="M1249 2581l8-2-1 0-7 2z"/>
<path color=#ff6900 d="M746 2451l0-25-1-11 0 30z"/>
<path color=#ff2c00 d="M741 2393l0-23 0 14 0 20z"/>
<path color=#ff3500 d="M741 2411l0-27 0-7 0 29z"/>
<path color=#ff4d00 d="M752 2403l3 18 0-1-4-12z"/>
<path color=#d5ff2a d="M1303 2585l7-3-15-5-7 2z"/>
<path color=#ff8d00 d="M791 2464l24 0-3-5-24 0z"/>
<path color=#d6ff29 d="M1273 2584l6-2-16-5-6 2z"/>
<path color=#d2ff2d d="M1387 2589l23-8-11-3-22 8z"/>
<path color=#ff7000 d="M747 2458l0-20-1-20 0 29z"/>
<path color=#fd0101 d="M743 2352l3 17 0-12-3-22z"/>
<path color=#ff5a00 d="M744 2430l0-21 0 9 0 18z"/>
<path color=#ecff13 d="M1473 2567l31-12-1 7-31 11z"/>
<path color=#ff0600 d="M740 2366l4 13 0-21-4-22z"/>
<path color=#d4ff2b d="M1349 2587l16-5-12-5-17 6z"/>
<path color=#ffff00 d="M1015 2555l29-3-13-8-29 2z"/>
<path color=#ff0800 d="M740 2385l0-19 0-30 0 24z"/>
<path color=#ff9e00 d="M754 2487l0-18 0-7 0 24z"/>
<path color=#ff9a00 d="M754 2486l0-24-1-6 0 29z"/>
<path color=#ffc000 d="M655 2497l42-3 16 13-40 2z"/>
<path color=#d0ff2f d="M1439 2591l21-8-6-2-21 8z"/>
<path color=#ff4900 d="M752 2398l4 24-1-1-3-18z"/>
<path color=#d5ff2a d="M1325 2587l11-4-14-5-12 4z"/>
<path color=#ffaf00 d="M842 2498l32-1-14-16-33 1z"/>
<path color=#ff4a00 d="M753 2399l3 25 0-2-3-18z"/>
<path color=#ffc000 d="M274 2494l90 12 27 4-103-14z"/>
<path color=#d5ff2a d="M1299 2586l4-1-15-6-4 2z"/>
<path color=#d7ff28 d="M1189 2588l19-6-19-7-19 6z"/>
<path color=#ffc000 d="M324 2498l78 4 22 6-82-6z"/>
<path color=#ff7600 d="M749 2455l0-24-1 9 0 20z"/>
<path color=#ff7c00 d="M750 2459l0-22-1 8 0 18z"/>
<path color=#ff1900 d="M748 2362l2 25 0 2-2-22z"/>
<path color=#ff7400 d="M771 2457l17 2-12-25-18-2z"/>
<path color=#ff4c00 d="M754 2408l2 18 0-1-3-25z"/>
<path color=#ff2700 d="M746 2385l3 14 0-7-4-20z"/>
<path color=#ff5200 d="M753 2415l4 13 0-1-4-19z"/>
<path color=#d6ff29 d="M1265 2587l8-3-16-5-8 2z"/>
<path color=#ff1900 d="M748 2368l2 21 0-2-2-25z"/>
<path color=#ff1700 d="M747 2356l3 27 0 7-3-21z"/>
<path color=#d6ff29 d="M1239 2585l10-4 0 0-11 3z"/>
<path color=#ff4600 d="M753 2397l3 27 0 0-3-25z"/>
<path color=#ec0b0d d="M743 2327l3 25 0 4-3-22z"/>
<path color=#ff1500 d="M745 2356l4 27 0 5-4-20z"/>
<path color=#ff2e00 d="M742 2409l0-19 0-16 0 23z"/>
<path color=#ff8800 d="M1539 2463l30-9-1 7-29 9z"/>
<path color=#ff4700 d="M753 2400l3 25 0-1-3-27z"/>
<path color=#ff2f00 d="M742 2402l6 6 0-16-6-21z"/>
<path color=#daff25 d="M1144 2587l26-6-20-8-27 5z"/>
<path color=#ff5500 d="M752 2424l6 6-1-2-5-20z"/>
<path color=#ff3300 d="M742 2418l0-16 0-31 0 24z"/>
<path color=#ff4c00 d="M753 2408l4 19-1-1-3-24z"/>
<path color=#ffc800 d="M1508 2510l30-9-1 10-30 9z"/>
<path color=#f8ff07 d="M1475 2560l30-12-1 7-31 12z"/>
<path color=#d2ff2d d="M1444 2591l21-8-5 0-21 8z"/>
<path color=#ff5c00 d="M746 2441l0-17 0-11 0 21z"/>
<path color=#ff9a00 d="M757 2489l0-24-3-5 0 27z"/>
<path color=#d4ff2b d="M1354 2589l16-6-5-1-16 5z"/>
<path color=#d2ff2d d="M1397 2592l21-8-8-3-23 8z"/>
<path color=#ec0b0d d="M743 2335l3 22 0-5-3-25z"/>
<path color=#d6ff29 d="M1226 2588l12-4-18-6-12 4z"/>
<path color=#d5ff2a d="M1295 2588l4-2-15-5-5 1z"/>
<path color=#ffc000 d="M590 2500l65-3 18 12-64 2z"/>
<path color=#ff4b00 d="M745 2424l0-25-1 10 0 21z"/>
<path color=#ff1700 d="M747 2372l3 20 0-8-3-27z"/>
<path color=#ed0b0c d="M740 2354l0-26 0 8 0 24z"/>
<path color=#ffa000 d="M759 2491l0-22-2 4 0 16z"/>
<path color=#fbff04 d="M1024 2560l28-3-8-5-29 3z"/>
<path color=#ed0b0c d="M740 2361l0-24 0-9 0 26z"/>
<path color=#ff1600 d="M741 2383l0-27 0 14 0 23z"/>
<path color=#ff6300 d="M748 2450l0-29-1-3 0 30z"/>
<path color=#ff1800 d="M741 2384l0-27 0 17 0 23z"/>
<path color=#ff7f00 d="M1539 2460l30-9 0 3-30 9z"/>
<path color=#ff5b00 d="M754 2420l5 15 0-1-5-7z"/>
<path color=#ff7100 d="M750 2456l0-26 0 7 0 22z"/>
<path color=#d5ff2a d="M1318 2590l7-3-15-5-7 3z"/>
<path color=#ff9500 d="M804 2481l23 1-12-18-24 0z"/>
<path color=#ff1700 d="M745 2372l4 20 0-7-4-26z"/>
<path color=#d4ff2b d="M1361 2591l16-5-7-3-16 6z"/>
<path color=#ffed00 d="M973 2548l29-2-22-15-30 2z"/>
<path color=#ff7c00 d="M1539 2459l30-8 0 0-30 9z"/>
<path color=#e11215 d="M740 2341l0-29 0 20 0 25z"/>
<path color=#ffc000 d="M288 2496l103 14 33 6-117-17z"/>
<path color=#ff5700 d="M748 2421l11 13-1-4-11-12z"/>
<path color=#d6ff29 d="M1448 2589l21-9-4 3-21 8z"/>
<path color=#d5ff2a d="M1289 2590l6-2-16-6-6 2z"/>
<path color=#ff7100 d="M751 2456l0-27-1 10 0 21z"/>
<path color=#ff6800 d="M749 2451l0-30 0 10 0 24z"/>
<path color=#d6ff29 d="M1256 2590l9-3-16-6-10 4z"/>
<path color=#ff7d00 d="M753 2468l0-18-1-9 0 22z"/>
<path color=#ffc000 d="M402 2502l98 0 22 9-98-3z"/>
<path color=#ff3900 d="M744 2405l0-23-1 24 0 16z"/>
<path color=#ff3500 d="M744 2382l6 19-1 11-6-6z"/>
<path color=#ff4d00 d="M746 2434l0-21 0-11 0 24z"/>
<path color=#ffc000 d="M500 2502l90-2 19 11-87 0z"/>
<path color=#ff1900 d="M742 2399l0-22-1-20 0 27z"/>
<path color=#d5ff2a d="M1338 2591l11-4-13-4-11 4z"/>
<path color=#db1519 d="M740 2312l3 22 0 15-3-17z"/>
<path color=#d2ff2d d="M1405 2595l21-8-8-3-21 8z"/>
<path color=#e6ff19 d="M1096 2581l27-3-21-11-28 3z"/>
<path color=#ff7500 d="M752 2462l0-21-1-6 0 24z"/>
<path color=#fff700 d="M1476 2551l30-12-1 9-30 12z"/>
<path color=#ffb600 d="M846 2502l32-1-4-4-32 1z"/>
<path color=#ffb700 d="M1508 2500l30-8 0 9-30 9z"/>
<path color=#ffd400 d="M911 2528l30-2-12-9-31 2z"/>
<path color=#d6ff29 d="M1227 2589l12-4-1-1-12 4z"/>
<path color=#ff1700 d="M742 2397l0-23 0-15 0 26z"/>
<path color=#ff5500 d="M755 2414l5 22-1-1-5-15z"/>
<path color=#ff9a00 d="M760 2492l0-30-1 7 0 22z"/>
<path color=#ff5700 d="M757 2415l3 22 0-1-4-15z"/>
<path color=#ff2f00 d="M748 2384l4 19-1 5-3-13z"/>
<path color=#ff0400 d="M741 2347l4 21 0 11-4-15z"/>
<path color=#d5ff2a d="M1314 2591l4-1-15-5-4 1z"/>
<path color=#ff0600 d="M741 2370l0-23 0 17 0 20z"/>
<path color=#ff7200 d="M752 2463l0-22 0-9 0 26z"/>
<path color=#ff3700 d="M744 2409l0-22 0 13 0 18z"/>
<path color=#ff6e00 d="M751 2459l0-24 0-5 0 26z"/>
<path color=#ff3f00 d="M745 2421l0-27 0 6 0 25z"/>
<path color=#ff3f00 d="M745 2425l0-24 0-7 0 27z"/>
<path color=#ffc000 d="M342 2502l82 6 26 6-86-8z"/>
<path color=#ff9b00 d="M761 2492l0-26-1 4 0 22z"/>
<path color=#e11215 d="M740 2360l0-24 0-23 0 29z"/>
<path color=#ff7a00 d="M754 2469l0-18 0-12 0 23z"/>
<path color=#ff6700 d="M751 2454l0-29 0 4 0 27z"/>
<path color=#d5ff2a d="M1281 2592l8-2-16-6-8 3z"/>
<path color=#ff3900 d="M745 2415l0-30 0 14 0 25z"/>
<path color=#d3ff2c d="M1372 2595l15-6-10-3-16 5z"/>
<path color=#ff6700 d="M751 2456l0-26 0-5 0 29z"/>
<path color=#db1519 d="M740 2336l3 16 0-17-3-22z"/>
<path color=#ff5100 d="M757 2409l4 29-1-1-3-22z"/>
<path color=#d1ff2e d="M1412 2597l21-8-7-2-21 8z"/>
<path color=#d5ff2a d="M1309 2592l5-1-15-5-4 2z"/>
<path color=#ff9900 d="M761 2493l0-28 0 1 0 26z"/>
<path color=#e0ff1f d="M1452 2582l20-9-3 7-21 9z"/>
<path color=#ff5200 d="M758 2410l3 29 0-1-3-22z"/>
<path color=#ff4600 d="M747 2438l0-20-1-29 0 29z"/>
<path color=#d7ff28 d="M1208 2594l18-6-18-6-19 6z"/>
<path color=#ff5300 d="M759 2413l2 26 0 0-2-23z"/>
<path color=#d4ff2b d="M1342 2593l12-4-5-2-11 4z"/>
<path color=#ff8000 d="M774 2461l17 3-3-5-17-2z"/>
<path color=#ff5400 d="M759 2417l3 23-1-1-2-26z"/>
<path color=#ff3a00 d="M746 2426l0-24-1-16 0 29z"/>
<path color=#ff9900 d="M762 2494l0-26-1-3 0 28z"/>
<path color=#ff0300 d="M741 2377l0-29 0 9 0 27z"/>
<path color=#ff5900 d="M750 2437l0-22-1 12 0 18z"/>
<path color=#ff5600 d="M760 2420l2 21 0-1-3-25z"/>
<path color=#ff3400 d="M750 2402l3 13 0-7-4-18z"/>
<path color=#ff0400 d="M741 2384l0-27 0-9 0 29z"/>
<path color=#d5ff2a d="M1331 2594l7-3-13-4-7 3z"/>
<path color=#ff5c00 d="M760 2428l3 15 0-1-4-21z"/>
<path color=#ff3d00 d="M747 2418l5 6 0-16-6-19z"/>
<path color=#d6ff29 d="M1243 2594l13-4-17-5-12 4z"/>
<path color=#ffc000 d="M307 2499l117 17 37 5-131-19z"/>
<path color=#f6ff09 d="M1047 2572l27-2-22-13-28 3z"/>
<path color=#ff5200 d="M759 2415l3 25 0 0-3-29z"/>
<path color=#e3ff1c d="M1096 2581l27-3 0 0-27 3z"/>
<path color=#ff6400 d="M760 2440l5 6-1-1-5-15z"/>
<path color=#d8ff27 d="M1164 2596l25-8-19-7-26 6z"/>
<path color=#ff6c00 d="M754 2462l0-23-1-12 0 29z"/>
<path color=#ff3b00 d="M746 2424l0-17 0-15 0 21z"/>
<path color=#ff4f00 d="M749 2431l0-25-1 15 0 19z"/>
<path color=#ffe700 d="M1476 2542l31-12-1 9-30 12z"/>
<path color=#ffa600 d="M1509 2491l30-8-1 9-30 8z"/>
<path color=#ff9c00 d="M765 2496l0-22-3-6 0 26z"/>
<path color=#ff0700 d="M742 2371l4 14-1-13-3-21z"/>
<path color=#ff2300 d="M750 2375l3 24 0 5-3-18z"/>
<path color=#ff0900 d="M742 2390l0-19 0-20 0 23z"/>
<path color=#ff5500 d="M759 2421l4 21-1-1-3-28z"/>
<path color=#ff2100 d="M748 2374l4 24 0 5-4-19z"/>
<path color=#d2ff2d d="M1418 2599l21-8-6-2-21 8z"/>
<path color=#ff5c00 d="M759 2430l5 15-1-2-5-22z"/>
<path color=#d5ff2a d="M1303 2595l6-3-14-4-6 2z"/>
<path color=#d4ff2b d="M1350 2595l11-4-7-2-12 4z"/>
<path color=#ff4600 d="M749 2406l5 14 0 7-6-6z"/>
<path color=#ff7e00 d="M759 2469l0-22-2 10 0 16z"/>
<path color=#ffd900 d="M920 2535l30-2-9-7-30 2z"/>
<path color=#ff2500 d="M751 2389l3 19-1-8-2-24z"/>
<path color=#d6ff29 d="M1272 2596l9-4-16-5-9 3z"/>
<path color=#d3ff2c d="M1381 2598l16-6-10-3-15 6z"/>
<path color=#f0090b d="M746 2338l2 24 0 5-2-21z"/>
<path color=#d5ff2a d="M1327 2595l4-1-13-4-4 1z"/>
<path color=#f0090b d="M746 2346l2 22 0-6-2-24z"/>
<path color=#fff400 d="M987 2557l28-2-13-9-29 2z"/>
<path color=#ffbd00 d="M868 2519l30 0-20-18-32 1z"/>
<path color=#ff2300 d="M745 2399l0-24-1 12 0 22z"/>
<path color=#edff12 d="M1453 2576l20-9-1 6-20 9z"/>
<path color=#ffb700 d="M740 2503l24-8 19 12-23 8z"/>
<path color=#ff2500 d="M749 2390l4 18 0-6-4-25z"/>
<path color=#ffbe00 d="M713 2507l27-4 20 12-26 3z"/>
<path color=#ec0c0d d="M744 2329l3 27 0 13-3-20z"/>
<path color=#d7ff28 d="M1209 2595l18-6-1-1-18 6z"/>
<path color=#ff6d00 d="M757 2465l0-24-3-8 0 27z"/>
<path color=#c42429 d="M740 2303l3 24 0 7-3-22z"/>
<path color=#ff6400 d="M757 2441l10 10-2-5-11-13z"/>
<path color=#ff5b00 d="M753 2450l0-17-1-13 0 21z"/>
<path color=#d5ff2a d="M1336 2595l6-2-4-2-7 3z"/>
<path color=#d3ff2c d="M1423 2599l21-8-5 0-21 8z"/>
<path color=#ff6a00 d="M764 2439l5 14-2-2-5-5z"/>
<path color=#c42329 d="M740 2328l0-25 0 9 0 24z"/>
<path color=#c42429 d="M740 2313l3 22 0-8-3-24z"/>
<path color=#e90d0f d="M741 2329l4 27 0 12-4-21z"/>
<path color=#ffa100 d="M820 2496l22 2-15-16-23-1z"/>
<path color=#ff9800 d="M1509 2484l30-8 0 7-30 8z"/>
<path color=#ffc000 d="M364 2506l86 8 32 6-91-10z"/>
<path color=#ff9b00 d="M770 2499l0-20-5-12 0 29z"/>
<path color=#ff1700 d="M751 2369l2 28 0 2-3-24z"/>
<path color=#d5ff2a d="M1296 2597l7-2-14-5-8 2z"/>
<path color=#e1ff1e d="M1118 2591l26-4-21-9-27 3z"/>
<path color=#c42329 d="M740 2337l0-24 0-10 0 25z"/>
<path color=#d5ff2a d="M1323 2597l4-2-13-4-5 1z"/>
<path color=#ff1700 d="M751 2376l2 24 0-3-2-28z"/>
<path color=#ed0b0d d="M744 2352l3 20 0-15-3-27z"/>
<path color=#ff4700 d="M750 2430l0-26 0 11 0 22z"/>
<path color=#ffc000 d="M673 2509l40-2 21 11-39 2z"/>
<path color=#ed0b0d d="M741 2357l0-27 0 22 0 22z"/>
<path color=#ffc000 d="M424 2508l98 3 26 9-98-6z"/>
<path color=#ea0d0f d="M741 2356l0-27 0 18 0 23z"/>
<path color=#d4ff2b d="M1361 2599l11-4-11-4-11 4z"/>
<path color=#ff2500 d="M746 2413l0-21 0-14 0 24z"/>
<path color=#ffd500 d="M1477 2532l30-12 0 10-31 12z"/>
<path color=#ff8700 d="M788 2478l16 3-13-17-17-3z"/>
<path color=#ff4600 d="M751 2429l0-26-1 14 0 22z"/>
<path color=#d3ff2c d="M1390 2600l15-5-8-3-16 6z"/>
<path color=#ff1200 d="M744 2366l4 18 0 11-4-13z"/>
<path color=#ff1400 d="M744 2387l0-21 0 16 0 18z"/>
<path color=#ff4d00 d="M752 2441l0-21-1-8 0 23z"/>
<path color=#d5ff2a d="M1343 2598l7-3-8-2-6 2z"/>
<path color=#ed0b0c d="M742 2377l0-23-1-24 0 27z"/>
<path color=#d5ff2a d="M1332 2597l4-2-5-1-4 1z"/>
<path color=#f9ff06 d="M1454 2569l21-9-2 7-20 9z"/>
<path color=#d7ff28 d="M1428 2597l20-8-4 2-21 8z"/>
<path color=#ffc000 d="M330 2502l131 19 42 7-143-21z"/>
<path color=#ff3400 d="M753 2393l4 22-1 6-3-15z"/>
<path color=#eb0c0e d="M742 2351l3 21 0-13-3-27z"/>
<path color=#ffc000 d="M609 2511l64-2 22 11-61 1z"/>
<path color=#ff5600 d="M754 2451l0-18 0-17 0 23z"/>
<path color=#d6ff29 d="M1226 2600l17-6-16-5-18 6z"/>
<path color=#d6ff29 d="M1260 2600l12-4-16-6-13 4z"/>
<path color=#ff3800 d="M749 2421l0-30 0 15 0 25z"/>
<path color=#d5ff2a d="M1317 2599l6-2-14-5-6 3z"/>
<path color=#ff8d00 d="M1509 2478l30-8 0 6-30 8z"/>
<path color=#ff4900 d="M752 2441l0-21 0-13 0 25z"/>
<path color=#ff6200 d="M765 2430l5 26-1-3-5-14z"/>
<path color=#eb0c0e d="M742 2374l0-23 0-19 0 27z"/>
<path color=#ff3200 d="M749 2391l6 23-1 6-5-14z"/>
<path color=#fff800 d="M996 2562l28-2-9-5-28 2z"/>
<path color=#ff4f00 d="M754 2433l6 7-1-10-5-14z"/>
<path color=#ffc000 d="M522 2511l87 0 25 10-86-1z"/>
<path color=#ff6d00 d="M760 2462l0-29-1 14 0 22z"/>
<path color=#ff6400 d="M768 2434l3 23-1-1-3-18z"/>
<path color=#ff4200 d="M751 2435l0-23 0-9 0 27z"/>
<path color=#ff7100 d="M761 2466l0-26-1 8 0 22z"/>
<path color=#d5ff2a d="M1328 2598l4-1-5-2-4 2z"/>
<path color=#d5ff2a d="M1287 2600l9-3-15-5-9 4z"/>
<path color=#ff1200 d="M745 2394l0-27 0 8 0 25z"/>
<path color=#ff3600 d="M750 2415l0-21-1 15 0 18z"/>
<path color=#d7ff28 d="M1183 2602l25-8-19-6-25 8z"/>
<path color=#d3ff2c d="M1397 2603l15-6-7-2-15 5z"/>
<path color=#d5ff2a d="M1340 2599l3-1-7-3-4 2z"/>
<path color=#ff1700 d="M746 2389l4 13-1-12-3-19z"/>
<path color=#ff1200 d="M745 2401l0-25 0-9 0 27z"/>
<path color=#ff1900 d="M746 2407l0-18 0-18 0 21z"/>
<path color=#ffe000 d="M944 2550l29-2-23-15-30 2z"/>
<path color=#d4ff2b d="M1370 2602l11-4-9-3-11 4z"/>
<path color=#f0ff0f d="M1069 2584l27-3-22-11-27 2z"/>
<path color=#ff6100 d="M768 2431l3 26 0 0-3-23z"/>
<path color=#ff9b00 d="M777 2504l0-19-7-15 0 29z"/>
<path color=#d5ff2a d="M1354 2601l7-2-11-4-7 3z"/>
<path color=#ff3a00 d="M756 2414l4 14-1-7-3-22z"/>
<path color=#ff6200 d="M769 2436l3 23-1-2-3-26z"/>
<path color=#ffa700 d="M825 2500l21 2-4-4-22-2z"/>
<path color=#ff5d00 d="M759 2447l0-22-2 16 0 16z"/>
<path color=#ff0900 d="M745 2385l0-30 0 20 0 24z"/>
<path color=#ffc300 d="M1478 2521l30-11-1 10-30 12z"/>
<path color=#ff3600 d="M751 2425l0-29 0 7 0 26z"/>
<path color=#d5ff2a d="M1310 2601l7-2-14-4-7 2z"/>
<path color=#e0ff1f d="M1431 2591l21-9-4 7-20 8z"/>
<path color=#ff3700 d="M751 2430l0-27 0-7 0 29z"/>
<path color=#ff6700 d="M772 2445l3 17-3-3-3-23z"/>
<path color=#ff8000 d="M1510 2470l29-7 0 7-30 8z"/>
<path color=#fff700 d="M1455 2560l21-9-1 9-21 9z"/>
<path color=#d5ff2a d="M1335 2601l5-2-8-2-4 1z"/>
<path color=#ff5600 d="M759 2425l5 14-2 7-5-5z"/>
<path color=#d5ff2a d="M1322 2600l6-2-5-1-6 2z"/>
<path color=#ff6900 d="M761 2465l0-29 0 4 0 26z"/>
<path color=#ff2700 d="M757 2387l2 26 0 3-2-24z"/>
<path color=#ff7200 d="M765 2474l0-21-3-11 0 26z"/>
<path color=#ff0a00 d="M746 2402l0-24-1-22 0 30z"/>
<path color=#ff2700 d="M757 2393l2 24 0-4-2-26z"/>
<path color=#d3ff2c d="M1404 2604l14-5-6-2-15 6z"/>
<path color=#ff2400 d="M756 2381l2 29 0 6-3-21z"/>
<path color=#ff2c00 d="M757 2398l3 22-1-5-2-25z"/>
<path color=#ffc000 d="M391 2510l91 10 35 7-93-11z"/>
<path color=#ff6900 d="M762 2468l0-26-1-6 0 29z"/>
<path color=#ffc600 d="M881 2528l30 0-13-9-30 0z"/>
<path color=#ff2300 d="M754 2381l3 28 0 6-4-22z"/>
<path color=#fb0203 d="M748 2350l2 25 0 11-3-18z"/>
<path color=#ff3e00 d="M754 2439l0-23-1-17 0 28z"/>
<path color=#d31a1e d="M741 2348l0-29 0 11 0 27z"/>
<path color=#ff3900 d="M753 2433l0-17-1-17 0 21z"/>
<path color=#ff3900 d="M754 2416l5 14-1-9-5-22z"/>
<path color=#d5ff2a d="M1351 2602l3-1-11-3-3 1z"/>
<path color=#d41a1e d="M741 2357l0-27 0-11 0 29z"/>
<path color=#f90404 d="M745 2350l3 24 0 10-4-18z"/>
<path color=#ddff22 d="M1139 2600l25-4-20-9-26 4z"/>
<path color=#d4ff2b d="M1379 2604l11-4-9-2-11 4z"/>
<path color=#fd0102 d="M748 2371l3 18 0-13-3-25z"/>
<path color=#d7ff28 d="M1184 2603l25-8-1-1-25 8z"/>
<path color=#ff7700 d="M1510 2467l29-7 0 3-29 7z"/>
<path color=#f90304 d="M745 2375l0-25-1 16 0 21z"/>
<path color=#d5ff2a d="M1330 2603l5-2-7-3-6 2z"/>
<path color=#d6ff29 d="M1275 2605l12-5-15-4-12 4z"/>
<path color=#c82126 d="M744 2314l2 24 0 8-2-22z"/>
<path color=#ff2100 d="M757 2390l2 25 0-4-3-29z"/>
<path color=#edff12 d="M1070 2584l26-3 0 0-27 3z"/>
<path color=#ff6a00 d="M775 2454l5 14-5-6-5-25z"/>
<path color=#ff7400 d="M1510 2466l29-7 0 1-29 7z"/>
<path color=#d4ff2b d="M1409 2605l14-6-5 0-14 5z"/>
<path color=#d6ff29 d="M1243 2605l17-5-17-6-17 6z"/>
<path color=#d4ff2b d="M1364 2604l6-2-9-3-7 2z"/>
<path color=#ff2700 d="M756 2399l3 22 0-8-4-29z"/>
<path color=#d5ff2a d="M1315 2603l7-3-5-1-7 2z"/>
<path color=#c82126 d="M744 2325l2 21 0-8-2-24z"/>
<path color=#fffd00 d="M1020 2574l27-2-23-12-28 2z"/>
<path color=#ffc000 d="M450 2514l98 6 32 7-98-7z"/>
<path color=#d5ff2a d="M1301 2605l9-4-14-4-9 3z"/>
<path color=#ffc000 d="M360 2507l143 21 47 7-153-23z"/>
<path color=#d5ff2a d="M1346 2604l5-2-11-3-5 2z"/>
<path color=#edff12 d="M1432 2585l21-9-1 6-21 9z"/>
<path color=#fc0202 d="M746 2371l3 19 0-13-3-24z"/>
<path color=#ffb100 d="M1478 2512l30-12 0 10-30 11z"/>
<path color=#ff7100 d="M770 2479l0-19-5-21 0 28z"/>
<path color=#ffe600 d="M1456 2551l20-9 0 9-21 9z"/>
<path color=#ff9300 d="M805 2492l15 4-16-15-16-3z"/>
<path color=#fd0102 d="M746 2392l0-21 0-18 0 25z"/>
<path color=#c3242a d="M741 2303l3 26 0 20-3-20z"/>
<path color=#ff1d00 d="M750 2404l0-26 0 16 0 21z"/>
<path color=#ffa100 d="M789 2510l0-17-12-8 0 19z"/>
<path color=#ff7800 d="M782 2471l5 5-7-8-5-14z"/>
<path color=#d4ff2b d="M1387 2607l10-4-7-3-11 4z"/>
<path color=#ff2500 d="M752 2420l0-22-1-10 0 24z"/>
<path color=#c3242a d="M741 2330l0-27 0 26 0 23z"/>
<path color=#ff1c00 d="M751 2403l0-27-1 19 0 22z"/>
<path color=#d5ff2a d="M1323 2605l7-2-8-3-7 3z"/>
<path color=#d5ff2a d="M1361 2605l3-1-10-3-3 1z"/>
<path color=#d7ff28 d="M1202 2608l24-8-17-5-25 8z"/>
<path color=#d8ff27 d="M1413 2603l15-6-5 2-14 6z"/>
<path color=#c42429 d="M742 2332l2 20 0-22-3-27z"/>
<path color=#ffae00 d="M847 2517l21 2-22-17-21-2z"/>
<path color=#ff1200 d="M750 2372l3 21 0 13-4-15z"/>
<path color=#ffcb00 d="M892 2534l28 1-9-7-30 0z"/>
<path color=#d5ff2a d="M1341 2606l5-2-11-3-5 2z"/>
<path color=#ffe800 d="M959 2558l28-1-14-9-29 2z"/>
<path color=#c42329 d="M742 2354l0-22-1-29 0 27z"/>
<path color=#ff1300 d="M750 2394l0-22-1 19 0 18z"/>
<path color=#e80e10 d="M748 2341l3 28-1 6-2-25z"/>
<path color=#d4ff2b d="M1373 2607l6-3-9-2-6 2z"/>
<path color=#e80e10 d="M748 2351l3 25 0-7-3-28z"/>
<path color=#ffbe00 d="M734 2518l26-3 24 11-25 2z"/>
<path color=#eaff15 d="M1092 2594l26-3-22-10-26 3z"/>
<path color=#ff2000 d="M752 2420l0-21 0-18 0 26z"/>
<path color=#d5ff2a d="M1306 2606l9-3-5-2-9 4z"/>
<path color=#f9ff06 d="M1434 2578l20-9-1 7-21 9z"/>
<path color=#ffb700 d="M760 2515l23-8 23 11-22 8z"/>
<path color=#d4ff2b d="M1393 2608l11-4-7-1-10 4z"/>
<path color=#d5ff2a d="M1356 2607l5-2-10-3-5 2z"/>
<path color=#ff3f00 d="M764 2411l4 23-1 4-4-17z"/>
<path color=#ffc000 d="M695 2520l39-2 25 10-37 2z"/>
<path color=#ff4600 d="M761 2440l0-26-1 12 0 22z"/>
<path color=#ff3c00 d="M760 2404l5 26-1 9-5-14z"/>
<path color=#ffa100 d="M1479 2502l30-11-1 9-30 12z"/>
<path color=#ff4000 d="M760 2433l0-29-1 21 0 22z"/>
<path color=#d5ff2a d="M1290 2609l11-4-14-5-12 5z"/>
<path color=#ffc000 d="M548 2520l86 1 29 9-83-3z"/>
<path color=#ff1500 d="M751 2412l0-24 0-11 0 26z"/>
<path color=#ffc000 d="M424 2516l93 11 41 7-97-13z"/>
<path color=#e51012 d="M745 2367l0-26 0 9 0 25z"/>
<path color=#ffd500 d="M1457 2541l20-9-1 10-20 9z"/>
<path color=#ffc000 d="M634 2521l61-1 27 10-59 0z"/>
<path color=#ff1700 d="M753 2399l3 15 0-15-4-22z"/>
<path color=#d4ff2b d="M1369 2608l4-1-9-3-3 1z"/>
<path color=#d5ff2a d="M1334 2609l7-3-11-3-7 2z"/>
<path color=#e50f12 d="M745 2376l0-25 0-10 0 26z"/>
<path color=#d6ff29 d="M1259 2610l16-5-15-5-17 5z"/>
<path color=#daff25 d="M1159 2609l24-7-19-6-25 4z"/>
<path color=#d5ff2a d="M1314 2609l9-4-8-2-9 3z"/>
<path color=#ff7000 d="M777 2485l0-20-7-25 0 30z"/>
<path color=#e1ff1e d="M1417 2597l14-6-3 6-15 6z"/>
<path color=#d4ff2b d="M1380 2609l7-2-8-3-6 3z"/>
<path color=#ff1700 d="M753 2416l0-17-1-22 0 22z"/>
<path color=#ff9900 d="M810 2496l15 4-5-4-15-4z"/>
<path color=#d5ff2a d="M1398 2609l11-4-5-1-11 4z"/>
<path color=#d5ff2a d="M1351 2609l5-2-10-3-5 2z"/>
<path color=#ff4200 d="M768 2428l4 17-3-9-3-23z"/>
<path color=#ff4900 d="M765 2453l0-21-3-16 0 26z"/>
<path color=#ffec00 d="M969 2563l27-1-9-5-28 1z"/>
<path color=#fff700 d="M1435 2570l20-10-1 9-20 9z"/>
<path color=#d5ff2a d="M1365 2610l4-2-8-3-5 2z"/>
<path color=#ff3400 d="M765 2406l3 25 0 3-4-23z"/>
<path color=#da161a d="M745 2355l0-29 0 24 0 25z"/>
<path color=#ff6500 d="M777 2465l5 6-7-17-5-14z"/>
<path color=#ff0500 d="M751 2396l0-29 0 9 0 27z"/>
<path color=#ff7d00 d="M789 2477l9 10-11-11-10-11z"/>
<path color=#ff3500 d="M766 2413l3 23-1-5-3-25z"/>
<path color=#d6191d d="M745 2326l3 24-1 18-2-18z"/>
<path color=#faff05 d="M1044 2586l25-2-22-12-27 2z"/>
<path color=#ff0600 d="M751 2403l0-26 0-10 0 29z"/>
<path color=#ff9f00 d="M798 2514l0-22-9 1 0 17z"/>
<path color=#ffc000 d="M397 2512l153 23 53 7-162-23z"/>
<path color=#ff3900 d="M761 2436l0-28 0 6 0 26z"/>
<path color=#ff9200 d="M1479 2495l30-11 0 7-30 11z"/>
<path color=#d5ff2a d="M1295 2610l11-4-5-1-11 4z"/>
<path color=#fa0304 d="M755 2361l2 26 0 5-2-23z"/>
<path color=#d4ff2b d="M1377 2610l3-1-7-2-4 1z"/>
<path color=#d4ff2b d="M1387 2611l6-3-6-1-7 2z"/>
<path color=#dc1519 d="M746 2378l0-25-1-26 0 29z"/>
<path color=#ff0100 d="M754 2377l3 21 0-8-3-25z"/>
<path color=#ff8100 d="M789 2493l0-16-12-12 0 20z"/>
<path color=#d7ff28 d="M1220 2613l23-8-17-5-24 8z"/>
<path color=#fa0303 d="M755 2370l2 23 0-6-2-26z"/>
<path color=#ffc000 d="M482 2520l98 7 35 8-98-8z"/>
<path color=#ff3900 d="M762 2442l0-26-1-8 0 28z"/>
<path color=#d8ff27 d="M1403 2607l10-4-4 2-11 4z"/>
<path color=#d8181b d="M746 2353l2 18 0-20-3-24z"/>
<path color=#ffd200 d="M917 2548l27 2-24-15-28-1z"/>
<path color=#d5ff2a d="M1325 2612l9-3-11-4-9 4z"/>
<path color=#f60506 d="M753 2352l3 29-1 14-2-21z"/>
<path color=#d5ff2a d="M1344 2612l7-3-10-3-7 3z"/>
<path color=#d9ff26 d="M1160 2609l24-6-1-1-24 7z"/>
<path color=#a42d32 d="M741 2319l0-29 0 13 0 27z"/>
<path color=#d5ff2a d="M1360 2612l5-2-9-3-5 2z"/>
<path color=#f40607 d="M750 2352l4 29-1 12-3-21z"/>
<path color=#ffc200 d="M1458 2530l20-9-1 11-20 9z"/>
<path color=#a42d32 d="M741 2330l0-27 0-13 0 29z"/>
<path color=#a02e32 d="M741 2290l3 24 0 10-3-21z"/>
<path color=#ffb700 d="M862 2525l19 3-13-9-21-2z"/>
<path color=#d4ff2b d="M1373 2612l4-2-8-2-4 2z"/>
<path color=#ff4500 d="M770 2440l5 14-5-17-5-26z"/>
<path color=#a02d32 d="M741 2303l3 22 0-11-3-24z"/>
<path color=#e5ff1a d="M1114 2603l25-3-21-9-26 3z"/>
<path color=#d5ff2a d="M1303 2613l11-4-8-3-11 4z"/>
<path color=#ff4700 d="M770 2460l0-20-5-29 0 28z"/>
<path color=#d5ff2a d="M1392 2611l6-2-5-1-6 3z"/>
<path color=#fd0102 d="M752 2398l0-21-1-13 0 24z"/>
<path color=#d5ff2a d="M1384 2612l3-1-7-2-3 1z"/>
<path color=#f30709 d="M750 2378l0-26 0 20 0 22z"/>
<path color=#d6ff29 d="M1274 2615l16-6-15-4-16 5z"/>
<path color=#f3ff0c d="M1420 2585l14-7-3 13-14 6z"/>
<path color=#ff8600 d="M1479 2488l30-10 0 6-30 11z"/>
<path color=#ffe700 d="M1436 2561l20-10-1 9-20 10z"/>
<path color=#f80405 d="M752 2377l4 22-1-15-3-28z"/>
<path color=#f1080a d="M751 2376l0-27-1 25 0 21z"/>
<path color=#f7ff08 d="M1044 2586l26-2-1 0-25 2z"/>
<path color=#f0090b d="M754 2365l3 25-1-8-2-29z"/>
<path color=#ff9f00 d="M833 2512l14 5-22-17-15-4z"/>
<path color=#e1ff1e d="M1407 2601l10-4-4 6-10 4z"/>
<path color=#ffa100 d="M805 2518l0-21-7 2 0 15z"/>
<path color=#d5ff2a d="M1368 2614l5-2-8-2-5 2z"/>
<path color=#d5ff2a d="M1354 2614l6-2-9-3-7 3z"/>
<path color=#ffc000 d="M461 2521l97 13 44 7-99-13z"/>
<path color=#d8ff27 d="M1179 2616l23-8-18-5-24 6z"/>
<path color=#d5ff2a d="M1380 2613l4-1-7-2-4 2z"/>
<path color=#fff100 d="M994 2575l26-1-24-12-27 1z"/>
<path color=#d5ff2a d="M1336 2615l8-3-10-3-9 3z"/>
<path color=#f60506 d="M752 2399l0-22 0-21 0 25z"/>
<path color=#d5ff2a d="M1389 2612l3-1-5 0-3 1z"/>
<path color=#d9ff26 d="M1397 2610l6-3-5 2-6 2z"/>
<path color=#d5ff2a d="M1315 2616l10-4-11-3-11 4z"/>
<path color=#ffb000 d="M1458 2521l20-9 0 9-20 9z"/>
<path color=#ff1900 d="M761 2387l3 24-1 10-3-17z"/>
<path color=#ff1c00 d="M761 2414l0-27-1 17 0 22z"/>
<path color=#ff7900 d="M1480 2480l30-10-1 8-30 10z"/>
<path color=#d6ff29 d="M1236 2618l23-8-16-5-23 8z"/>
<path color=#ff7d00 d="M798 2469l9 25-9-7-9-10z"/>
<path color=#d5ff2a d="M1279 2616l16-6-5-1-16 6z"/>
<path color=#ffbc00 d="M872 2531l20 3-11-6-19-3z"/>
<path color=#ffc000 d="M580 2527l83 3 33 9-81-4z"/>
<path color=#d6ff29 d="M1385 2614l4-2-5 0-4 1z"/>
<path color=#d5ff2a d="M1374 2616l6-3-7-1-5 2z"/>
<path color=#bb272d d="M745 2314l3 27 0 9-3-24z"/>
<path color=#e90d0f d="M751 2388l0-24 0-14 0 27z"/>
<path color=#bb272d d="M745 2327l3 24 0-10-3-27z"/>
<path color=#d5ff2a d="M1361 2617l7-3-8-2-6 2z"/>
<path color=#f4ff0b d="M1067 2596l25-2-22-10-26 2z"/>
<path color=#d9ff26 d="M1394 2611l3-1-5 1-3 1z"/>
<path color=#ffbe00 d="M759 2528l25-2 28 10-24 2z"/>
<path color=#ffd500 d="M1437 2550l20-9-1 10-20 10z"/>
<path color=#ba272d d="M745 2341l0-27 0 12 0 24z"/>
<path color=#ffd900 d="M933 2556l26 2-15-8-27-2z"/>
<path color=#ba272d d="M745 2351l0-24 0-13 0 27z"/>
<path color=#ff7c00 d="M798 2492l0-23-9 8 0 16z"/>
<path color=#fff800 d="M1421 2576l14-6-1 8-14 7z"/>
<path color=#ffb700 d="M784 2526l22-8 27 10-21 8z"/>
<path color=#d5ff2a d="M1345 2618l9-4-10-2-8 3z"/>
<path color=#ffc000 d="M722 2530l37-2 29 10-35 1z"/>
<path color=#ff9c00 d="M810 2519l0-25-5 3 0 21z"/>
<path color=#ff1d00 d="M765 2411l3 17-2-15-4-23z"/>
<path color=#e1ff1e d="M1401 2604l6-3-4 6-6 3z"/>
<path color=#ff1f00 d="M765 2432l0-21-3-21 0 26z"/>
<path color=#ff6f00 d="M1480 2477l30-10 0 3-30 10z"/>
<path color=#ffc000 d="M663 2530l59 0 31 9-57 0z"/>
<path color=#d5ff2a d="M1287 2619l16-6-8-3-16 6z"/>
<path color=#ff8300 d="M810 2477l4 22-7-5-4-13z"/>
<path color=#ffc000 d="M517 2527l98 8 40 8-97-9z"/>
<path color=#e1ff1e d="M1135 2612l24-3-20-9-25 3z"/>
<path color=#ffc000 d="M441 2519l162 23 57 9-166-24z"/>
<path color=#d6ff29 d="M1380 2616l5-2-5-1-6 3z"/>
<path color=#ff6c00 d="M1480 2476l30-10 0 1-30 10z"/>
<path color=#f2ff0d d="M1409 2589l11-4-3 12-10 4z"/>
<path color=#d9ff26 d="M1390 2613l4-2-5 1-4 2z"/>
<path color=#d5ff2a d="M1325 2619l11-4-11-3-10 4z"/>
<path color=#d5ff2a d="M1368 2618l6-2-6-2-7 3z"/>
<path color=#ff9f00 d="M1459 2511l20-9-1 10-20 9z"/>
<path color=#ff9900 d="M812 2520l0-27-2 1 0 25z"/>
<path color=#d7ff28 d="M1197 2621l23-8-18-5-23 8z"/>
<path color=#ff8600 d="M815 2483l3 19-4-3-3-14z"/>
<path color=#e1ff1e d="M1397 2605l4-1-4 6-3 1z"/>
<path color=#ff0700 d="M761 2380l4 26-1 5-3-24z"/>
<path color=#d6191d d="M751 2367l0-29 0 11 0 27z"/>
<path color=#d5ff2a d="M1353 2620l8-3-7-3-9 4z"/>
<path color=#d8181b d="M752 2356l2 21 0-12-3-25z"/>
<path color=#ff0900 d="M761 2408l0-28 0 7 0 27z"/>
<path color=#d6191d d="M751 2377l0-27 0-12 0 29z"/>
<path color=#cf1d21 d="M753 2335l2 26 0 8-2-23z"/>
<path color=#ff9a00 d="M814 2521l0-25-2-3 0 27z"/>
<path color=#ff0800 d="M762 2390l4 23-1-7-4-26z"/>
<path color=#ff8100 d="M805 2497l0-21-7 8 0 15z"/>
<path color=#d01c21 d="M753 2347l2 23 0-9-2-26z"/>
<path color=#d6ff29 d="M1252 2623l22-8-15-5-23 8z"/>
<path color=#ffa700 d="M848 2520l14 5-15-8-14-5z"/>
<path color=#d9ff26 d="M1385 2615l5-2-5 1-5 2z"/>
<path color=#ff0900 d="M762 2416l0-26-1-10 0 28z"/>
<path color=#d7181c d="M752 2377l0-21-1-16 0 24z"/>
<path color=#d5ff2a d="M1300 2622l15-6-12-3-16 6z"/>
<path color=#ffdd00 d="M943 2561l26 2-10-5-26-2z"/>
<path color=#d6ff29 d="M1374 2619l6-3-6 0-6 2z"/>
<path color=#ff9d00 d="M818 2523l0-20-4-7 0 25z"/>
<path color=#ffe800 d="M1422 2567l14-6-1 9-14 6z"/>
<path color=#ffc300 d="M1437 2540l21-10-1 11-20 9z"/>
<path color=#fff800 d="M1019 2586l25 0-24-12-26 1z"/>
<path color=#dfff20 d="M1136 2612l24-3-1 0-24 3z"/>
<path color=#cb2025 d="M751 2323l2 29 0 22-3-22z"/>
<path color=#e1ff1e d="M1393 2607l4-2-3 6-4 2z"/>
<path color=#ff8400 d="M817 2482l3 22-2-2-3-19z"/>
<path color=#d5ff2a d="M1335 2622l10-4-9-3-11 4z"/>
<path color=#ffc000 d="M503 2528l99 13 48 7-100-13z"/>
<path color=#ffc200 d="M899 2544l18 4-25-14-20-3z"/>
<path color=#d5ff2a d="M1360 2622l8-4-7-1-8 3z"/>
<path color=#f2ff0d d="M1403 2592l6-3-2 12-6 3z"/>
<path color=#ff8500 d="M819 2485l3 20-2-1-3-22z"/>
<path color=#c92126 d="M751 2349l0-26-1 29 0 22z"/>
<path color=#ff9000 d="M1459 2504l20-9 0 7-20 9z"/>
<path color=#ff8a00 d="M824 2493l3 15-5-3-3-20z"/>
<path color=#efff10 d="M1090 2605l24-2-22-9-25 2z"/>
<path color=#fff800 d="M1411 2580l10-4-1 9-11 4z"/>
<path color=#d9ff26 d="M1379 2617l6-2-5 1-6 3z"/>
<path color=#d6ff29 d="M1257 2624l22-8-5-1-22 8z"/>
<path color=#e1ff1e d="M1388 2609l5-2-3 6-5 2z"/>
<path color=#ddff22 d="M1156 2619l23-3-19-7-24 3z"/>
<path color=#ff9b00 d="M827 2526l0-19-9-14 0 30z"/>
<path color=#d5ff2a d="M1343 2624l10-4-8-2-10 4z"/>
<path color=#d5ff2a d="M1310 2625l15-6-10-3-15 6z"/>
<path color=#d6ff29 d="M1366 2622l8-3-6-1-8 4z"/>
<path color=#f2ff0d d="M1400 2593l3-1-2 12-4 1z"/>
<path color=#ffac00 d="M859 2526l13 5-10-6-14-5z"/>
<path color=#fffb00 d="M1019 2586l25 0 0 0-25 0z"/>
<path color=#c1252b d="M751 2340l3 25 0-12-3-29z"/>
<path color=#d7ff28 d="M1214 2626l22-8-16-5-23 8z"/>
<path color=#ffc000 d="M615 2535l81 4 36 8-77-4z"/>
<path color=#ffd600 d="M1422 2557l15-7-1 11-14 6z"/>
<path color=#ffb100 d="M1438 2530l20-9 0 9-21 10z"/>
<path color=#ff8400 d="M1459 2497l20-9 0 7-20 9z"/>
<path color=#ff8c00 d="M831 2500l4 13-8-5-4-22z"/>
<path color=#d6ff29 d="M1266 2626l21-7-8-3-22 8z"/>
<path color=#bf262c d="M751 2364l0-24 0-16 0 26z"/>
<path color=#ffe200 d="M969 2572l25 3-25-12-26-2z"/>
<path color=#ff7400 d="M810 2494l0-25-5 7 0 21z"/>
<path color=#f2ff0d d="M1396 2595l4-2-3 12-4 2z"/>
<path color=#ffc000 d="M558 2534l97 9 42 7-95-9z"/>
<path color=#e1ff1e d="M1382 2612l6-3-3 6-6 2z"/>
<path color=#ff6200 d="M805 2455l5 22-7 4-5-12z"/>
<path color=#d5ff2a d="M1350 2626l10-4-7-2-10 4z"/>
<path color=#ffa300 d="M839 2530l0-11-12-12 0 19z"/>
<path color=#d9ff26 d="M1371 2621l8-4-5 2-8 3z"/>
<path color=#ffe800 d="M1412 2572l10-5-1 9-10 4z"/>
<path color=#fff800 d="M1404 2583l7-3-2 9-6 3z"/>
<path color=#ff6100 d="M805 2476l0-21-7 14 0 15z"/>
<path color=#ffbe00 d="M788 2538l24-2 30 9-22 2z"/>
<path color=#d5ff2a d="M1320 2628l15-6-10-3-15 6z"/>
<path color=#ffc000 d="M696 2539l57 0 33 9-54-1z"/>
<path color=#ff6600 d="M813 2463l2 20-4 2-3-15z"/>
<path color=#ffc000 d="M753 2539l35-1 32 9-34 1z"/>
<path color=#ffc000 d="M494 2527l166 24 61 9-166-24z"/>
<path color=#fffe00 d="M1044 2596l23 0-23-10-25 0z"/>
<path color=#ffc800 d="M915 2552l18 4-16-8-18-4z"/>
<path color=#ffb700 d="M812 2536l21-8 29 10-20 7z"/>
<path color=#f2ff0d d="M1391 2598l5-3-3 12-5 2z"/>
<path color=#ff7600 d="M1459 2489l21-9-1 8-20 9z"/>
<path color=#d6ff29 d="M1356 2627l10-5-6 0-10 4z"/>
<path color=#d6ff29 d="M1278 2630l22-8-13-3-21 7z"/>
<path color=#eaff15 d="M1112 2613l23-1-21-9-24 2z"/>
<path color=#ffa000 d="M1438 2520l21-9-1 10-20 9z"/>
<path color=#fff900 d="M1401 2585l3-2-1 9-3 1z"/>
<path color=#dbff24 d="M1175 2626l22-5-18-5-23 3z"/>
<path color=#ff6b00 d="M812 2493l0-27-2 3 0 25z"/>
<path color=#ffc300 d="M1423 2546l14-6 0 10-15 7z"/>
<path color=#ff7500 d="M818 2503l0-20-4-12 0 25z"/>
<path color=#e1ff1e d="M1374 2616l8-4-3 5-8 4z"/>
<path color=#d7ff28 d="M1230 2630l22-7-16-5-22 8z"/>
<path color=#ff8d00 d="M839 2508l8 12-12-7-8-26z"/>
<path color=#d5ff2a d="M1328 2630l15-6-8-2-15 6z"/>
<path color=#ffc000 d="M550 2535l100 13 51 8-98-14z"/>
<path color=#ff6c00 d="M814 2496l0-25-2-5 0 27z"/>
<path color=#a62c31 d="M751 2338l0-29 0 14 0 26z"/>
<path color=#ffb100 d="M886 2538l13 6-27-13-13-5z"/>
<path color=#a42c32 d="M751 2309l2 26 0 11-2-23z"/>
<path color=#ff6a00 d="M821 2478l3 15-5-8-3-19z"/>
<path color=#ff5f00 d="M814 2460l3 22-2 1-2-20z"/>
<path color=#ff6c00 d="M1460 2485l20-8 0 3-21 9z"/>
<path color=#a72c31 d="M751 2350l0-26 0-15 0 29z"/>
<path color=#a52c31 d="M751 2324l2 23 0-12-2-26z"/>
<path color=#ffe800 d="M1406 2574l6-2-1 8-7 3z"/>
<path color=#fff900 d="M1397 2586l4-1-1 8-4 2z"/>
<path color=#d9ff26 d="M1361 2625l10-4-5 1-10 5z"/>
<path color=#f2ff0d d="M1385 2600l6-2-3 11-6 3z"/>
<path color=#ffd700 d="M1412 2561l10-4 0 10-10 5z"/>
<path color=#ff5f00 d="M816 2466l3 19-2-3-3-22z"/>
<path color=#ff6900 d="M1460 2485l20-9 0 1-20 8z"/>
<path color=#ffcc00 d="M926 2556l17 5-10-5-18-4z"/>
<path color=#e8ff17 d="M1114 2614l22-2-1 0-23 1z"/>
<path color=#d5ff2a d="M1336 2632l14-6-7-2-15 6z"/>
<path color=#d6ff29 d="M1290 2633l20-8-10-3-22 8z"/>
<path color=#ff8800 d="M839 2519l0-11-12-21 0 20z"/>
<path color=#ff9100 d="M1439 2513l20-9 0 7-21 9z"/>
<path color=#d7ff28 d="M1236 2632l21-8-5-1-22 7z"/>
<path color=#ffe800 d="M1403 2576l3-2-2 9-3 2z"/>
<path color=#ffe800 d="M995 2582l24 4-25-11-25-3z"/>
<path color=#fff900 d="M1392 2589l5-3-1 9-5 3z"/>
<path color=#ffb100 d="M1424 2536l14-6-1 10-14 6z"/>
<path color=#ff7000 d="M827 2507l0-20-9-24 0 30z"/>
<path color=#ff9d00 d="M858 2536l0-21-19-7 0 22z"/>
<path color=#ff9700 d="M858 2515l8 14-19-9-8-12z"/>
<path color=#e1ff1e d="M1364 2620l10-4-3 5-10 4z"/>
<path color=#ffc000 d="M655 2543l77 4 39 8-74-5z"/>
<path color=#ff6a00 d="M827 2487l4 13-8-14-5-23z"/>
<path color=#fbff04 d="M1068 2605l22 0-23-9-23 0z"/>
<path color=#f1ff0e d="M1377 2604l8-4-3 12-8 4z"/>
<path color=#d9ff26 d="M1193 2632l21-6-17-5-22 5z"/>
<path color=#d6ff29 d="M1342 2632l14-5-6-1-14 6z"/>
<path color=#ffc000 d="M602 2541l95 9 45 8-92-10z"/>
<path color=#e6ff19 d="M1134 2621l22-2-20-7-22 2z"/>
<path color=#ffe900 d="M1399 2578l4-2-2 9-4 1z"/>
<path color=#ff4b00 d="M810 2469l0-25-5 11 0 21z"/>
<path color=#ffd700 d="M1406 2564l6-3 0 11-6 2z"/>
<path color=#d6ff29 d="M1245 2634l21-8-9-2-21 8z"/>
<path color=#ffc400 d="M1413 2551l10-5-1 11-10 4z"/>
<path color=#ff4700 d="M810 2444l3 19-5 7-3-15z"/>
<path color=#ff8400 d="M1439 2506l20-9 0 7-20 9z"/>
<path color=#d5ff2a d="M1300 2636l20-8-10-3-20 8z"/>
<path color=#fff900 d="M1386 2592l6-3-1 9-6 2z"/>
<path color=#ffeb00 d="M996 2583l23 3 0 0-24-4z"/>
<path color=#d9ff26 d="M1347 2631l14-6-5 2-14 5z"/>
<path color=#ffe900 d="M1394 2580l5-2-2 8-5 3z"/>
<path color=#ffc000 d="M732 2547l54 1 36 8-51-1z"/>
<path color=#ffb600 d="M903 2543l12 9-16-8-13-6z"/>
<path color=#ffd000 d="M953 2566l16 6-26-11-17-5z"/>
<path color=#ffd700 d="M1403 2565l3-1 0 10-3 2z"/>
<path color=#ffbe00 d="M820 2547l22-2 32 9-21 2z"/>
<path color=#ffc000 d="M786 2548l34-1 33 9-31 0z"/>
<path color=#ffa000 d="M1424 2527l14-7 0 10-14 6z"/>
<path color=#ff9d00 d="M876 2517l3 18-13-6-4-7z"/>
<path color=#ff4e00 d="M818 2483l0-20-4-17 0 25z"/>
<path color=#d5ff2a d="M1309 2638l19-8-8-2-20 8z"/>
<path color=#d6ff29 d="M1258 2637l20-7-12-4-21 8z"/>
<path color=#ffb700 d="M842 2545l20-7 31 8-19 8z"/>
<path color=#ffa300 d="M872 2541l0-21-14 6 0 10z"/>
<path color=#ffc000 d="M555 2536l166 24 64 9-161-23z"/>
<path color=#ff4a00 d="M818 2463l3 15-5-12-2-20z"/>
<path color=#ff7600 d="M1439 2497l20-8 0 8-20 9z"/>
<path color=#f1ff0e d="M1368 2609l9-5-3 12-10 4z"/>
<path color=#ffd700 d="M1399 2567l4-2 0 11-4 2z"/>
<path color=#fffa00 d="M1379 2596l7-4-1 8-8 4z"/>
<path color=#d8ff27 d="M1209 2637l21-7-16-4-21 6z"/>
<path color=#ffc000 d="M603 2542l98 14 54 8-95-13z"/>
<path color=#ffc400 d="M1407 2554l6-3-1 10-6 3z"/>
<path color=#ff3d00 d="M812 2466l0-28-2 6 0 25z"/>
<path color=#ffb200 d="M1414 2541l10-5-1 10-10 5z"/>
<path color=#ffe900 d="M1388 2583l6-3-2 9-6 3z"/>
<path color=#e0ff1f d="M1351 2626l13-6-3 5-14 6z"/>
<path color=#e3ff1c d="M1154 2628l21-2-19-7-22 2z"/>
<path color=#ffee00 d="M1021 2591l23 5-25-10-23-3z"/>
<path color=#ff3900 d="M812 2438l2 22-1 3-3-19z"/>
<path color=#f6ff09 d="M1091 2613l21 0-22-8-22 0z"/>
<path color=#ff3e00 d="M814 2471l0-25-2-8 0 28z"/>
<path color=#d5ff2a d="M1316 2640l20-8-8-2-19 8z"/>
<path color=#ff3a00 d="M814 2446l2 20-2-6-2-22z"/>
<path color=#ff6b00 d="M1439 2494l21-9-1 4-20 8z"/>
<path color=#ff9100 d="M1425 2519l14-6-1 7-14 7z"/>
<path color=#ffb800 d="M914 2546l12 10-11-4-12-9z"/>
<path color=#ffd800 d="M1394 2570l5-3 0 11-5 2z"/>
<path color=#ffc400 d="M1404 2555l3-1-1 10-3 1z"/>
<path color=#ff6800 d="M1439 2493l21-8 0 0-21 9z"/>
<path color=#d6ff29 d="M1270 2640l20-7-12-3-20 7z"/>
<path color=#ff9c00 d="M888 2518l2 21-11-4-2-12z"/>
<path color=#d8ff27 d="M1215 2639l21-7-6-2-21 7z"/>
<path color=#d6ff29 d="M1322 2640l20-8-6 0-20 8z"/>
<path color=#ffea00 d="M1380 2587l8-4-2 9-7 4z"/>
<path color=#ffc000 d="M697 2550l74 5 41 8-70-5z"/>
<path color=#ffa000 d="M883 2544l0-23-11 6 0 14z"/>
<path color=#f4ff0b d="M1092 2613l22 1-2-1-21 0z"/>
<path color=#ffc400 d="M1400 2557l4-2-1 10-4 2z"/>
<path color=#fffb00 d="M1369 2600l10-4-2 8-9 5z"/>
<path color=#ffc000 d="M650 2548l92 10 47 8-88-10z"/>
<path color=#ffb200 d="M1408 2544l6-3-1 10-6 3z"/>
<path color=#ffa000 d="M1414 2531l10-4 0 9-10 5z"/>
<path color=#ffd800 d="M1388 2572l6-2 0 10-6 3z"/>
<path color=#ff8400 d="M1425 2512l14-6 0 7-14 6z"/>
<path color=#ffc000 d="M947 2560l6 6-27-10-6-5z"/>
<path color=#ffd400 d="M980 2574l15 8-26-10-16-6z"/>
<path color=#d7ff28 d="M1225 2641l20-7-9-2-21 7z"/>
<path color=#f0ff0f d="M1354 2615l14-6-4 11-13 6z"/>
<path color=#ff8500 d="M872 2499l4 18-14 5-4-7z"/>
<path color=#ff8700 d="M872 2520l0-21-14 16 0 11z"/>
<path color=#e0ff1f d="M1172 2634l21-2-18-6-21 2z"/>
<path color=#d9ff26 d="M1328 2640l19-9-5 1-20 8z"/>
<path color=#d6ff29 d="M1280 2643l20-7-10-3-20 7z"/>
<path color=#ffc500 d="M1395 2559l5-2-1 10-5 3z"/>
<path color=#f2ff0d d="M1113 2620l21 1-20-7-22-1z"/>
<path color=#ffb200 d="M1405 2545l3-1-1 10-3 1z"/>
<path color=#fff200 d="M1046 2599l22 6-24-9-23-5z"/>
<path color=#ff9600 d="M894 2513l3 28-7-2-2-21z"/>
<path color=#ffc000 d="M771 2555l51 1 38 8-48-1z"/>
<path color=#ff9900 d="M898 2519l1 23-2-1-2-21z"/>
<path color=#ffd900 d="M1380 2576l8-4 0 11-8 4z"/>
<path color=#ffc000 d="M822 2556l31 0 36 8-29 0z"/>
<path color=#ff9100 d="M1414 2524l11-5-1 8-10 4z"/>
<path color=#ffeb00 d="M1370 2592l10-5-1 9-10 4z"/>
<path color=#ffbe00 d="M853 2556l21-2 34 8-19 2z"/>
<path color=#ff7600 d="M1425 2503l14-6 0 9-14 6z"/>
<path color=#ff9a00 d="M889 2545l0-29-6 5 0 23z"/>
<path color=#d7ff28 d="M1238 2644l20-7-13-3-20 7z"/>
<path color=#ffb200 d="M1401 2547l4-2-1 10-4 2z"/>
<path color=#d6ff29 d="M1289 2645l20-7-9-2-20 7z"/>
<path color=#ffa000 d="M1408 2534l6-3 0 10-6 3z"/>
<path color=#ff9900 d="M899 2522l2 20-2 0-1-23z"/>
<path color=#e0ff1f d="M1332 2635l19-9-4 5-19 9z"/>
<path color=#ffd600 d="M981 2574l15 9-1-1-15-8z"/>
<path color=#ffc500 d="M1389 2562l6-3-1 11-6 2z"/>
<path color=#ff9c00 d="M892 2546l0-24-3 2 0 21z"/>
<path color=#ffb700 d="M874 2554l19-8 33 9-18 7z"/>
<path color=#ffde00 d="M1014 2586l7 5-25-8-8-5z"/>
<path color=#ffb400 d="M942 2554l5 6-27-9-6-5z"/>
<path color=#ff9c00 d="M894 2547l0-22-2-3 0 24z"/>
<path color=#fffc00 d="M1355 2607l14-7-1 9-14 6z"/>
<path color=#deff21 d="M1190 2639l19-2-16-5-21 2z"/>
<path color=#ffc000 d="M660 2551l95 13 56 8-90-12z"/>
<path color=#ff9700 d="M902 2522l3 22-4-2-2-27z"/>
<path color=#ff9e00 d="M909 2533l2 13-6-2-3-22z"/>
<path color=#ff7e00 d="M885 2497l3 21-11 5-3-12z"/>
<path color=#ff6b00 d="M1425 2500l14-6 0 3-14 6z"/>
<path color=#ffb300 d="M1396 2549l5-2-1 10-5 2z"/>
<path color=#d6ff29 d="M1297 2647l19-7-7-2-20 7z"/>
<path color=#ffa000 d="M1405 2535l3-1 0 10-3 1z"/>
<path color=#ffc000 d="M624 2546l161 23 66 10-151-22z"/>
<path color=#ff8400 d="M1415 2516l10-4 0 7-11 5z"/>
<path color=#ff8000 d="M883 2521l0-23-11 15 0 14z"/>
<path color=#ff9a00 d="M898 2548l0-23-4-7 0 29z"/>
<path color=#ffa000 d="M904 2549l0-14-6-10 0 23z"/>
<path color=#ff6800 d="M1425 2499l14-6 0 1-14 6z"/>
<path color=#efff10 d="M1134 2627l20 1-20-7-21-1z"/>
<path color=#d7ff28 d="M1251 2647l19-7-12-3-20 7z"/>
<path color=#ff9100 d="M1408 2526l6-2 0 7-6 3z"/>
<path color=#ffa000 d="M917 2539l3 9-9-2-3-19z"/>
<path color=#ffda00 d="M1371 2581l9-5 0 11-10 5z"/>
<path color=#ffc600 d="M1381 2566l8-4-1 10-8 4z"/>
<path color=#ffa100 d="M1401 2537l4-2 0 10-4 2z"/>
<path color=#ffc300 d="M975 2568l5 6-27-8-6-6z"/>
<path color=#dcff23 d="M1196 2641l19-2-6-2-19 2z"/>
<path color=#ffc000 d="M742 2558l70 5 43 8-66-5z"/>
<path color=#d6ff29 d="M1304 2648l18-8-6 0-19 7z"/>
<path color=#fff600 d="M1071 2606l20 7-23-8-22-6z"/>
<path color=#efff10 d="M1335 2624l19-9-3 11-19 9z"/>
<path color=#ffa300 d="M914 2552l0-11-10-12 0 20z"/>
<path color=#ffb300 d="M1390 2552l6-3-1 10-6 3z"/>
<path color=#ffc000 d="M701 2556l88 10 48 8-82-10z"/>
<path color=#ffec00 d="M1356 2598l14-6-1 8-14 7z"/>
<path color=#ff7500 d="M1415 2507l10-4 0 9-10 4z"/>
<path color=#ff9100 d="M1405 2528l3-2 0 8-3 1z"/>
<path color=#dcff23 d="M1206 2644l19-3-10-2-19 2z"/>
<path color=#ffd200 d="M1007 2581l7 5-26-8-7-4z"/>
<path color=#ffa100 d="M1396 2539l5-2 0 10-5 2z"/>
<path color=#d7ff28 d="M1262 2650l18-7-10-3-19 7z"/>
<path color=#d9ff26 d="M1309 2647l19-7-6 0-18 8z"/>
<path color=#ff8400 d="M1409 2519l6-3-1 8-6 2z"/>
<path color=#ffff00 d="M1103 2617l10 3-21-7-10-3z"/>
<path color=#ffe100 d="M1040 2594l6 5-25-8-7-5z"/>
<path color=#fff800 d="M1072 2607l20 6-1 0-20-7z"/>
<path color=#ff9100 d="M1401 2529l4-1 0 7-4 2z"/>
<path color=#ecff13 d="M1153 2633l19 1-18-6-20-1z"/>
<path color=#ffc000 d="M812 2563l48 1 39 8-44-1z"/>
<path color=#ffc400 d="M975 2568l6 6-1 0-5-6z"/>
<path color=#ffc700 d="M1372 2571l9-5-1 10-9 5z"/>
<path color=#ffb400 d="M1382 2556l8-4-1 10-8 4z"/>
<path color=#ff9e00 d="M928 2536l6 16-14-4-6-18z"/>
<path color=#ff6b00 d="M1415 2504l10-4 0 3-10 4z"/>
<path color=#ffc000 d="M860 2564l29 0 36 8-26 0z"/>
<path color=#ff7100 d="M896 2496l2 23-3 1-2-20z"/>
<path color=#ffb600 d="M970 2562l5 6-28-8-5-6z"/>
<path color=#ffbe00 d="M889 2564l19-2 35 8-18 2z"/>
<path color=#ffa100 d="M1390 2542l6-3 0 10-6 3z"/>
<path color=#ff8400 d="M1406 2520l3-1-1 7-3 2z"/>
<path color=#ff9f00 d="M928 2555l0-19-14-6 0 22z"/>
<path color=#d7ff28 d="M1271 2652l18-7-9-2-18 7z"/>
<path color=#ff6700 d="M1415 2504l10-5 0 1-10 4z"/>
<path color=#dbff24 d="M1220 2648l18-4-13-3-19 3z"/>
<path color=#ff6a00 d="M892 2486l2 27-6 5-3-21z"/>
<path color=#fffd00 d="M1336 2616l19-9-1 8-19 9z"/>
<path color=#ff7f00 d="M907 2520l2 13-7-11-2-21z"/>
<path color=#ffdb00 d="M1357 2588l14-7-1 11-14 6z"/>
<path color=#e0ff1f d="M1314 2643l18-8-4 5-19 7z"/>
<path color=#ff7100 d="M897 2501l2 21-1-3-2-23z"/>
<path color=#ff5f00 d="M883 2476l2 21-11 14-2-12z"/>
<path color=#ff7400 d="M892 2522l0-24-3 4 0 22z"/>
<path color=#ff6000 d="M883 2498l0-22-11 23 0 14z"/>
<path color=#ff9100 d="M1397 2532l4-3 0 8-5 2z"/>
<path color=#ff6c00 d="M889 2516l0-29-6 11 0 23z"/>
<path color=#ff7500 d="M1409 2510l6-3 0 9-6 3z"/>
<path color=#ffb700 d="M908 2562l18-7 33 8-16 7z"/>
<path color=#ff8000 d="M904 2535l0-13-6-20 0 23z"/>
<path color=#ff7400 d="M894 2525l0-22-2-5 0 24z"/>
<path color=#ff8600 d="M914 2530l3 9-9-12-4-19z"/>
<path color=#ff8400 d="M1402 2522l4-2-1 8-4 1z"/>
<path color=#ff8700 d="M914 2541l0-11-10-22 0 21z"/>
<path color=#ffc500 d="M1002 2575l5 6-26-7-6-6z"/>
<path color=#d7ff28 d="M1279 2654l18-7-8-2-18 7z"/>
<path color=#ffc000 d="M721 2560l90 12 57 9-83-12z"/>
<path color=#fcff03 d="M1125 2623l9 4-21-7-10-3z"/>
<path color=#e9ff16 d="M1171 2638l19 1-18-5-19-1z"/>
<path color=#ff6a00 d="M900 2501l2 21-3-7-3-28z"/>
<path color=#ff9b00 d="M938 2529l6 26-10-3-6-16z"/>
<path color=#ff7500 d="M1406 2511l3-1 0 9-3 1z"/>
<path color=#ffa200 d="M1382 2546l8-4 0 10-8 4z"/>
<path color=#ff6a00 d="M1409 2507l6-3 0 3-6 3z"/>
<path color=#ffb400 d="M1372 2561l10-5-1 10-9 5z"/>
<path color=#daff25 d="M1233 2652l18-5-13-3-18 4z"/>
<path color=#ff9200 d="M1391 2534l6-2-1 7-6 3z"/>
<path color=#ffb700 d="M970 2562l5 6 0 0-5-6z"/>
<path color=#ffd500 d="M1033 2589l7 5-26-8-7-5z"/>
<path color=#ff6c00 d="M898 2525l0-23-4-14 0 30z"/>
<path color=#ffa000 d="M948 2537l3 20-7-2-3-13z"/>
<path color=#ff8400 d="M1397 2524l5-2-1 7-4 3z"/>
<path color=#ffed00 d="M1338 2607l18-9-1 9-19 9z"/>
<path color=#ff9b00 d="M938 2558l0-29-10 7 0 19z"/>
<path color=#fff300 d="M1094 2613l9 4-21-7-10-3z"/>
<path color=#ff6700 d="M1409 2506l6-2 0 0-6 3z"/>
<path color=#ffc000 d="M789 2566l66 5 43 7-61-4z"/>
<path color=#ffe400 d="M1064 2601l7 5-25-7-6-5z"/>
<path color=#d7ff28 d="M1286 2655l18-7-7-1-18 7z"/>
<path color=#eeff11 d="M1317 2633l18-9-3 11-18 8z"/>
<path color=#ffc800 d="M1358 2577l14-6-1 10-14 7z"/>
<path color=#ff7500 d="M1402 2513l4-2 0 9-4 2z"/>
<path color=#ffc000 d="M755 2564l82 10 50 7-76-9z"/>
<path color=#ffa100 d="M945 2559l0-20-7 4 0 15z"/>
<path color=#e8ff17 d="M1178 2640l18 1-6-2-19-1z"/>
<path color=#ff6a00 d="M1406 2508l3-1 0 3-3 1z"/>
<path color=#ffc000 d="M700 2557l151 22 66 10-135-20z"/>
<path color=#d9ff26 d="M1244 2655l18-5-11-3-18 5z"/>
<path color=#d9ff26 d="M1292 2654l17-7-5 1-18 7z"/>
<path color=#ff6700 d="M1406 2507l3-1 0 1-3 1z"/>
<path color=#ff9b00 d="M953 2534l3 24-5-1-3-20z"/>
<path color=#ff8400 d="M1391 2527l6-3 0 8-6 2z"/>
<path color=#ff9200 d="M1383 2538l8-4-1 8-8 4z"/>
<path color=#ffb800 d="M997 2569l5 6-27-7-5-6z"/>
<path color=#ff7500 d="M1397 2515l5-2 0 9-5 2z"/>
<path color=#ffe600 d="M1065 2601l7 6-1-1-7-5z"/>
<path color=#f9ff06 d="M1145 2629l8 4-19-6-9-4z"/>
<path color=#ff6a00 d="M1402 2510l4-2 0 3-4 2z"/>
<path color=#e6ff19 d="M1188 2643l18 1-10-3-18-1z"/>
<path color=#ffa300 d="M1373 2551l9-5 0 10-10 5z"/>
<path color=#ffc000 d="M855 2571l44 1 39 8-40-2z"/>
<path color=#ff9c00 d="M949 2560l0-25-4 4 0 20z"/>
<path color=#ff6000 d="M904 2508l3 12-7-19-2-21z"/>
<path color=#ff9800 d="M954 2532l4 27-2-1-3-24z"/>
<path color=#ffdc00 d="M1339 2597l18-9-1 10-18 9z"/>
<path color=#ff6000 d="M904 2522l0-14-6-28 0 22z"/>
<path color=#ff6700 d="M1402 2509l4-2 0 1-4 2z"/>
<path color=#ffc000 d="M899 2572l26 0 38 7-25 1z"/>
<path color=#ffc700 d="M1028 2582l5 7-26-8-5-6z"/>
<path color=#ffbe00 d="M925 2572l18-2 36 8-16 1z"/>
<path color=#ff9800 d="M958 2535l3 24-3 0-4-27z"/>
<path color=#d9ff26 d="M1254 2658l17-6-9-2-18 5z"/>
<path color=#fff600 d="M1116 2619l9 4-22-6-9-4z"/>
<path color=#ffb600 d="M1359 2567l13-6 0 10-14 6z"/>
<path color=#ff4a00 d="M894 2473l2 23-3 4-2-21z"/>
<path color=#e0ff1f d="M1296 2650l18-7-5 4-17 7z"/>
<path color=#fffe00 d="M1318 2624l18-8-1 8-18 9z"/>
<path color=#ff9900 d="M951 2561l0-28-2 2 0 25z"/>
<path color=#ff9c00 d="M966 2542l3 19-8-2-3-24z"/>
<path color=#ffd700 d="M1058 2595l6 6-24-7-7-5z"/>
<path color=#ff4b00 d="M892 2498l0-24-3 6 0 22z"/>
<path color=#ff6a00 d="M1397 2512l5-2 0 3-5 2z"/>
<path color=#ff4a00 d="M896 2480l1 21-1-5-2-23z"/>
<path color=#ffb700 d="M943 2570l16-7 34 7-14 8z"/>
<path color=#ffe700 d="M1088 2607l6 6-22-6-7-6z"/>
<path color=#ff7500 d="M1391 2518l6-3 0 9-6 3z"/>
<path color=#ff8400 d="M1383 2531l8-4 0 7-8 4z"/>
<path color=#ff9900 d="M955 2562l0-26-4-3 0 28z"/>
<path color=#e5ff1a d="M1203 2647l17 1-14-4-18-1z"/>
<path color=#ff4b00 d="M894 2503l0-22-2-7 0 24z"/>
<path color=#ff6700 d="M1397 2511l5-2 0 1-5 2z"/>
<path color=#ff3e00 d="M889 2458l3 28-7 11-2-21z"/>
<path color=#ff9c00 d="M963 2563l0-20-8-7 0 26z"/>
<path color=#ff3f00 d="M889 2487l0-29-6 18 0 22z"/>
<path color=#d8ff27 d="M1262 2660l17-6-8-2-17 6z"/>
<path color=#ffa100 d="M979 2551l3 14-13-4-3-19z"/>
<path color=#ff9300 d="M1373 2543l10-5-1 8-9 5z"/>
<path color=#f6ff09 d="M1163 2634l8 4-18-5-8-4z"/>
<path color=#ff8200 d="M945 2518l3 19-7 5-3-13z"/>
<path color=#ff8200 d="M945 2539l0-21-7 11 0 14z"/>
<path color=#ff6a00 d="M1391 2514l6-2 0 3-6 3z"/>
<path color=#ffc900 d="M1339 2586l19-9-1 11-18 9z"/>
<path color=#ffd800 d="M1059 2596l6 5-1 0-6-6z"/>
<path color=#ffa100 d="M976 2566l0-14-13-9 0 20z"/>
<path color=#ffef00 d="M1320 2616l18-9-2 9-18 8z"/>
<path color=#d8ff27 d="M1270 2661l16-6-7-1-17 6z"/>
<path color=#ffc000 d="M837 2574l61 4 43 8-54-5z"/>
<path color=#ffc000 d="M785 2569l83 12 57 9-74-11z"/>
<path color=#ffa300 d="M1359 2557l14-6-1 10-13 6z"/>
<path color=#e3ff1c d="M1216 2651l17 1-13-4-17-1z"/>
<path color=#ff6700 d="M1391 2514l6-3 0 1-6 2z"/>
<path color=#eeff11 d="M1300 2640l17-7-3 10-18 7z"/>
<path color=#ffb900 d="M1023 2575l5 7-26-7-5-6z"/>
<path color=#ff7600 d="M1383 2522l8-4 0 9-8 4z"/>
<path color=#fff900 d="M1136 2625l9 4-20-6-9-4z"/>
<path color=#ff3e00 d="M898 2480l2 21-4-14-2-28z"/>
<path color=#ff3f00 d="M898 2502l0-22-4-21 0 29z"/>
<path color=#f5ff0a d="M1170 2636l8 4-7-2-8-4z"/>
<path color=#ff8500 d="M1373 2535l10-4 0 7-10 5z"/>
<path color=#ffc000 d="M811 2572l76 9 49 8-68-8z"/>
<path color=#ffc900 d="M1053 2588l5 7-25-6-5-7z"/>
<path color=#ffe900 d="M1110 2613l6 6-22-6-6-6z"/>
<path color=#daff25 d="M1276 2661l16-7-6 1-16 6z"/>
<path color=#ffd900 d="M1081 2601l7 6-23-6-6-5z"/>
<path color=#ff6b00 d="M1384 2518l7-4 0 4-8 4z"/>
<path color=#f4ff0b d="M1180 2638l8 5-10-3-8-4z"/>
<path color=#e2ff1d d="M1228 2654l16 1-11-3-17-1z"/>
<path color=#ffc000 d="M898 2578l40 2 40 7-37-1z"/>
<path color=#ff7300 d="M949 2509l4 25-5 3-3-19z"/>
<path color=#ff6700 d="M1384 2518l7-4 0 0-7 4z"/>
<path color=#ffb700 d="M1340 2576l19-9-1 10-19 9z"/>
<path color=#ff9400 d="M1360 2549l13-6 0 8-14 6z"/>
<path color=#ff7300 d="M949 2535l0-26-4 9 0 21z"/>
<path color=#ffc000 d="M938 2580l25-1 37 7-22 1z"/>
<path color=#ff9c00 d="M996 2552l5 18-19-5-6-27z"/>
<path color=#ffde00 d="M1321 2605l18-8-1 10-18 9z"/>
<path color=#ffbe00 d="M963 2579l16-1 35 7-14 1z"/>
<path color=#e0ff1f d="M1280 2657l16-7-4 4-16 7z"/>
<path color=#ffca00 d="M1055 2588l4 8-1-1-5-7z"/>
<path color=#fffb00 d="M1155 2630l8 4-18-5-9-4z"/>
<path color=#ff7600 d="M1374 2526l9-4 0 9-10 4z"/>
<path color=#ffff00 d="M1301 2632l17-8-1 9-17 7z"/>
<path color=#ff9b00 d="M996 2571l0-19-20-14 0 28z"/>
<path color=#ffb700 d="M979 2578l14-8 34 7-13 8z"/>
<path color=#e1ff1e d="M1238 2657l16 1-10-3-16-1z"/>
<path color=#ff2200 d="M892 2450l2 23-3 6-2-21z"/>
<path color=#ffc000 d="M782 2569l135 20 66 9-115-16z"/>
<path color=#ff2300 d="M892 2474l0-24-3 8 0 22z"/>
<path color=#f2ff0d d="M1195 2642l8 5-15-4-8-5z"/>
<path color=#ff8200 d="M976 2538l3 13-13-9-3-20z"/>
<path color=#ff2200 d="M894 2459l2 21-2-7-2-23z"/>
<path color=#ff2300 d="M894 2481l0-22-2-9 0 24z"/>
<path color=#ffec00 d="M1130 2618l6 7-20-6-6-6z"/>
<path color=#ff6a00 d="M951 2505l3 27-1 2-4-25z"/>
<path color=#ffbb00 d="M1049 2581l4 7-25-6-5-7z"/>
<path color=#ff7300 d="M963 2522l3 20-8-7-3-24z"/>
<path color=#ff8200 d="M976 2552l0-14-13-16 0 21z"/>
<path color=#ff6a00 d="M951 2533l0-28-2 4 0 26z"/>
<path color=#ff7300 d="M963 2543l0-21-8-11 0 25z"/>
<path color=#ff8600 d="M1360 2541l13-6 0 8-13 6z"/>
<path color=#ff6a00 d="M955 2511l3 24-4-3-3-27z"/>
<path color=#ffdb00 d="M1104 2607l6 6-22-6-7-6z"/>
<path color=#ffcb00 d="M1077 2594l4 7-22-5-4-8z"/>
<path color=#ff6b00 d="M1374 2522l10-4-1 4-9 4z"/>
<path color=#e0ff1f d="M1247 2659l15 1-8-2-16-1z"/>
<path color=#fffd00 d="M1161 2631l9 5-7-2-8-4z"/>
<path color=#ff6a00 d="M955 2536l0-25-4-6 0 28z"/>
<path color=#ffa500 d="M1341 2566l18-9 0 10-19 9z"/>
<path color=#ff6700 d="M1374 2522l10-4 0 0-10 4z"/>
<path color=#ffcb00 d="M1322 2595l17-9 0 11-18 8z"/>
<path color=#fff000 d="M1303 2624l17-8-2 8-17 8z"/>
<path color=#eeff11 d="M1284 2647l16-7-4 10-16 7z"/>
<path color=#ffc000 d="M887 2581l54 5 44 7-49-4z"/>
<path color=#f1ff0e d="M1209 2646l7 5-13-4-8-5z"/>
<path color=#fffe00 d="M1172 2634l8 4-10-2-9-5z"/>
<path color=#dfff20 d="M1255 2660l15 1-8-1-15-1z"/>
<path color=#ff9f00 d="M1026 2554l5 23-30-7-5-18z"/>
<path color=#ffbb00 d="M1050 2581l5 7-2 0-4-7z"/>
<path color=#ff9e00 d="M1026 2577l0-23-30-2 0 19z"/>
<path color=#ffc000 d="M851 2579l74 11 56 8-64-9z"/>
<path color=#ff7700 d="M1360 2532l14-6-1 9-13 6z"/>
<path color=#ffee00 d="M1149 2623l6 7-19-5-6-7z"/>
<path color=#ffc000 d="M868 2581l68 8 49 8-60-7z"/>
<path color=#e0ff1f d="M1261 2661l15 0-6 0-15-1z"/>
<path color=#efff10 d="M1221 2649l7 5-12-3-7-5z"/>
<path color=#ffc000 d="M941 2586l37 1 39 7-32-1z"/>
<path color=#ffdd00 d="M1125 2612l5 6-20-5-6-6z"/>
<path color=#ff9500 d="M1341 2558l19-9-1 8-18 9z"/>
<path color=#ffff00 d="M1187 2638l8 4-15-4-8-4z"/>
<path color=#ffc000 d="M978 2587l22-1 36 7-19 1z"/>
<path color=#ffbe00 d="M1000 2586l14-1 35 6-13 2z"/>
<path color=#ffbc00 d="M1073 2586l4 8-22-6-5-7z"/>
<path color=#ffcd00 d="M1100 2599l4 8-23-6-4-7z"/>
<path color=#ffdf00 d="M1304 2614l17-9-1 11-17 8z"/>
<path color=#ffb800 d="M1322 2585l18-9-1 10-17 9z"/>
<path color=#feff01 d="M1285 2639l16-7-1 8-16 7z"/>
<path color=#ff6b00 d="M1360 2529l14-7 0 4-14 6z"/>
<path color=#ffb700 d="M1014 2585l13-8 34 7-12 7z"/>
<path color=#ffef00 d="M1156 2625l5 6-6-1-6-7z"/>
<path color=#e5ff1a d="M1266 2659l14-2-4 4-15 0z"/>
<path color=#eeff11 d="M1231 2652l7 5-10-3-7-5z"/>
<path color=#ff6800 d="M1360 2528l14-6 0 0-14 7z"/>
<path color=#ffa300 d="M1049 2556l3 26-21-5-3-12z"/>
<path color=#fdff02 d="M1201 2642l8 4-14-4-8-4z"/>
<path color=#fff000 d="M1167 2628l5 6-11-3-5-6z"/>
<path color=#ff8700 d="M1341 2550l19-9 0 8-19 9z"/>
<path color=#edff12 d="M1240 2654l7 5-9-2-7-5z"/>
<path color=#ffdf00 d="M1144 2617l5 6-19-5-5-6z"/>
<path color=#ffa000 d="M1047 2581l0-25-21 9 0 12z"/>
<path color=#fff100 d="M1287 2631l16-7-2 8-16 7z"/>
<path color=#efff10 d="M1270 2654l14-7-4 10-14 2z"/>
<path color=#ffce00 d="M1121 2604l4 8-21-5-4-8z"/>
<path color=#ffcc00 d="M1305 2603l17-8-1 10-17 9z"/>
<path color=#ffa600 d="M1323 2574l18-8-1 10-18 9z"/>
<path color=#ffc000 d="M936 2589l49 4 42 7-42-3z"/>
<path color=#ffbd00 d="M1096 2592l4 7-23-5-4-8z"/>
<path color=#ecff13 d="M1248 2656l7 4-8-1-7-5z"/>
<path color=#fcff03 d="M1214 2645l7 4-12-3-8-4z"/>
<path color=#ffa200 d="M1058 2561l2 22-8-1-2-17z"/>
<path color=#fff100 d="M1183 2631l4 7-15-4-5-6z"/>
<path color=#ffc000 d="M868 2582l115 16 62 10-92-14z"/>
<path color=#ff7700 d="M1342 2541l18-9 0 9-19 9z"/>
<path color=#ffe000 d="M1151 2618l5 7-7-2-5-6z"/>
<path color=#ecff13 d="M1254 2657l7 4-6-1-7-4z"/>
<path color=#ffc000 d="M985 2593l32 1 38 6-28 0z"/>
<path color=#ff9f00 d="M1055 2583l0-23-8 4 0 17z"/>
<path color=#ffbe00 d="M1036 2593l13-2 34 7-11 2z"/>
<path color=#fbff04 d="M1224 2647l7 5-10-3-7-4z"/>
<path color=#ffc000 d="M1017 2594l19-1 36 7-17 0z"/>
<path color=#ffc000 d="M925 2590l60 7 47 7-51-6z"/>
<path color=#fdff02 d="M1271 2649l14-10-1 8-14 7z"/>
<path color=#ffe100 d="M1162 2621l5 7-11-3-5-7z"/>
<path color=#ff9e00 d="M1066 2557l2 28-8-2-2-22z"/>
<path color=#fff300 d="M1197 2635l4 7-14-4-4-7z"/>
<path color=#ffe000 d="M1288 2621l16-7-1 10-16 7z"/>
<path color=#ffb700 d="M1049 2591l12-7 32 6-10 8z"/>
<path color=#efff10 d="M1259 2656l7 3-5 2-7-4z"/>
<path color=#ff9600 d="M1323 2566l18-8 0 8-18 8z"/>
<path color=#ffc000 d="M917 2589l64 9 54 8-52-8z"/>
<path color=#ffd000 d="M1141 2609l3 8-19-5-4-8z"/>
<path color=#ff6c00 d="M1342 2537l18-8 0 3-18 9z"/>
<path color=#ffba00 d="M1305 2593l17-8 0 10-17 8z"/>
<path color=#faff05 d="M1233 2650l7 4-9-2-7-5z"/>
<path color=#ffbf00 d="M1117 2596l4 8-21-5-4-7z"/>
<path color=#ff6800 d="M1342 2536l18-8 0 1-18 8z"/>
<path color=#ff9f00 d="M1076 2559l2 28-10-2-1-21z"/>
<path color=#ff8100 d="M1047 2531l2 25-21 9-2-11z"/>
<path color=#ff9a00 d="M1063 2584l0-28-8 4 0 23z"/>
<path color=#ffe200 d="M1178 2625l5 6-16-3-5-7z"/>
<path color=#ff8000 d="M1047 2556l0-25-21 23 0 11z"/>
<path color=#fff500 d="M1272 2644l15-13-2 8-14 10z"/>
<path color=#fff400 d="M1209 2638l5 7-13-3-4-7z"/>
<path color=#f9ff06 d="M1241 2652l7 4-8-2-7-4z"/>
<path color=#ffa000 d="M1081 2563l1 25-4-1-1-22z"/>
<path color=#ffd100 d="M1147 2610l4 8-7-1-3-8z"/>
<path color=#ffa000 d="M1083 2566l1 23-2-1-1-25z"/>
<path color=#ff8800 d="M1324 2558l17-8 0 8-18 8z"/>
<path color=#ff9b00 d="M1073 2586l0-28-10 5 0 21z"/>
<path color=#f9ff06 d="M1248 2653l6 4-6-1-7-4z"/>
<path color=#ffce00 d="M1289 2611l16-8-1 11-16 7z"/>
<path color=#ffa000 d="M1088 2568l1 22-5-1-1-28z"/>
<path color=#ffc000 d="M985 2597l42 3 40 6-35-2z"/>
<path color=#fff500 d="M1220 2640l4 7-10-2-5-7z"/>
<path color=#ffe400 d="M1281 2629l7-8-1 10-7 6z"/>
<path color=#ffd200 d="M1158 2613l4 8-11-3-4-8z"/>
<path color=#ffa700 d="M1306 2582l17-8-1 11-17 8z"/>
<path color=#ff9c00 d="M1077 2587l0-25-4 2 0 22z"/>
<path color=#fbff04 d="M1257 2650l13 4-4 5-13-7z"/>
<path color=#ffe400 d="M1192 2628l5 7-14-4-5-6z"/>
<path color=#ff7f00 d="M1057 2538l1 23-8 4-1-17z"/>
<path color=#ffc000 d="M1137 2600l4 9-20-5-4-8z"/>
<path color=#ffa400 d="M1096 2575l2 17-5-1-1-23z"/>
<path color=#ff9f00 d="M1092 2568l1 23-4-1-2-29z"/>
<path color=#fbff04 d="M1253 2652l6 4-5 1-6-4z"/>
<path color=#ff9c00 d="M1079 2587l0-22-2-3 0 25z"/>
<path color=#ffbe00 d="M1072 2600l11-2 32 5-10 3z"/>
<path color=#ffc000 d="M1027 2600l28 0 36 6-24 0z"/>
<path color=#ffc000 d="M1055 2600l17 0 33 6-14 0z"/>
<path color=#ff7d00 d="M1055 2560l0-22-8 10 0 16z"/>
<path color=#fff600 d="M1229 2643l4 7-9-3-4-7z"/>
<path color=#ffeb00 d="M1274 2637l7-8-1 8-8 7z"/>
<path color=#ff9b00 d="M1084 2588l0-21-5-7 0 27z"/>
<path color=#ffb700 d="M1083 2598l10-8 31 6-9 7z"/>
<path color=#ff7800 d="M1324 2549l18-8-1 9-17 8z"/>
<path color=#ffa500 d="M1107 2582l2 12-11-2-3-26z"/>
<path color=#ffd300 d="M1175 2616l3 9-16-4-4-8z"/>
<path color=#ff9f00 d="M1093 2590l0-17-4-6 0 22z"/>
<path color=#ffc000 d="M981 2598l51 6 44 7-41-5z"/>
<path color=#ffe500 d="M1205 2631l4 7-12-3-5-7z"/>
<path color=#ff9a00 d="M1089 2589l0-22-5-7 0 28z"/>
<path color=#ffc000 d="M1144 2602l3 8-6-1-4-9z"/>
<path color=#fff700 d="M1237 2644l4 8-8-2-4-7z"/>
<path color=#fff800 d="M1260 2645l12-1-2 10-13-4z"/>
<path color=#ffbb00 d="M1290 2601l15-8 0 10-16 8z"/>
<path color=#ffd400 d="M1282 2621l7-10-1 10-7 8z"/>
<path color=#ff9700 d="M1306 2574l17-8 0 8-17 8z"/>
<path color=#ffa000 d="M1105 2592l0-11-12-16 0 25z"/>
<path color=#ff6c00 d="M1324 2545l18-8 0 4-18 8z"/>
<path color=#ffc000 d="M953 2594l92 14 57 8-67-10z"/>
<path color=#fff700 d="M1244 2646l4 7-7-1-4-8z"/>
<path color=#ffc100 d="M1155 2604l3 9-11-3-3-8z"/>
<path color=#ffde00 d="M1275 2631l7-10-1 8-7 8z"/>
<path color=#ffc000 d="M983 2598l52 8 51 7-41-5z"/>
<path color=#ffe600 d="M1216 2633l4 7-11-2-4-7z"/>
<path color=#ff6900 d="M1324 2544l18-8 0 1-18 8z"/>
<path color=#ff7000 d="M1065 2528l1 29-8 4-1-23z"/>
<path color=#ffd400 d="M1189 2619l3 9-14-3-3-9z"/>
<path color=#fff600 d="M1249 2646l4 6-5 1-4-7z"/>
<path color=#ffed00 d="M1261 2642l13-5-2 7-12 1z"/>
<path color=#ffa200 d="M1123 2577l4 21-18-4-4-25z"/>
<path color=#ff7300 d="M1075 2531l1 28-9 5-1-22z"/>
<path color=#ff6e00 d="M1063 2556l0-28-8 10 0 22z"/>
<path color=#ff8800 d="M1307 2566l17-8-1 8-17 8z"/>
<path color=#ffc000 d="M1032 2604l35 2 38 6-29-1z"/>
<path color=#ffac00 d="M1138 2586l2 15-13-3-2-10z"/>
<path color=#ffe700 d="M1225 2636l4 7-9-3-4-7z"/>
<path color=#ff7600 d="M1080 2539l1 24-4 2-1-22z"/>
<path color=#ffbe00 d="M1105 2606l10-3 30 6-8 2z"/>
<path color=#ffc300 d="M1282 2612l8-11-1 10-7 10z"/>
<path color=#ffc200 d="M1171 2608l4 8-17-3-3-9z"/>
<path color=#ffa900 d="M1290 2591l16-9-1 11-15 8z"/>
<path color=#ffc000 d="M1091 2606l14 0 32 5-12 1z"/>
<path color=#ff7600 d="M1082 2544l1 22-2-3-1-24z"/>
<path color=#fff300 d="M1253 2644l4 6-4 2-4-6z"/>
<path color=#ff9e00 d="M1123 2596l0-19-18-8 0 23z"/>
<path color=#ffc000 d="M1067 2606l24 0 34 6-20 0z"/>
<path color=#ffd100 d="M1275 2624l7-12 0 9-7 10z"/>
<path color=#ffd500 d="M1202 2622l3 9-13-3-3-9z"/>
<path color=#ffb700 d="M1115 2603l9-7 29 5-8 8z"/>
<path color=#ff7000 d="M1073 2558l0-27-10 11 0 21z"/>
<path color=#ffe400 d="M1262 2639l13-8-1 6-13 5z"/>
<path color=#ffe800 d="M1233 2637l4 7-8-1-4-7z"/>
<path color=#ff5b00 d="M1055 2515l2 23-8 10-2-17z"/>
<path color=#ff8000 d="M1095 2557l1 18-4-7-2-23z"/>
<path color=#ff7300 d="M1077 2562l0-24-4 4 0 22z"/>
<path color=#ff5a00 d="M1055 2538l0-23-8 16 0 17z"/>
<path color=#ff7300 d="M1087 2547l1 21-5-7-1-28z"/>
<path color=#ff7300 d="M1079 2565l0-22-2-5 0 24z"/>
<path color=#ffa900 d="M1147 2584l2 19-9-2-2-15z"/>
<path color=#ffec00 d="M1256 2641l4 4-3 5-4-6z"/>
<path color=#ffe800 d="M1239 2639l5 7-7-2-4-7z"/>
<path color=#ffd500 d="M1213 2624l3 9-11-2-3-9z"/>
<path color=#ff7d00 d="M1093 2573l0-16-4-13 0 23z"/>
<path color=#ff7900 d="M1307 2556l17-7 0 9-17 8z"/>
<path color=#ffc200 d="M1186 2611l3 8-14-3-4-8z"/>
<path color=#ff8200 d="M1105 2569l2 13-12-16-2-26z"/>
<path color=#ffdb00 d="M1263 2635l12-11 0 7-13 8z"/>
<path color=#ffc000 d="M1035 2606l41 5 41 6-31-4z"/>
<path color=#ffc300 d="M1276 2618l7-14-1 8-7 12z"/>
<path color=#ff7000 d="M1084 2567l0-21-5-14 0 28z"/>
<path color=#ffb200 d="M1283 2604l7-13 0 10-8 11z"/>
<path color=#ff8000 d="M1105 2581l0-12-12-29 0 25z"/>
<path color=#ff7000 d="M1090 2545l2 23-5-7-1-29z"/>
<path color=#ff9800 d="M1291 2583l15-9 0 8-16 9z"/>
<path color=#ffe700 d="M1245 2639l4 7-5 0-5-7z"/>
<path color=#ff9d00 d="M1136 2598l0-26-13 5 0 19z"/>
<path color=#ffd600 d="M1222 2627l3 9-9-3-3-9z"/>
<path color=#ffa500 d="M1153 2581l2 23-6-1-2-19z"/>
<path color=#ffa300 d="M1145 2600l0-18-9 3 0 13z"/>
<path color=#ff6e00 d="M1089 2567l0-23-5-12 0 28z"/>
<path color=#ff9500 d="M1136 2572l2 14-13 2-2-11z"/>
<path color=#ffe500 d="M1249 2638l4 6-4 2-4-7z"/>
<path color=#ffd200 d="M1263 2632l13-14-1 6-12 11z"/>
<path color=#ffbe00 d="M1137 2611l8-2 27 4-7 3z"/>
<path color=#ff6d00 d="M1307 2552l17-7 0 4-17 7z"/>
<path color=#ffc300 d="M1199 2613l3 9-13-3-3-8z"/>
<path color=#ffa300 d="M1155 2580l2 25-2-1-2-23z"/>
<path color=#ffc000 d="M1125 2612l12-1 28 5-10 1z"/>
<path color=#ffb700 d="M1145 2609l8-8 26 5-7 7z"/>
<path color=#ffc000 d="M1076 2611l29 1 35 6-23-1z"/>
<path color=#ffb700 d="M1276 2612l8-15-1 7-7 14z"/>
<path color=#ffd700 d="M1230 2628l3 9-8-1-3-9z"/>
<path color=#ffc000 d="M1045 2608l41 5 45 7-29-4z"/>
<path color=#ff6900 d="M1307 2552l17-8 0 1-17 7z"/>
<path color=#ffa300 d="M1158 2582l2 23-3 0-2-25z"/>
<path color=#ffc000 d="M1105 2612l20 0 30 5-15 1z"/>
<path color=#ffe100 d="M1252 2637l4 4-3 3-4-6z"/>
<path color=#ffa600 d="M1164 2587l2 19-6-1-2-23z"/>
<path color=#ffdf00 d="M1254 2634l8 5-2 6-8-8z"/>
<path color=#ffa400 d="M1284 2597l7-14-1 8-7 13z"/>
<path color=#ff8a00 d="M1291 2575l16-9-1 8-15 9z"/>
<path color=#ff9f00 d="M1151 2601l0-22-6 3 0 18z"/>
<path color=#ffc100 d="M1271 2617l6-10-1 11-6 7z"/>
<path color=#ffd700 d="M1237 2629l2 10-6-2-3-9z"/>
<path color=#ffc400 d="M1210 2615l3 9-11-2-3-9z"/>
<path color=#ffaa00 d="M1175 2594l2 15-11-3-2-19z"/>
<path color=#ffc000 d="M1035 2606l67 10 50 7-43-6z"/>
<path color=#ff4200 d="M1063 2500l2 28-8 10-2-23z"/>
<path color=#ffcb00 d="M1264 2626l7-9-1 8-7 7z"/>
<path color=#ff9d00 d="M1153 2601l0-23-2 1 0 22z"/>
<path color=#ffac00 d="M1277 2607l7-16 0 6-8 15z"/>
<path color=#ff4100 d="M1063 2528l0-28-8 15 0 23z"/>
<path color=#ffd700 d="M1242 2630l3 9-6 0-2-10z"/>
<path color=#ff4700 d="M1074 2503l1 28-9 11-2-21z"/>
<path color=#ff9d00 d="M1156 2602l0-22-3-2 0 23z"/>
<path color=#ff4c00 d="M1079 2514l1 25-4 4-1-23z"/>
<path color=#ffd600 d="M1256 2631l7 1-1 7-8-5z"/>
<path color=#ff9f00 d="M1163 2603l0-18-7-5 0 22z"/>
<path color=#ffae00 d="M1190 2600l2 12-15-3-2-15z"/>
<path color=#ffc400 d="M1220 2617l2 10-9-3-3-9z"/>
<path color=#ff5b00 d="M1093 2540l2 17-5-12-1-23z"/>
<path color=#ff4c00 d="M1081 2522l1 22-2-5-1-25z"/>
<path color=#ff8a00 d="M1145 2564l2 20-9 2-2-14z"/>
<path color=#ff4500 d="M1073 2531l0-28-10 18 0 21z"/>
<path color=#ff9700 d="M1284 2591l7-16 0 8-7 14z"/>
<path color=#ffd600 d="M1246 2630l3 8-4 1-3-9z"/>
<path color=#ff5a00 d="M1093 2557l0-17-4-18 0 22z"/>
<path color=#ffa300 d="M1174 2605l0-13-11-7 0 18z"/>
<path color=#ff4a00 d="M1077 2538l0-25-4 7 0 22z"/>
<path color=#ffb400 d="M1271 2612l6-11 0 6-6 10z"/>
<path color=#ffbe00 d="M1165 2616l7-3 24 5-5 2z"/>
<path color=#ff7a00 d="M1291 2565l16-9 0 10-16 9z"/>
<path color=#ffc000 d="M1086 2613l31 4 37 5-23-2z"/>
<path color=#ff8800 d="M1145 2582l0-18-9 8 0 13z"/>
<path color=#ffc100 d="M1265 2623l6-11 0 5-7 9z"/>
<path color=#ffa500 d="M1277 2601l5-12 0 7-5 11z"/>
<path color=#ffb700 d="M1172 2613l7-7 22 4-5 8z"/>
<path color=#ff4a00 d="M1079 2543l0-22-2-8 0 25z"/>
<path color=#ffc000 d="M1155 2617l10-1 26 4-8 1z"/>
<path color=#ffce00 d="M1257 2629l7-3-1 6-7-1z"/>
<path color=#ffc500 d="M1228 2619l2 9-8-1-2-10z"/>
<path color=#ffd300 d="M1250 2629l2 8-3 1-3-8z"/>
<path color=#ffbc00 d="M1265 2622l6-12 0 2-6 11z"/>
<path color=#ff4700 d="M1086 2525l1 22-5-14-1-28z"/>
<path color=#ffad00 d="M1271 2610l6-12 0 3-6 11z"/>
<path color=#ff9500 d="M1282 2589l5-12-1 8-4 11z"/>
<path color=#ffba00 d="M1265 2621l6-11 0 0-6 12z"/>
<path color=#ffc000 d="M1140 2618l15-1 28 4-12 1z"/>
<path color=#ffc000 d="M1117 2617l23 1 31 4-17 0z"/>
<path color=#ffab00 d="M1271 2610l6-12 0 0-6 12z"/>
<path color=#ffc800 d="M1257 2627l8-4-1 3-7 3z"/>
<path color=#ffc500 d="M1234 2620l3 9-7-1-2-9z"/>
<path color=#ffcf00 d="M1252 2628l2 6-2 3-2-8z"/>
<path color=#ff9c00 d="M1277 2598l5-12 0 3-5 12z"/>
<path color=#ff4500 d="M1084 2546l0-21-5-21 0 28z"/>
<path color=#ff6e00 d="M1292 2561l15-9 0 4-16 9z"/>
<path color=#ffc500 d="M1257 2627l8-5 0 1-8 4z"/>
<path color=#ff8400 d="M1287 2577l4-12 0 10-5 10z"/>
<path color=#ff9a00 d="M1277 2598l5-13 0 1-5 12z"/>
<path color=#ffc400 d="M1257 2627l8-6 0 1-8 5z"/>
<path color=#ff7f00 d="M1151 2558l2 23-6 3-2-20z"/>
<path color=#ffc500 d="M1240 2621l2 9-5-1-3-9z"/>
<path color=#ff6b00 d="M1292 2561l15-9 0 0-15 9z"/>
<path color=#ffcb00 d="M1253 2626l3 5-2 3-2-6z"/>
<path color=#ff9d00 d="M1189 2607l0-18-15-10 0 26z"/>
<path color=#ffc000 d="M1102 2616l29 4 39 6-18-3z"/>
<path color=#ff4200 d="M1089 2522l1 23-4-13-2-28z"/>
<path color=#ff8b00 d="M1282 2586l5-12 0 3-5 12z"/>
<path color=#ff7d00 d="M1151 2579l0-21-6 6 0 18z"/>
<path color=#ffbe00 d="M1191 2620l5-2 20 3-4 3z"/>
<path color=#ff4100 d="M1089 2544l0-22-5-18 0 28z"/>
<path color=#ffc400 d="M1244 2622l2 8-4 0-2-9z"/>
<path color=#ff8800 d="M1282 2585l5-12 0 1-5 12z"/>
<path color=#ffb700 d="M1196 2618l5-8 20 3-5 8z"/>
<path color=#ff8a00 d="M1174 2579l1 15-11-7-1-20z"/>
<path color=#ffa600 d="M1212 2593l3 23-23-4-3-23z"/>
<path color=#ff9600 d="M1189 2589l1 11-15-6-1-15z"/>
<path color=#ffc000 d="M1183 2621l8-1 21 4-6 1z"/>
<path color=#ff7900 d="M1287 2574l5-13-1 4-4 12z"/>
<path color=#ff7f00 d="M1163 2567l1 20-6-5-2-23z"/>
<path color=#ffc300 d="M1247 2622l3 7-4 1-2-8z"/>
<path color=#ff7800 d="M1153 2555l2 25-2 1-2-23z"/>
<path color=#ff8800 d="M1174 2592l0-13-11-12 0 18z"/>
<path color=#ff7800 d="M1156 2559l2 23-3-2-2-25z"/>
<path color=#ff7500 d="M1287 2573l5-12 0 0-5 13z"/>
<path color=#ffb000 d="M1229 2605l2 15-16-4-2-11z"/>
<path color=#ff7d00 d="M1163 2585l0-18-7-8 0 21z"/>
<path color=#ffc200 d="M1252 2621l5 8-1 2-5-10z"/>
<path color=#ff7600 d="M1153 2578l0-23-2 3 0 21z"/>
<path color=#ffc000 d="M1131 2620l23 2 31 5-15-1z"/>
<path color=#ffc000 d="M1171 2622l12-1 23 4-9 1z"/>
<path color=#ffc100 d="M1249 2621l3 7-2 1-3-7z"/>
<path color=#ffc000 d="M1109 2617l43 6 40 6-22-3z"/>
<path color=#ffa100 d="M1212 2611l0-18-23-4 0 18z"/>
<path color=#ff7600 d="M1156 2580l0-21-3-4 0 23z"/>
<path color=#ffc000 d="M1252 2621l5 6 0 2-5-8z"/>
<path color=#ffc000 d="M1154 2622l17 0 26 4-12 1z"/>
<path color=#ffbf00 d="M1253 2620l4 7 0 0-5-6z"/>
<path color=#ffbf00 d="M1251 2621l2 5-1 2-3-7z"/>
<path color=#ffbe00 d="M1253 2620l4 7 0 0-4-7z"/>
<path color=#ffbe00 d="M1212 2624l4-3 16 3-4 2z"/>
<path color=#ff2200 d="M1078 2489l1 25-4 6-1-22z"/>
<path color=#ffb700 d="M1216 2621l5-8 15 3-4 8z"/>
<path color=#ff1b00 d="M1073 2475l1 28-10 18-1-21z"/>
<path color=#ff1a00 d="M1073 2503l0-28-10 25 0 21z"/>
<path color=#ff2200 d="M1080 2499l1 23-2-8-1-25z"/>
<path color=#ffc000 d="M1206 2625l6-1 16 2-4 2z"/>
<path color=#ff2100 d="M1077 2513l0-24-4 9 0 22z"/>
<path color=#ffad00 d="M1241 2604l1 18-11-2-2-15z"/>
<path color=#ff2100 d="M1079 2521l0-22-2-10 0 24z"/>
<path color=#ffbe00 d="M1228 2626l4-2 11 1-3 3z"/>
<path color=#ffc000 d="M1197 2626l9-1 18 3-7 2z"/>
<path color=#ffc000 d="M1152 2623l18 3 31 4-9-1z"/>
<path color=#ffb700 d="M1232 2624l4-8 10 1-3 8z"/>
<path color=#ff9e00 d="M1228 2614l0-23-16 2 0 18z"/>
<path color=#ff1b00 d="M1084 2504l2 21-5-20-2-28z"/>
<path color=#ffc000 d="M1224 2628l4-2 12 2-4 2z"/>
<path color=#ffc000 d="M1185 2627l12-1 20 4-7 1z"/>
<path color=#ffbe00 d="M1240 2628l3-3 4 1-3 3z"/>
<path color=#ff1a00 d="M1084 2525l0-21-5-27 0 27z"/>
<path color=#ffc000 d="M1170 2626l15 1 25 4-9-1z"/>
<path color=#ffb700 d="M1243 2625l3-8 4 1-3 8z"/>
<path color=#ff9800 d="M1228 2591l1 14-16 0-1-12z"/>
<path color=#ffa900 d="M1248 2601l1 20-7 1-1-18z"/>
<path color=#ffa500 d="M1240 2616l0-15-12 1 0 12z"/>
<path color=#ffc000 d="M1236 2630l4-2 4 1-3 2z"/>
<path color=#ffc000 d="M1217 2630l7-2 12 2-5 2z"/>
<path color=#ffc000 d="M1170 2626l22 3 28 4-7-1z"/>
<path color=#ffa600 d="M1251 2600l2 20-4 1-1-20z"/>
<path color=#ffc000 d="M1231 2632l5-2 5 1-5 2z"/>
<path color=#ffc000 d="M1210 2631l7-1 14 2-5 1z"/>
<path color=#ffa200 d="M1247 2617l0-18-7 2 0 15z"/>
<path color=#ffc000 d="M1192 2629l9 1 22 4-3-1z"/>
<path color=#ffc000 d="M1201 2630l9 1 16 2-3 1z"/>
<path color=#ffa000 d="M1250 2618l0-19-3 0 0 18z"/>
<path color=#ff9000 d="M1240 2585l1 19-12 1-1-14z"/>
<path color=#ffc000 d="M1226 2633l5-1 5 1-3 1z"/>
<path color=#f70505 d="M1077 2464l1 25-4 9-1-23z"/>
<path color=#ff8d00 d="M1240 2601l0-16-12 6 0 11z"/>
<path color=#f70506 d="M1077 2489l0-25-4 11 0 23z"/>
<path color=#ffc000 d="M1223 2634l3-1 7 1-2 1z"/>
<path color=#ffc000 d="M1213 2632l7 1 11 2 0 0z"/>
<path color=#ffc000 d="M1220 2633l3 1 8 1 0 0z"/>
<path color=#f70505 d="M1079 2477l1 22-2-10-1-25z"/>
<path color=#f70506 d="M1079 2499l0-22-2-13 0 25z"/>
<path color=#ff8700 d="M1247 2581l1 20-7 3-1-19z"/>
<path color=#ff8400 d="M1247 2599l0-18-7 4 0 16z"/>
<path color=#ff8100 d="M1250 2579l1 21-3 1-1-20z"/>
<path color=#ff7f00 d="M1250 2599l0-20-3 2 0 18z"/></g>
<linearGradient id="gcur" x1="0" y1="0" x2="0" y2="1"><stop offset="0" stop-color="#90e8b0"/><stop offset=".3" stop-color="#40e6dc"/><stop offset=".7" stop-color="#26d0ee"/><stop offset="1" stop-color="#3a88e0"/></linearGradient>
<linearGradient id="gflap" x1="0" y1="0" x2="0" y2="1"><stop offset="0" stop-color="#ffb000"/><stop offset=".35" stop-color="#fae000"/><stop offset=".75" stop-color="#d8f020"/><stop offset="1" stop-color="#a8ec50"/></linearGradient>
<linearGradient id="gspk" x1="0" y1="0" x2="0" y2="1"><stop offset="0" stop-color="#5a9ad0"/><stop offset="1" stop-color="#3060b8"/></linearGradient>
<path fill="url(#gcur)" d="M312.4 495L290 504.5L276 512.5Q284 519 291 527Q295 532 297.3 537Q300 530 304 524Q308 518.5 312.4 514Z"/>
<linearGradient id="gflap2" x1="1" y1="0" x2=".25" y2="1"><stop offset="0" stop-color="#ff9000"/><stop offset=".3" stop-color="#ffb400"/><stop offset=".55" stop-color="#fbdc00"/><stop offset=".8" stop-color="#e4ee18"/><stop offset="1" stop-color="#b4ea48"/></linearGradient>
<path fill="url(#gflap2)" d="M237 511Q255 502 275 497L295 492L312 488.5L331 482.5L331 486.5L312 495L290 504.5L276 512.5Q271 521 266 529Q258 537 252.8 547.5L248.5 535L246 524L237 516Z"/>
<path fill="url(#gspk)" d="M240.9 540L244.1 540L243.3 556L242.5 567L241.7 556Z"/>
<line class="b" x1="47.4" y1="589.4" x2="312.4" y2="628.4"/>
<line class="b" x1="312.4" y1="628.4" x2="465.4" y2="561.4"/>
<line class="b" x1="47.4" y1="589.4" x2="47.4" y2="456"/>
<line class="b" x1="312.4" y1="628.4" x2="312.4" y2="495"/>
<line class="b" x1="47.4" y1="456" x2="312.4" y2="495"/>
<line class="b" x1="312.4" y1="495" x2="465.4" y2="428"/>
<line class="b" x1="47.4" y1="589.4" x2="41.2" y2="589.4"/>
<line class="b" x1="47.4" y1="562.7" x2="41.2" y2="562.7"/>
<line class="b" x1="47.4" y1="536" x2="41.2" y2="536"/>
<line class="b" x1="47.4" y1="509.4" x2="41.2" y2="509.4"/>
<line class="b" x1="47.4" y1="482.7" x2="41.2" y2="482.7"/>
<line class="b" x1="47.4" y1="456" x2="41.2" y2="456"/>
<line class="b" x1="47.4" y1="589.4" x2="41" y2="592.2"/>
<line class="b" x1="113.7" y1="599.1" x2="107.2" y2="602"/>
<line class="b" x1="179.9" y1="608.9" x2="173.5" y2="611.7"/>
<line class="b" x1="246.1" y1="618.6" x2="239.7" y2="621.5"/>
<line class="b" x1="312.4" y1="628.4" x2="306" y2="631.2"/>
<line class="b" x1="312.4" y1="628.4" x2="318.3" y2="629.3"/>
<line class="b" x1="363.4" y1="606.1" x2="369.3" y2="606.9"/>
<line class="b" x1="414.4" y1="583.7" x2="420.3" y2="584.6"/>
<line class="b" x1="465.4" y1="561.4" x2="471.3" y2="562.3"/>
<text class="tk" x="39" y="593.7" text-anchor="end">-4</text>
<text class="tk" x="39" y="567" text-anchor="end">-2</text>
<text class="tk" x="39" y="540.3" text-anchor="end">0</text>
<text class="tk" x="39" y="513.7" text-anchor="end">2</text>
<text class="tk" x="39" y="487" text-anchor="end">4</text>
<text class="tk" x="39" y="460.3" text-anchor="end">6</text>
<text class="tk" x="39.2" y="604.7" text-anchor="end">0</text>
<text class="tk" x="105.5" y="614.4" text-anchor="end">0.2</text>
<text class="tk" x="171.7" y="624.2" text-anchor="end">0.4</text>
<text class="tk" x="237.9" y="633.9" text-anchor="end">0.6</text>
<text class="tk" x="304.2" y="643.7" text-anchor="end">0.8</text>
<text class="tk" x="320.4" y="640.9">0</text>
<text class="tk" x="371.4" y="618.6">0.5</text>
<text class="tk" x="422.4" y="596.2">1</text>
<text class="tk" x="473.4" y="573.9">1.5</text>
<linearGradient id="cbb" x1="0" y1="0" x2="0" y2="1"><stop offset="0.000" stop-color="#843438"/><stop offset="0.021" stop-color="#992f34"/><stop offset="0.042" stop-color="#ae2a30"/><stop offset="0.062" stop-color="#c2252a"/><stop offset="0.083" stop-color="#d7181c"/><stop offset="0.104" stop-color="#eb0c0e"/><stop offset="0.125" stop-color="#ff0000"/><stop offset="0.146" stop-color="#ff1500"/><stop offset="0.167" stop-color="#ff2a00"/><stop offset="0.188" stop-color="#ff4000"/><stop offset="0.208" stop-color="#ff5500"/><stop offset="0.229" stop-color="#ff6a00"/><stop offset="0.250" stop-color="#ff8000"/><stop offset="0.271" stop-color="#ff9500"/><stop offset="0.292" stop-color="#ffaa00"/><stop offset="0.312" stop-color="#ffbf00"/><stop offset="0.333" stop-color="#ffd400"/><stop offset="0.354" stop-color="#ffea00"/><stop offset="0.375" stop-color="#ffff00"/><stop offset="0.396" stop-color="#eaff15"/><stop offset="0.417" stop-color="#d4ff2b"/><stop offset="0.438" stop-color="#bfff40"/><stop offset="0.458" stop-color="#aaff55"/><stop offset="0.479" stop-color="#95ff6a"/><stop offset="0.500" stop-color="#80ff80"/><stop offset="0.521" stop-color="#6aff95"/><stop offset="0.542" stop-color="#55ffaa"/><stop offset="0.562" stop-color="#40ffbf"/><stop offset="0.583" stop-color="#2affd5"/><stop offset="0.604" stop-color="#15ffea"/><stop offset="0.625" stop-color="#00ffff"/><stop offset="0.646" stop-color="#00eaff"/><stop offset="0.667" stop-color="#00d5ff"/><stop offset="0.688" stop-color="#00bfff"/><stop offset="0.708" stop-color="#00aaff"/><stop offset="0.729" stop-color="#0095ff"/><stop offset="0.750" stop-color="#0080ff"/><stop offset="0.771" stop-color="#006aff"/><stop offset="0.792" stop-color="#0055ff"/><stop offset="0.812" stop-color="#0040ff"/><stop offset="0.833" stop-color="#002aff"/><stop offset="0.854" stop-color="#0015ff"/><stop offset="0.875" stop-color="#0000ff"/><stop offset="0.896" stop-color="#0a0aef"/><stop offset="0.917" stop-color="#1313df"/><stop offset="0.938" stop-color="#1d1dcf"/><stop offset="0.958" stop-color="#2727bc"/><stop offset="0.979" stop-color="#3232a9"/><stop offset="1.000" stop-color="#3c3c96"/></linearGradient>
<rect x="476.3" y="389.6" width="11.7" height="238.7" fill="url(#cbb)" class="cb"/>
<line class="t" x1="476.3" y1="628.3" x2="478.5" y2="628.3"/>
<line class="t" x1="485.8" y1="628.3" x2="488" y2="628.3"/>
<text class="tk" x="489.2" y="632.6">-3</text>
<line class="t" x1="476.3" y1="600.8" x2="478.5" y2="600.8"/>
<line class="t" x1="485.8" y1="600.8" x2="488" y2="600.8"/>
<text class="tk" x="489.2" y="605.1">-2</text>
<line class="t" x1="476.3" y1="573.4" x2="478.5" y2="573.4"/>
<line class="t" x1="485.8" y1="573.4" x2="488" y2="573.4"/>
<text class="tk" x="489.2" y="577.7">-1</text>
<line class="t" x1="476.3" y1="545.9" x2="478.5" y2="545.9"/>
<line class="t" x1="485.8" y1="545.9" x2="488" y2="545.9"/>
<text class="tk" x="489.2" y="550.2">0</text>
<line class="t" x1="476.3" y1="518.4" x2="478.5" y2="518.4"/>
<line class="t" x1="485.8" y1="518.4" x2="488" y2="518.4"/>
<text class="tk" x="489.2" y="522.7">1</text>
<line class="t" x1="476.3" y1="491" x2="478.5" y2="491"/>
<line class="t" x1="485.8" y1="491" x2="488" y2="491"/>
<text class="tk" x="489.2" y="495.3">2</text>
<line class="t" x1="476.3" y1="463.5" x2="478.5" y2="463.5"/>
<line class="t" x1="485.8" y1="463.5" x2="488" y2="463.5"/>
<text class="tk" x="489.2" y="467.8">3</text>
<line class="t" x1="476.3" y1="436" x2="478.5" y2="436"/>
<line class="t" x1="485.8" y1="436" x2="488" y2="436"/>
<text class="tk" x="489.2" y="440.3">4</text>
<line class="t" x1="476.3" y1="408.6" x2="478.5" y2="408.6"/>
<line class="t" x1="485.8" y1="408.6" x2="488" y2="408.6"/>
<text class="tk" x="489.2" y="412.9">5</text>
<text class="ti" x="89" y="375.6">log<tspan class="sub2" dy="4.8">10</tspan><tspan dy="-4.8">(Magnitude of Piezoelectric Sensitivity, Eigenmode 2)</tspan></text>
<text class="lb zl" transform="translate(15.5,637) rotate(-90)">log<tspan class="sub2" dy="6.2">10</tspan><tspan dy="-6.2">(Piezoelectic Sensitivity) [&#956; V / pm]</tspan></text>
<text class="lb" x="174.8" y="667.4">d<tspan class="sub" dy="5">tip</tspan><tspan dy="-5"> [mm]</tspan></text>
<text class="lb" x="394.9" y="647.5">L<tspan class="sub" dy="5">tip</tspan><tspan dy="-5"> [mm]</tspan></text>
<text class="pl" x="252" y="700">(b)</text>
</svg>
</body></html>
